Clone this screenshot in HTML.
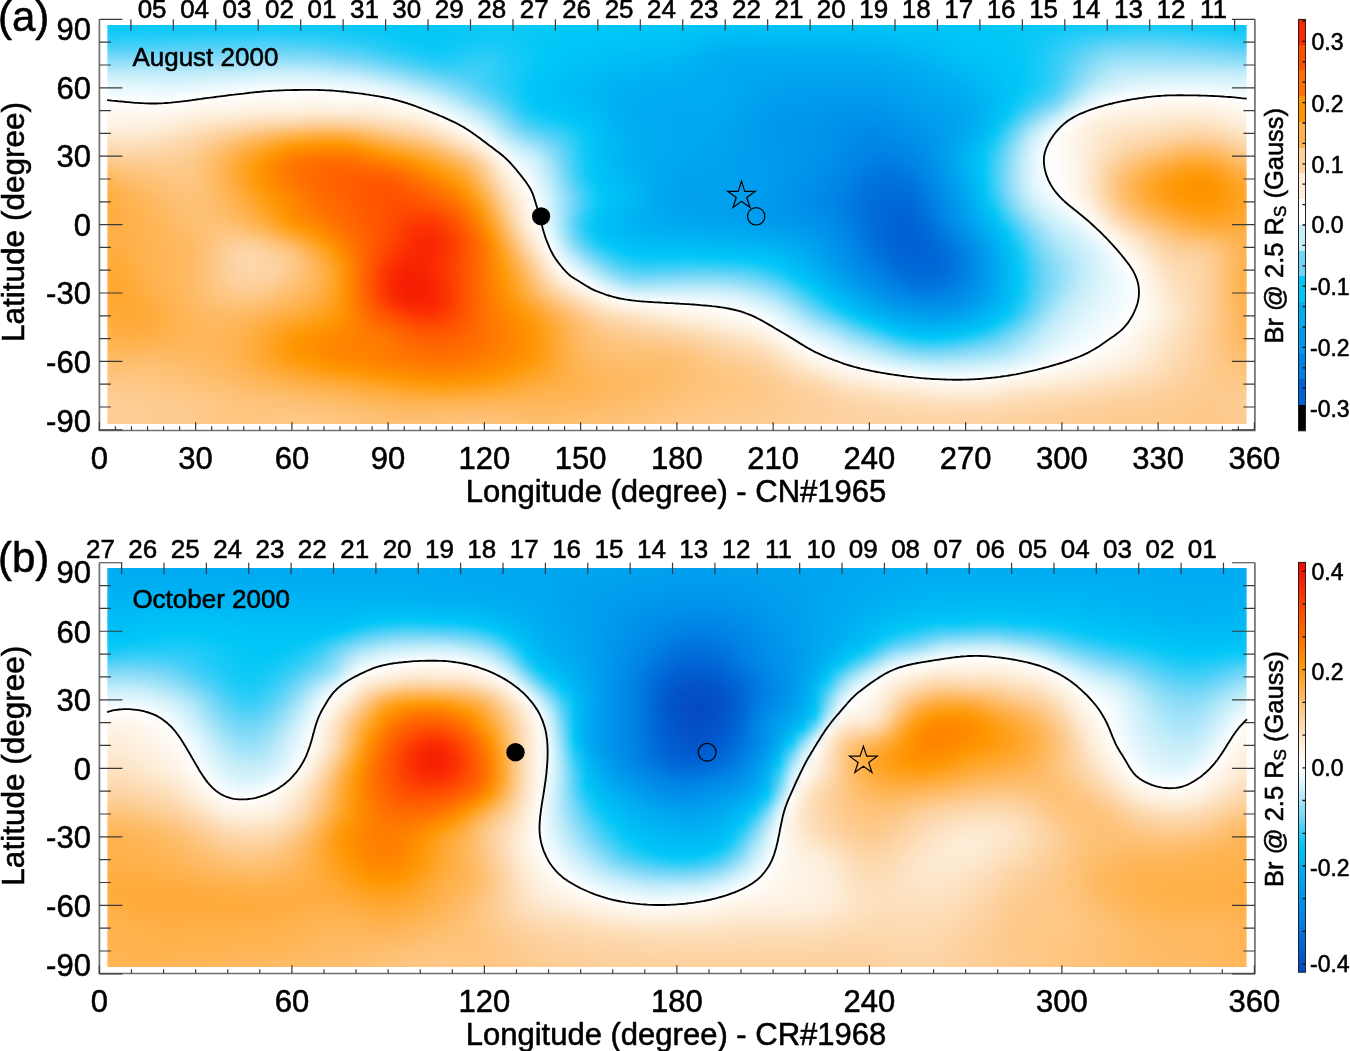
<!DOCTYPE html><html><head><meta charset="utf-8"><style>html,body{margin:0;padding:0;background:#fff}body{width:1350px;height:1051px;overflow:hidden;position:relative;font-family:"Liberation Sans",Arial,Helvetica,sans-serif}.map{position:absolute;overflow:hidden}.rows{filter:blur(1.2px)}.rows i{display:block;height:var(--rh)}.cb{position:absolute}svg{position:absolute;left:0;top:0}text{fill:#000;stroke:#000;stroke-width:.55px}</style></head><body><div class="map" style="left:107.2px;top:25.4px;width:1139.8px;height:398.6px"><div class="rows" style="--rh:3px;margin-top:-3px"><i style="background:linear-gradient(90deg,#06c8f7,#06c8f7,#06c8f7,#07c8f7,#08c8f7,#08c8f7,#09c8f7,#09c8f7,#09c8f7,#0ac8f7,#0ac8f7,#0bc8f7,#0bc8f7,#0bc8f7,#0bc8f7,#0bc8f7,#0bc8f7,#0ac8f7,#09c8f7,#09c8f7,#07c8f7,#06c8f7,#05c8f7,#05c8f7,#03c7f7,#01c7f7,#01c7f7,#03c7f7,#05c8f7,#07c8f7,#09c8f7,#0cc8f7,#0ec9f7,#0fc9f7,#0ec9f7,#0dc9f7,#0bc8f7,#08c8f7,#06c8f7,#04c8f7,#03c7f7,#03c7f7,#03c7f7,#03c7f7,#02c7f7,#01c7f7,#00c7f7,#00c6f7,#00c5f7,#00c5f7,#00c4f6,#00c4f6,#00c4f6,#00c3f6,#00c3f6,#00c4f6,#00c4f6,#00c4f6,#00c4f6,#00c4f6,#00c4f6,#00c4f6,#00c5f7,#00c6f7,#00c6f7,#00c5f7,#00c5f7,#00c5f7,#00c5f7,#00c5f7,#00c6f7,#00c6f7,#00c6f7,#00c7f7,#02c7f7,#04c7f7,#04c8f7,#05c8f7,#06c8f7,#08c8f7,#0ac8f7,#0dc9f7,#0ec9f7,#0fc9f7,#10c9f7,#12c9f7,#12c9f7,#11c9f7,#10c9f7,#10c9f7,#0fc9f7,#0dc9f7,#0bc8f7,#09c8f7,#08c8f7,#07c8f7)"></i><i style="background:linear-gradient(90deg,#09c8f7,#0ac8f7,#0ac8f7,#0bc8f7,#0cc9f7,#0dc9f7,#0dc9f7,#0ec9f7,#0ec9f7,#0fc9f7,#0fc9f7,#10c9f7,#10c9f7,#11c9f7,#11c9f7,#10c9f7,#10c9f7,#0fc9f7,#0ec9f7,#0cc9f7,#0bc8f7,#09c8f7,#08c8f7,#06c8f7,#04c7f7,#02c7f7,#01c7f7,#03c7f7,#05c8f7,#07c8f7,#09c8f7,#0cc8f7,#0ec9f7,#0fc9f7,#0ec9f7,#0cc9f7,#0ac8f7,#08c8f7,#06c8f7,#04c7f7,#02c7f7,#02c7f7,#01c7f7,#01c7f7,#00c7f7,#00c7f7,#00c6f7,#00c6f7,#00c5f7,#00c4f6,#00c3f6,#00c3f6,#00c2f6,#00c2f6,#00c2f6,#00c2f6,#00c2f6,#00c2f6,#00c2f6,#00c2f6,#00c2f6,#00c3f6,#00c3f6,#00c4f6,#00c4f6,#00c4f6,#00c4f6,#00c4f6,#00c4f6,#00c5f7,#00c5f7,#00c6f7,#00c6f7,#00c7f7,#02c7f7,#04c7f7,#05c8f7,#06c8f7,#08c8f7,#0bc8f7,#0ec9f7,#12c9f7,#15caf7,#16caf7,#18caf7,#1acaf7,#1bcaf7,#1acaf7,#19caf7,#17caf7,#16caf7,#13c9f7,#11c9f7,#0fc9f7,#0cc9f7,#0ac8f7)"></i><i style="background:linear-gradient(90deg,#0ec9f7,#0fc9f7,#10c9f7,#10c9f7,#11c9f7,#13c9f7,#13c9f7,#14c9f7,#14caf7,#15caf7,#16caf7,#17caf7,#17caf7,#18caf7,#18caf7,#17caf7,#16caf7,#15caf7,#13c9f7,#11c9f7,#0fc9f7,#0dc9f7,#0ac8f7,#08c8f7,#05c8f7,#03c7f7,#02c7f7,#03c7f7,#05c8f7,#07c8f7,#0ac8f7,#0cc9f7,#0ec9f7,#0fc9f7,#0ec9f7,#0cc8f7,#09c8f7,#07c8f7,#05c8f7,#02c7f7,#01c7f7,#00c7f7,#00c7f7,#00c7f7,#00c6f7,#00c6f7,#00c6f7,#00c5f7,#00c4f6,#00c3f6,#00c2f6,#00c1f6,#00c0f6,#00c0f6,#00c0f6,#00c0f6,#00c0f6,#00c0f6,#00c0f6,#00c0f6,#00c1f6,#00c1f6,#00c2f6,#00c2f6,#00c2f6,#00c3f6,#00c3f6,#00c3f6,#00c4f6,#00c4f6,#00c5f7,#00c6f7,#00c6f7,#00c7f7,#02c7f7,#04c7f7,#05c8f7,#07c8f7,#0ac8f7,#0ec9f7,#13c9f7,#18caf7,#1ccbf7,#1fcbf7,#22cbf7,#24cbf7,#25ccf7,#24ccf7,#23cbf7,#21cbf7,#1ecbf7,#1ccaf7,#19caf7,#16caf7,#12c9f7,#0fc9f7)"></i><i style="background:linear-gradient(90deg,#14c9f7,#15caf7,#16caf7,#17caf7,#18caf7,#1acaf7,#1bcaf7,#1bcaf7,#1ccaf7,#1dcbf7,#1ecbf7,#1fcbf7,#1fcbf7,#20cbf7,#20cbf7,#1fcbf7,#1ecbf7,#1dcbf7,#1acaf7,#17caf7,#14caf7,#11c9f7,#0ec9f7,#0bc8f7,#07c8f7,#04c7f7,#03c7f7,#04c7f7,#06c8f7,#08c8f7,#0bc8f7,#0dc9f7,#0fc9f7,#10c9f7,#0ec9f7,#0bc8f7,#08c8f7,#06c8f7,#03c7f7,#01c7f7,#00c7f7,#00c7f7,#00c6f7,#00c6f7,#00c6f7,#00c5f7,#00c5f7,#00c4f6,#00c3f6,#00c2f6,#00c0f6,#00bff5,#00bef5,#00bef5,#00bef5,#00bef5,#00bef5,#00bef5,#00bef5,#00bef5,#00bef5,#00bff5,#00bff5,#00c0f6,#00c0f6,#00c1f6,#00c1f6,#00c2f6,#00c2f6,#00c3f6,#00c4f6,#00c5f7,#00c6f7,#00c7f7,#01c7f7,#03c7f7,#06c8f7,#08c8f7,#0cc9f7,#12c9f7,#19caf7,#1fcbf7,#25ccf7,#29ccf7,#2dcdf7,#2fcdf7,#30cdf7,#30cdf7,#2fcdf7,#2cccf7,#29ccf7,#25ccf7,#22cbf7,#1ecbf7,#1acaf7,#15caf7)"></i><i style="background:linear-gradient(90deg,#1bcaf7,#1dcbf7,#1fcbf7,#1ecbf7,#20cbf7,#22cbf7,#23cbf7,#23cbf7,#24ccf7,#26ccf7,#27ccf7,#28ccf7,#29ccf7,#2accf7,#29ccf7,#28ccf7,#27ccf7,#25ccf7,#22cbf7,#1ecbf7,#1bcaf7,#17caf7,#13c9f7,#0ec9f7,#09c8f7,#06c8f7,#04c7f7,#04c8f7,#06c8f7,#09c8f7,#0cc8f7,#0ec9f7,#10c9f7,#11c9f7,#0ec9f7,#0bc8f7,#07c8f7,#05c8f7,#02c7f7,#00c7f7,#00c6f7,#00c6f7,#00c6f7,#00c5f7,#00c5f7,#00c5f7,#00c4f6,#00c3f6,#00c2f6,#00c0f6,#00bef5,#00bdf5,#00bcf5,#00bbf5,#00bcf5,#00bcf5,#00bcf5,#00bcf5,#00bcf5,#00bcf5,#00bcf5,#00bdf5,#00bdf5,#00bef5,#00bef5,#00bff5,#00bff5,#00c0f6,#00c1f6,#00c2f6,#00c4f6,#00c5f7,#00c6f7,#00c7f7,#01c7f7,#03c7f7,#06c8f7,#09c8f7,#0fc9f7,#16caf7,#1fcbf7,#27ccf7,#2ecdf7,#35cef7,#39cef7,#3ccef7,#3dcff7,#3dcff7,#3bcef7,#38cef7,#34cef7,#30cdf7,#2ccdf7,#28ccf7,#22cbf7,#1dcbf7)"></i><i style="background:linear-gradient(90deg,#24cbf7,#27ccf7,#28ccf7,#28ccf7,#29ccf7,#2ccdf7,#2dcdf7,#2dcdf7,#2ecdf7,#31cdf7,#32cdf7,#32cdf7,#33cdf7,#34cef7,#34cef7,#33cdf7,#31cdf7,#2fcdf7,#2cccf7,#27ccf7,#22cbf7,#1ecbf7,#18caf7,#12c9f7,#0cc9f7,#08c8f7,#06c8f7,#05c8f7,#07c8f7,#0ac8f7,#0ec9f7,#10c9f7,#12c9f7,#12c9f7,#0fc9f7,#0ac8f7,#06c8f7,#03c7f7,#01c7f7,#00c7f7,#00c6f7,#00c5f7,#00c5f7,#00c5f7,#00c4f6,#00c4f6,#00c3f6,#00c2f6,#00c1f6,#00bff5,#00bcf5,#00baf4,#00b9f4,#00b9f4,#00b9f4,#00b9f4,#00baf4,#00baf4,#00baf4,#00baf4,#00baf4,#00baf4,#00bbf5,#00bbf5,#00bcf5,#00bdf5,#00bef5,#00bff5,#00c0f6,#00c1f6,#00c3f6,#00c5f7,#00c6f7,#00c6f7,#00c7f7,#03c7f7,#06c8f7,#0bc8f7,#12c9f7,#1bcaf7,#25ccf7,#2fcdf7,#39cef7,#41cff7,#46d0f7,#49d0f7,#4bd0f7,#4bd0f7,#49d0f7,#45d0f7,#40cff7,#3ccef7,#38cef7,#33cdf7,#2dcdf7,#26ccf7)"></i><i style="background:linear-gradient(90deg,#2ecdf7,#31cdf7,#33cdf7,#33cdf7,#34cef7,#37cef7,#38cef7,#38cef7,#3acef7,#3ccff7,#3dcff7,#3ecff7,#3fcff7,#40cff7,#40cff7,#3ecff7,#3dcff7,#3acef7,#36cef7,#30cdf7,#2bccf7,#26ccf7,#1fcbf7,#17caf7,#10c9f7,#0cc8f7,#08c8f7,#06c8f7,#08c8f7,#0cc8f7,#10c9f7,#13c9f7,#15caf7,#14c9f7,#10c9f7,#0ac8f7,#06c8f7,#02c7f7,#00c7f7,#00c6f7,#00c6f7,#00c5f7,#00c4f6,#00c4f6,#00c3f6,#00c3f6,#00c2f6,#00c1f6,#00c0f6,#00bdf5,#00baf4,#00b8f4,#00b7f4,#00b7f4,#00b7f4,#00b7f4,#00b7f4,#00b7f4,#00b7f4,#00b7f4,#00b7f4,#00b8f4,#00b8f4,#00b9f4,#00b9f4,#00baf4,#00bcf5,#00bdf5,#00bff5,#00c0f6,#00c2f6,#00c4f6,#00c5f7,#00c6f7,#00c7f7,#02c7f7,#06c8f7,#0cc8f7,#14c9f7,#1fcbf7,#2bccf7,#37cef7,#43cff7,#4dd1f7,#54d2f7,#57d2f7,#58d2f7,#58d2f7,#56d2f7,#52d1f7,#4dd1f7,#49d0f7,#44d0f7,#3fcff7,#38cef7,#31cdf7)"></i><i style="background:linear-gradient(90deg,#3bcef7,#3ecff7,#3fcff7,#3fcff7,#40cff7,#43cff7,#45d0f7,#45d0f7,#46d0f7,#48d0f7,#4ad0f7,#4ad0f7,#4cd0f7,#4dd1f7,#4dd1f7,#4bd0f7,#49d0f7,#46d0f7,#41cff7,#3acef7,#34cef7,#2fcdf7,#27ccf7,#1ecbf7,#16caf7,#10c9f7,#0bc8f7,#08c8f7,#09c8f7,#0ec9f7,#13c9f7,#17caf7,#18caf7,#16caf7,#11c9f7,#0bc8f7,#05c8f7,#02c7f7,#00c7f7,#00c6f7,#00c5f7,#00c4f6,#00c3f6,#00c3f6,#00c2f6,#00c1f6,#00c1f6,#00c0f6,#00bef5,#00bbf5,#00b8f4,#00b6f4,#00b4f3,#00b4f3,#00b4f3,#00b5f3,#00b5f3,#00b5f3,#00b5f3,#00b5f3,#00b5f3,#00b5f3,#00b6f4,#00b6f4,#00b7f4,#00b8f4,#00baf4,#00bbf5,#00bdf5,#00bff5,#00c1f6,#00c3f6,#00c5f7,#00c6f7,#00c6f7,#01c7f7,#06c8f7,#0cc9f7,#16caf7,#23cbf7,#31cdf7,#3fcff7,#4dd1f7,#5ad2f7,#62d3f7,#65d4f7,#66d4f7,#66d4f7,#64d3f7,#60d3f7,#5bd2f7,#56d2f7,#51d1f7,#4cd0f7,#44d0f7,#3dcff7)"></i><i style="background:linear-gradient(90deg,#48d0f7,#4bd0f7,#4dd1f7,#4dd1f7,#4ed1f7,#51d1f7,#52d1f7,#52d1f7,#54d1f7,#56d2f7,#57d2f7,#57d2f7,#59d2f7,#5bd2f7,#5ad2f7,#58d2f7,#56d2f7,#54d1f7,#4ed1f7,#46d0f7,#3fcff7,#39cef7,#30cdf7,#25ccf7,#1ccbf7,#15caf7,#0fc9f7,#0bc8f7,#0bc8f7,#10c9f7,#17caf7,#1ccaf7,#1ccbf7,#19caf7,#12c9f7,#0bc8f7,#05c8f7,#01c7f7,#00c6f7,#00c5f7,#00c5f7,#00c3f6,#00c2f6,#00c2f6,#00c1f6,#00c0f6,#00bff5,#00bef5,#00bdf5,#00baf4,#00b6f4,#00b4f3,#00b2f3,#00b2f3,#00b2f3,#00b2f3,#00b3f3,#00b3f3,#00b3f3,#00b3f3,#00b3f3,#00b3f3,#00b3f3,#00b4f3,#00b5f3,#00b6f4,#00b8f4,#00b9f4,#00bbf5,#00bef5,#00c0f6,#00c3f6,#00c4f6,#00c5f7,#00c6f7,#00c7f7,#05c8f7,#0dc9f7,#18caf7,#26ccf7,#36cef7,#47d0f7,#57d2f7,#66d4f7,#6fd5f7,#72d6f7,#73d6f7,#73d6f7,#71d5f7,#6dd5f7,#68d4f7,#64d3f7,#5fd3f7,#59d2f7,#52d1f7,#4bd0f7)"></i><i style="background:linear-gradient(90deg,#58d2f7,#5ad2f7,#5cd2f7,#5cd2f7,#5dd3f7,#5fd3f7,#60d3f7,#61d3f7,#62d3f7,#64d3f7,#65d4f7,#65d4f7,#67d4f7,#69d4f7,#69d4f7,#66d4f7,#64d4f7,#62d3f7,#5cd2f7,#53d1f7,#4bd0f7,#45d0f7,#3bcef7,#2fcdf7,#24ccf7,#1ccbf7,#15caf7,#0fc9f7,#0ec9f7,#14c9f7,#1bcaf7,#21cbf7,#20cbf7,#1bcaf7,#14c9f7,#0cc9f7,#05c8f7,#00c7f7,#00c6f7,#00c5f7,#00c4f6,#00c3f6,#00c2f6,#00c1f6,#00c0f6,#00bff5,#00bef5,#00bdf5,#00bbf5,#00b8f4,#00b5f3,#00b2f3,#00b0f2,#00b0f2,#00b0f2,#00b0f2,#00b0f2,#00b1f3,#00b1f3,#00b1f3,#00b1f3,#00b1f3,#00b1f3,#00b2f3,#00b2f3,#00b4f3,#00b6f4,#00b8f4,#00baf4,#00bcf5,#00bff5,#00c2f6,#00c4f6,#00c5f7,#00c6f7,#00c7f7,#05c8f7,#0dc9f7,#1acaf7,#2accf7,#3bcef7,#4ed1f7,#61d3f7,#72d5f7,#7ad8f7,#7cd8f7,#7dd9f7,#7cd9f7,#7bd8f7,#78d7f7,#75d6f7,#71d5f7,#6dd5f7,#68d4f7,#61d3f7,#5ad2f7)"></i><i style="background:linear-gradient(90deg,#68d4f7,#6ad4f7,#6bd4f7,#6cd4f7,#6cd5f7,#6ed5f7,#6fd5f7,#70d5f7,#71d5f7,#72d6f7,#73d6f7,#73d6f7,#75d6f7,#76d7f7,#76d7f7,#74d6f7,#73d6f7,#71d5f7,#6bd4f7,#61d3f7,#59d2f7,#52d1f7,#47d0f7,#39cef7,#2ecdf7,#25ccf7,#1bcaf7,#13c9f7,#12c9f7,#18caf7,#20cbf7,#26ccf7,#25ccf7,#1ecbf7,#15caf7,#0dc9f7,#05c8f7,#00c7f7,#00c5f7,#00c4f6,#00c3f6,#00c2f6,#00c0f6,#00bff5,#00bef5,#00bef5,#00bdf5,#00bbf5,#00b9f4,#00b6f4,#00b3f3,#00b0f2,#00aef2,#00aef2,#00aef2,#00aef2,#00aff2,#00aff2,#00aff2,#00aff2,#00aff2,#00aff2,#00aff2,#00aff2,#00b0f2,#00b2f3,#00b4f3,#00b6f4,#00b8f4,#00bbf5,#00bef5,#00c1f6,#00c3f6,#00c4f6,#00c5f7,#00c6f7,#04c8f7,#0ec9f7,#1bcaf7,#2ccdf7,#40cff7,#55d2f7,#6bd4f7,#7ad8f7,#83daf8,#86dbf8,#87dbf8,#86dbf8,#84dbf8,#82daf8,#7fd9f8,#7cd8f7,#79d8f7,#75d6f7,#70d5f7,#6ad4f7)"></i><i style="background:linear-gradient(90deg,#77d7f7,#78d7f7,#79d8f7,#79d8f7,#7ad8f7,#7bd8f7,#7bd8f7,#7cd8f7,#7dd9f7,#7ed9f7,#7ed9f8,#7fd9f8,#81daf8,#83daf8,#82daf8,#80daf8,#7fd9f8,#7dd9f7,#78d7f7,#70d5f7,#68d4f7,#60d3f7,#55d2f7,#46d0f7,#39cef7,#2fcdf7,#24cbf7,#1acaf7,#17caf7,#1dcbf7,#25ccf7,#2bccf7,#29ccf7,#21cbf7,#17caf7,#0ec9f7,#05c8f7,#00c6f7,#00c5f7,#00c4f6,#00c2f6,#00c1f6,#00bff5,#00bef5,#00bdf5,#00bcf5,#00bbf5,#00baf4,#00b8f4,#00b5f3,#00b1f3,#00aef2,#00adf2,#00adf2,#00adf2,#00adf2,#00adf2,#00adf2,#00adf2,#00adf2,#00adf2,#00adf2,#00adf2,#00adf2,#00aef2,#00b0f2,#00b2f3,#00b4f3,#00b6f4,#00b9f4,#00bcf5,#00bff5,#00c2f6,#00c3f6,#00c5f7,#00c6f7,#03c7f7,#0ec9f7,#1ccaf7,#2fcdf7,#44d0f7,#5cd2f7,#73d6f7,#83daf8,#8dddf8,#90def8,#90def8,#8fdef8,#8eddf8,#8cddf8,#8adcf8,#87dcf8,#85dbf8,#81daf8,#7cd8f7,#79d7f7)"></i><i style="background:linear-gradient(90deg,#85dbf8,#85dbf8,#86dbf8,#87dbf8,#87dbf8,#87dbf8,#87dcf8,#88dcf8,#89dcf8,#8adcf8,#8bdcf8,#8bddf8,#8dddf8,#8fdef8,#8fdef8,#8dddf8,#8cddf8,#8adcf8,#85dbf8,#7dd9f7,#76d7f7,#70d5f7,#64d3f7,#54d1f7,#46d0f7,#3acef7,#2dcdf7,#22cbf7,#1ecbf7,#23cbf7,#2bccf7,#30cdf7,#2dcdf7,#23cbf7,#18caf7,#0ec9f7,#05c8f7,#00c6f7,#00c4f6,#00c3f6,#00c2f6,#00c0f6,#00bef5,#00bdf5,#00bcf5,#00bbf5,#00baf4,#00b8f4,#00b6f4,#00b3f3,#00b0f2,#00adf2,#00acf1,#00abf1,#00abf1,#00abf1,#00abf1,#00abf1,#00abf1,#00abf1,#00abf1,#00abf1,#00abf1,#00acf1,#00acf2,#00aef2,#00b0f2,#00b2f3,#00b5f3,#00b8f4,#00bbf5,#00bef5,#00c1f6,#00c2f6,#00c4f6,#00c6f7,#03c7f7,#0ec9f7,#1ccbf7,#30cdf7,#48d0f7,#62d3f7,#79d8f7,#8bddf8,#96e0f8,#99e1f8,#99e1f8,#99e0f8,#98e0f8,#96e0f8,#94dff8,#93dff8,#90def8,#8cddf8,#89dcf8,#86dbf8)"></i><i style="background:linear-gradient(90deg,#92dff8,#92dff8,#93dff8,#94dff8,#94dff8,#93dff8,#94dff8,#95dff8,#96e0f8,#96e0f8,#97e0f8,#98e0f8,#9ae1f8,#9de2f9,#9de2f9,#9be1f9,#9ae1f8,#98e0f8,#93dff8,#8bddf8,#84dbf8,#7dd9f7,#73d6f7,#64d3f7,#54d2f7,#47d0f7,#39cef7,#2cccf7,#26ccf7,#2accf7,#30cdf7,#34cef7,#30cdf7,#24ccf7,#19caf7,#0ec9f7,#04c7f7,#00c6f7,#00c4f6,#00c2f6,#00c1f6,#00bff5,#00bdf5,#00bcf5,#00baf4,#00b9f4,#00b8f4,#00b7f4,#00b5f3,#00b2f3,#00aff2,#00acf1,#00abf1,#00aaf1,#00aaf1,#00aaf1,#00aaf1,#00aaf1,#00aaf1,#00aaf1,#00aaf1,#00aaf1,#00aaf1,#00aaf1,#00abf1,#00acf2,#00aef2,#00b0f2,#00b3f3,#00b6f4,#00b9f4,#00bdf5,#00bff5,#00c1f6,#00c3f6,#00c5f7,#02c7f7,#0dc9f7,#1dcbf7,#32cdf7,#4cd0f7,#68d4f7,#7fd9f8,#92dff8,#9ee2f9,#a2e3f9,#a3e3f9,#a2e3f9,#a1e3f9,#a0e3f9,#9fe2f9,#9ee2f9,#9be1f9,#98e0f8,#95e0f8,#93dff8)"></i><i style="background:linear-gradient(90deg,#a0e3f9,#a0e2f9,#a0e3f9,#a1e3f9,#a1e3f9,#9fe2f9,#a0e2f9,#a1e3f9,#a2e3f9,#a3e3f9,#a4e4f9,#a5e4f9,#a8e5f9,#aae5f9,#aae5f9,#a9e5f9,#a8e5f9,#a7e4f9,#a2e3f9,#9ae1f8,#92dff8,#8bddf8,#81daf8,#74d6f7,#65d4f7,#56d2f7,#46d0f7,#37cef7,#30cdf7,#31cdf7,#36cef7,#38cef7,#32cdf7,#26ccf7,#19caf7,#0ec9f7,#03c7f7,#00c5f7,#00c3f6,#00c1f6,#00c0f6,#00bef5,#00bcf5,#00baf4,#00b9f4,#00b8f4,#00b6f4,#00b5f3,#00b3f3,#00b1f3,#00aef2,#00abf1,#00aaf1,#00a9f1,#00a9f1,#00a9f1,#00a9f1,#00a9f1,#00a9f1,#00a8f1,#00a8f1,#00a8f0,#00a8f0,#00a8f1,#00a9f1,#00abf1,#00acf2,#00aef2,#00b1f3,#00b4f3,#00b8f4,#00bbf5,#00bef5,#00c0f6,#00c3f6,#00c5f7,#01c7f7,#0dc9f7,#1dcbf7,#33cdf7,#4fd1f7,#6dd5f7,#85dbf8,#9ae1f8,#a6e4f9,#abe6f9,#ace6f9,#abe6f9,#abe6f9,#aae5f9,#aae5f9,#a9e5f9,#a7e5f9,#a4e4f9,#a2e3f9,#a1e3f9)"></i><i style="background:linear-gradient(90deg,#ade6f9,#ade6f9,#ade6f9,#aee6f9,#ade6f9,#ace6f9,#ace6f9,#aee6f9,#afe7f9,#afe7f9,#b0e7f9,#b2e8f9,#b5e8f9,#b8e9fa,#b8e9fa,#b7e9fa,#b6e9f9,#b5e9f9,#b0e7f9,#a9e5f9,#a2e3f9,#9ae1f8,#8fdef8,#82daf8,#75d6f7,#67d4f7,#55d2f7,#45d0f7,#3ccef7,#3acef7,#3bcef7,#3bcef7,#33cdf7,#26ccf7,#19caf7,#0dc9f7,#01c7f7,#00c5f7,#00c2f6,#00c0f6,#00bff5,#00bcf5,#00bbf5,#00b9f4,#00b8f4,#00b6f4,#00b5f3,#00b4f3,#00b2f3,#00b0f2,#00adf2,#00abf1,#00a9f1,#00a9f1,#00a8f1,#00a8f0,#00a8f0,#00a7f0,#00a7f0,#00a7f0,#00a7f0,#00a7f0,#00a7f0,#00a7f0,#00a8f0,#00a9f1,#00abf1,#00adf2,#00aff2,#00b2f3,#00b6f4,#00b9f4,#00bcf5,#00bff5,#00c2f6,#00c5f7,#01c7f7,#0dc9f7,#1dcbf7,#34cef7,#51d1f7,#72d6f7,#8bddf8,#a0e3f9,#aee6f9,#b3e8f9,#b5e8f9,#b5e8f9,#b5e8f9,#b5e8f9,#b4e8f9,#b4e8f9,#b2e8f9,#b0e7f9,#aee7f9,#aee6f9)"></i><i style="background:linear-gradient(90deg,#baeafa,#b9eafa,#baeafa,#bbeafa,#b9eafa,#b8e9fa,#b8e9fa,#baeafa,#bbeafa,#bceafa,#bdebfa,#bfebfa,#c3ecfa,#c5edfa,#c6edfa,#c5edfa,#c5edfa,#c4edfa,#c0ecfa,#b8e9fa,#b1e7f9,#aae5f9,#9fe2f9,#91def8,#83daf8,#76d7f7,#66d4f7,#54d2f7,#49d0f7,#44cff7,#41cff7,#3dcff7,#34cef7,#27ccf7,#19caf7,#0cc9f7,#00c7f7,#00c4f6,#00c2f6,#00bff5,#00bdf5,#00bbf5,#00b9f4,#00b8f4,#00b6f4,#00b5f3,#00b4f3,#00b2f3,#00b1f3,#00aff2,#00adf2,#00aaf1,#00a9f1,#00a8f0,#00a8f0,#00a7f0,#00a7f0,#00a6f0,#00a6f0,#00a6f0,#00a6f0,#00a5f0,#00a5f0,#00a6f0,#00a6f0,#00a8f0,#00a9f1,#00abf1,#00aef2,#00b1f3,#00b4f3,#00b8f4,#00bbf5,#00bef5,#00c1f6,#00c4f6,#01c7f7,#0dc9f7,#1ecbf7,#35cef7,#54d2f7,#76d7f7,#91def8,#a7e5f9,#b5e9f9,#bceafa,#beebfa,#bfebfa,#bfebfa,#bfebfa,#bfebfa,#bfebfa,#beebfa,#bceafa,#bbeafa,#bbeafa)"></i><i style="background:linear-gradient(90deg,#c6edfa,#c5edfa,#c6edfa,#c6edfa,#c5edfa,#c3ecfa,#c3ecfa,#c5edfa,#c6edfa,#c7eefa,#c8eefa,#caeffa,#cceffb,#cff0fb,#d0f0fb,#cff0fb,#cff0fb,#cff0fb,#cceffb,#c7eefa,#c1ecfa,#b9eafa,#aee7f9,#a1e3f9,#92dff8,#85dbf8,#76d7f7,#65d4f7,#57d2f7,#4ed1f7,#48d0f7,#40cff7,#35cef7,#27ccf7,#18caf7,#0bc8f7,#00c6f7,#00c3f6,#00c1f6,#00bef5,#00bcf5,#00baf4,#00b8f4,#00b6f4,#00b5f3,#00b4f3,#00b2f3,#00b1f3,#00b0f2,#00aef2,#00acf1,#00aaf1,#00a9f1,#00a8f0,#00a7f0,#00a6f0,#00a6f0,#00a5f0,#00a5f0,#00a5f0,#00a4ef,#00a4ef,#00a4ef,#00a4ef,#00a5f0,#00a6f0,#00a8f0,#00aaf1,#00acf2,#00aff2,#00b3f3,#00b6f4,#00b9f4,#00bdf5,#00c0f6,#00c4f6,#00c7f7,#0ec9f7,#1ecbf7,#36cef7,#57d2f7,#7bd8f7,#97e0f8,#aee6f9,#bdebfa,#c4edfa,#c6edfa,#c7eefa,#c8eefa,#c8eefa,#c9eefa,#c8eefa,#c8eefa,#c7eefa,#c6edfa,#c6edfa)"></i><i style="background:linear-gradient(90deg,#cef0fb,#cdf0fb,#cdf0fb,#cef0fb,#cdeffb,#cbeffb,#cbeffb,#cdeffb,#cef0fb,#cff0fb,#d1f1fb,#d3f1fb,#d5f2fb,#d8f3fc,#d9f3fc,#d9f3fc,#d9f3fc,#d8f3fc,#d6f2fb,#d2f1fb,#cdf0fb,#c8eefa,#bfebfa,#b1e7f9,#a2e3f9,#94dff8,#84dbf8,#75d6f7,#66d4f7,#5ad2f7,#4fd1f7,#43cff7,#36cef7,#27ccf7,#18caf7,#0ac8f7,#00c6f7,#00c3f6,#00c0f6,#00bdf5,#00bbf5,#00b9f4,#00b7f4,#00b5f3,#00b4f3,#00b2f3,#00b1f3,#00b0f2,#00aff2,#00adf2,#00acf1,#00aaf1,#00a9f1,#00a7f0,#00a6f0,#00a6f0,#00a5f0,#00a4ef,#00a4ef,#00a3ef,#00a3ef,#00a3ef,#00a3ef,#00a3ef,#00a4ef,#00a5f0,#00a7f0,#00a8f1,#00abf1,#00aef2,#00b1f3,#00b4f3,#00b8f4,#00bcf5,#00c0f6,#00c4f6,#00c7f7,#0ec9f7,#1fcbf7,#38cef7,#5bd2f7,#80d9f8,#9de2f9,#b5e8f9,#c4edfa,#caeffa,#cdeffb,#cef0fb,#cff0fb,#d0f0fb,#d0f0fb,#d0f0fb,#cff0fb,#cff0fb,#cef0fb,#cef0fb)"></i><i style="background:linear-gradient(90deg,#d6f2fb,#d5f2fb,#d5f2fb,#d5f2fb,#d4f2fb,#d2f1fb,#d3f1fb,#d5f2fb,#d6f2fb,#d7f3fc,#d9f3fc,#dbf4fc,#def5fc,#e1f6fc,#e2f6fc,#e2f6fc,#e2f6fc,#e2f6fc,#e0f5fc,#dcf4fc,#d8f3fc,#d3f1fb,#cceffb,#c1ecfa,#b2e8f9,#a3e3f9,#93dff8,#83daf8,#75d6f7,#66d4f7,#56d2f7,#47d0f7,#37cef7,#28ccf7,#18caf7,#08c8f7,#00c6f7,#00c2f6,#00bff5,#00bdf5,#00baf4,#00b8f4,#00b6f4,#00b4f3,#00b2f3,#00b1f3,#00b0f2,#00aff2,#00aef2,#00adf2,#00abf1,#00aaf1,#00a9f1,#00a7f0,#00a6f0,#00a5f0,#00a4ef,#00a3ef,#00a3ef,#00a2ef,#00a2ef,#00a1ef,#00a1ef,#00a2ef,#00a2ef,#00a4ef,#00a5f0,#00a7f0,#00a9f1,#00acf2,#00aff2,#00b3f3,#00b6f4,#00baf4,#00bff5,#00c3f6,#01c7f7,#0fc9f7,#21cbf7,#3acef7,#5fd3f7,#85dbf8,#a4e4f9,#bceafa,#caeefa,#d0f0fb,#d4f2fb,#d6f2fb,#d7f3fc,#d8f3fc,#d8f3fc,#d8f3fc,#d7f3fc,#d6f2fc,#d6f2fb,#d6f2fb)"></i><i style="background:linear-gradient(90deg,#ddf4fc,#dcf4fc,#dcf4fc,#dcf4fc,#dbf4fc,#d9f3fc,#daf3fc,#dcf4fc,#def5fc,#dff5fc,#e1f6fc,#e4f6fd,#e6f7fd,#e9f8fd,#eaf9fd,#eaf9fd,#ebf9fd,#ebf9fd,#e9f8fd,#e5f7fd,#e2f6fc,#ddf4fc,#d6f2fb,#cdf0fb,#c3ecfa,#b3e8f9,#a2e3f9,#92def8,#81daf8,#72d6f7,#5fd3f7,#4cd0f7,#3acef7,#29ccf7,#18caf7,#07c8f7,#00c5f7,#00c2f6,#00bff5,#00bcf5,#00b9f4,#00b7f4,#00b5f3,#00b3f3,#00b1f3,#00b0f2,#00aff2,#00aef2,#00adf2,#00acf2,#00abf1,#00aaf1,#00a9f1,#00a7f0,#00a5f0,#00a4ef,#00a3ef,#00a2ef,#00a1ef,#00a1ef,#00a1ef,#00a0ee,#00a0ee,#00a0ee,#00a1ef,#00a2ef,#00a4ef,#00a6f0,#00a8f0,#00abf1,#00aef2,#00b1f3,#00b5f3,#00b9f4,#00bef5,#00c3f6,#01c7f7,#11c9f7,#23cbf7,#3dcff7,#65d4f7,#8bddf8,#ace6f9,#c4edfa,#cff0fb,#d6f2fb,#dbf4fc,#ddf4fc,#dff5fc,#e0f5fc,#e0f5fc,#dff5fc,#dff5fc,#def5fc,#ddf5fc,#ddf4fc)"></i><i style="background:linear-gradient(90deg,#e4f6fd,#e3f6fd,#e2f6fd,#e3f6fd,#e1f6fc,#e0f5fc,#e0f6fc,#e3f6fd,#e5f7fd,#e7f7fd,#e9f8fd,#ebf9fd,#eefafe,#f1fbfe,#f2fbfe,#f2fbfe,#f2fbfe,#f3fbfe,#f2fbfe,#eefafe,#ebf9fd,#e7f8fd,#e1f6fc,#d8f3fc,#cff0fb,#c3ecfa,#b2e8f9,#a0e3f9,#8edef8,#7dd9f7,#69d4f7,#52d1f7,#3ecff7,#2bccf7,#19caf7,#06c8f7,#00c5f7,#00c1f6,#00bef5,#00bbf5,#00b9f4,#00b6f4,#00b4f3,#00b2f3,#00b0f2,#00aff2,#00aef2,#00adf2,#00acf2,#00acf1,#00abf1,#00aaf1,#00a9f1,#00a6f0,#00a5f0,#00a3ef,#00a2ef,#00a1ef,#00a0ee,#00a0ee,#009fee,#009fee,#009fee,#009fee,#00a0ee,#00a1ef,#00a3ef,#00a5f0,#00a7f0,#00aaf1,#00acf2,#00aff2,#00b3f3,#00b8f4,#00bdf5,#00c3f6,#01c7f7,#13c9f7,#26ccf7,#41cff7,#6bd4f7,#93dff8,#b4e8f9,#caeffa,#d5f2fb,#ddf4fc,#e2f6fc,#e5f7fd,#e7f7fd,#e8f8fd,#e8f8fd,#e8f8fd,#e7f8fd,#e6f7fd,#e5f7fd,#e4f7fd)"></i><i style="background:linear-gradient(90deg,#eaf8fd,#e9f8fd,#e9f8fd,#e9f8fd,#e7f8fd,#e6f7fd,#e7f8fd,#eaf8fd,#ecf9fd,#eefafe,#f0fafe,#f3fbfe,#f6fcfe,#f8fdfe,#f9fdff,#f9fdfe,#fafdff,#fbfeff,#fafdff,#f6fcfe,#f4fbfe,#f0fafe,#ebf9fd,#e3f6fd,#d9f3fc,#cff0fb,#c1ecfa,#afe7f9,#9be1f9,#87dcf8,#73d6f7,#5ad2f7,#43cff7,#2fcdf7,#1acaf7,#06c8f7,#00c5f7,#00c1f6,#00bef5,#00bbf5,#00b8f4,#00b6f4,#00b4f3,#00b1f3,#00aff2,#00aef2,#00adf2,#00acf2,#00acf1,#00abf1,#00abf1,#00aaf1,#00a9f1,#00a6f0,#00a4ef,#00a2ef,#00a1ef,#00a0ee,#009fee,#009fee,#009eee,#009eee,#009eee,#009eee,#009fee,#00a0ee,#00a2ef,#00a4ef,#00a6f0,#00a8f1,#00abf1,#00aef2,#00b2f3,#00b7f4,#00bdf5,#00c2f6,#02c7f7,#16caf7,#2accf7,#47d0f7,#73d6f7,#9be1f9,#beebfa,#d1f1fb,#dcf4fc,#e4f7fd,#e9f8fd,#edf9fd,#effafe,#f0fafe,#f0fafe,#f0fafe,#effafe,#eefafe,#ecf9fd,#ebf9fd)"></i><i style="background:linear-gradient(90deg,#f0fafe,#effafe,#eefafe,#eefafe,#edf9fd,#ecf9fd,#edfafd,#f0fafe,#f3fbfe,#f5fcfe,#f7fdfe,#fafdff,#fdfeff,#ffffff,#fffffe,#ffffff,#fffffe,#fffefd,#fffefe,#feffff,#fbfeff,#f9fdff,#f5fcfe,#edf9fd,#e4f7fd,#d9f3fc,#cdeffb,#bdebfa,#a9e5f9,#93dff8,#7dd9f7,#64d4f7,#4bd0f7,#34cdf7,#1ccbf7,#06c8f7,#00c4f6,#00c1f6,#00bef5,#00bbf5,#00b8f4,#00b6f4,#00b3f3,#00b0f2,#00aef2,#00adf2,#00acf2,#00acf1,#00abf1,#00abf1,#00abf1,#00aaf1,#00a8f1,#00a6f0,#00a3ef,#00a1ef,#00a0ee,#009fee,#009eee,#009eee,#009dee,#009ded,#009ced,#009ded,#009dee,#009fee,#00a0ee,#00a3ef,#00a5f0,#00a7f0,#00aaf1,#00adf2,#00b1f3,#00b6f4,#00bcf5,#00c2f6,#04c7f7,#1acaf7,#30cdf7,#4ed1f7,#7ad8f7,#a5e4f9,#c8eefa,#d8f3fc,#e4f7fd,#ecf9fd,#f1fbfe,#f5fcfe,#f8fdfe,#f8fdfe,#f9fdfe,#f8fdfe,#f7fdfe,#f5fcfe,#f3fbfe,#f1fbfe)"></i><i style="background:linear-gradient(90deg,#f6fcfe,#f5fcfe,#f4fcfe,#f4fbfe,#f3fbfe,#f2fbfe,#f4fcfe,#f7fdfe,#fafdff,#fdfeff,#ffffff,#fffffe,#fffefc,#fffdfa,#fffcf9,#fffdfa,#fffcfa,#fffcf8,#fffcf8,#fffdfb,#fffefc,#fffefd,#feffff,#f7fcfe,#eefafe,#e4f7fd,#d7f3fc,#caeefa,#b6e9f9,#9ee2f9,#87dcf8,#70d5f7,#54d2f7,#3acef7,#1fcbf7,#07c8f7,#00c5f7,#00c1f6,#00bef5,#00bbf5,#00b8f4,#00b6f4,#00b3f3,#00b0f2,#00aef2,#00acf2,#00acf1,#00abf1,#00abf1,#00abf1,#00abf1,#00aaf1,#00a8f0,#00a6f0,#00a3ef,#00a1ee,#009fee,#009eee,#009dee,#009dee,#009ced,#009ced,#009bed,#009bed,#009ced,#009dee,#009fee,#00a2ef,#00a4ef,#00a6f0,#00a8f1,#00abf1,#00b0f2,#00b5f3,#00bcf5,#00c2f6,#06c8f7,#1fcbf7,#38cef7,#58d2f7,#84dbf8,#b0e7f9,#d0f0fb,#e1f6fc,#ecf9fd,#f4fcfe,#f9fdfe,#feffff,#fffffe,#fffefe,#fffefd,#fffefe,#ffffff,#fdfeff,#fafdff,#f7fdfe)"></i><i style="background:linear-gradient(90deg,#fbfeff,#fafdff,#f9fdff,#f9fdfe,#f8fdfe,#f8fdfe,#fafeff,#feffff,#fffefd,#fffdfb,#fffdfa,#fffcf9,#fffbf7,#fffaf5,#fefaf5,#fffbf6,#fffaf5,#fef9f3,#fefaf3,#fffbf6,#fffbf7,#fffbf7,#fffcf9,#fffffe,#f8fdfe,#eefafe,#e2f6fc,#d3f1fb,#c3edfa,#abe6f9,#92dff8,#7ad8f7,#5fd3f7,#41cff7,#23cbf7,#09c8f7,#00c5f7,#00c2f6,#00bff5,#00bcf5,#00b9f4,#00b6f4,#00b2f3,#00aff2,#00adf2,#00acf1,#00abf1,#00aaf1,#00aaf1,#00aaf1,#00aaf1,#00aaf1,#00a8f0,#00a5f0,#00a2ef,#00a0ee,#009eee,#009dee,#009ced,#009ced,#009bed,#009aed,#009aed,#009aed,#009bed,#009ced,#009eee,#00a1ef,#00a3ef,#00a5f0,#00a7f0,#00aaf1,#00aff2,#00b5f3,#00bbf5,#00c2f6,#0ac8f7,#26ccf7,#41cff7,#63d3f7,#8edef8,#bdebfa,#d9f3fc,#eaf8fd,#f5fcfe,#fcfeff,#fffefd,#fffdfa,#fffcf8,#fffcf7,#fffbf7,#fffcf8,#fffcf9,#fffdfb,#fffefe,#fdfeff)"></i><i style="background:linear-gradient(90deg,#fffffe,#ffffff,#feffff,#feffff,#feffff,#ffffff,#fffefe,#fffdfb,#fffcf8,#fffbf6,#fffaf5,#fefaf5,#fef9f2,#fef8f0,#fef8f0,#fef9f1,#fef8f0,#fef7ed,#fef7ee,#fef9f1,#fef9f2,#fef8f1,#fef9f2,#fffcf8,#fffefd,#f8fdfe,#ecf9fd,#ddf5fc,#cdf0fb,#b7e9fa,#9ee2f9,#85dbf8,#6bd4f7,#49d0f7,#28ccf7,#0cc9f7,#00c5f7,#00c2f6,#00c0f6,#00bdf5,#00b9f4,#00b6f4,#00b2f3,#00aff2,#00adf2,#00abf1,#00aaf1,#00aaf1,#00aaf1,#00aaf1,#00aaf1,#00aaf1,#00a8f0,#00a5f0,#00a1ef,#009fee,#009dee,#009ced,#009bed,#009bed,#009aed,#0099ed,#0099ec,#0099ec,#0099ed,#009bed,#009dee,#00a0ee,#00a2ef,#00a4ef,#00a6f0,#00a9f1,#00aef2,#00b4f3,#00bbf5,#00c3f6,#0ec9f7,#2ecdf7,#4cd1f7,#71d5f7,#9be1f9,#c9eefa,#e3f6fd,#f4fcfe,#ffffff,#fffdfb,#fffbf7,#fefaf4,#fef9f2,#fef9f1,#fef9f1,#fef9f1,#fef9f3,#fffbf6,#fffcf9,#fffefc)"></i><i style="background:linear-gradient(90deg,#fffdfb,#fffdfb,#fffefc,#fffefc,#fffefc,#fffdfb,#fffcf9,#fffbf6,#fef9f3,#fef8f1,#fef8f0,#fef8f0,#fef7ed,#fef5ea,#fef5ea,#fef6ec,#fef6eb,#fef4e8,#fef4e8,#fef6eb,#fef6ec,#fef5ea,#fef6ec,#fef9f1,#fffbf6,#fffefc,#f6fcfe,#e7f8fd,#d7f2fc,#c5edfa,#aae5f9,#91def8,#76d7f7,#53d1f7,#2ecdf7,#10c9f7,#00c6f7,#00c3f6,#00c1f6,#00bef5,#00baf4,#00b6f4,#00b3f3,#00aff2,#00acf2,#00abf1,#00aaf1,#00aaf1,#00a9f1,#00aaf1,#00aaf1,#00a9f1,#00a7f0,#00a4ef,#00a1ef,#009eee,#009ced,#009bed,#009bed,#009aed,#0099ed,#0098ec,#0097ec,#0097ec,#0098ec,#0099ed,#009ced,#009fee,#00a1ef,#00a3ef,#00a5f0,#00a8f0,#00adf2,#00b4f3,#00bbf5,#00c3f6,#14caf7,#38cef7,#5ad2f7,#7dd9f7,#a9e5f9,#d3f1fb,#edf9fd,#feffff,#fffcf8,#fefaf4,#fef9f1,#fef7ee,#fef6ec,#fef6eb,#fef6eb,#fef6eb,#fef7ed,#fef8f0,#fefaf5,#fffcf9)"></i><i style="background:linear-gradient(90deg,#fffbf7,#fffcf8,#fffcf8,#fffcf8,#fffcf8,#fffbf6,#fefaf4,#fef8f1,#fef7ee,#fef6eb,#fef5ea,#fef5ea,#fef4e8,#fef3e5,#fef3e5,#fef4e6,#fef3e5,#fef1e1,#fef1e2,#fef3e5,#fef3e5,#fef2e4,#fef3e5,#fef5ea,#fef8f0,#fffaf5,#fffefe,#f2fbfe,#e1f6fc,#cef0fb,#b7e9fa,#9de2f9,#81daf8,#5dd3f7,#36cef7,#15caf7,#00c7f7,#00c4f6,#00c2f6,#00bff5,#00bbf5,#00b7f4,#00b3f3,#00aff2,#00acf2,#00abf1,#00aaf1,#00a9f1,#00a9f1,#00a9f1,#00a9f1,#00a9f1,#00a7f0,#00a4ef,#00a0ee,#009dee,#009bed,#009aed,#009aed,#0099ed,#0098ec,#0097ec,#0096ec,#0096ec,#0096ec,#0098ec,#009bed,#009eee,#00a0ee,#00a2ef,#00a4ef,#00a7f0,#00acf2,#00b3f3,#00bcf5,#00c4f6,#1ccaf7,#44cff7,#69d4f7,#8bddf8,#b9eafa,#def5fc,#f7fdfe,#fffcf8,#fef9f1,#fef7ee,#fef6ec,#fef5e9,#fef4e6,#fef3e6,#fef3e5,#fef3e5,#fef4e7,#fef6eb,#fef8f0,#fefaf5)"></i><i style="background:linear-gradient(90deg,#fefaf4,#fefaf4,#fefaf5,#fefaf4,#fefaf4,#fef9f2,#fef8ef,#fef6eb,#fef4e8,#fef3e5,#fef3e5,#fef3e4,#fef1e1,#fdf0de,#fdf0de,#fdf0e0,#fdf0de,#fdeeda,#fdeeda,#fdefdd,#fdf0de,#fdefdc,#fdf0de,#fef2e3,#fef5e8,#fef7ee,#fffbf6,#fdfeff,#ebf9fd,#d8f3fc,#c4edfa,#aae5f9,#8bddf8,#68d4f7,#3ecff7,#1ccaf7,#06c8f7,#00c6f7,#00c3f6,#00c0f6,#00bcf5,#00b8f4,#00b3f3,#00aff2,#00acf1,#00aaf1,#00aaf1,#00a9f1,#00a9f1,#00a9f1,#00a9f1,#00a8f1,#00a6f0,#00a3ef,#009fee,#009ced,#009aed,#0099ed,#0099ed,#0098ec,#0097ec,#0096ec,#0095eb,#0094eb,#0095eb,#0096ec,#0099ed,#009ded,#009fee,#00a1ef,#00a3ef,#00a6f0,#00acf1,#00b3f3,#00bcf5,#00c6f7,#25ccf7,#51d1f7,#78d7f7,#9be1f9,#c8eefa,#e9f8fd,#fffefd,#fef9f1,#fef6eb,#fef4e8,#fef3e6,#fef2e3,#fef1e1,#fdf1e0,#fdf0df,#fdf0df,#fef1e1,#fef3e6,#fef6eb,#fef8f1)"></i><i style="background:linear-gradient(90deg,#fef8f0,#fef8f1,#fef8f1,#fef8f0,#fef8ef,#fef7ed,#fef5ea,#fef3e6,#fef2e2,#fdf0df,#fdf0de,#fdefdd,#fdeeda,#fdecd7,#fdecd6,#fdedd8,#fdecd5,#fde9cf,#fde9cf,#fdebd4,#fdebd5,#fdebd3,#fdecd6,#fdefdc,#fef1e1,#fef3e6,#fef7ee,#fffcf9,#f6fcfe,#e2f6fc,#cef0fb,#b6e9f9,#96e0f8,#72d6f7,#47d0f7,#24cbf7,#0dc9f7,#01c7f7,#00c5f7,#00c2f6,#00bef5,#00b9f4,#00b4f3,#00aff2,#00acf2,#00aaf1,#00a9f1,#00a9f1,#00a9f1,#00a9f1,#00a9f1,#00a8f0,#00a6f0,#00a2ef,#009fee,#009bed,#009aed,#0099ec,#0098ec,#0098ec,#0097ec,#0095eb,#0094eb,#0093ea,#0093eb,#0095eb,#0098ec,#009bed,#009eee,#00a0ee,#00a2ef,#00a6f0,#00abf1,#00b3f3,#00bdf5,#01c7f7,#30cdf7,#60d3f7,#86dbf8,#abe6f9,#d4f2fb,#f4fcfe,#fffbf6,#fef6eb,#fef3e4,#fef2e2,#fef1e1,#fdf0de,#fdefdc,#fdeedb,#fdeeda,#fdeeda,#fdefdc,#fef1e1,#fef4e7,#fef6ed)"></i><i style="background:linear-gradient(90deg,#fef6ec,#fef7ed,#fef7ed,#fef6ec,#fef6eb,#fef4e8,#fef3e5,#fdf1e0,#fdefdc,#fdedd9,#fdedd7,#fdecd6,#fdead2,#fde7cc,#fde6cb,#fde7cb,#fde5c8,#fde2c2,#fde2c2,#fde4c6,#fde5c7,#fde4c6,#fde6ca,#fdead3,#fdedd9,#fdf0de,#fef3e6,#fef8f1,#fffefe,#ecf9fd,#d7f3fc,#c3ecfa,#a1e3f9,#7cd8f7,#51d1f7,#2dcdf7,#16caf7,#09c8f7,#00c7f7,#00c4f6,#00bff5,#00baf4,#00b4f3,#00b0f2,#00acf2,#00aaf1,#00a9f1,#00a9f1,#00a9f1,#00a8f1,#00a8f0,#00a7f0,#00a5f0,#00a2ef,#009eee,#009bed,#0099ed,#0098ec,#0098ec,#0097ec,#0096ec,#0094eb,#0093ea,#0092ea,#0092ea,#0094eb,#0096ec,#009aed,#009dee,#009fee,#00a1ef,#00a5f0,#00abf1,#00b4f3,#00bef5,#09c8f7,#3ccff7,#70d5f7,#95dff8,#bdebfa,#e0f5fc,#ffffff,#fef8f0,#fef3e5,#fdf0df,#fdefdd,#fdefdc,#fdeeda,#fdedd7,#fdecd5,#fdebd3,#fdebd3,#fdecd6,#fdeedb,#fef2e2,#fef5e8)"></i><i style="background:linear-gradient(90deg,#fef5e9,#fef5e9,#fef5e9,#fef4e8,#fef4e6,#fef2e3,#fdf0df,#fdeeda,#fdecd6,#fdead1,#fde8ce,#fde7cb,#fde4c6,#fde1c0,#fde0be,#fde0bd,#fddeb9,#fddbb4,#fddbb3,#fddcb6,#fdddb8,#fddeb8,#fde0be,#fde4c6,#fde8ce,#fdecd6,#fdf0de,#fef5e8,#fffbf6,#f7fcfe,#e1f6fc,#cceffb,#ade6f9,#85dbf8,#5cd2f7,#37cef7,#1fcbf7,#12c9f7,#07c8f7,#00c5f7,#00c1f6,#00bbf5,#00b5f3,#00b0f2,#00adf2,#00aaf1,#00a9f1,#00a9f1,#00a8f1,#00a8f0,#00a8f0,#00a7f0,#00a4f0,#00a1ef,#009eee,#009aed,#0099ec,#0098ec,#0097ec,#0097ec,#0095eb,#0093eb,#0092ea,#0090e9,#0090e9,#0092ea,#0095eb,#0099ec,#009ced,#009eee,#00a0ee,#00a4ef,#00abf1,#00b4f3,#00bff5,#13c9f7,#49d0f7,#7cd8f7,#a4e4f9,#cbeffb,#ebf9fd,#fffcf9,#fef5ea,#fdf1e0,#fdeeda,#fdedd8,#fdedd7,#fdebd5,#fdead1,#fde8ce,#fde7cc,#fde7cb,#fde8cf,#fdecd6,#fdefdd,#fef3e4)"></i><i style="background:linear-gradient(90deg,#fef3e5,#fef3e5,#fef3e5,#fef2e4,#fef2e2,#fdf0df,#fdeeda,#fdebd4,#fde8cd,#fde5c8,#fde3c4,#fde1c0,#fddeb9,#fddbb3,#fddab0,#fdd9ae,#fdd6a9,#fdd4a4,#fdd3a2,#fdd4a5,#fdd5a7,#fdd7aa,#fddab0,#fddeba,#fde2c2,#fde6ca,#fdebd5,#fdf1e0,#fef7ed,#fffefd,#ebf9fd,#d5f2fb,#b8e9fa,#8fdef8,#68d4f7,#43cff7,#2accf7,#1ccbf7,#10c9f7,#00c7f7,#00c2f6,#00bcf5,#00b6f4,#00b0f2,#00adf2,#00abf1,#00a9f1,#00a9f1,#00a8f1,#00a8f0,#00a7f0,#00a6f0,#00a4ef,#00a1ef,#009dee,#009aed,#0098ec,#0098ec,#0097ec,#0096ec,#0095eb,#0093ea,#0091ea,#008fe9,#008fe9,#0091ea,#0094eb,#0097ec,#009bed,#009dee,#00a0ee,#00a4ef,#00abf1,#00b5f3,#00c1f6,#1dcbf7,#57d2f7,#89dcf8,#b4e8f9,#d6f2fc,#f5fcfe,#fef9f3,#fef3e5,#fdefdc,#fdecd6,#fdebd3,#fdead2,#fde9cf,#fde7cb,#fde5c7,#fde3c4,#fde3c3,#fde5c7,#fde9cf,#fdedd8,#fdf0e0)"></i><i style="background:linear-gradient(90deg,#fdf1e0,#fef1e1,#fef1e1,#fdf0e0,#fdefdd,#fdeeda,#fdebd4,#fde7cc,#fde4c5,#fde1bf,#fddeba,#fddbb4,#fdd8ad,#fdd5a6,#fdd3a1,#fdd19e,#fdce98,#fdcc90,#fdcb8e,#fdcb90,#fdcd94,#fdcf9a,#fdd3a2,#fdd8ac,#fddcb5,#fde0be,#fde6c9,#fdecd7,#fef3e5,#fffaf5,#f6fcfe,#dff5fc,#c4edfa,#99e1f8,#74d6f7,#4fd1f7,#37cef7,#27ccf7,#19caf7,#08c8f7,#00c3f6,#00bdf5,#00b6f4,#00b1f3,#00adf2,#00abf1,#00a9f1,#00a9f1,#00a8f0,#00a8f0,#00a7f0,#00a6f0,#00a3ef,#00a0ee,#009dee,#009aed,#0098ec,#0097ec,#0097ec,#0096ec,#0094eb,#0092ea,#008fe9,#008ee8,#008de8,#008fe9,#0092ea,#0096ec,#0099ed,#009ced,#009fee,#00a4ef,#00abf1,#00b6f4,#00c3f6,#28ccf7,#65d4f7,#96e0f8,#c2ecfa,#e1f6fc,#feffff,#fef7ee,#fef1e1,#fdedd8,#fdead1,#fde8cd,#fde7cc,#fde6c9,#fde4c5,#fde1c0,#fde0bc,#fddfbc,#fde1bf,#fde5c7,#fdead2,#fdeedb)"></i><i style="background:linear-gradient(90deg,#fdefdc,#fdefdd,#fdefdc,#fdeedb,#fdedd9,#fdebd4,#fde8cd,#fde4c5,#fde0bd,#fdddb6,#fdd9af,#fdd6a8,#fdd2a0,#fdce97,#fdcb8f,#fec888,#fec581,#fec37a,#fec176,#fec277,#fec47c,#fec784,#fdcc91,#fdd19f,#fdd6a8,#fddab1,#fddfbc,#fde7cb,#fdefdc,#fef6ec,#fffefe,#e8f8fd,#cceffb,#a4e4f9,#7ed9f8,#5ed3f7,#44d0f7,#33cdf7,#23cbf7,#10c9f7,#00c5f7,#00bef5,#00b7f4,#00b1f3,#00adf2,#00abf1,#00a9f1,#00a9f1,#00a8f0,#00a8f0,#00a7f0,#00a5f0,#00a3ef,#00a0ee,#009ded,#009aed,#0098ec,#0097ec,#0097ec,#0096ec,#0094eb,#0091ea,#008fe9,#008ce8,#008ce8,#008ee8,#0091ea,#0094eb,#0098ec,#009bed,#009fee,#00a4ef,#00acf1,#00b7f4,#00c4f6,#33cdf7,#72d6f7,#a2e3f9,#cdeffb,#eaf9fd,#fffdfa,#fef5ea,#fdf0de,#fdecd5,#fde8cd,#fde5c8,#fde4c6,#fde3c3,#fde1bf,#fddeb9,#fddcb4,#fddbb4,#fdddb7,#fde1c0,#fde7cb,#fdecd6)"></i><i style="background:linear-gradient(90deg,#fdecd7,#fdedd8,#fdedd8,#fdecd7,#fdebd3,#fde8ce,#fde4c6,#fde0bd,#fddcb5,#fdd8ad,#fdd4a5,#fdd09c,#fdcb90,#fec785,#fec37b,#fec072,#febd69,#feba63,#ffb85f,#ffb85f,#feba64,#febf6f,#fec47d,#fdca8d,#fdcf9b,#fdd4a4,#fdd9af,#fde0be,#fdead1,#fef2e4,#fffbf6,#f2fbfe,#d5f2fb,#afe7f9,#8adcf8,#6dd5f7,#53d1f7,#3fcff7,#2ccdf7,#17caf7,#00c6f7,#00bef5,#00b7f4,#00b2f3,#00aef2,#00abf1,#00aaf1,#00a9f1,#00a8f0,#00a7f0,#00a6f0,#00a5f0,#00a2ef,#00a0ee,#009ded,#009aed,#0098ec,#0097ec,#0097ec,#0096eb,#0094eb,#0091ea,#008ee8,#008be8,#008be7,#008ce8,#008fe9,#0093ea,#0097ec,#009bed,#009fee,#00a4ef,#00acf2,#00b8f4,#00c6f7,#3dcff7,#7cd8f7,#aee6f9,#d5f2fb,#f2fbfe,#fffbf6,#fef4e7,#fdefdc,#fdead2,#fde6c9,#fde3c3,#fde2c0,#fde0bd,#fddeb8,#fddab2,#fdd8ac,#fdd7ab,#fdd9af,#fdddb8,#fde3c3,#fde8cf)"></i><i style="background:linear-gradient(90deg,#fde9d1,#fdead3,#fdead2,#fde9d0,#fde7cd,#fde5c7,#fde1bf,#fdddb6,#fdd8ad,#fdd4a5,#fdd09b,#fdca8d,#fec580,#fec073,#febc67,#ffb75c,#ffb452,#ffb14c,#ffb047,#ffaf46,#ffb14c,#ffb659,#febc69,#fec37a,#fec888,#fdce96,#fdd3a2,#fddab1,#fde4c5,#fdeedb,#fef7ed,#fdfeff,#def5fc,#bbeafa,#96e0f8,#7ad8f7,#62d3f7,#4bd0f7,#35cef7,#1dcbf7,#00c7f7,#00bff5,#00b8f4,#00b2f3,#00aef2,#00abf1,#00aaf1,#00a9f1,#00a8f0,#00a7f0,#00a6f0,#00a4ef,#00a2ef,#009fee,#009ced,#009aed,#0098ec,#0097ec,#0097ec,#0095eb,#0093eb,#0090e9,#008de8,#008ae7,#0089e7,#008be7,#008ee8,#0091ea,#0095eb,#009aed,#009fee,#00a5f0,#00aef2,#00baf4,#04c8f7,#47d0f7,#85dbf8,#b8e9fa,#dcf4fc,#f8fdfe,#fef9f3,#fef3e5,#fdeeda,#fde9cf,#fde4c5,#fde1bf,#fddfbb,#fdddb7,#fddab1,#fdd7aa,#fdd4a4,#fdd3a3,#fdd5a7,#fdd9af,#fddfbb,#fde5c7)"></i><i style="background:linear-gradient(90deg,#fde6ca,#fde7cc,#fde7cc,#fde6ca,#fde4c6,#fde2c1,#fddeb9,#fddab0,#fdd5a7,#fdd19d,#fdcb8f,#fec57f,#febf70,#feba62,#ffb454,#ffaf46,#ffac3c,#ffa935,#ffa730,#ffa72f,#ffa936,#ffae44,#ffb555,#febc67,#fec176,#fec784,#fdcd93,#fdd4a4,#fdddb8,#fde9d0,#fef2e4,#fffcf8,#e7f8fd,#c7edfa,#a2e3f9,#87dcf8,#72d5f7,#58d2f7,#3ecff7,#23cbf7,#02c7f7,#00c0f6,#00b8f4,#00b2f3,#00aef2,#00abf1,#00aaf1,#00a9f1,#00a8f0,#00a7f0,#00a6f0,#00a4ef,#00a2ef,#009fee,#009ced,#009aed,#0098ec,#0097ec,#0097ec,#0095eb,#0093ea,#0090e9,#008ce8,#0089e7,#0088e6,#0089e7,#008ce8,#0090e9,#0094eb,#0099ed,#009fee,#00a6f0,#00aff2,#00bcf5,#0dc9f7,#50d1f7,#8dddf8,#c1ecfa,#e3f6fd,#fdfeff,#fef9f1,#fef2e3,#fdedd8,#fde7cc,#fde2c2,#fddeba,#fddcb5,#fddab1,#fdd7aa,#fdd3a2,#fdd09c,#fdcf9a,#fdd19e,#fdd5a7,#fddbb3,#fde1c0)"></i><i style="background:linear-gradient(90deg,#fde2c2,#fde4c5,#fde4c5,#fde3c3,#fde1c0,#fddfba,#fddbb3,#fdd7aa,#fdd2a0,#fdcd94,#fec784,#fec072,#ffb961,#ffb351,#ffad41,#ffa832,#ffa427,#ffa120,#ffa01b,#ff9f19,#ffa120,#ffa72f,#ffae41,#ffb454,#feba64,#fec072,#fec682,#fdce96,#fdd7ab,#fde3c2,#fdeeda,#fef8ef,#f2fbfe,#d0f0fb,#afe7f9,#95dff8,#7ed9f7,#64d4f7,#46d0f7,#27ccf7,#05c8f7,#00c0f6,#00b9f4,#00b3f3,#00aef2,#00abf1,#00aaf1,#00a9f1,#00a8f0,#00a7f0,#00a6f0,#00a4ef,#00a2ef,#009fee,#009ced,#009aed,#0098ec,#0097ec,#0097ec,#0095eb,#0093ea,#008fe9,#008be8,#0088e6,#0087e6,#0088e6,#008ae7,#008ee9,#0093ea,#0099ec,#009fee,#00a7f0,#00b1f3,#00bef5,#15caf7,#59d2f7,#94dff8,#c8eefa,#e8f8fd,#fffffe,#fef8f0,#fef2e3,#fdedd7,#fde6ca,#fde1bf,#fddcb5,#fdd9af,#fdd7aa,#fdd3a3,#fdcf99,#fdcb90,#fdca8e,#fdcd93,#fdd19e,#fdd7ab,#fdddb8)"></i><i style="background:linear-gradient(90deg,#fddfbb,#fde0be,#fde0be,#fde0bc,#fddeb9,#fddcb5,#fdd8ad,#fdd4a4,#fdcf9a,#fdc98b,#fec37a,#febb66,#ffb454,#ffae42,#ffa730,#ffa11f,#ff9d13,#ff9a0c,#ff9806,#ff9804,#ff9a0b,#ffa01b,#ffa72e,#ffad41,#ffb352,#ffb961,#febf71,#fec785,#fdd19e,#fddcb5,#fde8ce,#fef3e6,#fdffff,#d9f3fc,#bdebfa,#a2e3f9,#8adcf8,#71d5f7,#4ed1f7,#2bccf7,#07c8f7,#00c0f6,#00b9f4,#00b3f3,#00aef2,#00acf1,#00aaf1,#00a9f1,#00a8f0,#00a7f0,#00a5f0,#00a4ef,#00a2ef,#009fee,#009ced,#009aed,#0098ec,#0097ec,#0097ec,#0095eb,#0093ea,#008fe9,#008be7,#0087e6,#0086e5,#0086e6,#0089e7,#008de8,#0092ea,#0098ec,#00a0ee,#00a8f1,#00b3f3,#00c0f6,#1ccbf7,#60d3f7,#9be1f9,#cdeffb,#ecf9fd,#fffefd,#fef8f0,#fef2e3,#fdecd6,#fde5c8,#fddfbb,#fddab0,#fdd6a8,#fdd3a2,#fdcf9a,#fdca8d,#fec784,#fec681,#fec887,#fdcd93,#fdd3a2,#fddab0)"></i><i style="background:linear-gradient(90deg,#fddbb3,#fdddb7,#fdddb7,#fddcb6,#fddbb3,#fdd9af,#fdd6a8,#fdd29f,#fdcc93,#fec683,#febf70,#ffb75b,#ffb047,#ffa934,#ffa220,#ff9b0e,#ff9601,#ff9300,#ff9000,#ff8f00,#ff9200,#ff9907,#ffa01b,#ffa72f,#ffad40,#ffb24f,#ffb960,#fec175,#fdcb8e,#fdd6a8,#fde1c0,#fdefdc,#fffcf8,#e4f6fd,#c9eefa,#b0e7f9,#96e0f8,#7ad8f7,#55d2f7,#2fcdf7,#08c8f7,#00c0f6,#00b9f4,#00b3f3,#00aef2,#00acf1,#00aaf1,#00a9f1,#00a8f0,#00a7f0,#00a5f0,#00a4ef,#00a2ef,#009fee,#009ded,#009aed,#0098ec,#0097ec,#0097ec,#0095eb,#0092ea,#008ee9,#008ae7,#0086e6,#0085e5,#0085e5,#0087e6,#008be8,#0091ea,#0097ec,#00a0ee,#00aaf1,#00b5f3,#00c1f6,#23cbf7,#67d4f7,#a0e3f9,#d1f1fb,#effafe,#fffefc,#fef8f0,#fef2e3,#fdecd6,#fde4c6,#fdddb7,#fdd7ab,#fdd3a2,#fdcf9a,#fdcb8f,#fec681,#fec277,#fec174,#fec37a,#fec887,#fdcf99,#fdd6a8)"></i><i style="background:linear-gradient(90deg,#fdd8ac,#fddab0,#fddab1,#fdd9af,#fdd8ad,#fdd7aa,#fdd4a4,#fdd09b,#fdca8d,#fec47c,#febc68,#ffb352,#ffac3c,#ffa427,#ff9c12,#ff9500,#ff8e00,#ff8a00,#ff8700,#ff8600,#ff8900,#ff9100,#ff9908,#ffa01c,#ffa62d,#ffac3d,#ffb24f,#febb64,#fec47d,#fdcf9a,#fddbb2,#fde9d0,#fef7ef,#eefafe,#d2f1fb,#bdebfa,#a2e3f9,#82daf8,#5cd2f7,#31cdf7,#09c8f7,#00c1f6,#00b9f4,#00b3f3,#00aff2,#00acf1,#00aaf1,#00a9f1,#00a8f0,#00a6f0,#00a5f0,#00a4ef,#00a2ef,#009fee,#009ded,#009aed,#0099ec,#0097ec,#0097ec,#0095eb,#0092ea,#008ee8,#0089e7,#0086e5,#0084e5,#0084e5,#0086e5,#008ae7,#008fe9,#0096ec,#00a0ee,#00abf1,#00b7f4,#00c3f6,#2accf7,#6dd5f7,#a5e4f9,#d4f2fb,#f2fbfe,#fffdfc,#fef8f1,#fef2e3,#fdebd5,#fde3c3,#fddbb3,#fdd5a6,#fdd09b,#fdcb8f,#fec683,#fec175,#febd6b,#febc67,#febe6d,#fec37b,#fdca8d,#fdd29f)"></i><i style="background:linear-gradient(90deg,#fdd4a4,#fdd6a9,#fdd7aa,#fdd6a9,#fdd6a8,#fdd4a5,#fdd2a0,#fdce96,#fec888,#fec176,#ffb961,#ffb049,#ffa832,#ffa01c,#ff9805,#ff8e00,#ff8700,#ff8300,#ff8000,#ff7e00,#ff8100,#ff8800,#ff9100,#ff990a,#ffa01b,#ffa62c,#ffac3e,#ffb454,#febe6d,#fdc989,#fdd4a4,#fde2c2,#fef3e6,#f8fdfe,#dbf4fc,#c8eefa,#ade6f9,#8adcf8,#62d3f7,#34cdf7,#09c8f7,#00c1f6,#00b9f4,#00b3f3,#00aff2,#00acf1,#00aaf1,#00a9f1,#00a7f0,#00a6f0,#00a5f0,#00a3ef,#00a2ef,#009fee,#009ded,#009aed,#0099ec,#0098ec,#0096ec,#0095eb,#0092ea,#008de8,#0088e6,#0085e5,#0083e4,#0082e4,#0084e5,#0088e6,#008ee9,#0096ec,#00a0ee,#00acf1,#00b8f4,#00c4f6,#30cdf7,#71d5f7,#a8e5f9,#d7f2fc,#f3fbfe,#fffdfc,#fef9f2,#fef2e4,#fdebd4,#fde2c1,#fdd9af,#fdd2a0,#fdcc91,#fec784,#fec277,#febc69,#ffb85e,#ffb75a,#ffb960,#febe6e,#fec682,#fdcd95)"></i><i style="background:linear-gradient(90deg,#fdd09c,#fdd3a2,#fdd4a3,#fdd4a3,#fdd3a2,#fdd2a0,#fdd09c,#fdcc91,#fec783,#febf71,#ffb75b,#ffae42,#ffa52a,#ff9d12,#ff9300,#ff8800,#ff8100,#ff7c00,#ff7900,#ff7800,#ff7a00,#ff8000,#ff8900,#ff9200,#ff9909,#ff9f1a,#ffa62e,#ffae44,#ffb85d,#fec278,#fdce96,#fddcb5,#fdefdd,#fffefc,#e3f6fd,#cff0fb,#b6e9f9,#91def8,#67d4f7,#35cef7,#09c8f7,#00c1f6,#00baf4,#00b4f3,#00aff2,#00acf1,#00aaf1,#00a8f1,#00a7f0,#00a6f0,#00a5f0,#00a3ef,#00a1ef,#009fee,#009dee,#009bed,#0099ec,#0097ec,#0096ec,#0095eb,#0091ea,#008de8,#0088e6,#0084e5,#0081e4,#0081e3,#0083e4,#0087e6,#008de8,#0095eb,#00a0ee,#00acf2,#00b9f4,#00c6f7,#34cef7,#75d6f7,#ace6f9,#d9f3fc,#f4fcfe,#fffefc,#fef9f2,#fef3e4,#fdebd3,#fde0be,#fdd7ab,#fdcf9a,#fec888,#fec379,#febd6b,#ffb85c,#ffb351,#ffb24d,#ffb453,#feba62,#fec176,#fdc98a)"></i><i style="background:linear-gradient(90deg,#fdcc93,#fdcf9a,#fdd19d,#fdd19e,#fdd19d,#fdd09c,#fdce97,#fdcb8e,#fec580,#febe6d,#ffb555,#ffab3c,#ffa223,#ff9a0a,#ff8f00,#ff8300,#ff7b00,#ff7700,#ff7300,#ff7100,#ff7300,#ff7900,#ff8100,#ff8900,#ff9100,#ff9909,#ffa11d,#ffa934,#ffb24d,#febc68,#fec785,#fdd6a9,#fdebd4,#fffbf5,#ecf9fd,#d6f2fb,#bfebfa,#97e0f8,#6cd4f7,#37cef7,#0ac8f7,#00c1f6,#00baf4,#00b4f3,#00aff2,#00acf1,#00aaf1,#00a8f0,#00a7f0,#00a5f0,#00a4ef,#00a3ef,#00a1ef,#009fee,#009dee,#009bed,#0099ec,#0097ec,#0096ec,#0094eb,#0091ea,#008ce8,#0087e6,#0083e4,#007fe3,#007fe2,#0081e3,#0085e5,#008be8,#0094eb,#00a0ee,#00adf2,#00baf4,#00c7f7,#38cef7,#77d7f7,#aee7f9,#daf4fc,#f5fcfe,#fffefc,#fef9f3,#fef3e5,#fdead2,#fddfbb,#fdd5a6,#fdcc92,#fec57f,#febf6f,#ffb95f,#ffb350,#ffaf45,#ffad41,#ffaf46,#ffb556,#febd6a,#fec57f)"></i><i style="background:linear-gradient(90deg,#fdc989,#fdcc91,#fdcd95,#fdce97,#fdce98,#fdce97,#fdcd93,#fdc98b,#fec47d,#febd69,#ffb351,#ffaa37,#ffa01d,#ff9703,#ff8b00,#ff7f00,#ff7700,#ff7200,#ff6f00,#ff6d00,#ff6e00,#ff7200,#ff7900,#ff8000,#ff8900,#ff9200,#ff9b0d,#ffa325,#ffac3e,#ffb659,#fec176,#fdd19e,#fde6ca,#fef7ef,#f3fbfe,#ddf4fc,#c6edfa,#9de2f9,#70d5f7,#38cef7,#0ac8f7,#00c1f6,#00baf4,#00b4f3,#00b0f2,#00acf2,#00aaf1,#00a8f0,#00a6f0,#00a5f0,#00a4ef,#00a3ef,#00a1ef,#009fee,#009dee,#009bed,#0099ed,#0097ec,#0096ec,#0094eb,#0090e9,#008be7,#0086e6,#0082e4,#007ee2,#007de1,#007fe2,#0083e5,#008ae7,#0093ea,#009fee,#00acf2,#00baf4,#00c7f7,#3ccef7,#7ad8f7,#b1e7f9,#dcf4fc,#f6fcfe,#fffefc,#fefaf4,#fef3e5,#fdead1,#fddeb8,#fdd3a2,#fdc98a,#fec175,#feba64,#ffb454,#ffaf45,#ffaa39,#ffa934,#ffab3a,#ffb14a,#ffb95f,#fec175)"></i><i style="background:linear-gradient(90deg,#fec57f,#fdc989,#fdcb8e,#fdcb90,#fdcc92,#fdcc92,#fdcb90,#fdc989,#fec37b,#febc67,#ffb24e,#ffa833,#ff9f18,#ff9500,#ff8800,#ff7c00,#ff7400,#ff6f00,#ff6b00,#ff6900,#ff6a00,#ff6d00,#ff7200,#ff7800,#ff8000,#ff8a00,#ff9500,#ff9e16,#ffa730,#ffb14a,#febc68,#fdcc92,#fde2c0,#fef5e8,#fbfeff,#e2f6fd,#cbeffa,#a2e3f9,#73d6f7,#3acef7,#0ac8f7,#00c1f6,#00bbf5,#00b5f3,#00b0f2,#00acf2,#00aaf1,#00a7f0,#00a6f0,#00a4ef,#00a4ef,#00a3ef,#00a1ef,#009fee,#009dee,#009bed,#0099ed,#0097ec,#0095eb,#0093eb,#008fe9,#008ae7,#0085e5,#0080e3,#007ce1,#007be0,#007ce1,#0082e4,#0088e6,#0092ea,#009eee,#00acf1,#00baf4,#01c7f7,#3ecff7,#7cd8f7,#b3e8f9,#dcf4fc,#f6fcfe,#fffefd,#fefaf4,#fef3e5,#fde9d0,#fddcb5,#fdd19d,#fec683,#febe6d,#ffb65a,#ffb049,#ffab39,#ffa62d,#ffa528,#ffa72e,#ffad3f,#ffb555,#febd6a)"></i><i style="background:linear-gradient(90deg,#fec176,#fec580,#fec886,#fdc98a,#fdca8c,#fdcb8e,#fdca8d,#fec887,#fec379,#febb65,#ffb14c,#ffa730,#ff9e15,#ff9300,#ff8600,#ff7a00,#ff7200,#ff6d00,#ff6900,#ff6600,#ff6600,#ff6800,#ff6c00,#ff7000,#ff7800,#ff8200,#ff8e00,#ff9908,#ffa222,#ffac3c,#ffb75c,#fec886,#fddeb8,#fef2e3,#fffefd,#e8f8fd,#cff0fb,#a7e5f9,#76d7f7,#3bcef7,#0bc8f7,#00c2f6,#00bbf5,#00b5f3,#00b1f3,#00adf2,#00a9f1,#00a7f0,#00a5f0,#00a4ef,#00a3ef,#00a2ef,#00a1ef,#009fee,#009dee,#009bed,#0099ec,#0097ec,#0095eb,#0092ea,#008fe9,#008ae7,#0084e5,#007fe2,#007ae0,#0079df,#007ae0,#0080e3,#0087e6,#0091ea,#009dee,#00abf1,#00baf4,#01c7f7,#3fcff7,#7ed9f7,#b4e8f9,#ddf4fc,#f6fcfe,#fffefd,#fefaf4,#fef3e5,#fde9cf,#fddbb3,#fdcf98,#fec47c,#febb64,#ffb350,#ffac3e,#ffa72f,#ffa323,#ffa11e,#ffa324,#ffa935,#ffb14b,#ffb961)"></i><i style="background:linear-gradient(90deg,#febe6d,#fec279,#fec57f,#fec784,#fec888,#fdc98a,#fdc98a,#fec785,#fec278,#feba64,#ffb14a,#ffa72f,#ff9d13,#ff9200,#ff8500,#ff7900,#ff7000,#ff6b00,#ff6700,#ff6400,#ff6300,#ff6500,#ff6700,#ff6a00,#ff7000,#ff7b00,#ff8700,#ff9300,#ff9d14,#ffa72f,#ffb350,#fec47c,#fddab0,#fdefdd,#fffcf8,#edf9fd,#d3f1fb,#abe6f9,#79d8f7,#3ecff7,#0dc9f7,#00c2f6,#00bcf5,#00b6f4,#00b1f3,#00adf2,#00a9f1,#00a6f0,#00a4f0,#00a3ef,#00a3ef,#00a2ef,#00a1ef,#009fee,#009dee,#009bed,#0099ec,#0097ec,#0095eb,#0092ea,#008ee8,#0089e7,#0083e5,#007de2,#0079df,#0077de,#0078df,#007de2,#0086e5,#008fe9,#009ced,#00aaf1,#00b9f4,#00c7f7,#40cff7,#7fd9f8,#b5e8f9,#ddf4fc,#f6fcfe,#fffefd,#fefaf4,#fef3e5,#fde8ce,#fddab0,#fdcc93,#fec175,#ffb85c,#ffaf47,#ffa935,#ffa325,#ff9f19,#ff9d14,#ff9f1a,#ffa52b,#ffae42,#ffb657)"></i><i style="background:linear-gradient(90deg,#febb65,#fec071,#fec379,#fec57e,#fec683,#fec887,#fec888,#fec784,#fec277,#feba63,#ffb04a,#ffa72e,#ff9d13,#ff9200,#ff8500,#ff7900,#ff7000,#ff6a00,#ff6600,#ff6300,#ff6100,#ff6100,#ff6200,#ff6500,#ff6a00,#ff7400,#ff8000,#ff8d00,#ff9907,#ffa323,#ffaf45,#fec072,#fdd7aa,#fdedd8,#fefaf4,#f1fbfe,#d6f2fb,#afe7f9,#7dd9f7,#41cff7,#0fc9f7,#00c3f6,#00bdf5,#00b7f4,#00b2f3,#00adf2,#00a9f1,#00a6f0,#00a4ef,#00a3ef,#00a2ef,#00a2ef,#00a1ef,#009fee,#009dee,#009bed,#0099ec,#0096ec,#0094eb,#0091ea,#008de8,#0088e6,#0083e4,#007ce1,#0077de,#0075dd,#0076de,#007be1,#0084e5,#008ee9,#009aed,#00a9f1,#00b8f4,#00c7f7,#40cff7,#80d9f8,#b6e9f9,#ddf4fc,#f5fcfe,#fffefd,#fefaf4,#fef3e5,#fde8cd,#fdd9ae,#fdcb8e,#febf6f,#ffb555,#ffad3f,#ffa62c,#ffa01d,#ff9c11,#ff9a0b,#ff9c11,#ffa223,#ffab39,#ffb24f)"></i><i style="background:linear-gradient(90deg,#ffb85e,#febd6a,#fec073,#fec379,#fec57f,#fec683,#fec785,#fec682,#fec277,#feba63,#ffb14a,#ffa72f,#ff9d13,#ff9200,#ff8600,#ff7a00,#ff7000,#ff6a00,#ff6500,#ff6200,#ff5f00,#ff5f00,#ff5f00,#ff6000,#ff6500,#ff6e00,#ff7a00,#ff8700,#ff9400,#ff9e17,#ffab3a,#febd69,#fdd3a3,#fdead2,#fef8f0,#f6fcfe,#d9f3fc,#b4e8f9,#80daf8,#45d0f7,#13c9f7,#00c3f6,#00bdf5,#00b8f4,#00b3f3,#00aef2,#00a9f1,#00a6f0,#00a3ef,#00a2ef,#00a2ef,#00a2ef,#00a1ef,#009fee,#009dee,#009bed,#0099ec,#0096ec,#0094eb,#0090e9,#008ce8,#0087e6,#0081e4,#007ae0,#0075de,#0073dc,#0074dd,#0079e0,#0083e4,#008de8,#0099ed,#00a7f0,#00b6f4,#00c6f7,#3fcff7,#80daf8,#b6e9f9,#dcf4fc,#f4fcfe,#fffefd,#fefaf4,#fef3e5,#fde7cc,#fdd8ac,#fdc98a,#febd6a,#ffb34f,#ffaa38,#ffa325,#ff9e16,#ff9a0a,#ff9805,#ff9a0a,#ffa01c,#ffa832,#ffb047)"></i><i style="background:linear-gradient(90deg,#ffb557,#febb64,#febe6d,#fec174,#fec37b,#fec580,#fec683,#fec681,#fec176,#feba63,#ffb14b,#ffa730,#ff9e15,#ff9300,#ff8700,#ff7b00,#ff7100,#ff6a00,#ff6500,#ff6100,#ff5e00,#ff5d00,#ff5c00,#ff5c00,#ff6100,#ff6900,#ff7400,#ff8100,#ff8e00,#ff9a0c,#ffa730,#ffb961,#fdd09c,#fde7cb,#fef6eb,#fafeff,#ddf4fc,#b8e9fa,#84dbf8,#4ad0f7,#17caf7,#00c4f6,#00bef5,#00b9f4,#00b4f3,#00aef2,#00a9f1,#00a5f0,#00a3ef,#00a2ef,#00a2ef,#00a1ef,#00a1ee,#009fee,#009dee,#009bed,#0099ec,#0096ec,#0093ea,#008fe9,#008be7,#0086e6,#0080e3,#0079e0,#0074dd,#0071dc,#0072dc,#0077df,#0081e4,#008be8,#0098ec,#00a6f0,#00b5f3,#00c5f7,#3ecff7,#80d9f8,#b5e9f9,#dbf4fc,#f3fbfe,#fffffe,#fefaf5,#fef3e5,#fde7cc,#fdd7ab,#fec887,#febb66,#ffb14a,#ffa832,#ffa11f,#ff9c10,#ff9805,#ff9600,#ff9805,#ff9e16,#ffa62c,#ffad41)"></i><i style="background:linear-gradient(90deg,#ffb351,#ffb85f,#febc68,#febf70,#fec277,#fec47d,#fec681,#fec57f,#fec175,#feba63,#ffb14c,#ffa832,#ff9e17,#ff9500,#ff8800,#ff7d00,#ff7300,#ff6b00,#ff6600,#ff6100,#ff5e00,#ff5b00,#ff5900,#ff5900,#ff5d00,#ff6500,#ff6f00,#ff7b00,#ff8800,#ff9601,#ffa426,#ffb658,#fdcd94,#fde4c5,#fef4e7,#ffffff,#e0f5fc,#bceafa,#88dcf8,#4fd1f7,#1ccaf7,#00c5f7,#00bff5,#00baf4,#00b5f3,#00aef2,#00a9f1,#00a5f0,#00a2ef,#00a1ef,#00a1ef,#00a1ef,#00a0ee,#009fee,#009dee,#009bed,#0098ec,#0096eb,#0092ea,#008fe9,#008ae7,#0085e5,#007fe2,#0078df,#0072dc,#0070db,#0070db,#0075de,#007fe3,#008ae7,#0096ec,#00a5f0,#00b4f3,#00c4f6,#3ccff7,#7fd9f8,#b4e8f9,#daf4fc,#f2fbfe,#ffffff,#fffaf5,#fef3e5,#fde7cc,#fdd7aa,#fec785,#feba63,#ffaf47,#ffa72e,#ff9f1a,#ff9a0c,#ff9601,#ff9400,#ff9601,#ff9c11,#ffa426,#ffab3b)"></i><i style="background:linear-gradient(90deg,#ffb14c,#ffb65a,#feba64,#febe6c,#fec073,#fec37a,#fec57f,#fec47e,#fec175,#feba64,#ffb24e,#ffa935,#ffa01b,#ff9601,#ff8a00,#ff7f00,#ff7500,#ff6d00,#ff6700,#ff6200,#ff5e00,#ff5a00,#ff5700,#ff5600,#ff5900,#ff6100,#ff6a00,#ff7600,#ff8300,#ff9100,#ffa01c,#ffb24e,#fdc98b,#fde1be,#fef2e3,#fffefc,#e3f6fd,#c0ecfa,#8cddf8,#55d2f7,#21cbf7,#00c6f7,#00c0f6,#00bbf5,#00b5f3,#00aff2,#00a9f1,#00a4f0,#00a2ef,#00a1ef,#00a1ef,#00a1ef,#00a0ee,#009fee,#009dee,#009bed,#0098ec,#0095eb,#0092ea,#008ee9,#0089e7,#0084e5,#007ee2,#0077de,#0071db,#006eda,#006fda,#0073dd,#007de2,#0089e7,#0095eb,#00a3ef,#00b3f3,#00c3f6,#3acef7,#7ed9f7,#b3e8f9,#d8f3fc,#f0fafe,#feffff,#fffbf5,#fef3e6,#fde8cd,#fdd7aa,#fec784,#ffb961,#ffae44,#ffa62b,#ff9e17,#ff9909,#ff9500,#ff9300,#ff9500,#ff9b0e,#ffa222,#ffa936)"></i><i style="background:linear-gradient(90deg,#ffb048,#ffb555,#ffb960,#febc68,#febf70,#fec277,#fec47c,#fec47c,#fec174,#febb65,#ffb350,#ffaa38,#ffa11f,#ff9805,#ff8c00,#ff8200,#ff7700,#ff6e00,#ff6800,#ff6300,#ff5e00,#ff5a00,#ff5600,#ff5400,#ff5700,#ff5d00,#ff6600,#ff7000,#ff7d00,#ff8c00,#ff9c12,#ffaf45,#fec682,#fdddb8,#fdf0df,#fffcf9,#e6f7fd,#c4edfa,#90def8,#5bd2f7,#27ccf7,#00c7f7,#00c1f6,#00bcf5,#00b6f4,#00aff2,#00a9f1,#00a4ef,#00a2ef,#00a1ef,#00a1ef,#00a1ef,#00a0ee,#009fee,#009dee,#009bed,#0098ec,#0095eb,#0092ea,#008de8,#0089e7,#0084e5,#007de1,#0075de,#0070db,#006dd9,#006dd9,#0072dc,#007ce1,#0088e6,#0094eb,#00a2ef,#00b1f3,#00c2f6,#37cef7,#7cd8f7,#b1e7f9,#d6f2fb,#edfafd,#fdfeff,#fffbf6,#fef4e6,#fde8ce,#fdd7ab,#fec784,#ffb960,#ffae43,#ffa52a,#ff9e16,#ff9907,#ff9500,#ff9200,#ff9500,#ff9a0c,#ffa11f,#ffa832)"></i><i style="background:linear-gradient(90deg,#ffae44,#ffb351,#ffb75c,#febb65,#febe6d,#fec175,#fec37a,#fec37b,#fec174,#febb66,#ffb452,#ffac3c,#ffa323,#ff9909,#ff8f00,#ff8400,#ff7a00,#ff7000,#ff6900,#ff6400,#ff5f00,#ff5a00,#ff5500,#ff5300,#ff5500,#ff5a00,#ff6200,#ff6c00,#ff7800,#ff8600,#ff9908,#ffab3b,#fec279,#fddab2,#fdefdb,#fffbf6,#eaf8fd,#c7eefa,#94dff8,#61d3f7,#2bccf7,#03c7f7,#00c1f6,#00bdf5,#00b7f4,#00b0f2,#00a9f1,#00a4ef,#00a1ef,#00a1ee,#00a1ef,#00a1ef,#00a0ee,#009fee,#009dee,#009bed,#0098ec,#0095eb,#0091ea,#008de8,#0088e6,#0083e4,#007ce1,#0074dd,#006fda,#006bd9,#006bd9,#0070db,#007ae0,#0086e6,#0092ea,#00a1ee,#00b0f2,#00c1f6,#33cdf7,#7ad8f7,#aee7f9,#d4f2fb,#ebf9fd,#fbfeff,#fffcf7,#fef4e8,#fde9d0,#fdd8ac,#fec785,#ffb961,#ffae43,#ffa52a,#ff9e16,#ff9907,#ff9500,#ff9300,#ff9500,#ff9a0b,#ffa01d,#ffa72f)"></i><i style="background:linear-gradient(90deg,#ffad41,#ffb24e,#ffb659,#feba62,#febd6a,#fec072,#fec278,#fec37a,#fec074,#febb67,#ffb555,#ffad40,#ffa427,#ff9b0e,#ff9100,#ff8700,#ff7c00,#ff7200,#ff6a00,#ff6500,#ff5f00,#ff5a00,#ff5500,#ff5200,#ff5300,#ff5700,#ff5e00,#ff6700,#ff7200,#ff8100,#ff9500,#ffa832,#febf70,#fdd7ab,#fdedd8,#fefaf3,#edf9fd,#c9eefa,#98e0f8,#66d4f7,#2fcdf7,#05c8f7,#00c2f6,#00bdf5,#00b7f4,#00b0f2,#00a9f1,#00a4ef,#00a1ef,#00a0ee,#00a1ef,#00a1ef,#00a0ee,#009fee,#009ded,#009bed,#0098ec,#0095eb,#0091ea,#008de8,#0088e6,#0083e4,#007be1,#0074dd,#006eda,#006ad8,#006ad8,#006eda,#0078df,#0085e5,#0091ea,#009fee,#00aff2,#00c0f6,#2ecdf7,#77d7f7,#aae6f9,#d1f1fb,#e7f8fd,#f8fdfe,#fffcf9,#fef5e9,#fdead3,#fdd9af,#fec887,#feba63,#ffaf45,#ffa62c,#ff9e17,#ff9909,#ff9500,#ff9300,#ff9500,#ff9a0b,#ffa01b,#ffa62d)"></i><i style="background:linear-gradient(90deg,#ffad3f,#ffb14b,#ffb556,#ffb85f,#febc68,#febf70,#fec276,#fec278,#fec073,#febc68,#ffb657,#ffae43,#ffa62c,#ff9d13,#ff9400,#ff8900,#ff7e00,#ff7400,#ff6c00,#ff6600,#ff6000,#ff5a00,#ff5500,#ff5200,#ff5200,#ff5400,#ff5a00,#ff6300,#ff6d00,#ff7b00,#ff9000,#ffa428,#febb67,#fdd5a5,#fdebd4,#fef8f1,#effafe,#cceffb,#9be1f9,#69d4f7,#32cdf7,#06c8f7,#00c2f6,#00bdf5,#00b7f4,#00b0f2,#00a9f1,#00a4ef,#00a1ef,#00a0ee,#00a1ef,#00a1ef,#00a0ee,#009fee,#009ded,#009bed,#0098ec,#0095eb,#0091ea,#008ce8,#0087e6,#0082e4,#007be0,#0073dc,#006dd9,#0069d7,#0069d7,#006dd9,#0076de,#0084e5,#0090e9,#009eee,#00aef2,#00bff5,#29ccf7,#73d6f7,#a6e4f9,#cdf0fb,#e4f7fd,#f5fcfe,#fffdfb,#fef6ec,#fdecd6,#fddab1,#fdc98b,#febb65,#ffb048,#ffa72f,#ffa01b,#ff9a0c,#ff9701,#ff9500,#ff9601,#ff9a0b,#ffa01b,#ffa62c)"></i><i style="background:linear-gradient(90deg,#ffac3d,#ffb049,#ffb453,#ffb75c,#febb65,#febe6e,#fec175,#fec277,#fec073,#febc69,#ffb75a,#ffb047,#ffa730,#ff9e17,#ff9600,#ff8b00,#ff8000,#ff7500,#ff6d00,#ff6700,#ff6100,#ff5b00,#ff5500,#ff5200,#ff5000,#ff5200,#ff5700,#ff5e00,#ff6800,#ff7600,#ff8a00,#ffa11e,#ffb85e,#fdd2a0,#fde9cf,#fef7ee,#f2fbfe,#cef0fb,#9de2f9,#6bd4f7,#32cdf7,#05c8f7,#00c2f6,#00bdf5,#00b7f4,#00b0f2,#00a9f1,#00a4ef,#00a1ef,#00a1ee,#00a1ef,#00a1ef,#00a0ee,#009fee,#009ded,#009aed,#0098ec,#0094eb,#0091ea,#008ce8,#0087e6,#0082e4,#007ae0,#0072dc,#006cd9,#0068d7,#0067d7,#006bd9,#0075dd,#0083e4,#008fe9,#009dee,#00adf2,#00bef5,#23cbf7,#6dd5f7,#a1e3f9,#c9eefa,#e0f5fc,#f1fbfe,#fffefe,#fef7ee,#fdedd9,#fddcb5,#fdcb8f,#febd6a,#ffb14c,#ffa833,#ffa11f,#ff9c10,#ff9805,#ff9600,#ff9703,#ff9b0d,#ffa01c,#ffa62b)"></i><i style="background:linear-gradient(90deg,#ffac3d,#ffb048,#ffb351,#ffb75a,#feba63,#febd6c,#fec073,#fec176,#fec073,#febd6a,#ffb85d,#ffb14b,#ffa935,#ffa01c,#ff9704,#ff8d00,#ff8200,#ff7700,#ff6f00,#ff6900,#ff6200,#ff5b00,#ff5600,#ff5200,#ff4f00,#ff4f00,#ff5300,#ff5900,#ff6300,#ff7000,#ff8500,#ff9d15,#ffb555,#fdcf99,#fde6ca,#fef6ec,#f5fcfe,#d0f0fb,#9ee2f9,#6bd4f7,#31cdf7,#04c7f7,#00c1f6,#00bcf5,#00b7f4,#00b0f2,#00a9f1,#00a4f0,#00a2ef,#00a1ef,#00a1ef,#00a1ef,#00a0ee,#009fee,#009ded,#009aed,#0098ec,#0095eb,#0091ea,#008ce8,#0087e6,#0082e4,#007ae0,#0072dc,#006bd9,#0067d7,#0066d6,#006ad8,#0073dd,#0082e4,#008ee8,#009ced,#00abf1,#00bcf5,#1ccbf7,#66d4f7,#9be1f9,#c5edfa,#dbf4fc,#edf9fd,#fdfeff,#fef9f1,#fdefdc,#fddeb9,#fdcd94,#febf6f,#ffb352,#ffab39,#ffa325,#ff9e15,#ff9a0a,#ff9804,#ff9806,#ff9b0f,#ffa01d,#ffa62c)"></i><i style="background:linear-gradient(90deg,#ffac3c,#ffaf46,#ffb34f,#ffb658,#ffb961,#febd6a,#fec072,#fec175,#fec074,#febd6c,#ffb95f,#ffb24e,#ffaa39,#ffa221,#ff9908,#ff8e00,#ff8300,#ff7900,#ff7000,#ff6a00,#ff6300,#ff5c00,#ff5600,#ff5200,#ff4e00,#ff4d00,#ff4f00,#ff5500,#ff5e00,#ff6b00,#ff8000,#ff9a0b,#ffb14c,#fdcc92,#fde4c6,#fef5ea,#f7fdfe,#d2f1fb,#9fe2f9,#69d4f7,#2ecdf7,#01c7f7,#00c0f6,#00bbf5,#00b6f4,#00aff2,#00a9f1,#00a5f0,#00a2ef,#00a1ef,#00a1ef,#00a1ef,#00a0ee,#009fee,#009ded,#009aed,#0098ec,#0095eb,#0091ea,#008de8,#0088e6,#0082e4,#007ae0,#0072dc,#006bd8,#0066d6,#0065d6,#0069d7,#0072dc,#0080e3,#008de8,#009bed,#00aaf1,#00bbf5,#14caf7,#5ed3f7,#94dff8,#beebfa,#d6f2fb,#e8f8fd,#f8fdfe,#fffaf5,#fdf1e0,#fde1be,#fdcf9a,#fec175,#ffb658,#ffad40,#ffa62c,#ffa01c,#ff9c0f,#ff9909,#ff9a0a,#ff9d12,#ffa11f,#ffa62c)"></i><i style="background:linear-gradient(90deg,#ffac3c,#ffaf46,#ffb24e,#ffb556,#ffb85f,#febc68,#febf70,#fec175,#fec174,#febe6d,#feba62,#ffb352,#ffac3d,#ffa426,#ff9a0c,#ff9000,#ff8500,#ff7b00,#ff7200,#ff6b00,#ff6400,#ff5d00,#ff5700,#ff5200,#ff4d00,#fe4a00,#fe4a00,#ff5000,#ff5900,#ff6700,#ff7b00,#ff9702,#ffae44,#fdc98a,#fde2c2,#fef4e7,#fafdff,#d3f1fb,#9fe2f9,#67d4f7,#2accf7,#00c6f7,#00bff5,#00baf4,#00b5f3,#00aff2,#00aaf1,#00a5f0,#00a3ef,#00a2ef,#00a2ef,#00a1ef,#00a0ee,#009fee,#009dee,#009aed,#0098ec,#0095eb,#0092ea,#008de8,#0088e6,#0083e4,#007ae0,#0072dc,#006bd8,#0066d6,#0064d5,#0068d7,#0070db,#007ee2,#008be8,#0099ed,#00a9f1,#00b9f4,#0cc8f7,#54d2f7,#8dddf8,#b6e9f9,#d1f1fb,#e3f6fd,#f3fbfe,#fffcf9,#fef3e4,#fde3c4,#fdd2a0,#fec47c,#ffb960,#ffb049,#ffa934,#ffa323,#ff9e16,#ff9b0e,#ff9b0e,#ff9e16,#ffa221,#ffa62e)"></i><i style="background:linear-gradient(90deg,#ffac3d,#ffaf45,#ffb24d,#ffb454,#ffb85d,#febb66,#febf6f,#fec174,#fec174,#febf6f,#febb65,#ffb555,#ffae42,#ffa62b,#ff9c11,#ff9100,#ff8600,#ff7d00,#ff7400,#ff6c00,#ff6500,#ff5e00,#ff5700,#ff5200,#ff4c00,#fe4700,#fe4601,#fe4a00,#ff5400,#ff6200,#ff7600,#ff9300,#ffab3c,#fec683,#fde0bd,#fef3e5,#fcfeff,#d5f2fb,#9fe2f9,#63d3f7,#26ccf7,#00c5f7,#00bef5,#00b9f4,#00b4f3,#00aff2,#00aaf1,#00a6f0,#00a4ef,#00a3ef,#00a2ef,#00a2ef,#00a1ef,#009fee,#009dee,#009bed,#0098ec,#0095eb,#0092ea,#008ee9,#0089e7,#0083e4,#007be0,#0072dc,#006ad8,#0065d6,#0064d5,#0066d6,#006fda,#007ce1,#008ae7,#0098ec,#00a7f0,#00b7f4,#03c7f7,#4ad0f7,#85dbf8,#aee7f9,#cceffb,#def5fc,#eefafe,#fffefd,#fef5e9,#fde7cb,#fdd5a6,#fec785,#febc69,#ffb452,#ffac3d,#ffa62b,#ffa01d,#ff9d14,#ff9d13,#ff9f1a,#ffa325,#ffa730)"></i><i style="background:linear-gradient(90deg,#ffac3d,#ffaf45,#ffb14c,#ffb453,#ffb75c,#febb65,#febe6d,#fec073,#fec175,#febf71,#febc68,#ffb659,#ffb047,#ffa831,#ff9e16,#ff9300,#ff8800,#ff7f00,#ff7600,#ff6d00,#ff6600,#ff5e00,#ff5800,#ff5200,#fe4b00,#fe4501,#fd4101,#fd4401,#ff4e00,#ff5d00,#ff7100,#ff8e00,#ffa833,#fec37b,#fddeb9,#fef2e3,#feffff,#d6f2fb,#9fe2f9,#5fd3f7,#21cbf7,#00c4f6,#00bdf5,#00b8f4,#00b3f3,#00aff2,#00aaf1,#00a7f0,#00a5f0,#00a4ef,#00a3ef,#00a2ef,#00a1ef,#00a0ee,#009eee,#009bed,#0099ec,#0096ec,#0093eb,#008fe9,#008ae7,#0084e5,#007be1,#0072dc,#006ad8,#0065d5,#0063d4,#0065d6,#006dda,#007be0,#0089e7,#0097ec,#00a6f0,#00b5f3,#00c5f7,#3fcff7,#7cd8f7,#a6e4f9,#c7eefa,#d9f3fc,#e8f8fd,#fcfeff,#fef7ee,#fdead2,#fdd8ad,#fdcb8e,#fec073,#ffb75c,#ffb047,#ffa934,#ffa325,#ffa01b,#ff9f19,#ffa11f,#ffa528,#ffa832)"></i><i style="background:linear-gradient(90deg,#ffac3f,#ffaf45,#ffb14b,#ffb352,#ffb75a,#feba63,#febd6c,#fec073,#fec175,#fec072,#febd6b,#ffb85e,#ffb24d,#ffaa38,#ffa01d,#ff9600,#ff8a00,#ff8200,#ff7900,#ff6f00,#ff6700,#ff5f00,#ff5900,#ff5200,#fe4a00,#fd4201,#fd3d01,#fd3f01,#fe4900,#ff5900,#ff6d00,#ff8a00,#ffa62b,#fec174,#fddcb4,#fef1e0,#fffefe,#d8f3fc,#9fe2f9,#5cd2f7,#1dcbf7,#00c4f6,#00bdf5,#00b7f4,#00b3f3,#00aff2,#00abf1,#00a8f0,#00a6f0,#00a5f0,#00a4ef,#00a3ef,#00a2ef,#00a1ef,#009fee,#009ced,#0099ed,#0097ec,#0094eb,#0090e9,#008be7,#0085e5,#007ce1,#0072dc,#006ad8,#0065d5,#0062d4,#0064d5,#006cd9,#0079df,#0088e6,#0095eb,#00a4ef,#00b3f3,#00c3f6,#34cef7,#74d6f7,#9ee2f9,#c0ecfa,#d3f1fb,#e3f6fd,#f5fcfe,#fef9f3,#fdedd8,#fddcb5,#fdcf99,#fec47d,#febb66,#ffb351,#ffac3e,#ffa62e,#ffa323,#ffa220,#ffa325,#ffa62d,#ffa935)"></i><i style="background:linear-gradient(90deg,#ffad40,#ffaf45,#ffb14b,#ffb351,#ffb659,#feba62,#febd6a,#fec072,#fec175,#fec174,#febf6f,#feba63,#ffb454,#ffad40,#ffa324,#ff9806,#ff8e00,#ff8500,#ff7c00,#ff7100,#ff6800,#ff6000,#ff5900,#ff5200,#fe4900,#fd4001,#fc3901,#fc3a01,#fd4301,#ff5500,#ff6a00,#ff8600,#ffa323,#febe6c,#fdd9af,#fdf0de,#fffdfc,#daf3fc,#9fe2f9,#5ad2f7,#1acaf7,#00c3f6,#00bcf5,#00b7f4,#00b2f3,#00aff2,#00acf1,#00a9f1,#00a8f0,#00a7f0,#00a6f0,#00a4f0,#00a3ef,#00a2ef,#00a0ee,#009dee,#009bed,#0099ec,#0096eb,#0091ea,#008ce8,#0085e5,#007de1,#0073dc,#006bd8,#0065d5,#0062d4,#0064d5,#006ad8,#0077de,#0086e6,#0093eb,#00a2ef,#00b1f3,#00c0f6,#29ccf7,#6ad4f7,#96e0f8,#b8e9fa,#cef0fb,#def5fc,#effafe,#fffcf8,#fdf0de,#fde0bd,#fdd3a2,#fec888,#febf71,#ffb75b,#ffb047,#ffaa37,#ffa62c,#ffa428,#ffa62b,#ffa831,#ffaa38)"></i><i style="background:linear-gradient(90deg,#ffad41,#ffaf45,#ffb14a,#ffb350,#ffb658,#ffb960,#febc69,#febf70,#fec175,#fec176,#fec073,#febd6a,#ffb75c,#ffb048,#ffa62d,#ff9b0f,#ff9200,#ff8900,#ff7f00,#ff7400,#ff6a00,#ff6200,#ff5a00,#ff5200,#fe4800,#fd3d01,#fc3601,#fc3501,#fd3f01,#ff5100,#ff6600,#ff8200,#ff9f1a,#feba64,#fdd7aa,#fdeedb,#fffcf9,#dcf4fc,#a0e3f9,#59d2f7,#18caf7,#00c3f6,#00bcf5,#00b7f4,#00b3f3,#00b0f2,#00adf2,#00abf1,#00a9f1,#00a8f0,#00a7f0,#00a6f0,#00a5f0,#00a4ef,#00a2ef,#009fee,#009ced,#009aed,#0097ec,#0093ea,#008de8,#0086e6,#007ee2,#0074dd,#006bd8,#0065d5,#0062d4,#0063d4,#0069d8,#0075de,#0084e5,#0091ea,#00a0ee,#00aef2,#00bef5,#1dcbf7,#5ed3f7,#8eddf8,#b1e7f9,#c9eefa,#d9f3fc,#e9f8fd,#fffefd,#fef3e4,#fde4c6,#fdd7ab,#fdcd93,#fec37b,#febb65,#ffb351,#ffad41,#ffa936,#ffa831,#ffa832,#ffaa37,#ffab3b)"></i><i style="background:linear-gradient(90deg,#ffae42,#ffaf46,#ffb14a,#ffb350,#ffb557,#ffb95f,#febc67,#febf6f,#fec175,#fec278,#fec277,#febf71,#febb64,#ffb352,#ffaa37,#ff9f1a,#ff9702,#ff8d00,#ff8300,#ff7700,#ff6c00,#ff6300,#ff5a00,#ff5200,#fe4700,#fc3b01,#fb3301,#fb3202,#fc3b01,#ff4e00,#ff6300,#ff7e00,#ff9c12,#ffb75c,#fdd4a4,#fdedd7,#fffbf7,#def5fc,#a2e3f9,#5ad2f7,#19caf7,#00c3f6,#00bcf5,#00b7f4,#00b3f3,#00b1f3,#00aff2,#00adf2,#00abf1,#00aaf1,#00a9f1,#00a8f0,#00a7f0,#00a6f0,#00a4ef,#00a1ef,#009eee,#009ced,#0099ed,#0094eb,#008fe9,#0088e6,#007fe3,#0074dd,#006bd9,#0065d5,#0061d4,#0062d4,#0068d7,#0073dd,#0083e4,#008fe9,#009dee,#00acf1,#00bbf5,#12c9f7,#53d1f7,#86dbf8,#aae5f9,#c5edfa,#d4f2fb,#e3f6fd,#fafeff,#fef6eb,#fde9d0,#fddcb4,#fdd19e,#fec886,#febf6f,#ffb75b,#ffb14b,#ffad40,#ffab3b,#ffab3a,#ffab3c,#ffad3f)"></i><i style="background:linear-gradient(90deg,#ffae44,#ffaf46,#ffb04a,#ffb24f,#ffb556,#ffb85e,#febb66,#febe6d,#fec175,#fec37a,#fec47c,#fec278,#febe6e,#ffb75c,#ffae43,#ffa427,#ff9b0e,#ff9300,#ff8700,#ff7a00,#ff6e00,#ff6400,#ff5b00,#ff5200,#fe4501,#fc3901,#fb3002,#fb2f02,#fc3701,#fe4a00,#ff6000,#ff7a00,#ff990a,#ffb454,#fdd19e,#fdead2,#fefaf4,#e1f6fc,#a5e4f9,#5ed3f7,#1ccbf7,#00c4f6,#00bdf5,#00b8f4,#00b4f3,#00b2f3,#00b0f2,#00aff2,#00aef2,#00acf2,#00abf1,#00aaf1,#00a9f1,#00a8f0,#00a6f0,#00a3ef,#00a1ef,#009eee,#009bed,#0096ec,#0090e9,#0089e7,#0081e3,#0075de,#006cd9,#0065d5,#0061d4,#0062d4,#0067d7,#0071dc,#0080e3,#008de8,#009aed,#00a9f1,#00b9f4,#07c8f7,#49d0f7,#7fd9f8,#a3e3f9,#bfebfa,#cff0fb,#def5fc,#f3fbfe,#fef9f1,#fdedd9,#fde0be,#fdd5a7,#fdcb90,#fec379,#febb65,#ffb556,#ffb14c,#ffaf45,#ffae42,#ffad41,#ffae42)"></i><i style="background:linear-gradient(90deg,#ffaf45,#ffaf46,#ffb04a,#ffb24f,#ffb556,#ffb85d,#feba64,#febd6c,#fec174,#fec47c,#fec681,#fec580,#fec277,#febb67,#ffb24f,#ffa935,#ffa01c,#ff9805,#ff8c00,#ff7e00,#ff7000,#ff6500,#ff5b00,#ff5100,#fe4401,#fc3701,#fb2e02,#fb2c02,#fc3501,#fe4800,#ff5d00,#ff7600,#ff9701,#ffb14b,#fdce97,#fde7cd,#fef8f1,#e4f7fd,#aae5f9,#63d3f7,#22cbf7,#00c5f7,#00bef5,#00b9f4,#00b6f4,#00b4f3,#00b2f3,#00b1f3,#00b0f2,#00aff2,#00adf2,#00acf2,#00abf1,#00aaf1,#00a9f1,#00a6f0,#00a4ef,#00a1ef,#009dee,#0098ec,#0092ea,#008ae7,#0082e4,#0076de,#006dd9,#0065d6,#0061d4,#0062d4,#0066d6,#0070db,#007ee2,#008be7,#0097ec,#00a6f0,#00b6f4,#00c6f7,#3fcff7,#78d7f7,#9de2f9,#b9eafa,#cbeffb,#d9f3fc,#edf9fd,#fffbf7,#fdf1e0,#fde5c7,#fdd9af,#fdcf9a,#fec682,#febf6f,#ffb961,#ffb657,#ffb350,#ffb14a,#ffaf47,#ffaf45)"></i><i style="background:linear-gradient(90deg,#ffaf46,#ffaf46,#ffb049,#ffb24f,#ffb555,#ffb75c,#feba62,#febd6a,#fec074,#fec47e,#fec786,#fec888,#fec681,#fec072,#ffb75c,#ffae43,#ffa52a,#ff9c11,#ff9000,#ff8200,#ff7300,#ff6700,#ff5c00,#ff5000,#fd4201,#fc3501,#fb2c02,#fa2a02,#fb3301,#fe4501,#ff5b00,#ff7300,#ff9300,#ffae43,#fdcb8e,#fde4c6,#fef7ed,#e8f8fd,#afe7f9,#6bd4f7,#29ccf7,#00c7f7,#00c0f6,#00bbf5,#00b8f4,#00b6f4,#00b5f3,#00b4f3,#00b3f3,#00b2f3,#00b0f2,#00aff2,#00aef2,#00adf2,#00abf1,#00a9f1,#00a7f0,#00a3ef,#009fee,#009aed,#0093eb,#008be8,#0083e4,#0078df,#006dda,#0066d6,#0062d4,#0061d3,#0065d6,#006eda,#007be0,#0088e6,#0095eb,#00a4ef,#00b4f3,#00c4f6,#36cef7,#71d5f7,#97e0f8,#b3e8f9,#c8eefa,#d5f2fb,#e7f8fd,#fffefd,#fef4e7,#fde9d1,#fdddb8,#fdd3a2,#fdca8b,#fec278,#febd6c,#feba63,#ffb75b,#ffb453,#ffb14c,#ffb048)"></i><i style="background:linear-gradient(90deg,#ffaf46,#ffaf46,#ffb049,#ffb24f,#ffb555,#ffb75b,#ffb961,#febc68,#fec073,#fec580,#fdc98b,#fdcb90,#fdc98b,#fec47c,#febc69,#ffb452,#ffaa39,#ffa01d,#ff9500,#ff8600,#ff7600,#ff6800,#ff5c00,#ff5000,#fd4101,#fb3401,#fa2b02,#fa2902,#fb3202,#fd4401,#ff5900,#ff7000,#ff8f00,#ffab3b,#fec785,#fde1c0,#fef5e9,#edf9fd,#b6e9f9,#73d6f7,#33cdf7,#08c8f7,#00c2f6,#00bdf5,#00baf4,#00b8f4,#00b7f4,#00b6f4,#00b6f4,#00b4f3,#00b3f3,#00b2f3,#00b1f3,#00b0f2,#00aef2,#00acf2,#00aaf1,#00a6f0,#00a2ef,#009ced,#0095eb,#008de8,#0084e5,#0079df,#006eda,#0067d6,#0062d4,#0061d3,#0065d5,#006cd9,#0078df,#0086e5,#0092ea,#00a1ef,#00b1f3,#00c2f6,#2dcdf7,#6ad4f7,#91def8,#aee7f9,#c4edfa,#d1f1fb,#e2f6fc,#fbfeff,#fef7ed,#fdedd9,#fde1c0,#fdd6a9,#fdcd94,#fec681,#fec176,#febe6e,#febb66,#ffb75a,#ffb350,#ffb14a)"></i><i style="background:linear-gradient(90deg,#ffaf46,#ffaf46,#ffb049,#ffb24f,#ffb555,#ffb75a,#ffb960,#febc67,#fec073,#fec681,#fdcb8f,#fdce97,#fdcd93,#fec886,#fec175,#ffb960,#ffb047,#ffa529,#ff9909,#ff8a00,#ff7900,#ff6900,#ff5c00,#ff4f00,#fd3f01,#fb3202,#fa2902,#fa2902,#fb3102,#fd4201,#ff5800,#ff6e00,#ff8c00,#ffa934,#fec47c,#fddeb9,#fef3e4,#f2fbfe,#bdebfa,#7cd8f7,#3fcff7,#13c9f7,#00c4f6,#00c0f6,#00bcf5,#00baf4,#00b9f4,#00b9f4,#00b9f4,#00b7f4,#00b6f4,#00b5f3,#00b4f3,#00b3f3,#00b2f3,#00b0f2,#00adf2,#00a9f1,#00a4ef,#009eee,#0097ec,#008ee9,#0085e5,#007ae0,#0070db,#0067d7,#0062d4,#0061d4,#0064d5,#006bd9,#0076de,#0084e5,#0090e9,#009fee,#00aff2,#00c0f6,#26ccf7,#62d3f7,#8cddf8,#a9e5f9,#bfebfa,#cef0fb,#ddf5fc,#f4fcfe,#fef9f3,#fdf0df,#fde5c8,#fdd9af,#fdd09c,#fdc98a,#fec580,#fec379,#febf70,#feba62,#ffb555,#ffb14c)"></i><i style="background:linear-gradient(90deg,#ffaf45,#ffaf45,#ffb049,#ffb24e,#ffb454,#ffb659,#ffb85e,#febb66,#fec072,#fec683,#fdcd93,#fdd09d,#fdd09b,#fdcb90,#fec580,#febe6d,#ffb454,#ffa935,#ff9d13,#ff8e00,#ff7c00,#ff6b00,#ff5c00,#ff4d00,#fd3d01,#fb3002,#fa2802,#fa2802,#fb3102,#fd4201,#ff5700,#ff6c00,#ff8a00,#ffa62c,#fec073,#fddab1,#fdf1e0,#f8fdfe,#c6edfa,#86dbf8,#4dd1f7,#1fcbf7,#00c7f7,#00c2f6,#00bff5,#00bdf5,#00bcf5,#00bcf5,#00bcf5,#00bbf5,#00baf4,#00b9f4,#00b8f4,#00b7f4,#00b5f3,#00b4f3,#00b0f2,#00acf1,#00a6f0,#00a0ee,#0098ec,#008fe9,#0086e6,#007ce1,#0071db,#0068d7,#0063d5,#0062d4,#0064d5,#006ad8,#0074dd,#0082e4,#008ee8,#009ded,#00adf2,#00bef5,#1fcbf7,#5cd2f7,#87dbf8,#a5e4f9,#bbeafa,#cbeffa,#d9f3fc,#eefafe,#fffcf8,#fef3e5,#fde9cf,#fddcb6,#fdd3a1,#fdcc92,#fdc989,#fec683,#fec279,#febc68,#ffb658,#ffb24d)"></i><i style="background:linear-gradient(90deg,#ffaf44,#ffae44,#ffb048,#ffb24e,#ffb454,#ffb659,#ffb85e,#febb65,#fec072,#fec785,#fdce96,#fdd2a0,#fdd2a0,#fdce98,#fdc98a,#fec279,#ffb960,#ffad3f,#ffa01d,#ff9200,#ff7f00,#ff6c00,#ff5c00,#fe4c00,#fc3b01,#fb2e02,#fa2802,#fa2802,#fb3102,#fd4201,#ff5600,#ff6b00,#ff8800,#ffa426,#febd6b,#fdd7aa,#fdeedb,#feffff,#cdeffb,#92def8,#5cd3f7,#2dcdf7,#0cc9f7,#00c5f7,#00c1f6,#00bff5,#00bff5,#00bff5,#00bff5,#00bef5,#00bdf5,#00bcf5,#00bbf5,#00baf4,#00b9f4,#00b7f4,#00b4f3,#00aef2,#00a9f1,#00a2ef,#009aed,#0091ea,#0088e6,#007de2,#0072dc,#0069d8,#0064d5,#0062d4,#0064d5,#0069d7,#0072dc,#007fe2,#008ce8,#009bed,#00acf1,#00bdf5,#19caf7,#56d2f7,#82daf8,#a0e3f9,#b7e9f9,#c8eefa,#d6f2fb,#eaf8fd,#fffefd,#fef5ea,#fdecd6,#fddfbc,#fdd5a7,#fdcf99,#fdcc91,#fdca8b,#fec580,#febe6e,#ffb75b,#ffb24d)"></i><i style="background:linear-gradient(90deg,#ffae43,#ffae42,#ffb047,#ffb24e,#ffb454,#ffb659,#ffb85d,#febb65,#fec073,#fec786,#fdcf99,#fdd4a3,#fdd4a4,#fdd19e,#fdcc92,#fec682,#febc69,#ffb049,#ffa426,#ff9601,#ff8200,#ff6d00,#ff5b00,#fe4a00,#fc3901,#fb2d02,#fa2702,#fa2802,#fb3202,#fd4201,#ff5600,#ff6a00,#ff8600,#ffa220,#feba62,#fdd3a2,#fdecd5,#fffdfa,#d4f2fb,#9ee2f9,#6dd5f7,#3dcff7,#1acaf7,#03c7f7,#00c4f6,#00c2f6,#00c2f6,#00c2f6,#00c2f6,#00c1f6,#00c0f6,#00c0f6,#00bff5,#00bef5,#00bdf5,#00bbf5,#00b7f4,#00b1f3,#00abf1,#00a4ef,#009bed,#0092ea,#0089e7,#007fe3,#0074dd,#006bd8,#0065d5,#0062d4,#0063d5,#0068d7,#0070db,#007de1,#008ae7,#0099ed,#00aaf1,#00bcf5,#14c9f7,#50d1f7,#7ed9f7,#9ce1f9,#b3e8f9,#c5edfa,#d4f2fb,#e6f7fd,#fdfeff,#fef7ef,#fdeedb,#fde2c2,#fdd8ac,#fdd19f,#fdce98,#fdcc93,#fec887,#fec072,#ffb85d,#ffb24d)"></i><i style="background:linear-gradient(90deg,#ffad41,#ffad41,#ffaf46,#ffb24e,#ffb454,#ffb659,#ffb85d,#febb64,#fec073,#fec887,#fdd09b,#fdd5a5,#fdd5a7,#fdd3a2,#fdcf98,#fdc989,#febf71,#ffb351,#ffa72e,#ff9908,#ff8500,#ff6e00,#ff5b00,#fe4800,#fc3701,#fa2b02,#f92602,#fa2902,#fb3201,#fd4201,#ff5600,#ff6a00,#ff8500,#ffa01b,#ffb75a,#fdcf9a,#fde8cd,#fffaf5,#dcf4fc,#abe6f9,#7bd8f7,#4dd1f7,#28ccf7,#0fc9f7,#00c7f7,#00c5f7,#00c5f7,#00c5f7,#00c5f7,#00c5f7,#00c4f6,#00c3f6,#00c2f6,#00c1f6,#00c0f6,#00bef5,#00baf4,#00b4f3,#00adf2,#00a6f0,#009dee,#0093eb,#008ae7,#0081e3,#0075de,#006cd9,#0066d6,#0063d5,#0064d5,#0067d7,#006fdb,#007be1,#0089e7,#0098ec,#00a9f1,#00bbf5,#0fc9f7,#4bd0f7,#79d8f7,#97e0f8,#afe7f9,#c2ecfa,#d2f1fb,#e4f6fd,#f8fdfe,#fef9f3,#fdf0df,#fde5c7,#fddab1,#fdd4a4,#fdd19e,#fdcf98,#fdca8c,#fec176,#ffb85e,#ffb14c)"></i><i style="background:linear-gradient(90deg,#ffac3f,#ffad3f,#ffaf45,#ffb24e,#ffb454,#ffb658,#ffb85d,#febb65,#fec073,#fec888,#fdd09c,#fdd5a7,#fdd6a9,#fdd4a5,#fdd09d,#fdcb8e,#fec277,#ffb658,#ffa935,#ff9b0f,#ff8700,#ff6f00,#ff5a00,#fe4601,#fc3401,#fa2902,#f92602,#fa2902,#fb3301,#fd4301,#ff5600,#ff6a00,#ff8400,#ff9e16,#ffb452,#fdcb90,#fde4c5,#fef8f0,#e4f7fd,#b9e9fa,#8adcf8,#5ed3f7,#37cef7,#1ccbf7,#0cc9f7,#05c8f7,#04c7f7,#06c8f7,#07c8f7,#06c8f7,#03c7f7,#00c7f7,#00c6f7,#00c5f7,#00c4f6,#00c1f6,#00bdf5,#00b7f4,#00aff2,#00a7f0,#009eee,#0095eb,#008be8,#0083e4,#0077de,#006dda,#0067d6,#0064d5,#0064d5,#0067d7,#006eda,#007ae0,#0088e6,#0097ec,#00a8f0,#00baf4,#0cc8f7,#47d0f7,#76d7f7,#93dff8,#abe6f9,#c0ecfa,#d0f0fb,#e2f6fc,#f5fcfe,#fffbf7,#fef2e3,#fde7cc,#fddcb5,#fdd6a8,#fdd3a2,#fdd09d,#fdcb8f,#fec278,#ffb95f,#ffb14b)"></i><i style="background:linear-gradient(90deg,#ffac3c,#ffac3d,#ffaf44,#ffb24d,#ffb454,#ffb658,#ffb85d,#febb65,#fec174,#fec888,#fdd09c,#fdd5a7,#fdd7aa,#fdd5a6,#fdd19f,#fdcc91,#fec37b,#ffb85d,#ffab3b,#ff9d15,#ff8900,#ff6f00,#ff5900,#fd4401,#fb3202,#fa2702,#f92502,#fa2902,#fb3401,#fd4301,#ff5600,#ff6a00,#ff8400,#ff9d12,#ffb14b,#fec887,#fde0be,#fef5ea,#ecf9fd,#c6edfa,#98e0f8,#6fd5f7,#46d0f7,#2accf7,#1acaf7,#13c9f7,#12c9f7,#15caf7,#17caf7,#17caf7,#15caf7,#11c9f7,#0dc9f7,#09c8f7,#02c7f7,#00c5f7,#00c0f6,#00baf4,#00b2f3,#00a9f1,#00a0ee,#0096ec,#008de8,#0084e5,#0079df,#006fdb,#0068d7,#0065d5,#0064d5,#0067d7,#006eda,#007ae0,#0088e6,#0096ec,#00a7f0,#00b9f4,#09c8f7,#44cff7,#72d6f7,#90def8,#a8e5f9,#beebfa,#cff0fb,#e0f5fc,#f2fbfe,#fffdfa,#fef4e7,#fdead1,#fddeb9,#fdd7ab,#fdd4a5,#fdd2a0,#fdcc92,#fec37a,#ffb95f,#ffb049)"></i><i style="background:linear-gradient(90deg,#ffab3a,#ffab3b,#ffae43,#ffb24d,#ffb454,#ffb658,#ffb85d,#febb66,#fec174,#fec888,#fdd09c,#fdd5a7,#fdd7aa,#fdd5a7,#fdd2a0,#fdcc93,#fec47d,#ffb961,#ffad40,#ff9f1a,#ff8b00,#ff7000,#ff5900,#fd4201,#fb2f02,#f92602,#f82402,#fa2902,#fc3401,#fd4401,#ff5700,#ff6b00,#ff8300,#ff9b0f,#ffaf45,#fec47e,#fdddb6,#fef3e4,#f5fcfe,#d0f0fb,#a7e5f9,#7dd9f7,#56d2f7,#38cef7,#27ccf7,#21cbf7,#22cbf7,#25ccf7,#27ccf7,#28ccf7,#27ccf7,#23cbf7,#1fcbf7,#1acaf7,#12c9f7,#04c8f7,#00c3f6,#00bcf5,#00b4f3,#00abf1,#00a2ef,#0098ec,#008fe9,#0086e5,#007be1,#0071dc,#006ad8,#0066d6,#0065d5,#0067d7,#006eda,#0079e0,#0087e6,#0096ec,#00a7f0,#00b8f4,#06c8f7,#40cff7,#6fd5f7,#8dddf8,#a5e4f9,#bceafa,#cff0fb,#dff5fc,#f0fafe,#fffefd,#fef6eb,#fdecd5,#fde0bd,#fdd9af,#fdd6a8,#fdd3a2,#fdcd94,#fec37b,#ffb95f,#ffb048)"></i><i style="background:linear-gradient(90deg,#ffaa37,#ffab39,#ffae42,#ffb14c,#ffb453,#ffb658,#ffb85d,#febb66,#fec175,#fec888,#fdd09c,#fdd5a6,#fdd7aa,#fdd5a7,#fdd2a0,#fdcc93,#fec57e,#feba63,#ffae44,#ffa11e,#ff8d00,#ff7000,#ff5800,#fd3f01,#fb2d02,#f82402,#f82402,#fa2902,#fc3501,#fe4401,#ff5700,#ff6b00,#ff8300,#ff9a0c,#ffad3f,#fec176,#fdd9af,#fdf0df,#feffff,#daf4fc,#b6e9f9,#8cddf8,#67d4f7,#47d0f7,#36cef7,#31cdf7,#33cdf7,#35cef7,#39cef7,#3bcef7,#3acef7,#36cef7,#32cdf7,#2ccdf7,#23cbf7,#13c9f7,#00c6f7,#00bff5,#00b7f4,#00adf2,#00a4ef,#009aed,#0090ea,#0087e6,#007ee2,#0073dd,#006cd9,#0067d7,#0066d6,#0068d7,#006eda,#007ae0,#0087e6,#0096eb,#00a7f0,#00b8f4,#04c8f7,#3ecff7,#6cd5f7,#8adcf8,#a3e3f9,#bbeafa,#cef0fb,#dff5fc,#eefafe,#ffffff,#fef7ee,#fdedd8,#fde1c0,#fddab2,#fdd7aa,#fdd4a3,#fdcd95,#fec37b,#ffb85f,#ffaf46)"></i><i style="background:linear-gradient(90deg,#ffa935,#ffaa37,#ffad41,#ffb14b,#ffb453,#ffb658,#ffb85d,#febb67,#fec175,#fec888,#fdd09b,#fdd4a5,#fdd6a9,#fdd5a6,#fdd19f,#fdcc92,#fec47e,#febb65,#ffaf47,#ffa221,#ff8e00,#ff7000,#ff5700,#fd3d01,#fa2a02,#f82302,#f82302,#fa2902,#fc3501,#fe4501,#ff5800,#ff6b00,#ff8300,#ff9909,#ffab3a,#febf6f,#fdd6a8,#fdedd9,#fffcf9,#e4f7fd,#c5edfa,#9ae1f8,#77d7f7,#57d2f7,#45d0f7,#42cff7,#44d0f7,#48d0f7,#4bd0f7,#4ed1f7,#4ed1f7,#4ad0f7,#45d0f7,#3fcff7,#34cdf7,#23cbf7,#0bc8f7,#00c2f6,#00baf4,#00b0f2,#00a6f0,#009ced,#0092ea,#0089e7,#0080e3,#0076de,#006eda,#0069d7,#0067d6,#0069d7,#006fdb,#007ae0,#0088e6,#0096eb,#00a6f0,#00b8f4,#03c7f7,#3ccef7,#6ad4f7,#88dcf8,#a2e3f9,#baeafa,#cef0fb,#def5fc,#ecf9fd,#fcfeff,#fef8f0,#fdeedb,#fde3c3,#fddcb4,#fdd8ac,#fdd4a4,#fdce96,#fec47c,#ffb85e,#ffaf44)"></i><i style="background:linear-gradient(90deg,#ffa833,#ffa936,#ffad3f,#ffb14a,#ffb452,#ffb658,#ffb85e,#febc67,#fec175,#fec888,#fdcf9a,#fdd4a4,#fdd5a7,#fdd4a5,#fdd19d,#fdcb8f,#fec47c,#febb65,#ffb048,#ffa323,#ff8e00,#ff7000,#ff5600,#fc3b01,#fa2802,#f72102,#f72202,#fa2802,#fc3401,#fe4401,#ff5800,#ff6c00,#ff8200,#ff9806,#ffa935,#febc68,#fdd3a2,#fdead2,#fef9f2,#effafe,#d0f0fb,#aae5f9,#85dbf8,#68d4f7,#56d2f7,#54d1f7,#57d2f7,#5bd2f7,#5fd3f7,#62d3f7,#62d3f7,#5fd3f7,#5ad2f7,#52d1f7,#46d0f7,#33cdf7,#19caf7,#00c5f7,#00bdf5,#00b2f3,#00a8f1,#009fee,#0095eb,#008be8,#0083e4,#0078df,#0070db,#006ad8,#0068d7,#006ad8,#0070db,#007be1,#0088e6,#0096ec,#00a6f0,#00b8f4,#02c7f7,#3acef7,#68d4f7,#87dbf8,#a1e3f9,#baeafa,#cef0fb,#def5fc,#ebf9fd,#fafdff,#fef9f3,#fdefdd,#fde4c6,#fdddb6,#fdd9ae,#fdd5a5,#fdce96,#fec37b,#ffb85d,#ffae43)"></i><i style="background:linear-gradient(90deg,#ffa832,#ffa934,#ffac3e,#ffb049,#ffb351,#ffb657,#ffb85e,#febc67,#fec175,#fec887,#fdce98,#fdd3a2,#fdd4a5,#fdd3a2,#fdcf9b,#fdca8c,#fec37a,#febb64,#ffb049,#ffa324,#ff8f00,#ff7000,#ff5500,#fc3a01,#f92702,#f62003,#f72102,#fa2702,#fb3301,#fe4401,#ff5800,#ff6b00,#ff8200,#ff9703,#ffa831,#feba62,#fdd09b,#fde6c9,#fef6eb,#fafdff,#dbf4fc,#baeafa,#94dff8,#78d7f7,#68d4f7,#67d4f7,#6cd4f7,#70d5f7,#73d6f7,#75d6f7,#76d7f7,#73d6f7,#6ed5f7,#66d4f7,#58d2f7,#43cff7,#29ccf7,#08c8f7,#00c0f6,#00b6f4,#00abf1,#00a1ef,#0097ec,#008ee8,#0085e5,#007be1,#0072dc,#006cd9,#006ad8,#006cd9,#0072dc,#007ce1,#0089e7,#0096ec,#00a7f0,#00b8f4,#01c7f7,#39cef7,#67d4f7,#86dbf8,#a1e3f9,#bbeafa,#cff0fb,#def5fc,#ebf9fd,#f8fdfe,#fefaf5,#fdf0df,#fde5c8,#fddeb8,#fdd9af,#fdd5a6,#fdce96,#fec37b,#ffb85d,#ffae42)"></i><i style="background:linear-gradient(90deg,#ffa831,#ffa833,#ffac3d,#ffb048,#ffb350,#ffb557,#ffb85d,#febc67,#fec175,#fec786,#fdce96,#fdd2a0,#fdd3a3,#fdd2a0,#fdce97,#fec888,#fec277,#feba63,#ffb049,#ffa325,#ff8f00,#ff7000,#ff5500,#fc3801,#f92502,#f61f03,#f62003,#f92602,#fb3201,#fd4401,#ff5800,#ff6b00,#ff8100,#ff9601,#ffa62d,#ffb85d,#fdcd94,#fde2c1,#fef2e3,#fffdfb,#e6f7fd,#c9eefa,#a5e4f9,#88dcf8,#7ad8f7,#7ad8f7,#7dd9f7,#80daf8,#83daf8,#86dbf8,#86dbf8,#84dbf8,#7fd9f8,#77d7f7,#6ad4f7,#55d2f7,#39cef7,#17caf7,#00c3f6,#00b9f4,#00aef2,#00a4ef,#009aed,#0090e9,#0087e6,#007fe2,#0075de,#006fda,#006cd9,#006eda,#0074dd,#007ee2,#008ae7,#0097ec,#00a7f0,#00b8f4,#01c7f7,#39cef7,#67d4f7,#86dbf8,#a1e3f9,#bceafa,#d0f0fb,#def5fc,#eaf8fd,#f6fcfe,#fffbf6,#fef1e1,#fde7cb,#fddfba,#fddab1,#fdd5a7,#fdce96,#fec37b,#ffb75c,#ffad41)"></i><i style="background:linear-gradient(90deg,#ffa730,#ffa832,#ffab3b,#ffaf46,#ffb24f,#ffb556,#ffb85d,#febc67,#fec175,#fec784,#fdcd94,#fdd19e,#fdd2a0,#fdd09d,#fdcc92,#fec784,#fec073,#ffb961,#ffb048,#ffa324,#ff8f00,#ff7000,#ff5500,#fc3801,#f92502,#f61e03,#f61f03,#f92502,#fb3102,#fd4301,#ff5800,#ff6b00,#ff8000,#ff9500,#ffa529,#ffb658,#fdca8c,#fddeb8,#fdefdc,#fef9f2,#f2fbfe,#d5f2fb,#b7e9f9,#99e1f8,#8adcf8,#8bddf8,#8fdef8,#92def8,#94dff8,#97e0f8,#97e0f8,#95dff8,#90def8,#87dbf8,#7ad8f7,#66d4f7,#4ad0f7,#27ccf7,#00c7f7,#00bcf5,#00b2f3,#00a7f0,#009ced,#0093ea,#008ae7,#0082e4,#0078df,#0071dc,#006fda,#0070db,#0076de,#0080e3,#008be7,#0098ec,#00a7f0,#00b8f4,#01c7f7,#39cef7,#67d4f7,#87dcf8,#a3e3f9,#bdebfa,#d0f1fb,#dff5fc,#eaf8fd,#f5fcfe,#fffcf8,#fef2e3,#fde8cd,#fde0bc,#fddab2,#fdd5a7,#fdce96,#fec37b,#ffb75c,#ffad41)"></i><i style="background:linear-gradient(90deg,#ffa730,#ffa831,#ffab3a,#ffaf45,#ffb24e,#ffb555,#ffb85d,#febc67,#fec174,#fec683,#fdcc91,#fdd09b,#fdd09d,#fdce98,#fdca8d,#fec57f,#febf6f,#ffb85e,#ffaf46,#ffa323,#ff8f00,#ff7000,#ff5400,#fc3701,#f82402,#f51e03,#f61e03,#f82402,#fb3002,#fd4301,#ff5700,#ff6b00,#ff7f00,#ff9400,#ffa325,#ffb453,#fec784,#fddab0,#fdead3,#fef5ea,#ffffff,#e2f6fc,#c8eefa,#ace6f9,#9de2f9,#9ee2f9,#a2e3f9,#a4e4f9,#a6e4f9,#a8e5f9,#a8e5f9,#a6e4f9,#a0e3f9,#96e0f8,#89dcf8,#76d7f7,#5bd2f7,#37cef7,#0ec9f7,#00c0f6,#00b5f3,#00aaf1,#00a0ee,#0095eb,#008ce8,#0085e5,#007ce1,#0075dd,#0071dc,#0073dd,#0079df,#0082e4,#008ce8,#0099ec,#00a8f0,#00b8f4,#01c7f7,#3acef7,#69d4f7,#89dcf8,#a5e4f9,#bfebfa,#d1f1fb,#dff5fc,#eaf8fd,#f4fcfe,#fffcf9,#fef2e4,#fde9cf,#fde0be,#fddbb3,#fdd6a8,#fdce96,#fec37b,#ffb75c,#ffad41)"></i><i style="background:linear-gradient(90deg,#ffa730,#ffa831,#ffaa39,#ffae43,#ffb14c,#ffb454,#ffb75c,#febb66,#fec073,#fec681,#fdca8e,#fdce97,#fdcf98,#fdcc93,#fec888,#fec37a,#febd6b,#ffb75a,#ffae44,#ffa222,#ff8f00,#ff7000,#ff5500,#fc3701,#f82402,#f51e03,#f61e03,#f82302,#fb2f02,#fd4201,#ff5700,#ff6a00,#ff7e00,#ff9200,#ffa221,#ffb24d,#fec47c,#fdd5a7,#fde5c7,#fef1e1,#fffbf6,#effafe,#d6f2fb,#c0ecfa,#b1e7f9,#b2e8f9,#b5e8f9,#b6e9f9,#b8e9fa,#b9eafa,#b9eafa,#b7e9fa,#b1e7f9,#a6e4f9,#97e0f8,#85dbf8,#6cd5f7,#48d0f7,#1ecbf7,#00c4f6,#00b9f4,#00adf2,#00a3ef,#0098ec,#008fe9,#0087e6,#0080e3,#0078df,#0075dd,#0076de,#007ce1,#0084e5,#008ee8,#009aed,#00a9f1,#00b9f4,#02c7f7,#3bcef7,#6bd4f7,#8bddf8,#a7e5f9,#c1ecfa,#d3f1fb,#e0f5fc,#eaf8fd,#f4fcfe,#fffcf9,#fef3e5,#fdead1,#fde1c0,#fddcb4,#fdd6a8,#fdce96,#fec37b,#ffb75c,#ffae41)"></i><i style="background:linear-gradient(90deg,#ffa831,#ffa731,#ffaa38,#ffae42,#ffb14b,#ffb453,#ffb75b,#febb66,#fec072,#fec57e,#fdc98a,#fdcc92,#fdcd93,#fdca8d,#fec682,#fec174,#febb66,#ffb556,#ffad41,#ffa220,#ff8e00,#ff7100,#ff5500,#fc3801,#f92502,#f61e03,#f61e03,#f82302,#fb2e02,#fd4201,#ff5700,#ff6a00,#ff7d00,#ff9100,#ffa01d,#ffb047,#fec073,#fdd19e,#fddfbc,#fdedd8,#fef6ec,#fdfeff,#e5f7fd,#d1f1fb,#c6edfa,#c6edfa,#c8eefa,#c8eefa,#c8eefa,#c9eefa,#c9eefa,#c7eefa,#c1ecfa,#b5e9f9,#a6e4f9,#93dff8,#7bd8f7,#59d2f7,#2ecdf7,#01c7f7,#00bdf5,#00b1f3,#00a6f0,#009ced,#0093ea,#008be7,#0084e5,#007ce1,#0079df,#007ae0,#007fe3,#0086e6,#0090e9,#009ced,#00aaf1,#00b9f4,#04c8f7,#3dcff7,#6ed5f7,#8edef8,#aae5f9,#c4edfa,#d4f2fb,#e1f6fc,#eaf9fd,#f4fcfe,#fffdfa,#fef4e6,#fdebd3,#fde2c2,#fddcb5,#fdd6a8,#fdce97,#fec37b,#ffb85c,#ffae42)"></i><i style="background:linear-gradient(90deg,#ffa832,#ffa731,#ffaa37,#ffad40,#ffb049,#ffb351,#ffb75a,#febb65,#febf70,#fec47c,#fec886,#fdca8d,#fdca8d,#fec887,#fec47c,#febf6f,#ffb961,#ffb452,#ffac3e,#ffa11e,#ff8e00,#ff7100,#ff5600,#fc3a01,#f92602,#f61f03,#f61e03,#f82302,#fb2e02,#fd4101,#ff5700,#ff6900,#ff7d00,#ff8f00,#ff9f18,#ffad41,#febd6a,#fdcc92,#fddab1,#fde7cc,#fef2e3,#fffbf6,#f4fcfe,#e1f6fc,#d6f2fb,#d5f2fb,#d5f2fb,#d5f2fb,#d5f2fb,#d5f2fb,#d4f2fb,#d2f1fb,#cdeffb,#c4edfa,#b5e8f9,#a1e3f9,#89dcf8,#6ad4f7,#3fcff7,#11c9f7,#00c0f6,#00b5f3,#00aaf1,#009fee,#0096ec,#008ee8,#0087e6,#0081e4,#007de2,#007fe2,#0083e4,#0089e7,#0092ea,#009dee,#00abf1,#00baf4,#07c8f7,#40cff7,#71d5f7,#92def8,#aee6f9,#c6edfa,#d6f2fb,#e2f6fc,#ebf9fd,#f4fcfe,#fffdfa,#fef4e8,#fdecd5,#fde3c3,#fdddb6,#fdd6a9,#fdce97,#fec37b,#ffb85d,#ffae43)"></i><i style="background:linear-gradient(90deg,#ffa833,#ffa831,#ffa936,#ffac3f,#ffb047,#ffb350,#ffb659,#feba64,#febe6e,#fec379,#fec682,#fec888,#fec887,#fec580,#fec176,#febc69,#ffb75c,#ffb24e,#ffab3a,#ffa01c,#ff8e00,#ff7200,#ff5800,#fd3c01,#fa2902,#f72102,#f61f03,#f82302,#fb2e02,#fd4201,#ff5700,#ff6900,#ff7c00,#ff8e00,#ff9d13,#ffab3a,#ffb961,#fec886,#fdd5a6,#fde1bf,#fdeed9,#fef6ec,#fffefc,#f1fbfe,#e7f7fd,#e4f7fd,#e3f6fd,#e2f6fc,#e1f6fc,#e0f5fc,#dff5fc,#dcf4fc,#d7f3fc,#cef0fb,#c3ecfa,#afe7f9,#97e0f8,#78d7f7,#4fd1f7,#21cbf7,#00c4f6,#00b9f4,#00adf2,#00a3ef,#009aed,#0091ea,#008ae7,#0085e5,#0082e4,#0083e4,#0086e6,#008ce8,#0094eb,#009fee,#00adf2,#00bbf5,#0ac8f7,#43cff7,#75d6f7,#95e0f8,#b2e8f9,#c9eefa,#d7f3fc,#e3f6fd,#ecf9fd,#f5fcfe,#fffdfb,#fef5e9,#fdedd7,#fde4c5,#fdddb7,#fdd6a9,#fdce97,#fec37b,#ffb85e,#ffaf45)"></i><i style="background:linear-gradient(90deg,#ffa934,#ffa831,#ffa936,#ffac3d,#ffaf46,#ffb24f,#ffb658,#feba62,#febe6c,#fec176,#fec47e,#fec682,#fec580,#fec37a,#febf6f,#feba63,#ffb556,#ffb049,#ffa936,#ff9f1a,#ff8e00,#ff7300,#ff5900,#fd4001,#fb2c02,#f82302,#f72102,#f82402,#fb2f02,#fd4201,#ff5700,#ff6900,#ff7b00,#ff8c00,#ff9b0e,#ffa832,#ffb557,#fec37a,#fdd09b,#fddbb3,#fde8ce,#fef2e2,#fef9f1,#fffefd,#f7fdfe,#f4fcfe,#f1fbfe,#effafe,#edf9fd,#ecf9fd,#eaf8fd,#e6f7fd,#e1f6fc,#d8f3fc,#cdf0fb,#bdebfa,#a4e4f9,#85dbf8,#5fd3f7,#31cdf7,#02c7f7,#00bcf5,#00b1f3,#00a7f0,#009eee,#0095eb,#008ee9,#0089e7,#0086e6,#0086e6,#0089e7,#008ee9,#0096ec,#00a2ef,#00aef2,#00bcf5,#0ec9f7,#48d0f7,#78d7f7,#9ae1f8,#b6e9f9,#cbeffb,#d9f3fc,#e4f7fd,#edf9fd,#f5fcfe,#fffdfb,#fef5ea,#fdedd9,#fde5c7,#fddeb8,#fdd7aa,#fdce97,#fec37b,#ffb85f,#ffaf46)"></i><i style="background:linear-gradient(90deg,#ffa936,#ffa832,#ffa935,#ffac3c,#ffaf44,#ffb24d,#ffb557,#ffb961,#febd6a,#fec073,#fec379,#fec47c,#fec37a,#fec073,#febc69,#ffb85d,#ffb351,#ffae43,#ffa832,#ff9e18,#ff8e00,#ff7400,#ff5c00,#fd4301,#fb3002,#f92602,#f82302,#f92502,#fb3002,#fd4301,#ff5700,#ff6900,#ff7a00,#ff8b00,#ff9909,#ffa52a,#ffb14c,#febe6e,#fdca8e,#fdd6a8,#fde2c1,#fdedd9,#fef4e6,#fef9f1,#fffcf9,#fffefc,#ffffff,#fbfeff,#f9fdfe,#f7fcfe,#f4fcfe,#f0fafe,#eaf8fd,#e1f6fc,#d6f2fc,#c9eefa,#b2e8f9,#92def8,#6ed5f7,#40cff7,#12c9f7,#00c0f6,#00b6f4,#00abf1,#00a2ef,#0099ed,#0092ea,#008de8,#008ae7,#008ae7,#008de8,#0092ea,#009aed,#00a4ef,#00b1f3,#00bef5,#14c9f7,#4dd1f7,#7dd9f7,#9ee2f9,#baeafa,#cef0fb,#dbf4fc,#e6f7fd,#eefafe,#f6fcfe,#fffdfb,#fef6eb,#fdeeda,#fde6c9,#fddeb9,#fdd7aa,#fdce97,#fec47c,#ffb960,#ffb048)"></i><i style="background:linear-gradient(90deg,#ffaa38,#ffa833,#ffa935,#ffab3b,#ffae43,#ffb14c,#ffb556,#ffb95f,#febc68,#febf70,#fec174,#fec176,#fec073,#febd6c,#feba62,#ffb557,#ffb14b,#ffac3e,#ffa62d,#ff9d15,#ff8e00,#ff7500,#ff5e00,#fe4800,#fc3501,#fa2a02,#f92602,#fa2702,#fb3202,#fe4401,#ff5800,#ff6900,#ff7a00,#ff8900,#ff9703,#ffa222,#ffae42,#feba63,#fec681,#fdd19e,#fddcb6,#fde8cd,#fdefdc,#fef3e6,#fef7ed,#fef9f2,#fffbf6,#fffcf9,#fffdfb,#fffefd,#feffff,#f9fdfe,#f3fbfe,#eaf9fd,#dff5fc,#d2f1fb,#bfebfa,#9ee2f9,#7bd8f7,#50d1f7,#22cbf7,#00c5f7,#00baf4,#00b0f2,#00a6f0,#009eee,#0096ec,#0091ea,#008ee9,#008ee9,#0091ea,#0095eb,#009dee,#00a7f0,#00b3f3,#00c0f6,#1acaf7,#53d1f7,#82daf8,#a4e4f9,#bfebfa,#d0f0fb,#ddf4fc,#e7f8fd,#effafe,#f7fdfe,#fffdfa,#fef6ec,#fdefdc,#fde6ca,#fddeba,#fdd7aa,#fdce97,#fec47c,#ffb961,#ffb04a)"></i><i style="background:linear-gradient(90deg,#ffab39,#ffa934,#ffa935,#ffab3a,#ffae42,#ffb14b,#ffb555,#ffb85e,#febb66,#febe6c,#febf70,#febf70,#febe6c,#febb65,#ffb75b,#ffb350,#ffaf44,#ffaa38,#ffa528,#ff9c12,#ff8d00,#ff7700,#ff6100,#ff4d00,#fc3b01,#fb3002,#fa2a02,#fa2b02,#fc3401,#fe4601,#ff5900,#ff6900,#ff7900,#ff8800,#ff9500,#ff9f1a,#ffaa39,#ffb659,#fec176,#fdcc92,#fdd7ab,#fde2c1,#fdead2,#fdefdc,#fef2e3,#fef4e8,#fef6ec,#fef8f1,#fefaf3,#fffbf6,#fffcf9,#fffefd,#fbfeff,#f3fbfe,#e8f8fd,#dbf4fc,#caeefa,#aae5f9,#87dbf8,#60d3f7,#34cdf7,#08c8f7,#00bff5,#00b4f3,#00abf1,#00a2ef,#009bed,#0096ec,#0093ea,#0093ea,#0095eb,#0099ed,#00a1ef,#00aaf1,#00b6f4,#00c2f6,#22cbf7,#5bd2f7,#87dcf8,#a9e5f9,#c4edfa,#d3f1fb,#dff5fc,#e9f8fd,#f0fafe,#f9fdfe,#fffdfa,#fef6ec,#fdefdd,#fde7cb,#fddeba,#fdd7aa,#fdce97,#fec47c,#feba62,#ffb14b)"></i><i style="background:linear-gradient(90deg,#ffab3b,#ffa935,#ffa935,#ffab39,#ffad41,#ffb14a,#ffb454,#ffb85c,#feba64,#febc69,#febd6b,#febd6a,#febb65,#ffb85e,#ffb454,#ffb049,#ffac3e,#ffa831,#ffa323,#ff9b0e,#ff8d00,#ff7800,#ff6400,#ff5200,#fd4101,#fc3501,#fb2f02,#fb2f02,#fc3701,#fe4800,#ff5a00,#ff6a00,#ff7900,#ff8600,#ff9200,#ff9d13,#ffa730,#ffb24f,#febd6c,#fec887,#fdd3a2,#fdddb6,#fde4c5,#fde9d0,#fdedd9,#fdf0de,#fef2e4,#fef5e9,#fef6ec,#fef7ef,#fef9f2,#fffbf7,#fffefc,#fcfeff,#f1fbfe,#e4f7fd,#d2f1fb,#b6e9f9,#93dff8,#71d5f7,#46d0f7,#1bcaf7,#00c3f6,#00b9f4,#00aff2,#00a7f0,#00a0ee,#009bed,#0098ec,#0097ec,#0099ed,#009dee,#00a5f0,#00aef2,#00b9f4,#00c4f6,#2bccf7,#63d3f7,#8dddf8,#afe7f9,#c8eefa,#d6f2fb,#e1f6fc,#eaf9fd,#f2fbfe,#fafdff,#fffcf9,#fef6ec,#fdefdd,#fde7cc,#fddfba,#fdd7aa,#fdce97,#fec47d,#feba63,#ffb24d)"></i><i style="background:linear-gradient(90deg,#ffac3d,#ffaa37,#ffa936,#ffab39,#ffad40,#ffb049,#ffb453,#ffb75b,#feba62,#febb66,#febc67,#febb65,#ffb95f,#ffb658,#ffb24d,#ffae42,#ffaa36,#ffa52b,#ffa11d,#ff9a0a,#ff8c00,#ff7900,#ff6700,#ff5700,#fe4800,#fc3b01,#fc3401,#fb3301,#fc3b01,#fe4a00,#ff5b00,#ff6a00,#ff7800,#ff8500,#ff9000,#ff9a0c,#ffa428,#ffaf47,#feba63,#fec47d,#fdcf99,#fdd8ac,#fddfba,#fde3c4,#fde8cd,#fdecd6,#fdefdb,#fef1e1,#fef3e4,#fef4e7,#fef6ec,#fef8f1,#fffbf6,#fffdfc,#f9fdfe,#ecf9fd,#daf3fc,#c2ecfa,#9fe2f9,#7ed9f7,#59d2f7,#2fcdf7,#04c8f7,#00bef5,#00b5f3,#00acf1,#00a5f0,#00a0ee,#009ded,#009ced,#009eee,#00a2ef,#00a9f1,#00b2f3,#00bcf5,#01c7f7,#36cef7,#6cd5f7,#93dff8,#b4e8f9,#cbeffb,#d8f3fc,#e3f6fd,#ecf9fd,#f3fbfe,#fcfeff,#fffcf8,#fef6ec,#fdefdd,#fde7cc,#fddeba,#fdd6a9,#fdce96,#fec47d,#feba64,#ffb24f)"></i><i style="background:linear-gradient(90deg,#ffad3f,#ffaa38,#ffaa37,#ffab39,#ffad40,#ffb049,#ffb352,#ffb75a,#ffb960,#feba64,#feba64,#ffb960,#ffb75a,#ffb351,#ffaf46,#ffab3b,#ffa72f,#ffa324,#ff9e17,#ff9806,#ff8c00,#ff7b00,#ff6a00,#ff5b00,#ff4e00,#fd4201,#fc3a01,#fc3801,#fd3f01,#ff4d00,#ff5c00,#ff6a00,#ff7800,#ff8400,#ff8e00,#ff9807,#ffa222,#ffad3f,#ffb75b,#fec175,#fdcb8f,#fdd4a4,#fddab1,#fddeb9,#fde2c2,#fde6ca,#fdead3,#fdedd9,#fdefdd,#fef1e0,#fef3e5,#fef6eb,#fef8f0,#fffbf6,#fffefd,#f4fcfe,#e2f6fc,#cbeffb,#ace6f9,#8cddf8,#6cd5f7,#44d0f7,#1acaf7,#00c3f6,#00baf4,#00b1f3,#00aaf1,#00a5f0,#00a2ef,#00a1ef,#00a3ef,#00a7f0,#00adf2,#00b6f4,#00c0f6,#0fc9f7,#42cff7,#75d6f7,#9ae1f8,#baeafa,#cff0fb,#dbf4fc,#e5f7fd,#edfafd,#f5fcfe,#feffff,#fffbf7,#fef6eb,#fdefdd,#fde7cb,#fddeb9,#fdd6a9,#fdce96,#fec47d,#febb65,#ffb350)"></i><i style="background:linear-gradient(90deg,#ffad41,#ffab3a,#ffaa38,#ffab3a,#ffad40,#ffb049,#ffb351,#ffb659,#ffb85e,#ffb961,#ffb960,#ffb75c,#ffb555,#ffb14b,#ffad40,#ffa833,#ffa428,#ffa01d,#ff9c11,#ff9601,#ff8b00,#ff7c00,#ff6d00,#ff6000,#ff5400,#fe4900,#fd4001,#fd3e01,#fd4401,#ff5000,#ff5d00,#ff6b00,#ff7700,#ff8200,#ff8c00,#ff9702,#ffa01c,#ffab39,#ffb555,#febf6f,#fec887,#fdd09d,#fdd6a8,#fddab0,#fdddb8,#fde1c0,#fde5c8,#fde9cf,#fdecd5,#fdeeda,#fdf0df,#fef3e5,#fef5ea,#fef8f0,#fffbf7,#fcfeff,#e9f8fd,#d3f1fb,#b9e9fa,#9ae1f8,#7dd9f7,#59d2f7,#30cdf7,#07c8f7,#00bff5,#00b7f4,#00aff2,#00aaf1,#00a7f0,#00a6f0,#00a8f0,#00acf1,#00b2f3,#00baf4,#00c4f6,#1ecbf7,#4fd1f7,#7dd9f7,#a1e3f9,#c0ecfa,#d2f1fb,#def5fc,#e7f7fd,#effafe,#f7fcfe,#ffffff,#fffbf5,#fef5e9,#fdefdb,#fde6ca,#fddeb8,#fdd6a8,#fdcd95,#fec47d,#febb66,#ffb452)"></i><i style="background:linear-gradient(90deg,#ffae43,#ffac3c,#ffab3a,#ffab3b,#ffad41,#ffb049,#ffb351,#ffb658,#ffb85d,#ffb85f,#ffb85d,#ffb658,#ffb350,#ffaf46,#ffaa39,#ffa62c,#ffa220,#ff9e15,#ff9a0a,#ff9400,#ff8900,#ff7d00,#ff7000,#ff6500,#ff5a00,#ff4f00,#fe4600,#fd4401,#fe4900,#ff5300,#ff5f00,#ff6b00,#ff7700,#ff8200,#ff8b00,#ff9500,#ff9f18,#ffa934,#ffb350,#febd69,#fec681,#fdcd95,#fdd2a1,#fdd6a8,#fdd9af,#fdddb6,#fde0be,#fde4c5,#fde7cb,#fdead2,#fdedd8,#fdf0de,#fef2e4,#fef5ea,#fef9f2,#fffdfc,#f1fbfe,#dbf4fc,#c5edfa,#a9e5f9,#8dddf8,#6fd5f7,#46d0f7,#1ecbf7,#00c5f7,#00bcf5,#00b5f3,#00aff2,#00acf2,#00acf1,#00adf2,#00b1f3,#00b7f4,#00bff5,#03c7f7,#2fcdf7,#5dd3f7,#85dbf8,#a8e5f9,#c6edfa,#d5f2fb,#e0f5fc,#e9f8fd,#f1fbfe,#f8fdfe,#fffefd,#fefaf3,#fef4e7,#fdeeda,#fde6c9,#fdddb7,#fdd5a7,#fdcd94,#fec47d,#febb66,#ffb453)"></i><i style="background:linear-gradient(90deg,#ffaf45,#ffac3e,#ffab3c,#ffac3d,#ffae42,#ffb04a,#ffb351,#ffb657,#ffb75c,#ffb85d,#ffb75b,#ffb555,#ffb14d,#ffad41,#ffa833,#ffa325,#ff9f19,#ff9b0f,#ff9704,#ff9100,#ff8800,#ff7e00,#ff7300,#ff6a00,#ff5f00,#ff5500,#ff4d00,#fe4a00,#ff4e00,#ff5600,#ff6100,#ff6c00,#ff7700,#ff8100,#ff8a00,#ff9400,#ff9d14,#ffa730,#ffb14c,#febb65,#fec47c,#fdcb8e,#fdcf9a,#fdd2a1,#fdd5a7,#fdd9ae,#fddcb5,#fddfbb,#fde2c2,#fde5c8,#fde9d0,#fdedd8,#fdf0de,#fef2e4,#fef6eb,#fffbf6,#f9fdfe,#e3f6fd,#cef0fb,#b8e9fa,#9de2f9,#7fd9f8,#5cd3f7,#36cef7,#0fc9f7,#00c2f6,#00bbf5,#00b5f3,#00b2f3,#00b1f3,#00b3f3,#00b7f4,#00bcf5,#00c3f6,#15caf7,#3fcff7,#6bd4f7,#8eddf8,#afe7f9,#caeefa,#d9f3fc,#e3f6fd,#ebf9fd,#f3fbfe,#fbfeff,#fffdfb,#fef9f1,#fef3e5,#fdedd8,#fde5c7,#fdddb6,#fdd5a6,#fdcd93,#fec47d,#febc67,#ffb555)"></i><i style="background:linear-gradient(90deg,#ffb047,#ffad41,#ffac3e,#ffad3f,#ffae44,#ffb14b,#ffb352,#ffb557,#ffb75b,#ffb75b,#ffb659,#ffb453,#ffb049,#ffac3c,#ffa62d,#ffa11e,#ff9c12,#ff9908,#ff9500,#ff8f00,#ff8700,#ff7e00,#ff7600,#ff6e00,#ff6400,#ff5a00,#ff5200,#ff5000,#ff5300,#ff5900,#ff6200,#ff6c00,#ff7700,#ff8000,#ff8900,#ff9300,#ff9c12,#ffa62d,#ffb049,#feba62,#fec278,#fec888,#fdcc93,#fdcf9a,#fdd2a0,#fdd5a6,#fdd8ac,#fddbb2,#fddeb8,#fde1bf,#fde5c8,#fde9d0,#fdedd8,#fdf0de,#fef3e5,#fef8f0,#fffefe,#ebf9fd,#d7f3fc,#c6edfa,#ade6f9,#8fdef8,#71d5f7,#4dd1f7,#27ccf7,#02c7f7,#00c0f6,#00bbf5,#00b8f4,#00b7f4,#00b8f4,#00bcf5,#00c2f6,#05c8f7,#28ccf7,#50d1f7,#77d7f7,#97e0f8,#b6e9f9,#cef0fb,#dcf4fc,#e5f7fd,#edf9fd,#f5fcfe,#fdfeff,#fffcf9,#fef8ef,#fef2e3,#fdecd6,#fde4c5,#fddcb5,#fdd4a5,#fdcc92,#fec47c,#febc68,#ffb556)"></i><i style="background:linear-gradient(90deg,#ffb049,#ffae43,#ffad41,#ffae42,#ffaf46,#ffb14c,#ffb452,#ffb557,#ffb75a,#ffb75a,#ffb657,#ffb351,#ffaf47,#ffaa39,#ffa428,#ff9f18,#ff9a0c,#ff9702,#ff9200,#ff8c00,#ff8500,#ff7f00,#ff7800,#ff7100,#ff6800,#ff5e00,#ff5700,#ff5500,#ff5700,#ff5c00,#ff6400,#ff6d00,#ff7700,#ff8000,#ff8800,#ff9200,#ff9c10,#ffa52b,#ffaf46,#ffb960,#fec175,#fec683,#fdca8d,#fdcd94,#fdcf9a,#fdd29f,#fdd4a4,#fdd6a9,#fdd9af,#fdddb7,#fde1bf,#fde5c7,#fde9cf,#fdedd8,#fdf0df,#fef5ea,#fffcf8,#f3fbfe,#e0f5fc,#d0f0fb,#bcebfa,#9fe2f9,#82daf8,#63d3f7,#3fcff7,#1acaf7,#00c6f7,#00c0f6,#00bdf5,#00bcf5,#00bef5,#00c2f6,#00c7f7,#1acaf7,#3acef7,#60d3f7,#82daf8,#9fe2f9,#bcebfa,#d1f1fb,#dff5fc,#e8f8fd,#effafe,#f7fcfe,#ffffff,#fffbf7,#fef7ed,#fef1e0,#fdead3,#fde3c2,#fddbb3,#fdd4a3,#fdcc91,#fec47c,#febc69,#ffb658)"></i><i style="background:linear-gradient(90deg,#ffb14c,#ffaf46,#ffae44,#ffaf45,#ffb049,#ffb24e,#ffb454,#ffb657,#ffb659,#ffb659,#ffb556,#ffb34f,#ffaf44,#ffa936,#ffa324,#ff9d13,#ff9806,#ff9400,#ff9000,#ff8a00,#ff8400,#ff7f00,#ff7a00,#ff7500,#ff6c00,#ff6200,#ff5b00,#ff5900,#ff5a00,#ff5f00,#ff6600,#ff6e00,#ff7700,#ff8000,#ff8800,#ff9200,#ff9b0e,#ffa529,#ffaf45,#ffb85e,#fec072,#fec57f,#fec887,#fdca8e,#fdcd93,#fdcf98,#fdd19d,#fdd3a1,#fdd5a7,#fdd9af,#fdddb7,#fde1bf,#fde5c7,#fde9d0,#fdedd9,#fef2e3,#fef9f1,#fcfeff,#e8f8fd,#d9f3fc,#c9eefa,#aee6f9,#91def8,#77d7f7,#57d2f7,#33cdf7,#13c9f7,#00c6f7,#00c3f6,#00c2f6,#00c4f6,#03c7f7,#17caf7,#2fcdf7,#4cd1f7,#70d5f7,#8cddf8,#a8e5f9,#c3ecfa,#d5f2fb,#e2f6fd,#ebf9fd,#f2fbfe,#f9fdff,#fffefd,#fffaf5,#fef5ea,#fdf0de,#fde9d0,#fde2c0,#fddab1,#fdd3a2,#fdcc90,#fec47d,#febd6a,#ffb75a)"></i><i style="background:linear-gradient(90deg,#ffb24f,#ffb04a,#ffb048,#ffb048,#ffb14c,#ffb351,#ffb555,#ffb658,#ffb659,#ffb659,#ffb555,#ffb24e,#ffae43,#ffa833,#ffa221,#ff9b0f,#ff9702,#ff9200,#ff8d00,#ff8800,#ff8300,#ff7f00,#ff7c00,#ff7800,#ff6f00,#ff6600,#ff6000,#ff5d00,#ff5e00,#ff6200,#ff6700,#ff6f00,#ff7700,#ff8000,#ff8800,#ff9100,#ff9b0d,#ffa428,#ffae43,#ffb85d,#febf70,#fec37b,#fec683,#fdc989,#fdca8d,#fdcc91,#fdcd95,#fdcf9a,#fdd2a0,#fdd6a8,#fddab0,#fdddb8,#fde1bf,#fde5c8,#fdead2,#fdefdd,#fef6eb,#fffdfb,#f1fbfe,#e2f6fc,#d2f1fb,#bceafa,#a0e3f9,#88dcf8,#6ed5f7,#4bd0f7,#2bccf7,#14c9f7,#06c8f7,#03c7f7,#0bc8f7,#1bcaf7,#2ecdf7,#43cff7,#5ed3f7,#7cd8f7,#96e0f8,#b0e7f9,#c8eefa,#d9f3fc,#e5f7fd,#edf9fd,#f4fcfe,#fcfeff,#fffdfb,#fef9f2,#fef4e8,#fdefdb,#fde8cd,#fde1be,#fddab0,#fdd3a1,#fdcb90,#fec47d,#febd6b,#ffb75c)"></i><i style="background:linear-gradient(90deg,#ffb352,#ffb24d,#ffb14c,#ffb24d,#ffb350,#ffb453,#ffb557,#ffb659,#ffb75a,#ffb659,#ffb555,#ffb24d,#ffad41,#ffa831,#ffa11f,#ff9a0c,#ff9500,#ff9100,#ff8c00,#ff8600,#ff8200,#ff7f00,#ff7d00,#ff7900,#ff7200,#ff6900,#ff6300,#ff6100,#ff6100,#ff6400,#ff6900,#ff7000,#ff7800,#ff8000,#ff8800,#ff9100,#ff9b0d,#ffa427,#ffae42,#ffb75b,#febe6e,#fec278,#fec57f,#fec784,#fec888,#fdc98a,#fdca8d,#fdcc91,#fdcf98,#fdd2a1,#fdd6a9,#fddab0,#fdddb8,#fde1c0,#fde6ca,#fdecd7,#fef3e5,#fffaf5,#f9fdfe,#eaf9fd,#dbf4fc,#c8eefa,#afe7f9,#98e0f8,#80d9f8,#62d3f7,#44cff7,#2dcdf7,#20cbf7,#1dcbf7,#24ccf7,#33cdf7,#44d0f7,#57d2f7,#6fd5f7,#86dbf8,#9fe2f9,#b8e9fa,#cdeffb,#dcf4fc,#e8f8fd,#f0fafe,#f7fdfe,#ffffff,#fffcf8,#fef8f0,#fef3e5,#fdeed9,#fde6ca,#fde0bc,#fdd9af,#fdd2a1,#fdcb8f,#fec47d,#febe6c,#ffb85e)"></i><i style="background:linear-gradient(90deg,#ffb555,#ffb351,#ffb350,#ffb351,#ffb454,#ffb557,#ffb659,#ffb75a,#ffb75a,#ffb659,#ffb454,#ffb24d,#ffad41,#ffa730,#ffa01d,#ff9a0b,#ff9500,#ff9000,#ff8b00,#ff8500,#ff8200,#ff8000,#ff7e00,#ff7b00,#ff7400,#ff6c00,#ff6600,#ff6400,#ff6500,#ff6700,#ff6b00,#ff7100,#ff7900,#ff8100,#ff8800,#ff9100,#ff9a0c,#ffa426,#ffad41,#ffb75a,#febd6c,#fec176,#fec47c,#fec580,#fec683,#fec785,#fec886,#fdc98a,#fdcc91,#fdcf9b,#fdd3a3,#fdd7aa,#fddab1,#fddeb9,#fde2c2,#fde8cf,#fdf0de,#fef8ef,#fffefd,#f2fbfe,#e3f6fd,#d1f1fb,#bdebfa,#a7e5f9,#90def8,#77d7f7,#5cd2f7,#46d0f7,#39cef7,#36cef7,#3dcff7,#4bd0f7,#5ad2f7,#6bd4f7,#7cd8f7,#91def8,#a8e5f9,#bfebfa,#d1f1fb,#e0f5fc,#ebf9fd,#f3fbfe,#fafeff,#fffefd,#fffbf6,#fef7ed,#fef2e3,#fdedd7,#fde5c8,#fddfbb,#fdd8ad,#fdd2a0,#fdcb8f,#fec47e,#febe6e,#ffb960)"></i><i style="background:linear-gradient(90deg,#ffb658,#ffb555,#ffb555,#ffb556,#ffb658,#ffb75a,#ffb75b,#ffb75c,#ffb75b,#ffb659,#ffb454,#ffb14c,#ffad40,#ffa730,#ffa01d,#ff9a0a,#ff9400,#ff8f00,#ff8a00,#ff8500,#ff8100,#ff8000,#ff7f00,#ff7b00,#ff7500,#ff6e00,#ff6a00,#ff6700,#ff6700,#ff6900,#ff6d00,#ff7300,#ff7a00,#ff8100,#ff8900,#ff9100,#ff9a0c,#ffa426,#ffad41,#ffb659,#febd6a,#fec073,#fec278,#fec47c,#fec57f,#fec580,#fec581,#fec783,#fdc98a,#fdcd93,#fdd19d,#fdd4a4,#fdd7ab,#fddbb2,#fddfba,#fde5c6,#fdedd8,#fef5e9,#fffcf8,#fafdff,#ebf9fd,#d9f3fc,#c9eefa,#b6e9f9,#a1e3f9,#89dcf8,#73d6f7,#5fd3f7,#52d1f7,#4fd1f7,#55d2f7,#62d3f7,#70d5f7,#7bd8f7,#88dcf8,#9be1f9,#b0e7f9,#c6edfa,#d6f2fb,#e4f7fd,#effafe,#f6fcfe,#feffff,#fffdfa,#fef9f3,#fef6eb,#fef1e1,#fdecd5,#fde4c6,#fddeb9,#fdd8ac,#fdd29f,#fdcb8f,#fec57f,#febf6f,#feba62)"></i><i style="background:linear-gradient(90deg,#ffb75c,#ffb659,#ffb659,#ffb75b,#ffb85d,#ffb85d,#ffb85e,#ffb85e,#ffb85c,#ffb75a,#ffb555,#ffb24d,#ffad40,#ffa730,#ffa11e,#ff9a0c,#ff9500,#ff9000,#ff8a00,#ff8500,#ff8200,#ff8100,#ff7f00,#ff7c00,#ff7700,#ff7100,#ff6c00,#ff6a00,#ff6a00,#ff6c00,#ff6f00,#ff7500,#ff7b00,#ff8300,#ff8a00,#ff9200,#ff9b0d,#ffa426,#ffad40,#ffb658,#febc68,#febf70,#fec175,#fec379,#fec37b,#fec37b,#fec47c,#fec47e,#fec784,#fdca8d,#fdce97,#fdd19f,#fdd5a5,#fdd8ac,#fddbb4,#fde1bf,#fdead1,#fef2e3,#fef9f2,#fffefd,#f2fbfe,#e2f6fc,#d2f1fb,#c5edfa,#b1e7f9,#9ae1f8,#85dbf8,#76d7f7,#6cd4f7,#68d4f7,#6dd5f7,#76d7f7,#80d9f8,#89dcf8,#95dff8,#a5e4f9,#b9eafa,#cceffb,#dbf4fc,#e8f8fd,#f2fbfe,#fafdff,#fffefd,#fffbf7,#fef8f0,#fef4e8,#fdf0de,#fdead3,#fde4c5,#fdddb7,#fdd7ab,#fdd19f,#fdcb8f,#fec580,#fec071,#febb65)"></i><i style="background:linear-gradient(90deg,#ffb960,#ffb85e,#ffb85e,#ffb960,#ffb961,#ffb961,#ffb960,#ffb95f,#ffb85e,#ffb75b,#ffb555,#ffb24d,#ffad41,#ffa832,#ffa11f,#ff9b0e,#ff9600,#ff9100,#ff8b00,#ff8600,#ff8300,#ff8200,#ff8100,#ff7d00,#ff7800,#ff7300,#ff6f00,#ff6d00,#ff6d00,#ff6e00,#ff7200,#ff7700,#ff7d00,#ff8400,#ff8b00,#ff9300,#ff9b0e,#ffa426,#ffad40,#ffb556,#febb66,#febe6e,#fec072,#fec176,#fec277,#fec277,#fec277,#fec37a,#fec57f,#fec888,#fdcc91,#fdcf9a,#fdd2a0,#fdd5a6,#fdd8ad,#fdddb8,#fde6c9,#fdefdd,#fef6ec,#fffcf7,#fafdff,#eaf8fd,#dbf4fc,#cff0fb,#c1ecfa,#abe6f9,#97e0f8,#89dcf8,#80d9f8,#7cd9f7,#80d9f8,#87dcf8,#90def8,#98e0f8,#a2e3f9,#b0e7f9,#c2ecfa,#d2f1fb,#e0f5fc,#edf9fd,#f7fcfe,#feffff,#fffdfa,#fefaf4,#fef7ed,#fef3e5,#fdefdc,#fde9d0,#fde3c3,#fdddb6,#fdd7aa,#fdd19e,#fdcb8f,#fec581,#fec073,#febc68)"></i><i style="background:linear-gradient(90deg,#feba63,#feba62,#feba63,#febb65,#febb66,#febb65,#feba63,#feba62,#ffb95f,#ffb75c,#ffb556,#ffb24e,#ffae42,#ffa833,#ffa222,#ff9c11,#ff9704,#ff9300,#ff8d00,#ff8800,#ff8500,#ff8400,#ff8200,#ff7e00,#ff7a00,#ff7600,#ff7200,#ff7000,#ff6f00,#ff7100,#ff7500,#ff7900,#ff7f00,#ff8600,#ff8d00,#ff9400,#ff9c0f,#ffa427,#ffad40,#ffb555,#feba63,#febd6b,#febf70,#fec073,#fec174,#fec174,#fec174,#fec176,#fec37b,#fec783,#fdca8c,#fdcd94,#fdd09c,#fdd3a1,#fdd6a7,#fddab1,#fde2c2,#fdedd7,#fef3e6,#fef9f2,#fffefd,#f3fbfe,#e5f7fd,#d9f3fc,#cdeffb,#bbeafa,#a9e5f9,#9ce1f9,#93dff8,#8fdef8,#92dff8,#98e0f8,#9fe2f9,#a7e4f9,#afe7f9,#bbeafa,#caeffa,#d8f3fc,#e6f7fd,#f2fbfe,#fbfeff,#fffefc,#fffbf6,#fef8f0,#fef5e9,#fef1e2,#fdedd9,#fde8ce,#fde2c1,#fddcb5,#fdd6a9,#fdd19e,#fdcb90,#fec682,#fec175,#febd6b)"></i><i style="background:linear-gradient(90deg,#febc67,#febb66,#febc68,#febd6a,#febd6a,#febc68,#febb66,#feba64,#ffb961,#ffb85d,#ffb658,#ffb34f,#ffae44,#ffa936,#ffa426,#ff9e16,#ff9909,#ff9500,#ff9000,#ff8a00,#ff8700,#ff8600,#ff8400,#ff8000,#ff7c00,#ff7900,#ff7500,#ff7300,#ff7300,#ff7400,#ff7800,#ff7c00,#ff8200,#ff8800,#ff8f00,#ff9600,#ff9c12,#ffa529,#ffad40,#ffb454,#ffb961,#febc68,#febe6d,#febf70,#febf71,#febf71,#febf71,#fec073,#fec278,#fec580,#fec888,#fdcb90,#fdce97,#fdd09d,#fdd3a2,#fdd8ac,#fddfbb,#fde9d0,#fdf0e0,#fef6eb,#fffbf6,#fcfeff,#eefafe,#e3f6fd,#d7f3fc,#caeffa,#bbeafa,#afe7f9,#a6e4f9,#a2e3f9,#a4e4f9,#a9e5f9,#afe7f9,#b5e9f9,#bdebfa,#c7eefa,#d2f1fb,#dff5fc,#edf9fd,#f8fdfe,#fffefe,#fffcf8,#fef9f3,#fef6ec,#fef3e6,#fdf0de,#fdecd6,#fde7cb,#fde1bf,#fddbb3,#fdd6a8,#fdd09d,#fdcb90,#fec683,#fec277,#febe6e)"></i><i style="background:linear-gradient(90deg,#febd6c,#febd6b,#febe6c,#febe6e,#febe6e,#febd6c,#febc69,#febb66,#feba63,#ffb95f,#ffb659,#ffb351,#ffaf46,#ffaa39,#ffa52a,#ffa01b,#ff9b0f,#ff9704,#ff9300,#ff8e00,#ff8b00,#ff8900,#ff8700,#ff8200,#ff7e00,#ff7c00,#ff7900,#ff7600,#ff7600,#ff7800,#ff7b00,#ff7f00,#ff8400,#ff8b00,#ff9100,#ff9704,#ff9e16,#ffa52b,#ffad40,#ffb452,#ffb85f,#febb66,#febd6a,#febe6d,#febe6e,#febe6e,#febf6f,#febf71,#fec176,#fec47d,#fec784,#fdca8c,#fdcc92,#fdce98,#fdd19e,#fdd5a6,#fddcb5,#fde5c8,#fdeed9,#fef3e5,#fef8f0,#fffdfb,#f8fdfe,#edf9fd,#e2f6fd,#d6f2fb,#cbeffa,#c2ecfa,#b9eafa,#b4e8f9,#b6e9f9,#baeafa,#bfebfa,#c5edfa,#c9eefa,#d0f0fb,#dbf4fc,#e7f8fd,#f4fcfe,#feffff,#fffcf9,#fefaf4,#fef7ee,#fef4e8,#fef1e2,#fdeedb,#fdead3,#fde5c8,#fde0bd,#fddab1,#fdd5a6,#fdd09c,#fdcb90,#fec784,#fec37a,#fec071)"></i><i style="background:linear-gradient(90deg,#febf70,#febf6f,#febf70,#fec072,#fec071,#febf6f,#febd6c,#febc69,#febb65,#ffb961,#ffb75b,#ffb453,#ffb049,#ffac3d,#ffa72f,#ffa221,#ff9e16,#ff9a0b,#ff9601,#ff9200,#ff8f00,#ff8d00,#ff8a00,#ff8500,#ff8200,#ff7f00,#ff7d00,#ff7a00,#ff7a00,#ff7c00,#ff7f00,#ff8200,#ff8700,#ff8d00,#ff9400,#ff9909,#ff9f1a,#ffa62d,#ffad40,#ffb351,#ffb75c,#feba63,#febc67,#febd6a,#febd6c,#febe6c,#febe6d,#febf6f,#fec174,#fec37a,#fec681,#fec888,#fdcb8e,#fdcd93,#fdcf99,#fdd3a2,#fdd9af,#fde2c1,#fdead2,#fdf0de,#fef5e9,#fefaf4,#fffefd,#f8fdfe,#edfafd,#e1f6fc,#d7f3fc,#d1f1fb,#caeffa,#c6edfa,#c7eefa,#c9eefa,#cceffb,#d0f0fb,#d4f2fb,#daf4fc,#e4f7fd,#f0fafe,#fcfeff,#fffdfa,#fefaf5,#fef8ef,#fef5ea,#fef2e4,#fdf0de,#fdedd7,#fde8cf,#fde4c5,#fddfbb,#fdd9b0,#fdd4a5,#fdd09c,#fdcb90,#fec785,#fec47c,#fec175)"></i><i style="background:linear-gradient(90deg,#fec174,#fec073,#fec174,#fec175,#fec175,#fec072,#febf6f,#febd6b,#febc68,#feba63,#ffb85e,#ffb556,#ffb14c,#ffad41,#ffa935,#ffa528,#ffa11d,#ff9d13,#ff990a,#ff9601,#ff9300,#ff9100,#ff8e00,#ff8900,#ff8600,#ff8400,#ff8100,#ff7e00,#ff7e00,#ff8000,#ff8200,#ff8600,#ff8b00,#ff9100,#ff9702,#ff9c10,#ffa11f,#ffa730,#ffad41,#ffb24f,#ffb75a,#ffb961,#febb65,#febc68,#febc69,#febd6a,#febd6c,#febe6e,#fec073,#fec279,#fec57f,#fec785,#fdc98a,#fdcb8f,#fdcd95,#fdd19e,#fdd7aa,#fddeba,#fde6ca,#fdedd7,#fef1e2,#fef6ec,#fffbf5,#fffefc,#f9fdfe,#edf9fd,#e4f7fd,#def5fc,#d8f3fc,#d3f1fb,#d3f1fb,#d5f2fb,#d8f3fc,#dbf4fc,#dff5fc,#e6f7fd,#effafe,#fafdff,#fffdfb,#fffaf5,#fef8ef,#fef5ea,#fef3e5,#fdf0df,#fdeeda,#fdead3,#fde6ca,#fde2c2,#fddeb8,#fdd8ae,#fdd4a4,#fdcf9b,#fdcb90,#fec886,#fec57e,#fec278)"></i><i style="background:linear-gradient(90deg,#fec278,#fec277,#fec278,#fec279,#fec278,#fec175,#fec071,#febe6e,#febd6a,#febb66,#ffb960,#ffb659,#ffb350,#ffaf46,#ffab3b,#ffa730,#ffa426,#ffa01c,#ff9d13,#ff9a0b,#ff9805,#ff9600,#ff9200,#ff8e00,#ff8b00,#ff8800,#ff8500,#ff8300,#ff8300,#ff8400,#ff8700,#ff8a00,#ff8e00,#ff9400,#ff9909,#ff9e16,#ffa324,#ffa833,#ffae42,#ffb24e,#ffb658,#ffb85f,#feba63,#febb65,#febc67,#febc69,#febd6b,#febe6e,#fec072,#fec277,#fec47d,#fec683,#fec887,#fdca8c,#fdcc91,#fdcf9a,#fdd5a6,#fddbb4,#fde2c2,#fde8cf,#fdeedb,#fef3e5,#fef7ee,#fefaf5,#fffdfb,#f9fdff,#f1fbfe,#ecf9fd,#e5f7fd,#e0f5fc,#dff5fc,#e1f6fc,#e3f6fd,#e6f7fd,#eaf9fd,#f2fbfe,#fbfeff,#fffdfc,#fffaf5,#fef8ef,#fef5ea,#fef3e5,#fdf1e0,#fdeedb,#fdecd5,#fde8cd,#fde4c6,#fde0be,#fddcb5,#fdd7ab,#fdd3a2,#fdcf99,#fdcb90,#fec887,#fec581,#fec37b)"></i><i style="background:linear-gradient(90deg,#fec47c,#fec37b,#fec47c,#fec47c,#fec37b,#fec278,#fec174,#febf70,#febe6d,#febc68,#feba63,#ffb75c,#ffb454,#ffb14b,#ffad41,#ffaa38,#ffa72e,#ffa325,#ffa01d,#ff9e16,#ff9c10,#ff9a0a,#ff9702,#ff9300,#ff9000,#ff8d00,#ff8a00,#ff8800,#ff8700,#ff8900,#ff8b00,#ff8e00,#ff9200,#ff9704,#ff9c11,#ffa11e,#ffa52a,#ffaa37,#ffae43,#ffb24d,#ffb556,#ffb85d,#ffb961,#feba64,#febb66,#febc68,#febd6a,#febe6e,#fec072,#fec277,#fec47c,#fec681,#fec785,#fdc989,#fdcb8e,#fdce96,#fdd3a2,#fdd9ae,#fddfba,#fde4c6,#fdead3,#fdf0de,#fef4e6,#fef6ed,#fef9f3,#fffdfa,#feffff,#fafdff,#f3fbfe,#edf9fd,#ecf9fd,#edf9fd,#eefafe,#f1fbfe,#f6fcfe,#feffff,#fffdfa,#fefaf4,#fef7ee,#fef5e9,#fef2e4,#fdf0e0,#fdeedb,#fdecd6,#fde9cf,#fde5c8,#fde2c1,#fddeba,#fddbb2,#fdd6a9,#fdd2a1,#fdce98,#fdcb90,#fec888,#fec683,#fec57f)"></i><i style="background:linear-gradient(90deg,#fec580,#fec57f,#fec57f,#fec57f,#fec47d,#fec37b,#fec277,#fec073,#febf6f,#febd6b,#febb66,#ffb95f,#ffb658,#ffb350,#ffb048,#ffad40,#ffaa37,#ffa72f,#ffa428,#ffa222,#ffa01b,#ff9d14,#ff9b0d,#ff9805,#ff9500,#ff9200,#ff8f00,#ff8d00,#ff8d00,#ff8e00,#ff9000,#ff9300,#ff9601,#ff9a0d,#ff9f19,#ffa325,#ffa731,#ffab3b,#ffaf44,#ffb24d,#ffb555,#ffb75b,#ffb960,#feba62,#febb64,#febc67,#febd6a,#febe6e,#fec072,#fec276,#fec37b,#fec57f,#fec683,#fec887,#fdca8c,#fdcd93,#fdd19e,#fdd6a9,#fddbb3,#fde0bd,#fde6c9,#fdecd7,#fdf0df,#fef3e5,#fef6eb,#fef9f2,#fffbf7,#fffcf9,#fffefe,#fafeff,#f8fdfe,#f9fdfe,#fafdff,#fdfeff,#fffefd,#fffbf7,#fef9f1,#fef6ed,#fef4e8,#fef2e3,#fdf0de,#fdeeda,#fdecd6,#fde9cf,#fde6c9,#fde3c2,#fde0bc,#fdddb6,#fdd9af,#fdd5a7,#fdd19f,#fdce97,#fdcb8f,#fdc989,#fec785,#fec682)"></i><i style="background:linear-gradient(90deg,#fec784,#fec683,#fec682,#fec681,#fec580,#fec47e,#fec37a,#fec176,#fec072,#febe6e,#febc69,#feba63,#ffb75c,#ffb555,#ffb24e,#ffb048,#ffad40,#ffaa38,#ffa832,#ffa62d,#ffa427,#ffa11f,#ff9f18,#ff9c11,#ff9a0a,#ff9704,#ff9500,#ff9200,#ff9200,#ff9300,#ff9500,#ff9703,#ff9a0b,#ff9e15,#ffa221,#ffa62d,#ffaa37,#ffad3f,#ffaf46,#ffb24d,#ffb454,#ffb75a,#ffb85f,#ffb961,#feba64,#febc67,#febd6a,#febe6e,#fec072,#fec276,#fec37b,#fec57e,#fec682,#fec785,#fdc98a,#fdcc91,#fdd09b,#fdd4a5,#fdd8ad,#fddcb6,#fde2c1,#fde8ce,#fdedd8,#fdefdd,#fef2e3,#fef5ea,#fef7ee,#fef8f0,#fefaf4,#fffcf9,#fffdfb,#fffdfb,#fffdfa,#fffcf8,#fefaf4,#fef7ee,#fef5e9,#fef3e5,#fef1e1,#fdefdc,#fdedd8,#fdebd4,#fde8cf,#fde6c9,#fde3c3,#fde0bd,#fdddb8,#fddbb2,#fdd7ab,#fdd4a4,#fdd19d,#fdcd95,#fdcb8f,#fdc98a,#fec887,#fec785)"></i><i style="background:linear-gradient(90deg,#fec887,#fec886,#fec785,#fec784,#fec683,#fec580,#fec47d,#fec379,#fec175,#fec071,#febe6c,#febc67,#ffb961,#ffb75b,#ffb555,#ffb24f,#ffb048,#ffad41,#ffab3c,#ffaa38,#ffa832,#ffa52a,#ffa223,#ffa01c,#ff9e16,#ff9b0f,#ff9909,#ff9804,#ff9704,#ff9806,#ff990a,#ff9b0e,#ff9d15,#ffa11e,#ffa529,#ffa934,#ffac3d,#ffae43,#ffb048,#ffb24e,#ffb454,#ffb75a,#ffb85e,#ffb961,#feba64,#febc67,#febd6b,#febf6f,#fec073,#fec277,#fec37b,#fec57e,#fec681,#fec785,#fdc989,#fdcb8f,#fdce98,#fdd2a1,#fdd6a8,#fdd9af,#fddeb9,#fde4c6,#fde9cf,#fdecd5,#fdeedb,#fef1e2,#fef3e5,#fef4e7,#fef6eb,#fef8f0,#fef9f3,#fef9f3,#fef9f2,#fef8f0,#fef6ec,#fef3e6,#fef1e1,#fdf0de,#fdeeda,#fdecd6,#fdead1,#fde7cd,#fde5c8,#fde2c2,#fde0bd,#fdddb8,#fddbb3,#fdd9ae,#fdd6a8,#fdd3a2,#fdd09b,#fdcd94,#fdcb8e,#fdc98b,#fdc989,#fec888)"></i><i style="background:linear-gradient(90deg,#fdc98b,#fdc98a,#fec888,#fec887,#fec785,#fec683,#fec580,#fec47c,#fec278,#fec174,#febf70,#febd6b,#febb65,#ffb960,#ffb75b,#ffb557,#ffb350,#ffb14a,#ffaf45,#ffae42,#ffab3c,#ffa934,#ffa62d,#ffa428,#ffa221,#ff9f1a,#ff9d14,#ff9c11,#ff9c10,#ff9c12,#ff9e15,#ff9f19,#ffa11f,#ffa428,#ffa831,#ffab3b,#ffae42,#ffaf47,#ffb14b,#ffb24f,#ffb454,#ffb75a,#ffb85e,#ffb961,#feba64,#febc68,#febd6c,#febf70,#fec174,#fec278,#fec37b,#fec57e,#fec681,#fec784,#fec888,#fdca8d,#fdcd95,#fdd19e,#fdd4a3,#fdd6a9,#fddbb3,#fde0be,#fde5c7,#fde7cc,#fdead3,#fdeeda,#fdefdd,#fdf0de,#fef2e2,#fef4e8,#fef5ea,#fef6eb,#fef5ea,#fef4e8,#fef3e4,#fdf0de,#fdedd9,#fdecd7,#fdebd3,#fde8ce,#fde6c9,#fde4c5,#fde2c1,#fddfbc,#fdddb7,#fddbb3,#fdd9af,#fdd7aa,#fdd4a5,#fdd29f,#fdcf99,#fdcc93,#fdcb8e,#fdca8c,#fdc98b,#fdca8b)"></i><i style="background:linear-gradient(90deg,#fdcb8e,#fdca8d,#fdc98b,#fdc989,#fec888,#fec785,#fec683,#fec57f,#fec37b,#fec277,#fec073,#febf6f,#febd6a,#febb65,#ffb961,#ffb85d,#ffb658,#ffb452,#ffb24e,#ffb14b,#ffaf45,#ffac3e,#ffaa37,#ffa832,#ffa62c,#ffa325,#ffa220,#ffa01d,#ffa01c,#ffa11e,#ffa221,#ffa325,#ffa52a,#ffa831,#ffaa39,#ffad41,#ffb047,#ffb14b,#ffb24e,#ffb351,#ffb555,#ffb75b,#ffb95f,#feba62,#febb65,#febc69,#febe6d,#fec071,#fec175,#fec279,#fec47c,#fec57f,#fec682,#fec784,#fec888,#fdca8d,#fdcd93,#fdcf9b,#fdd2a0,#fdd4a5,#fdd8ad,#fdddb7,#fde1bf,#fde3c4,#fde6ca,#fdead2,#fdecd6,#fdecd7,#fdeeda,#fdf1e0,#fef2e3,#fef2e3,#fef2e2,#fef1e1,#fdefdd,#fdecd7,#fde9d1,#fde8ce,#fde7cb,#fde4c6,#fde2c2,#fde1bf,#fddfbb,#fddcb6,#fddab1,#fdd9ae,#fdd7aa,#fdd5a6,#fdd3a2,#fdd09d,#fdce97,#fdcc91,#fdca8d,#fdca8c,#fdca8d,#fdcb8e)"></i><i style="background:linear-gradient(90deg,#fdcc91,#fdcb8f,#fdca8d,#fdca8c,#fdc98a,#fec888,#fec785,#fec682,#fec57e,#fec37a,#fec276,#fec072,#febe6e,#febd6a,#febc67,#feba64,#ffb95f,#ffb75a,#ffb556,#ffb453,#ffb24e,#ffaf47,#ffad41,#ffac3c,#ffaa37,#ffa730,#ffa62b,#ffa529,#ffa528,#ffa529,#ffa62c,#ffa730,#ffa935,#ffab3a,#ffad40,#ffb047,#ffb14c,#ffb24f,#ffb351,#ffb453,#ffb657,#ffb75c,#ffb960,#feba63,#febb66,#febd6a,#febe6e,#fec073,#fec276,#fec37a,#fec47d,#fec580,#fec682,#fec785,#fec888,#fdca8c,#fdcc92,#fdce98,#fdd09d,#fdd3a1,#fdd6a9,#fddab2,#fddeb8,#fde0bc,#fde2c2,#fde6c9,#fde7cd,#fde8cd,#fdead2,#fdedd9,#fdeedb,#fdeedb,#fdeedb,#fdeed9,#fdecd6,#fde8ce,#fde5c8,#fde4c6,#fde3c3,#fde1bf,#fddfbb,#fddeb8,#fddcb5,#fddab0,#fdd8ac,#fdd6a9,#fdd5a6,#fdd3a3,#fdd19f,#fdcf9a,#fdcd95,#fdcb90,#fdca8d,#fdca8d,#fdcb8e,#fdcb90)"></i><i style="background:linear-gradient(90deg,#fdcd93,#fdcc91,#fdcb90,#fdcb8e,#fdca8c,#fdc98a,#fec888,#fec785,#fec681,#fec47d,#fec379,#fec176,#fec072,#febe6e,#febd6c,#febd69,#febb66,#ffb961,#ffb85e,#ffb75b,#ffb556,#ffb24f,#ffb04a,#ffaf46,#ffad40,#ffab3a,#ffaa36,#ffa935,#ffa934,#ffa935,#ffaa37,#ffab3b,#ffad3f,#ffae43,#ffb047,#ffb14d,#ffb350,#ffb452,#ffb454,#ffb556,#ffb659,#ffb85e,#feba62,#febb65,#febc68,#febe6c,#febf70,#fec174,#fec278,#fec37b,#fec57e,#fec681,#fec783,#fec785,#fec888,#fdca8c,#fdcc91,#fdce96,#fdcf9b,#fdd19f,#fdd4a5,#fdd8ad,#fddbb3,#fdddb6,#fddfbb,#fde2c1,#fde3c4,#fde4c5,#fde6ca,#fde9d0,#fdebd4,#fdebd3,#fdead3,#fdead1,#fde8cd,#fde4c6,#fde2c0,#fde1be,#fddfbc,#fddeb8,#fddcb5,#fddbb2,#fdd9af,#fdd7ab,#fdd6a8,#fdd4a5,#fdd3a3,#fdd2a0,#fdd09c,#fdce97,#fdcc93,#fdcb8f,#fdca8d,#fdca8d,#fdcb8f,#fdcc92)"></i><i style="background:linear-gradient(90deg,#fdcd95,#fdcd93,#fdcc91,#fdcb90,#fdcb8e,#fdca8c,#fdc98a,#fec887,#fec784,#fec580,#fec47c,#fec379,#fec176,#fec073,#febf70,#febf6f,#febd6c,#febc67,#febb64,#ffb961,#ffb85d,#ffb557,#ffb352,#ffb24e,#ffb049,#ffae44,#ffad41,#ffad40,#ffad40,#ffad40,#ffae42,#ffaf46,#ffb049,#ffb14b,#ffb24e,#ffb352,#ffb454,#ffb556,#ffb557,#ffb659,#ffb75c,#ffb960,#feba64,#febc67,#febd6a,#febe6e,#fec072,#fec176,#fec37a,#fec47d,#fec580,#fec683,#fec785,#fec886,#fdc989,#fdca8c,#fdcc91,#fdcd95,#fdcf99,#fdd19d,#fdd3a3,#fdd6a9,#fdd9ae,#fddab1,#fddcb5,#fddfba,#fde0bd,#fde0be,#fde2c2,#fde5c8,#fde7cb,#fde6ca,#fde6ca,#fde6c9,#fde4c5,#fde1be,#fddeba,#fdddb8,#fddcb6,#fddbb2,#fdd9af,#fdd8ad,#fdd7aa,#fdd5a6,#fdd4a3,#fdd3a2,#fdd2a0,#fdd09d,#fdcf99,#fdcd95,#fdcc91,#fdca8e,#fdca8c,#fdca8d,#fdcb90,#fdcd94)"></i><i style="background:linear-gradient(90deg,#fdce96,#fdcd95,#fdcc93,#fdcc91,#fdcb8f,#fdca8d,#fdca8c,#fdc989,#fec886,#fec682,#fec57e,#fec47c,#fec279,#fec176,#fec175,#fec073,#febf71,#febe6d,#febd6a,#febc67,#feba63,#ffb85d,#ffb659,#ffb556,#ffb351,#ffb14d,#ffb14a,#ffb14a,#ffb14a,#ffb14a,#ffb14c,#ffb350,#ffb452,#ffb453,#ffb454,#ffb556,#ffb658,#ffb659,#ffb75a,#ffb85c,#ffb95f,#feba63,#febb66,#febd6a,#febe6d,#febf70,#fec174,#fec278,#fec37b,#fec57e,#fec681,#fec784,#fec886,#fec888,#fdc98a,#fdca8d,#fdcc91,#fdcd94,#fdce98,#fdd09c,#fdd2a1,#fdd5a6,#fdd7aa,#fdd8ad,#fddab0,#fddcb5,#fdddb7,#fddeb8,#fddfbc,#fde2c1,#fde3c3,#fde2c2,#fde2c1,#fde2c1,#fde0be,#fddeb8,#fddcb4,#fddbb2,#fddab0,#fdd8ad,#fdd7aa,#fdd6a8,#fdd5a6,#fdd3a2,#fdd2a0,#fdd19e,#fdd09d,#fdcf99,#fdce96,#fdcc93,#fdcb8f,#fdca8d,#fdca8c,#fdca8d,#fdcc91,#fdcd95)"></i><i style="background:linear-gradient(90deg,#fdce97,#fdcd95,#fdcd94,#fdcc92,#fdcc91,#fdcb8f,#fdca8d,#fdc98b,#fec888,#fec783,#fec580,#fec47e,#fec37b,#fec379,#fec278,#fec278,#fec176,#fec072,#febf6f,#febe6c,#febc68,#feba63,#ffb95f,#ffb75c,#ffb658,#ffb454,#ffb453,#ffb454,#ffb454,#ffb453,#ffb556,#ffb659,#ffb75b,#ffb75a,#ffb65a,#ffb75a,#ffb75c,#ffb85d,#ffb85e,#ffb960,#feba62,#febb65,#febc69,#febe6c,#febf6f,#fec072,#fec176,#fec37a,#fec47d,#fec580,#fec683,#fec786,#fec888,#fdc989,#fdc98b,#fdca8e,#fdcc91,#fdcd94,#fdce97,#fdd09b,#fdd2a0,#fdd4a4,#fdd5a7,#fdd6a9,#fdd8ac,#fddab0,#fddbb2,#fddbb3,#fdddb6,#fddfba,#fddfbc,#fddfbb,#fddfba,#fddeba,#fdddb7,#fddbb3,#fdd9af,#fdd8ad,#fdd7ab,#fdd6a9,#fdd5a6,#fdd4a4,#fdd3a2,#fdd19f,#fdd09d,#fdd09b,#fdcf9a,#fdce97,#fdcd94,#fdcc91,#fdcb8e,#fdca8c,#fdca8b,#fdca8d,#fdcc91,#fdcd95)"></i><i style="background:linear-gradient(90deg,#fdce97,#fdce96,#fdcd94,#fdcd93,#fdcc91,#fdcb8f,#fdcb8e,#fdca8c,#fdc989,#fec785,#fec681,#fec57f,#fec47d,#fec47c,#fec37b,#fec37b,#fec37a,#fec277,#fec174,#febf71,#febe6d,#febc69,#febb65,#feba62,#ffb85f,#ffb75b,#ffb75b,#ffb75c,#ffb75c,#ffb75c,#ffb85e,#ffb961,#feba62,#ffb960,#ffb85f,#ffb85e,#ffb95f,#ffb960,#ffb961,#feba63,#febb66,#febc68,#febd6b,#febf6f,#fec072,#fec175,#fec278,#fec47c,#fec57f,#fec682,#fec785,#fec887,#fdc989,#fdc98a,#fdca8c,#fdcb8f,#fdcc91,#fdcd94,#fdce97,#fdd09b,#fdd19f,#fdd3a2,#fdd4a5,#fdd5a7,#fdd6a9,#fdd8ac,#fdd9ae,#fdd9af,#fddab2,#fddcb5,#fddcb6,#fddcb5,#fddcb4,#fddbb4,#fddab2,#fdd9ae,#fdd7ab,#fdd6a9,#fdd5a7,#fdd4a5,#fdd3a3,#fdd2a1,#fdd19f,#fdd09c,#fdcf99,#fdce98,#fdce97,#fdcd94,#fdcc92,#fdcb8f,#fdca8d,#fdca8b,#fdc98b,#fdca8d,#fdcc91,#fdcd95)"></i><i style="background:linear-gradient(90deg,#fdce97,#fdce96,#fdcd95,#fdcd93,#fdcc92,#fdcb90,#fdcb8e,#fdca8d,#fdc989,#fec785,#fec682,#fec580,#fec57f,#fec47e,#fec47e,#fec57e,#fec47d,#fec37b,#fec278,#fec175,#fec071,#febe6e,#febd6a,#febc67,#febb64,#feba62,#ffb961,#feba63,#feba63,#feba63,#febb65,#febc68,#febc69,#febb66,#feba63,#feba62,#feba62,#feba63,#febb65,#febb67,#febc69,#febd6b,#febe6e,#febf71,#fec174,#fec277,#fec37a,#fec47e,#fec681,#fec784,#fec886,#fdc989,#fdc98a,#fdca8b,#fdca8d,#fdcb90,#fdcc92,#fdcd95,#fdce98,#fdd09c,#fdd19f,#fdd3a1,#fdd3a3,#fdd4a5,#fdd5a7,#fdd6a9,#fdd7aa,#fdd7ac,#fdd9ae,#fddab0,#fddab0,#fdd9af,#fdd9af,#fdd9af,#fdd8ad,#fdd7aa,#fdd5a7,#fdd4a5,#fdd4a3,#fdd3a1,#fdd29f,#fdd19e,#fdd09c,#fdcf98,#fdce96,#fdcd95,#fdcd94,#fdcc93,#fdcc90,#fdcb8e,#fdca8c,#fdc98b,#fdc98b,#fdca8d,#fdcc91,#fdcd95)"></i><i style="background:linear-gradient(90deg,#fdce96,#fdcd95,#fdcd94,#fdcd93,#fdcc92,#fdcb90,#fdcb8f,#fdca8d,#fdc98a,#fec786,#fec682,#fec580,#fec57f,#fec57f,#fec580,#fec681,#fec580,#fec57e,#fec47c,#fec279,#fec175,#fec072,#febe6e,#febd6c,#febc69,#febc67,#febc67,#febc68,#febc69,#febd69,#febd6b,#febe6e,#febe6e,#febd6b,#febc68,#febb66,#febb65,#febb66,#febc68,#febd6a,#febd6c,#febe6e,#febf70,#fec073,#fec176,#fec379,#fec47c,#fec580,#fec683,#fec786,#fec888,#fdc98a,#fdca8c,#fdca8d,#fdcb8e,#fdcc91,#fdcd93,#fdce96,#fdcf99,#fdd09c,#fdd19f,#fdd2a1,#fdd3a2,#fdd3a3,#fdd4a5,#fdd5a6,#fdd5a7,#fdd6a9,#fdd7aa,#fdd8ac,#fdd8ac,#fdd7ab,#fdd7aa,#fdd7aa,#fdd6a9,#fdd5a6,#fdd4a4,#fdd3a2,#fdd2a0,#fdd19f,#fdd09d,#fdd09b,#fdcf99,#fdce96,#fdcd94,#fdcd93,#fdcc93,#fdcc91,#fdcb8f,#fdca8d,#fdca8c,#fdc98a,#fdc98b,#fdca8d,#fdcc90,#fdcd94)"></i><i style="background:linear-gradient(90deg,#fdcd95,#fdcd95,#fdcd94,#fdcc93,#fdcc91,#fdcb90,#fdcb8e,#fdca8d,#fdc98a,#fec786,#fec682,#fec580,#fec580,#fec580,#fec682,#fec683,#fec683,#fec681,#fec57f,#fec47c,#fec279,#fec175,#fec072,#febf6f,#febe6d,#febd6b,#febd6c,#febe6d,#febe6e,#febf6f,#febf70,#fec073,#fec072,#febf6f,#febd6b,#febc69,#febc68,#febc69,#febd6b,#febe6d,#febf6f,#febf71,#fec073,#fec176,#fec278,#fec37b,#fec57e,#fec682,#fec785,#fec887,#fdc989,#fdca8c,#fdca8d,#fdcb8e,#fdcb8f,#fdcc92,#fdcd94,#fdce96,#fdcf99,#fdd09d,#fdd19f,#fdd2a0,#fdd2a1,#fdd3a2,#fdd3a3,#fdd4a4,#fdd4a5,#fdd5a6,#fdd6a7,#fdd6a8,#fdd6a8,#fdd6a8,#fdd5a7,#fdd5a7,#fdd5a5,#fdd4a4,#fdd3a1,#fdd29f,#fdd19e,#fdd09c,#fdcf9b,#fdcf98,#fdce96,#fdcd94,#fdcc92,#fdcc92,#fdcc91,#fdcb90,#fdcb8f,#fdca8d,#fdca8b,#fdc98a,#fdc98a,#fdca8d,#fdcb90,#fdcd93)"></i><i style="background:linear-gradient(90deg,#fdcd94,#fdcd94,#fdcd93,#fdcc92,#fdcc91,#fdcb90,#fdcb8e,#fdca8c,#fdc989,#fec786,#fec682,#fec580,#fec580,#fec681,#fec683,#fec785,#fec785,#fec784,#fec681,#fec57f,#fec37b,#fec278,#fec175,#fec072,#febf70,#febf6f,#febf6f,#febf71,#fec072,#fec073,#fec175,#fec176,#fec176,#fec072,#febf6f,#febd6c,#febd6b,#febd6c,#febe6d,#febf70,#fec071,#fec073,#fec175,#fec278,#fec37a,#fec47d,#fec580,#fec784,#fec886,#fdc989,#fdc98b,#fdca8d,#fdcb8e,#fdcb8f,#fdcc90,#fdcc92,#fdcd95,#fdce97,#fdcf9a,#fdd19d,#fdd29f,#fdd2a0,#fdd2a1,#fdd3a1,#fdd3a2,#fdd3a2,#fdd3a3,#fdd4a4,#fdd4a5,#fdd5a6,#fdd5a6,#fdd4a5,#fdd4a4,#fdd4a4,#fdd3a3,#fdd2a1,#fdd29f,#fdd19d,#fdd09c,#fdcf9a,#fdcf98,#fdce96,#fdcd94,#fdcc92,#fdcc91,#fdcc91,#fdcb90,#fdcb90,#fdcb8e,#fdca8d,#fdc98b,#fdc98a,#fdc98a,#fdca8c,#fdcb8f,#fdcc92)"></i><i style="background:linear-gradient(90deg,#fdcc93,#fdcd93,#fdcc93,#fdcc92,#fdcc90,#fdcb8f,#fdca8e,#fdca8c,#fdc989,#fec785,#fec682,#fec580,#fec580,#fec682,#fec784,#fec886,#fec887,#fec786,#fec784,#fec681,#fec47e,#fec37b,#fec278,#fec175,#fec073,#fec072,#fec072,#fec073,#fec174,#fec176,#fec278,#fec379,#fec278,#fec175,#fec071,#febe6e,#febe6d,#febe6e,#febf70,#fec072,#fec073,#fec175,#fec277,#fec379,#fec47c,#fec57f,#fec682,#fec785,#fec888,#fdc98a,#fdca8c,#fdca8e,#fdcb8f,#fdcb90,#fdcc91,#fdcd93,#fdcd95,#fdce98,#fdd09b,#fdd19e,#fdd2a0,#fdd2a0,#fdd2a0,#fdd2a1,#fdd2a1,#fdd3a1,#fdd3a2,#fdd3a2,#fdd4a3,#fdd4a4,#fdd4a3,#fdd3a3,#fdd3a2,#fdd3a2,#fdd2a1,#fdd29f,#fdd19e,#fdd09c,#fdcf9a,#fdcf98,#fdce97,#fdcd95,#fdcc93,#fdcc91,#fdcb90,#fdcb90,#fdcb90,#fdcb8f,#fdcb8e,#fdca8c,#fdc98b,#fdc98a,#fdc98a,#fdca8c,#fdcb8f,#fdcc91)"></i><i style="background:linear-gradient(90deg,#fdcc92,#fdcc92,#fdcc92,#fdcc91,#fdcb90,#fdcb8f,#fdca8d,#fdc98b,#fec888,#fec785,#fec682,#fec57f,#fec580,#fec682,#fec785,#fec887,#fec888,#fec887,#fec785,#fec683,#fec580,#fec47d,#fec37a,#fec277,#fec175,#fec174,#fec175,#fec175,#fec277,#fec278,#fec37a,#fec37b,#fec37a,#fec277,#fec073,#febf70,#febf6f,#febf70,#fec071,#fec074,#fec175,#fec277,#fec278,#fec37b,#fec47d,#fec580,#fec683,#fec886,#fdc989,#fdc98b,#fdca8d,#fdcb8e,#fdcb8f,#fdcc91,#fdcc92,#fdcd94,#fdce96,#fdcf99,#fdd09c,#fdd19e,#fdd2a0,#fdd2a0,#fdd2a0,#fdd2a0,#fdd2a1,#fdd2a0,#fdd2a0,#fdd3a1,#fdd3a2,#fdd3a2,#fdd3a2,#fdd3a2,#fdd2a1,#fdd2a0,#fdd19f,#fdd19e,#fdd09c,#fdcf9a,#fdcf98,#fdce97,#fdce96,#fdcd93,#fdcc92,#fdcc90,#fdcb90,#fdcb8f,#fdcb8f,#fdcb8f,#fdcb8e,#fdca8c,#fdc98a,#fdc98a,#fdc98a,#fdca8c,#fdcb8e,#fdcb90)"></i></div></div><div class="cb" style="left:1298px;top:19.4px;width:8px;height:411.4px;background:linear-gradient(180deg,#fa2802 0.00%,#fa2802 6.25%,#ff5000 6.25%,#ff5000 12.50%,#ff7000 12.50%,#ff7000 18.75%,#ff9600 18.75%,#ff9600 25.00%,#ffb24e 25.00%,#ffb24e 31.25%,#fdd09c 31.25%,#fdd09c 37.50%,#fdecd6 37.50%,#fdecd6 43.75%,#ffffff 43.75%,#ffffff 50.00%,#c5edfa 50.00%,#c5edfa 56.25%,#70d5f7 56.25%,#70d5f7 62.50%,#00c7f7 62.50%,#00c7f7 68.75%,#00aef2 68.75%,#00aef2 75.00%,#0097ec 75.00%,#0097ec 81.25%,#0082e4 81.25%,#0082e4 87.50%,#0062d4 87.50%,#0062d4 93.75%,#000000 93.75%,#000000 100.00%)"></div><div class="map" style="left:107.2px;top:568.2px;width:1139.8px;height:399.1px"><div class="rows" style="--rh:3px;margin-top:-3px"><i style="background:linear-gradient(90deg,#00abf1,#00abf1,#00abf1,#00abf1,#00abf1,#00abf1,#00abf1,#00abf1,#00abf1,#00abf1,#00abf1,#00abf1,#00abf1,#00abf1,#00abf1,#00abf1,#00abf1,#00abf1,#00abf1,#00abf1,#00abf1,#00abf1,#00abf1,#00abf1,#00aaf1,#00aaf1,#00a9f1,#00a9f1,#00a8f1,#00a8f0,#00a7f0,#00a7f0,#00a7f0,#00a7f0,#00a7f0,#00a7f0,#00a6f0,#00a6f0,#00a5f0,#00a5f0,#00a4ef,#00a4ef,#00a3ef,#00a3ef,#00a2ef,#00a2ef,#00a1ef,#00a1ef,#00a0ee,#00a0ee,#00a0ee,#00a0ee,#00a1ef,#00a1ef,#00a2ef,#00a2ef,#00a3ef,#00a3ef,#00a4ef,#00a4f0,#00a5f0,#00a6f0,#00a7f0,#00a8f0,#00a9f1,#00aaf1,#00aaf1,#00abf1,#00abf1,#00abf1,#00abf1,#00abf1,#00abf1,#00abf1,#00abf1,#00abf1,#00abf1,#00abf1,#00abf1,#00abf1,#00abf1,#00abf1,#00abf1,#00abf1,#00abf1,#00abf1,#00abf1,#00abf1,#00abf1,#00abf1,#00abf1,#00abf1,#00abf1,#00abf1,#00abf1,#00abf1)"></i><i style="background:linear-gradient(90deg,#00abf1,#00abf1,#00abf1,#00abf1,#00abf1,#00abf1,#00abf1,#00abf1,#00abf1,#00abf1,#00abf1,#00abf1,#00abf1,#00abf1,#00abf1,#00abf1,#00abf1,#00abf1,#00abf1,#00abf1,#00abf1,#00abf1,#00abf1,#00abf1,#00abf1,#00aaf1,#00aaf1,#00a9f1,#00a9f1,#00a8f0,#00a7f0,#00a7f0,#00a7f0,#00a7f0,#00a7f0,#00a7f0,#00a6f0,#00a6f0,#00a5f0,#00a5f0,#00a4ef,#00a4ef,#00a3ef,#00a2ef,#00a2ef,#00a1ef,#00a1ef,#00a0ee,#00a0ee,#00a0ee,#00a0ee,#00a0ee,#00a0ee,#00a1ef,#00a1ef,#00a2ef,#00a2ef,#00a3ef,#00a4ef,#00a4f0,#00a5f0,#00a6f0,#00a7f0,#00a8f1,#00a9f1,#00aaf1,#00abf1,#00abf1,#00acf1,#00acf1,#00acf1,#00acf1,#00acf1,#00acf1,#00acf1,#00acf1,#00acf1,#00acf1,#00acf1,#00acf1,#00acf1,#00acf1,#00acf1,#00acf1,#00abf1,#00abf1,#00abf1,#00abf1,#00abf1,#00abf1,#00abf1,#00abf1,#00abf1,#00abf1,#00abf1,#00abf1)"></i><i style="background:linear-gradient(90deg,#00acf1,#00acf1,#00acf1,#00acf1,#00acf1,#00acf1,#00acf1,#00acf1,#00abf1,#00abf1,#00abf1,#00abf1,#00acf1,#00acf1,#00acf1,#00acf1,#00abf1,#00abf1,#00abf1,#00abf1,#00abf1,#00abf1,#00abf1,#00abf1,#00abf1,#00abf1,#00aaf1,#00aaf1,#00a9f1,#00a8f1,#00a8f0,#00a7f0,#00a7f0,#00a7f0,#00a7f0,#00a7f0,#00a6f0,#00a6f0,#00a5f0,#00a4f0,#00a4ef,#00a3ef,#00a3ef,#00a2ef,#00a1ef,#00a1ef,#00a0ee,#00a0ee,#009fee,#009fee,#009fee,#009fee,#00a0ee,#00a0ee,#00a1ef,#00a1ef,#00a2ef,#00a3ef,#00a4ef,#00a4ef,#00a5f0,#00a6f0,#00a7f0,#00a8f1,#00a9f1,#00aaf1,#00abf1,#00acf1,#00acf2,#00acf2,#00acf2,#00adf2,#00adf2,#00adf2,#00adf2,#00adf2,#00adf2,#00adf2,#00adf2,#00adf2,#00adf2,#00acf2,#00acf2,#00acf2,#00acf1,#00acf1,#00acf1,#00acf1,#00abf1,#00abf1,#00abf1,#00abf1,#00abf1,#00abf1,#00abf1,#00abf1)"></i><i style="background:linear-gradient(90deg,#00acf2,#00acf2,#00acf2,#00acf2,#00acf2,#00acf2,#00acf2,#00acf2,#00acf1,#00acf2,#00acf2,#00acf1,#00acf1,#00acf2,#00acf2,#00acf1,#00acf1,#00acf1,#00acf1,#00acf1,#00acf1,#00acf1,#00acf1,#00acf1,#00acf1,#00abf1,#00abf1,#00aaf1,#00aaf1,#00a9f1,#00a8f0,#00a8f0,#00a7f0,#00a7f0,#00a7f0,#00a7f0,#00a6f0,#00a6f0,#00a5f0,#00a4ef,#00a4ef,#00a3ef,#00a2ef,#00a2ef,#00a1ef,#00a0ee,#009fee,#009fee,#009eee,#009eee,#009eee,#009eee,#009fee,#009fee,#00a0ee,#00a1ef,#00a2ef,#00a3ef,#00a3ef,#00a4ef,#00a5f0,#00a6f0,#00a8f0,#00a9f1,#00aaf1,#00abf1,#00acf1,#00acf2,#00adf2,#00adf2,#00adf2,#00aef2,#00aef2,#00aef2,#00aef2,#00aef2,#00aef2,#00aef2,#00aef2,#00aef2,#00aef2,#00adf2,#00adf2,#00adf2,#00adf2,#00acf2,#00acf2,#00acf2,#00acf1,#00acf1,#00acf1,#00acf1,#00acf1,#00acf1,#00acf1,#00acf1)"></i><i style="background:linear-gradient(90deg,#00adf2,#00adf2,#00adf2,#00adf2,#00adf2,#00adf2,#00adf2,#00adf2,#00adf2,#00adf2,#00adf2,#00adf2,#00adf2,#00adf2,#00adf2,#00adf2,#00adf2,#00adf2,#00adf2,#00adf2,#00adf2,#00adf2,#00adf2,#00adf2,#00acf2,#00acf1,#00abf1,#00abf1,#00aaf1,#00a9f1,#00a9f1,#00a8f0,#00a8f0,#00a7f0,#00a7f0,#00a7f0,#00a6f0,#00a6f0,#00a5f0,#00a4ef,#00a3ef,#00a2ef,#00a2ef,#00a1ef,#00a0ee,#009fee,#009fee,#009eee,#009eee,#009dee,#009dee,#009eee,#009eee,#009fee,#00a0ee,#00a0ee,#00a1ef,#00a2ef,#00a3ef,#00a4ef,#00a5f0,#00a7f0,#00a8f0,#00a9f1,#00aaf1,#00abf1,#00acf2,#00adf2,#00aef2,#00aef2,#00aef2,#00aff2,#00aff2,#00aff2,#00aff2,#00aff2,#00aff2,#00aff2,#00aff2,#00aff2,#00aff2,#00aef2,#00aef2,#00aef2,#00adf2,#00adf2,#00adf2,#00adf2,#00acf2,#00acf2,#00acf2,#00acf2,#00acf2,#00acf2,#00acf2,#00adf2)"></i><i style="background:linear-gradient(90deg,#00adf2,#00aef2,#00aef2,#00aef2,#00aef2,#00aef2,#00aef2,#00aef2,#00aef2,#00aef2,#00aef2,#00adf2,#00adf2,#00aef2,#00aef2,#00adf2,#00adf2,#00adf2,#00adf2,#00adf2,#00adf2,#00adf2,#00adf2,#00adf2,#00adf2,#00acf2,#00acf1,#00abf1,#00abf1,#00aaf1,#00a9f1,#00a9f1,#00a8f0,#00a8f0,#00a7f0,#00a7f0,#00a6f0,#00a6f0,#00a5f0,#00a4ef,#00a3ef,#00a2ef,#00a1ef,#00a0ee,#009fee,#009fee,#009eee,#009dee,#009ded,#009ced,#009ced,#009ded,#009dee,#009eee,#009fee,#00a0ee,#00a1ef,#00a2ef,#00a3ef,#00a4ef,#00a5f0,#00a7f0,#00a8f0,#00a9f1,#00abf1,#00acf1,#00adf2,#00aef2,#00aff2,#00aff2,#00aff2,#00b0f2,#00b0f2,#00b0f2,#00b0f2,#00b0f2,#00b0f2,#00b0f2,#00b0f2,#00b0f2,#00b0f2,#00aff2,#00aff2,#00aff2,#00aef2,#00aef2,#00adf2,#00adf2,#00adf2,#00adf2,#00adf2,#00adf2,#00adf2,#00adf2,#00adf2,#00adf2)"></i><i style="background:linear-gradient(90deg,#00aef2,#00aff2,#00aff2,#00aff2,#00aff2,#00aff2,#00aff2,#00aff2,#00aff2,#00aff2,#00aef2,#00aef2,#00aef2,#00aef2,#00aef2,#00aef2,#00aef2,#00aef2,#00aef2,#00aef2,#00aef2,#00aef2,#00aef2,#00aef2,#00adf2,#00adf2,#00acf2,#00acf1,#00abf1,#00abf1,#00aaf1,#00a9f1,#00a9f1,#00a8f0,#00a8f0,#00a7f0,#00a6f0,#00a6f0,#00a5f0,#00a4ef,#00a3ef,#00a2ef,#00a1ef,#00a0ee,#009fee,#009eee,#009dee,#009ced,#009ced,#009bed,#009bed,#009ced,#009ced,#009dee,#009eee,#009fee,#00a0ee,#00a2ef,#00a3ef,#00a4ef,#00a5f0,#00a7f0,#00a8f0,#00aaf1,#00abf1,#00acf2,#00aef2,#00aff2,#00b0f2,#00b0f2,#00b1f3,#00b1f3,#00b1f3,#00b1f3,#00b1f3,#00b1f3,#00b1f3,#00b1f3,#00b1f3,#00b1f3,#00b1f3,#00b0f2,#00b0f2,#00b0f2,#00aff2,#00aff2,#00aef2,#00aef2,#00adf2,#00adf2,#00adf2,#00adf2,#00adf2,#00adf2,#00aef2,#00aef2)"></i><i style="background:linear-gradient(90deg,#00aff2,#00b0f2,#00b0f2,#00b0f2,#00b0f2,#00b0f2,#00b0f2,#00b0f2,#00b0f2,#00b0f2,#00b0f2,#00aff2,#00aff2,#00aff2,#00aff2,#00aff2,#00aff2,#00aff2,#00aff2,#00aff2,#00aff2,#00aff2,#00aff2,#00aff2,#00aef2,#00aef2,#00adf2,#00adf2,#00acf1,#00abf1,#00abf1,#00aaf1,#00a9f1,#00a9f1,#00a8f0,#00a7f0,#00a7f0,#00a6f0,#00a4ef,#00a3ef,#00a2ef,#00a1ef,#00a0ee,#009fee,#009eee,#009dee,#009ced,#009bed,#009bed,#009aed,#009aed,#009bed,#009bed,#009ced,#009dee,#009eee,#00a0ee,#00a1ef,#00a3ef,#00a4ef,#00a5f0,#00a7f0,#00a9f1,#00aaf1,#00acf1,#00adf2,#00aff2,#00b0f2,#00b1f3,#00b1f3,#00b2f3,#00b2f3,#00b3f3,#00b2f3,#00b2f3,#00b3f3,#00b3f3,#00b2f3,#00b2f3,#00b2f3,#00b2f3,#00b1f3,#00b1f3,#00b0f2,#00b0f2,#00aff2,#00aff2,#00aef2,#00aef2,#00aef2,#00aef2,#00aef2,#00aef2,#00aef2,#00aef2,#00aff2)"></i><i style="background:linear-gradient(90deg,#00b0f2,#00b1f3,#00b1f3,#00b1f3,#00b1f3,#00b1f3,#00b1f3,#00b1f3,#00b1f3,#00b1f3,#00b1f3,#00b0f2,#00b0f2,#00b1f3,#00b1f3,#00b0f2,#00b0f2,#00b0f2,#00b0f2,#00b0f2,#00b0f2,#00b0f2,#00b0f2,#00aff2,#00aff2,#00aef2,#00aef2,#00adf2,#00adf2,#00acf2,#00abf1,#00abf1,#00aaf1,#00a9f1,#00a9f1,#00a8f0,#00a7f0,#00a6f0,#00a4ef,#00a3ef,#00a2ef,#00a1ef,#009fee,#009eee,#009dee,#009ced,#009bed,#009aed,#0099ed,#0099ed,#0099ed,#0099ed,#009aed,#009bed,#009ded,#009eee,#009fee,#00a1ef,#00a2ef,#00a4ef,#00a6f0,#00a7f0,#00a9f1,#00abf1,#00acf2,#00aef2,#00aff2,#00b1f3,#00b2f3,#00b2f3,#00b3f3,#00b4f3,#00b4f3,#00b4f3,#00b4f3,#00b4f3,#00b4f3,#00b4f3,#00b3f3,#00b3f3,#00b3f3,#00b3f3,#00b2f3,#00b1f3,#00b1f3,#00b0f2,#00b0f2,#00aff2,#00aff2,#00aef2,#00aef2,#00aef2,#00aef2,#00aff2,#00aff2,#00aff2)"></i><i style="background:linear-gradient(90deg,#00b1f3,#00b2f3,#00b2f3,#00b2f3,#00b2f3,#00b3f3,#00b3f3,#00b2f3,#00b2f3,#00b2f3,#00b2f3,#00b2f3,#00b2f3,#00b2f3,#00b2f3,#00b2f3,#00b1f3,#00b1f3,#00b1f3,#00b1f3,#00b1f3,#00b1f3,#00b1f3,#00b0f2,#00b0f2,#00b0f2,#00aff2,#00aef2,#00aef2,#00adf2,#00acf2,#00acf1,#00abf1,#00aaf1,#00a9f1,#00a8f1,#00a7f0,#00a6f0,#00a4ef,#00a3ef,#00a2ef,#00a0ee,#009fee,#009dee,#009ced,#009bed,#009aed,#0099ed,#0098ec,#0098ec,#0098ec,#0098ec,#0099ed,#009aed,#009ced,#009dee,#009fee,#00a1ef,#00a2ef,#00a4ef,#00a6f0,#00a7f0,#00a9f1,#00abf1,#00adf2,#00aff2,#00b0f2,#00b2f3,#00b3f3,#00b4f3,#00b4f3,#00b5f3,#00b5f3,#00b5f3,#00b5f3,#00b5f3,#00b5f3,#00b5f3,#00b5f3,#00b5f3,#00b4f3,#00b4f3,#00b3f3,#00b2f3,#00b2f3,#00b1f3,#00b0f2,#00b0f2,#00aff2,#00aff2,#00aef2,#00aef2,#00aff2,#00aff2,#00b0f2,#00b0f2)"></i><i style="background:linear-gradient(90deg,#00b2f3,#00b3f3,#00b3f3,#00b4f3,#00b4f3,#00b4f3,#00b4f3,#00b4f3,#00b4f3,#00b3f3,#00b3f3,#00b3f3,#00b3f3,#00b3f3,#00b3f3,#00b3f3,#00b3f3,#00b2f3,#00b2f3,#00b3f3,#00b3f3,#00b2f3,#00b2f3,#00b1f3,#00b1f3,#00b1f3,#00b0f2,#00b0f2,#00aff2,#00aef2,#00aef2,#00adf2,#00acf1,#00abf1,#00aaf1,#00a9f1,#00a7f0,#00a6f0,#00a4ef,#00a3ef,#00a1ef,#00a0ee,#009eee,#009ded,#009bed,#009aed,#0099ec,#0098ec,#0097ec,#0096ec,#0096ec,#0097ec,#0098ec,#0099ed,#009bed,#009ded,#009eee,#00a0ee,#00a2ef,#00a4ef,#00a6f0,#00a8f0,#00aaf1,#00acf1,#00aef2,#00b0f2,#00b1f3,#00b3f3,#00b4f3,#00b5f3,#00b6f4,#00b6f4,#00b7f4,#00b7f4,#00b7f4,#00b7f4,#00b6f4,#00b6f4,#00b6f4,#00b6f4,#00b5f3,#00b5f3,#00b4f3,#00b3f3,#00b2f3,#00b2f3,#00b1f3,#00b0f2,#00b0f2,#00aff2,#00aff2,#00aff2,#00aff2,#00b0f2,#00b0f2,#00b1f3)"></i><i style="background:linear-gradient(90deg,#00b3f3,#00b4f3,#00b5f3,#00b5f3,#00b5f3,#00b5f3,#00b5f3,#00b5f3,#00b5f3,#00b5f3,#00b5f3,#00b4f3,#00b4f3,#00b4f3,#00b4f3,#00b4f3,#00b4f3,#00b3f3,#00b3f3,#00b4f3,#00b4f3,#00b4f3,#00b3f3,#00b3f3,#00b3f3,#00b2f3,#00b2f3,#00b1f3,#00b0f2,#00b0f2,#00aff2,#00aef2,#00adf2,#00acf2,#00abf1,#00a9f1,#00a8f0,#00a6f0,#00a4ef,#00a3ef,#00a1ef,#009fee,#009eee,#009ced,#009aed,#0098ec,#0097ec,#0096ec,#0096eb,#0095eb,#0095eb,#0096eb,#0097ec,#0098ec,#009aed,#009ced,#009eee,#00a0ee,#00a2ef,#00a4ef,#00a6f0,#00a8f0,#00aaf1,#00acf2,#00aff2,#00b1f3,#00b2f3,#00b4f3,#00b5f3,#00b6f4,#00b7f4,#00b8f4,#00b8f4,#00b8f4,#00b8f4,#00b8f4,#00b8f4,#00b8f4,#00b7f4,#00b7f4,#00b6f4,#00b6f4,#00b5f3,#00b4f3,#00b3f3,#00b3f3,#00b2f3,#00b1f3,#00b0f2,#00b0f2,#00aff2,#00aff2,#00b0f2,#00b0f2,#00b1f3,#00b2f3)"></i><i style="background:linear-gradient(90deg,#00b4f3,#00b5f3,#00b6f4,#00b6f4,#00b7f4,#00b7f4,#00b7f4,#00b7f4,#00b7f4,#00b6f4,#00b6f4,#00b6f4,#00b5f3,#00b6f4,#00b6f4,#00b5f3,#00b5f3,#00b5f3,#00b5f3,#00b5f3,#00b5f3,#00b5f3,#00b5f3,#00b4f3,#00b4f3,#00b4f3,#00b4f3,#00b3f3,#00b2f3,#00b2f3,#00b1f3,#00b0f2,#00aff2,#00adf2,#00acf1,#00aaf1,#00a8f0,#00a6f0,#00a4ef,#00a2ef,#00a1ef,#009fee,#009dee,#009bed,#0099ed,#0097ec,#0096ec,#0095eb,#0094eb,#0093eb,#0093eb,#0094eb,#0095eb,#0097ec,#0099ed,#009bed,#009eee,#00a0ee,#00a2ef,#00a4ef,#00a6f0,#00a8f0,#00abf1,#00adf2,#00aff2,#00b2f3,#00b4f3,#00b5f3,#00b7f4,#00b8f4,#00b8f4,#00b9f4,#00b9f4,#00baf4,#00baf4,#00baf4,#00b9f4,#00b9f4,#00b9f4,#00b8f4,#00b8f4,#00b7f4,#00b6f4,#00b5f3,#00b4f3,#00b3f3,#00b3f3,#00b2f3,#00b1f3,#00b0f2,#00b0f2,#00b0f2,#00b0f2,#00b1f3,#00b2f3,#00b3f3)"></i><i style="background:linear-gradient(90deg,#00b6f4,#00b6f4,#00b7f4,#00b8f4,#00b8f4,#00b9f4,#00b9f4,#00b8f4,#00b8f4,#00b8f4,#00b8f4,#00b7f4,#00b7f4,#00b7f4,#00b7f4,#00b7f4,#00b6f4,#00b6f4,#00b6f4,#00b6f4,#00b6f4,#00b7f4,#00b7f4,#00b6f4,#00b6f4,#00b7f4,#00b6f4,#00b5f3,#00b4f3,#00b4f3,#00b3f3,#00b2f3,#00b0f2,#00aff2,#00adf2,#00abf1,#00a9f1,#00a6f0,#00a4ef,#00a2ef,#00a1ee,#009fee,#009ced,#009aed,#0098ec,#0096ec,#0095eb,#0094eb,#0093ea,#0092ea,#0092ea,#0093ea,#0094eb,#0096ec,#0098ec,#009bed,#009dee,#009fee,#00a2ef,#00a4ef,#00a6f0,#00a8f1,#00abf1,#00aef2,#00b1f3,#00b3f3,#00b5f3,#00b7f4,#00b8f4,#00b9f4,#00baf4,#00bbf5,#00bbf5,#00bbf5,#00bbf5,#00bbf5,#00bbf5,#00bbf5,#00baf4,#00baf4,#00b9f4,#00b8f4,#00b7f4,#00b6f4,#00b5f3,#00b4f3,#00b3f3,#00b2f3,#00b2f3,#00b1f3,#00b0f2,#00b0f2,#00b1f3,#00b1f3,#00b3f3,#00b4f3)"></i><i style="background:linear-gradient(90deg,#00b7f4,#00b8f4,#00b9f4,#00b9f4,#00baf4,#00baf4,#00baf4,#00baf4,#00baf4,#00b9f4,#00b9f4,#00b9f4,#00b8f4,#00b8f4,#00b8f4,#00b8f4,#00b8f4,#00b7f4,#00b7f4,#00b7f4,#00b8f4,#00b8f4,#00b9f4,#00b9f4,#00b9f4,#00b9f4,#00b9f4,#00b7f4,#00b7f4,#00b7f4,#00b6f4,#00b4f3,#00b2f3,#00b0f2,#00aef2,#00acf1,#00a9f1,#00a7f0,#00a4f0,#00a2ef,#00a0ee,#009eee,#009ced,#0099ed,#0097ec,#0095eb,#0093eb,#0092ea,#0091ea,#0090e9,#0090e9,#0091ea,#0093ea,#0095eb,#0097ec,#009aed,#009ded,#009fee,#00a1ef,#00a4ef,#00a6f0,#00a9f1,#00acf1,#00aff2,#00b2f3,#00b4f3,#00b6f4,#00b8f4,#00baf4,#00bbf5,#00bcf5,#00bcf5,#00bdf5,#00bdf5,#00bdf5,#00bdf5,#00bdf5,#00bcf5,#00bcf5,#00bbf5,#00baf4,#00b9f4,#00b8f4,#00b7f4,#00b6f4,#00b5f3,#00b4f3,#00b3f3,#00b2f3,#00b2f3,#00b1f3,#00b1f3,#00b1f3,#00b2f3,#00b4f3,#00b5f3)"></i><i style="background:linear-gradient(90deg,#00b8f4,#00b9f4,#00baf4,#00bbf5,#00bbf5,#00bcf5,#00bcf5,#00bcf5,#00bbf5,#00bbf5,#00bbf5,#00baf4,#00baf4,#00baf4,#00baf4,#00b9f4,#00b9f4,#00b8f4,#00b8f4,#00b8f4,#00b9f4,#00baf4,#00bbf5,#00bbf5,#00bcf5,#00bcf5,#00bcf5,#00baf4,#00baf4,#00baf4,#00b9f4,#00b7f4,#00b5f3,#00b2f3,#00b0f2,#00adf2,#00aaf1,#00a7f0,#00a5f0,#00a2ef,#00a0ee,#009eee,#009bed,#0099ec,#0096ec,#0094eb,#0092ea,#0091ea,#008fe9,#008ee9,#008ee9,#008fe9,#0091ea,#0093eb,#0096ec,#0099ed,#009ced,#009fee,#00a1ef,#00a4ef,#00a6f0,#00a9f1,#00acf2,#00b0f2,#00b3f3,#00b6f4,#00b8f4,#00baf4,#00bcf5,#00bdf5,#00bef5,#00bef5,#00bff5,#00bff5,#00bff5,#00bff5,#00bef5,#00bef5,#00bef5,#00bdf5,#00bcf5,#00bbf5,#00baf4,#00b8f4,#00b7f4,#00b6f4,#00b5f3,#00b4f3,#00b3f3,#00b2f3,#00b2f3,#00b1f3,#00b2f3,#00b3f3,#00b4f3,#00b6f4)"></i><i style="background:linear-gradient(90deg,#00b9f4,#00baf4,#00bbf5,#00bcf5,#00bdf5,#00bdf5,#00bdf5,#00bdf5,#00bdf5,#00bdf5,#00bcf5,#00bcf5,#00bbf5,#00bbf5,#00bbf5,#00bbf5,#00baf4,#00baf4,#00b9f4,#00baf4,#00bbf5,#00bdf5,#00bef5,#00bff5,#00bff5,#00c0f6,#00bff5,#00bef5,#00bdf5,#00bdf5,#00bcf5,#00baf4,#00b7f4,#00b4f3,#00b1f3,#00aef2,#00aaf1,#00a7f0,#00a5f0,#00a3ef,#00a0ee,#009eee,#009bed,#0098ec,#0095eb,#0093ea,#0091ea,#008fe9,#008de8,#008ce8,#008ce8,#008de8,#008fe9,#0092ea,#0095eb,#0098ec,#009bed,#009eee,#00a1ef,#00a4ef,#00a7f0,#00aaf1,#00adf2,#00b0f2,#00b4f3,#00b7f4,#00baf4,#00bcf5,#00bef5,#00c0f6,#00c0f6,#00c0f6,#00c1f6,#00c2f6,#00c2f6,#00c1f6,#00c1f6,#00c0f6,#00c0f6,#00bff5,#00bdf5,#00bcf5,#00bbf5,#00baf4,#00b9f4,#00b8f4,#00b7f4,#00b5f3,#00b4f3,#00b3f3,#00b3f3,#00b2f3,#00b3f3,#00b4f3,#00b5f3,#00b7f4)"></i><i style="background:linear-gradient(90deg,#00baf4,#00bbf5,#00bcf5,#00bef5,#00bef5,#00bff5,#00bff5,#00bff5,#00bff5,#00bef5,#00bef5,#00bdf5,#00bdf5,#00bcf5,#00bcf5,#00bcf5,#00bcf5,#00bbf5,#00bbf5,#00bbf5,#00bdf5,#00bff5,#00c1f6,#00c2f6,#00c3f6,#00c3f6,#00c3f6,#00c2f6,#00c1f6,#00c1f6,#00bff5,#00bdf5,#00baf4,#00b7f4,#00b3f3,#00aff2,#00abf1,#00a8f0,#00a5f0,#00a3ef,#00a0ee,#009eee,#009bed,#0097ec,#0094eb,#0091ea,#008fe9,#008de8,#008be8,#008ae7,#008ae7,#008be8,#008de8,#0090e9,#0094eb,#0097ec,#009bed,#009eee,#00a1ef,#00a4ef,#00a7f0,#00aaf1,#00adf2,#00b2f3,#00b6f4,#00b9f4,#00bcf5,#00bef5,#00c1f6,#00c2f6,#00c3f6,#00c3f6,#00c4f6,#00c5f7,#00c5f7,#00c4f6,#00c3f6,#00c3f6,#00c2f6,#00c1f6,#00bff5,#00bef5,#00bcf5,#00bbf5,#00baf4,#00b9f4,#00b8f4,#00b7f4,#00b5f3,#00b4f3,#00b4f3,#00b3f3,#00b3f3,#00b5f3,#00b6f4,#00b8f4)"></i><i style="background:linear-gradient(90deg,#00bbf5,#00bcf5,#00bef5,#00bff5,#00c0f6,#00c0f6,#00c0f6,#00c0f6,#00c0f6,#00c0f6,#00bff5,#00bff5,#00bef5,#00bef5,#00bdf5,#00bdf5,#00bdf5,#00bcf5,#00bcf5,#00bdf5,#00bff5,#00c2f6,#00c4f6,#00c6f7,#00c7f7,#02c7f7,#00c7f7,#00c6f7,#00c5f7,#00c5f7,#00c3f6,#00c1f6,#00bdf5,#00b9f4,#00b5f3,#00b0f2,#00acf1,#00a8f1,#00a6f0,#00a3ef,#00a0ee,#009eee,#009aed,#0097ec,#0093eb,#0090e9,#008de8,#008be7,#0089e7,#0088e6,#0088e6,#0089e7,#008ce8,#008fe9,#0093ea,#0097ec,#009aed,#009eee,#00a1ef,#00a4ef,#00a7f0,#00aaf1,#00aef2,#00b3f3,#00b7f4,#00bbf5,#00bef5,#00c1f6,#00c3f6,#00c5f7,#00c6f7,#00c6f7,#00c7f7,#05c8f7,#06c8f7,#00c7f7,#00c6f7,#00c5f7,#00c5f7,#00c3f6,#00c1f6,#00c0f6,#00bef5,#00bdf5,#00bcf5,#00baf4,#00b9f4,#00b8f4,#00b7f4,#00b6f4,#00b5f3,#00b4f3,#00b5f3,#00b6f4,#00b7f4,#00b9f4)"></i><i style="background:linear-gradient(90deg,#00bcf5,#00bef5,#00bff5,#00c0f6,#00c1f6,#00c2f6,#00c2f6,#00c2f6,#00c2f6,#00c1f6,#00c1f6,#00c0f6,#00c0f6,#00bff5,#00bff5,#00bff5,#00bef5,#00bef5,#00bef5,#00bff5,#00c1f6,#00c5f7,#05c8f7,#0ec9f7,#14c9f7,#17caf7,#15caf7,#10c9f7,#0dc9f7,#0ac8f7,#02c7f7,#00c4f6,#00c1f6,#00bcf5,#00b7f4,#00b2f3,#00adf2,#00a9f1,#00a6f0,#00a3ef,#00a1ef,#009dee,#009aed,#0096ec,#0093ea,#008fe9,#008ce8,#0089e7,#0087e6,#0086e6,#0086e6,#0087e6,#008ae7,#008de8,#0092ea,#0096ec,#009aed,#009dee,#00a1ee,#00a4ef,#00a8f0,#00abf1,#00aff2,#00b4f3,#00b9f4,#00bdf5,#00c0f6,#00c3f6,#00c6f7,#08c8f7,#0cc9f7,#0cc8f7,#0fc9f7,#16caf7,#17caf7,#0fc9f7,#09c8f7,#07c8f7,#03c7f7,#00c6f7,#00c4f6,#00c2f6,#00c0f6,#00bff5,#00bdf5,#00bcf5,#00bbf5,#00b9f4,#00b8f4,#00b7f4,#00b6f4,#00b5f3,#00b6f4,#00b7f4,#00b8f4,#00baf4)"></i><i style="background:linear-gradient(90deg,#00bdf5,#00bff5,#00c0f6,#00c2f6,#00c2f6,#00c3f6,#00c3f6,#00c4f6,#00c3f6,#00c3f6,#00c2f6,#00c1f6,#00c1f6,#00c0f6,#00c0f6,#00c0f6,#00c0f6,#00c0f6,#00c0f6,#00c1f6,#00c4f6,#08c8f7,#18caf7,#22cbf7,#29ccf7,#2dcdf7,#2cccf7,#27ccf7,#24cbf7,#20cbf7,#17caf7,#08c8f7,#00c4f6,#00bff5,#00b9f4,#00b3f3,#00aef2,#00a9f1,#00a6f0,#00a4ef,#00a1ef,#009dee,#009aed,#0096eb,#0092ea,#008ee9,#008ae7,#0087e6,#0085e5,#0084e5,#0084e5,#0085e5,#0088e6,#008ce8,#0091ea,#0095eb,#0099ed,#009ded,#00a0ee,#00a4ef,#00a8f0,#00acf1,#00b0f2,#00b5f3,#00baf4,#00bff5,#00c3f6,#00c6f7,#0cc8f7,#19caf7,#1fcbf7,#1ecbf7,#22cbf7,#2accf7,#2accf7,#22cbf7,#1acaf7,#17caf7,#12c9f7,#07c8f7,#00c6f7,#00c4f6,#00c2f6,#00c0f6,#00bff5,#00bef5,#00bcf5,#00bbf5,#00b9f4,#00b8f4,#00b7f4,#00b7f4,#00b7f4,#00b8f4,#00baf4,#00bbf5)"></i><i style="background:linear-gradient(90deg,#00bff5,#00c0f6,#00c2f6,#00c3f6,#00c4f6,#00c4f6,#00c5f7,#00c5f7,#00c5f7,#00c4f6,#00c3f6,#00c3f6,#00c2f6,#00c1f6,#00c1f6,#00c1f6,#00c1f6,#00c1f6,#00c2f6,#00c4f6,#03c7f7,#19caf7,#2bccf7,#37cef7,#40cff7,#44d0f7,#44cff7,#40cff7,#3ccff7,#38cef7,#2dcdf7,#1dcbf7,#07c8f7,#00c3f6,#00bcf5,#00b5f3,#00aff2,#00aaf1,#00a7f0,#00a4ef,#00a1ef,#009dee,#0099ed,#0095eb,#0091ea,#008de8,#0089e7,#0085e5,#0083e4,#0082e4,#0082e4,#0083e5,#0086e6,#008be7,#0090e9,#0094eb,#0098ec,#009ced,#00a0ee,#00a4ef,#00a8f0,#00acf2,#00b1f3,#00b6f4,#00bcf5,#00c2f6,#00c6f7,#0bc8f7,#1ccbf7,#2ccdf7,#34cdf7,#34cdf7,#38cef7,#41cff7,#41cff7,#37cef7,#2ecdf7,#29ccf7,#22cbf7,#15caf7,#08c8f7,#00c6f7,#00c4f6,#00c3f6,#00c1f6,#00c0f6,#00bef5,#00bdf5,#00bbf5,#00baf4,#00b9f4,#00b8f4,#00b8f4,#00b9f4,#00bbf5,#00bcf5)"></i><i style="background:linear-gradient(90deg,#00c0f6,#00c1f6,#00c3f6,#00c4f6,#00c5f7,#00c6f7,#00c6f7,#00c7f7,#00c6f7,#00c5f7,#00c4f6,#00c4f6,#00c3f6,#00c2f6,#00c2f6,#00c2f6,#00c2f6,#00c3f6,#00c4f6,#00c7f7,#14caf7,#2dcdf7,#40cff7,#4ed1f7,#57d2f7,#5cd3f7,#5dd3f7,#5ad2f7,#56d2f7,#50d1f7,#45d0f7,#33cdf7,#1bcaf7,#00c6f7,#00bff5,#00b7f4,#00b0f2,#00abf1,#00a7f0,#00a4f0,#00a1ef,#009dee,#0099ed,#0095eb,#0090e9,#008be8,#0087e6,#0084e5,#0081e3,#007fe3,#007fe3,#0082e4,#0085e5,#0089e7,#008ee9,#0093eb,#0098ec,#009ced,#00a0ee,#00a4ef,#00a9f1,#00adf2,#00b2f3,#00b8f4,#00bef5,#00c5f7,#0bc8f7,#1bcaf7,#2ecdf7,#41cff7,#4bd0f7,#4dd1f7,#52d1f7,#5ad2f7,#59d2f7,#4ed1f7,#44cff7,#3ecff7,#34cdf7,#25ccf7,#15caf7,#09c8f7,#00c7f7,#00c5f7,#00c3f6,#00c1f6,#00c0f6,#00bef5,#00bdf5,#00bbf5,#00baf4,#00baf4,#00baf4,#00bbf5,#00bcf5,#00bef5)"></i><i style="background:linear-gradient(90deg,#00c1f6,#00c3f6,#00c4f6,#00c6f7,#00c7f7,#02c7f7,#04c7f7,#04c8f7,#01c7f7,#00c6f7,#00c5f7,#00c5f7,#00c4f6,#00c3f6,#00c3f6,#00c3f6,#00c4f6,#00c5f7,#00c7f7,#0fc9f7,#27ccf7,#41cff7,#56d2f7,#65d4f7,#70d5f7,#74d6f7,#75d6f7,#73d6f7,#70d5f7,#6ad4f7,#5ed3f7,#4bd0f7,#30cdf7,#0fc9f7,#00c1f6,#00b8f4,#00b1f3,#00abf1,#00a8f0,#00a5f0,#00a2ef,#009dee,#0099ec,#0094eb,#008fe9,#008ae7,#0086e5,#0082e4,#007ee2,#007ce1,#007de1,#007fe3,#0083e5,#0088e6,#008de8,#0093ea,#0097ec,#009bed,#00a0ee,#00a4ef,#00a9f1,#00aef2,#00b3f3,#00b9f4,#00c0f6,#03c7f7,#1ccaf7,#2dcdf7,#42cff7,#58d2f7,#65d4f7,#68d4f7,#6ed5f7,#74d6f7,#73d6f7,#67d4f7,#5cd2f7,#54d1f7,#48d0f7,#36cef7,#24cbf7,#16caf7,#0ac8f7,#00c7f7,#00c5f7,#00c4f6,#00c2f6,#00c0f6,#00bff5,#00bdf5,#00bcf5,#00bcf5,#00bcf5,#00bdf5,#00bef5,#00bff5)"></i><i style="background:linear-gradient(90deg,#00c3f6,#00c5f7,#00c6f7,#01c7f7,#05c8f7,#08c8f7,#0bc8f7,#0bc8f7,#07c8f7,#02c7f7,#00c6f7,#00c6f7,#00c5f7,#00c4f6,#00c4f6,#00c4f6,#00c5f7,#00c7f7,#0cc9f7,#20cbf7,#3bcef7,#57d2f7,#6dd5f7,#7ad8f7,#83daf8,#88dcf8,#89dcf8,#88dcf8,#85dbf8,#7fd9f8,#76d7f7,#63d3f7,#47d0f7,#21cbf7,#00c4f6,#00baf4,#00b2f3,#00acf2,#00a8f1,#00a5f0,#00a2ef,#009dee,#0098ec,#0094eb,#008ee9,#0089e7,#0084e5,#007fe3,#007be1,#007ae0,#007ae0,#007de1,#0082e4,#0087e6,#008ce8,#0092ea,#0096ec,#009bed,#009fee,#00a4ef,#00aaf1,#00aff2,#00b5f3,#00bbf5,#00c3f6,#13c9f7,#2ecdf7,#40cff7,#57d2f7,#71d5f7,#7cd9f7,#80daf8,#85dbf8,#8adcf8,#88dcf8,#7fd9f8,#75d6f7,#6cd4f7,#5dd3f7,#48d0f7,#34cdf7,#24cbf7,#17caf7,#0bc8f7,#02c7f7,#00c6f7,#00c4f6,#00c2f6,#00c0f6,#00bff5,#00bef5,#00bdf5,#00bef5,#00bef5,#00bff5,#00c1f6)"></i><i style="background:linear-gradient(90deg,#00c4f6,#00c6f7,#04c7f7,#08c8f7,#0cc8f7,#0fc9f7,#11c9f7,#11c9f7,#0cc9f7,#06c8f7,#01c7f7,#00c6f7,#00c5f7,#00c5f7,#00c5f7,#00c5f7,#00c7f7,#08c8f7,#19caf7,#32cdf7,#50d1f7,#6dd5f7,#7fd9f8,#8dddf8,#96e0f8,#9be1f9,#9de2f9,#9de2f9,#9ae1f8,#94dff8,#89dcf8,#7ad8f7,#5ed3f7,#34cef7,#02c7f7,#00bcf5,#00b3f3,#00adf2,#00a9f1,#00a6f0,#00a2ef,#009dee,#0098ec,#0093ea,#008ee8,#0088e6,#0083e4,#007de1,#0079df,#0077de,#0078df,#007ae0,#0080e3,#0086e5,#008be8,#0091ea,#0096ec,#009aed,#009fee,#00a4ef,#00aaf1,#00b0f2,#00b7f4,#00bdf5,#00c6f7,#25ccf7,#43cff7,#56d2f7,#6ed5f7,#85dbf8,#93dff8,#98e0f8,#9de2f9,#a2e3f9,#9fe2f9,#95dff8,#8adcf8,#80d9f8,#73d6f7,#5cd2f7,#45d0f7,#33cdf7,#24ccf7,#18caf7,#0dc9f7,#05c8f7,#00c6f7,#00c4f6,#00c2f6,#00c1f6,#00c0f6,#00bff5,#00bff5,#00c0f6,#00c1f6,#00c2f6)"></i><i style="background:linear-gradient(90deg,#00c6f7,#06c8f7,#0cc9f7,#10c9f7,#13c9f7,#16caf7,#18caf7,#16caf7,#11c9f7,#0ac8f7,#04c8f7,#00c7f7,#00c6f7,#00c5f7,#00c6f7,#00c6f7,#05c8f7,#11c9f7,#26ccf7,#44cff7,#65d4f7,#7fd9f8,#91def8,#9fe2f9,#a9e5f9,#afe7f9,#b2e8f9,#b2e8f9,#afe7f9,#a8e5f9,#9de2f9,#8dddf8,#74d6f7,#48d0f7,#11c9f7,#00bff5,#00b5f3,#00aef2,#00aaf1,#00a6f0,#00a2ef,#009dee,#0098ec,#0092ea,#008de8,#0087e6,#0081e4,#007ae0,#0076de,#0074dd,#0075de,#0078df,#007ee2,#0085e5,#008ae7,#0090e9,#0095eb,#009aed,#009fee,#00a4f0,#00abf1,#00b2f3,#00b9f4,#00c0f6,#0bc8f7,#3acef7,#5bd2f7,#6ed5f7,#82daf8,#9be1f9,#aae5f9,#b0e7f9,#b5e9f9,#b9eafa,#b6e9f9,#abe6f9,#9fe2f9,#94dff8,#85dbf8,#70d5f7,#57d2f7,#43cff7,#33cdf7,#25ccf7,#19caf7,#10c9f7,#07c8f7,#00c7f7,#00c4f6,#00c3f6,#00c1f6,#00c1f6,#00c1f6,#00c2f6,#00c3f6,#00c4f6)"></i><i style="background:linear-gradient(90deg,#06c8f7,#10c9f7,#16caf7,#19caf7,#1bcaf7,#1ecbf7,#1ecbf7,#1ccaf7,#16caf7,#0ec9f7,#07c8f7,#02c7f7,#00c7f7,#00c6f7,#00c6f7,#02c7f7,#0bc8f7,#1acaf7,#32cdf7,#54d2f7,#77d7f7,#90def8,#a3e3f9,#b2e8f9,#bceafa,#c2ecfa,#c5edfa,#c6edfa,#c3edfa,#bcebfa,#b1e7f9,#a1e3f9,#87dbf8,#5cd3f7,#20cbf7,#00c1f6,#00b6f4,#00aff2,#00aaf1,#00a7f0,#00a3ef,#009dee,#0098ec,#0092ea,#008ce8,#0086e5,#007fe2,#0078df,#0074dd,#0072dc,#0073dc,#0076de,#007ce1,#0083e5,#0089e7,#008fe9,#0095eb,#0099ed,#009fee,#00a5f0,#00acf1,#00b4f3,#00bcf5,#00c3f6,#1dcbf7,#50d1f7,#73d6f7,#83daf8,#97e0f8,#b1e7f9,#c1ecfa,#c7eefa,#cbeffb,#cdeffb,#caeffa,#c2ecfa,#b6e9f9,#a9e5f9,#97e0f8,#81daf8,#6ad4f7,#54d2f7,#42cff7,#33cdf7,#26ccf7,#1ccbf7,#12c9f7,#08c8f7,#00c6f7,#00c5f7,#00c3f6,#00c3f6,#00c4f6,#00c4f6,#00c5f7,#00c6f7)"></i><i style="background:linear-gradient(90deg,#11c9f7,#1bcaf7,#21cbf7,#23cbf7,#24ccf7,#26ccf7,#25ccf7,#21cbf7,#1acaf7,#11c9f7,#09c8f7,#04c8f7,#00c7f7,#00c7f7,#00c7f7,#07c8f7,#12c9f7,#23cbf7,#3dcff7,#63d3f7,#86dbf8,#a0e3f9,#b4e8f9,#c4edfa,#cceffb,#d0f0fb,#d3f1fb,#d3f1fb,#d1f1fb,#cceffb,#c5edfa,#b4e8f9,#99e1f8,#71d5f7,#31cdf7,#00c3f6,#00b8f4,#00b0f2,#00abf1,#00a7f0,#00a3ef,#009dee,#0097ec,#0091ea,#008be7,#0084e5,#007de1,#0076de,#0071dc,#006fdb,#0070db,#0074dd,#007ae0,#0082e4,#0088e6,#008fe9,#0094eb,#0099ed,#009eee,#00a5f0,#00adf2,#00b6f4,#00bff5,#01c7f7,#32cdf7,#69d4f7,#89dcf8,#98e0f8,#ade6f9,#c7eefa,#d2f1fb,#d7f3fc,#dbf4fc,#ddf4fc,#daf3fc,#d3f1fb,#caeefa,#beebfa,#abe6f9,#92dff8,#7bd8f7,#66d4f7,#52d1f7,#41cff7,#34cdf7,#29ccf7,#1ecbf7,#12c9f7,#07c8f7,#00c6f7,#00c5f7,#00c5f7,#00c6f7,#00c6f7,#02c7f7,#07c8f7)"></i><i style="background:linear-gradient(90deg,#1dcbf7,#27ccf7,#2ccdf7,#2ecdf7,#2ecdf7,#2ecdf7,#2cccf7,#26ccf7,#1ecbf7,#14c9f7,#0cc8f7,#06c8f7,#02c7f7,#01c7f7,#04c7f7,#0bc8f7,#18caf7,#2bccf7,#48d0f7,#70d5f7,#93dff8,#b0e7f9,#c5edfa,#d0f0fb,#d8f3fc,#ddf4fc,#dff5fc,#e0f5fc,#def5fc,#d9f3fc,#d2f1fb,#c6edfa,#abe6f9,#81daf8,#41cff7,#00c6f7,#00baf4,#00b1f3,#00acf2,#00a8f0,#00a3ef,#009dee,#0097ec,#0091ea,#008ae7,#0083e4,#007be0,#0073dd,#006fda,#006dd9,#006eda,#0072dc,#0078df,#0081e3,#0087e6,#008ee8,#0093eb,#0099ec,#009eee,#00a6f0,#00aff2,#00b9f4,#00c2f6,#15caf7,#49d0f7,#7fd9f8,#9fe2f9,#b0e7f9,#c5edfa,#d7f3fc,#e2f6fc,#e7f7fd,#eaf8fd,#ecf9fd,#e9f8fd,#e2f6fc,#d9f3fc,#cef0fb,#beebfa,#a4e4f9,#8bddf8,#77d7f7,#64d3f7,#51d1f7,#42cff7,#36cef7,#29ccf7,#1ccbf7,#10c9f7,#06c8f7,#01c7f7,#00c7f7,#03c7f7,#07c8f7,#0dc9f7,#12c9f7)"></i><i style="background:linear-gradient(90deg,#2bccf7,#34cef7,#39cef7,#3acef7,#39cef7,#37cef7,#33cdf7,#2bccf7,#21cbf7,#17caf7,#0ec9f7,#07c8f7,#04c7f7,#03c7f7,#07c8f7,#11c9f7,#1fcbf7,#34cef7,#51d1f7,#79d8f7,#9fe2f9,#c0ebfa,#d0f0fb,#dbf4fc,#e3f6fd,#e9f8fd,#ecf9fd,#ecf9fd,#eaf9fd,#e6f7fd,#def5fc,#d2f1fb,#bdebfa,#91def8,#53d1f7,#09c8f7,#00bcf5,#00b3f3,#00adf2,#00a9f1,#00a3ef,#009dee,#0096ec,#0090e9,#0089e7,#0082e4,#0079df,#0071dc,#006cd9,#006ad8,#006bd9,#0070db,#0076de,#007fe2,#0086e6,#008de8,#0093ea,#0098ec,#009fee,#00a6f0,#00b0f2,#00bcf5,#00c7f7,#2cccf7,#63d3f7,#95dff8,#b7e9fa,#c7eefa,#d5f2fb,#e7f8fd,#f1fbfe,#f5fcfe,#f8fdfe,#f9fdff,#f7fcfe,#f0fafe,#e7f8fd,#dcf4fc,#cef0fb,#b7e9f9,#9ce1f9,#86dbf8,#74d6f7,#62d3f7,#52d1f7,#44cff7,#35cef7,#27ccf7,#19caf7,#0fc9f7,#09c8f7,#09c8f7,#0cc9f7,#12c9f7,#19caf7,#20cbf7)"></i><i style="background:linear-gradient(90deg,#3acef7,#43cff7,#47d0f7,#47d0f7,#45d0f7,#41cff7,#3acef7,#30cdf7,#24ccf7,#19caf7,#10c9f7,#09c8f7,#05c8f7,#06c8f7,#0bc8f7,#16caf7,#27ccf7,#3dcff7,#5bd2f7,#80daf8,#aae5f9,#cceffb,#dbf4fc,#e6f7fd,#effafe,#f5fcfe,#f8fdfe,#f8fdfe,#f6fcfe,#f2fbfe,#ebf9fd,#dff5fc,#cbeffb,#a2e3f9,#66d4f7,#16caf7,#00bef5,#00b5f3,#00aef2,#00a9f1,#00a4ef,#009dee,#0096ec,#008fe9,#0088e6,#0080e3,#0077de,#006fda,#0069d8,#0067d7,#0069d7,#006dda,#0074dd,#007de1,#0085e5,#008ce8,#0092ea,#0098ec,#009fee,#00a7f0,#00b3f3,#00bff5,#13c9f7,#45d0f7,#7cd8f7,#ace6f9,#cceffb,#d8f3fc,#e6f7fd,#f7fcfe,#ffffff,#fffefd,#fffdfb,#fffdfa,#fffdfb,#fdffff,#f4fcfe,#eaf8fd,#dbf4fc,#c8eefa,#ade6f9,#95e0f8,#82daf8,#72d6f7,#62d3f7,#52d1f7,#42cff7,#31cdf7,#23cbf7,#18caf7,#12c9f7,#12c9f7,#16caf7,#1dcbf7,#25ccf7,#2ecdf7)"></i><i style="background:linear-gradient(90deg,#4ad0f7,#52d1f7,#55d2f7,#54d2f7,#51d1f7,#4bd0f7,#41cff7,#35cef7,#28ccf7,#1ccbf7,#12c9f7,#0ac8f7,#07c8f7,#08c8f7,#0fc9f7,#1ccaf7,#2fcdf7,#46d0f7,#64d4f7,#87dcf8,#b5e8f9,#d6f2fb,#e6f7fd,#f0fafe,#f9fdff,#fffffe,#fffefc,#fffefc,#fffefd,#ffffff,#f7fdfe,#ebf9fd,#d7f3fc,#b3e8f9,#77d7f7,#26ccf7,#00c0f6,#00b7f4,#00b0f2,#00aaf1,#00a4ef,#009dee,#0096ec,#008ee9,#0087e6,#007ee2,#0074dd,#006cd9,#0067d6,#0064d5,#0066d6,#006bd8,#0072dc,#007be0,#0084e5,#008be7,#0091ea,#0097ec,#009fee,#00a8f1,#00b5f3,#00c3f6,#2accf7,#60d3f7,#92dff8,#c3ecfa,#dcf4fc,#e8f8fd,#f6fcfe,#fffdfa,#fffaf5,#fefaf4,#fef9f3,#fef9f1,#fef9f3,#fffbf7,#fffefd,#f7fcfe,#e8f8fd,#d5f2fb,#beebfa,#a5e4f9,#90def8,#80d9f8,#72d6f7,#61d3f7,#4fd1f7,#3ccff7,#2ccdf7,#21cbf7,#1acaf7,#1acaf7,#1fcbf7,#28ccf7,#32cdf7,#3dcff7)"></i><i style="background:linear-gradient(90deg,#5bd2f7,#62d3f7,#64d4f7,#63d3f7,#5ed3f7,#56d2f7,#4ad0f7,#3bcef7,#2cccf7,#1fcbf7,#14caf7,#0cc9f7,#09c8f7,#0bc8f7,#13c9f7,#22cbf7,#37cef7,#50d1f7,#6ed5f7,#8fdef8,#bfebfa,#e0f5fc,#f1fbfe,#fbfeff,#fffdfc,#fffbf6,#fefaf4,#fefaf5,#fffbf5,#fffbf7,#fffefc,#f6fcfe,#e3f6fd,#c5edfa,#88dcf8,#37cef7,#00c3f6,#00b9f4,#00b1f3,#00abf1,#00a4ef,#009dee,#0095eb,#008ee9,#0086e6,#007de1,#0072dc,#006ad8,#0064d5,#0062d4,#0063d5,#0068d7,#006fdb,#0079df,#0083e4,#008ae7,#0091ea,#0097ec,#009fee,#00aaf1,#00b8f4,#02c7f7,#42cff7,#79d8f7,#a9e5f9,#d3f1fb,#ecf9fd,#f8fdfe,#fffdfb,#fef8f0,#fef6ec,#fef6ec,#fef6eb,#fef5ea,#fef5ea,#fef8ef,#fffaf5,#fffefc,#f5fcfe,#e1f6fc,#cceffb,#b4e8f9,#9fe2f9,#8eddf8,#7fd9f8,#70d5f7,#5cd2f7,#47d0f7,#36cef7,#29ccf7,#23cbf7,#23cbf7,#29ccf7,#33cdf7,#40cff7,#4dd1f7)"></i><i style="background:linear-gradient(90deg,#6cd4f7,#72d5f7,#73d6f7,#71d5f7,#6cd4f7,#61d3f7,#53d1f7,#41cff7,#31cdf7,#23cbf7,#17caf7,#0ec9f7,#0ac8f7,#0ec9f7,#17caf7,#28ccf7,#40cff7,#5bd2f7,#77d7f7,#97e0f8,#c9eefa,#eaf9fd,#fcfeff,#fffdfb,#fefaf4,#fef7ed,#fef6eb,#fef6ec,#fef7ed,#fef7ee,#fef9f3,#fffefc,#f0fafe,#d2f1fb,#99e1f8,#4ad0f7,#00c7f7,#00bbf5,#00b3f3,#00acf1,#00a5f0,#009dee,#0095eb,#008de8,#0085e5,#007be0,#0070db,#0067d7,#0061d3,#005fd2,#0061d3,#0065d6,#006dd9,#0076de,#0081e4,#0089e7,#0090e9,#0097ec,#00a0ee,#00abf1,#00bbf5,#15caf7,#5bd2f7,#8fdef8,#c0ebfa,#e2f6fd,#fafeff,#fffcf9,#fef8f0,#fef4e7,#fef2e3,#fef3e4,#fef2e4,#fef2e2,#fef2e3,#fef4e7,#fef7ed,#fefaf4,#fffefe,#edfafd,#d8f3fc,#c4edfa,#ade6f9,#9be1f9,#8cddf8,#7cd8f7,#69d4f7,#52d1f7,#3fcff7,#33cdf7,#2cccf7,#2cccf7,#32cdf7,#3fcff7,#4ed1f7,#5dd3f7)"></i><i style="background:linear-gradient(90deg,#7ad8f7,#7ed9f8,#7fd9f8,#7dd9f7,#77d7f7,#6dd5f7,#5cd3f7,#48d0f7,#36cef7,#27ccf7,#1acaf7,#10c9f7,#0cc9f7,#11c9f7,#1ccbf7,#2fcdf7,#49d0f7,#67d4f7,#81daf8,#a0e3f9,#d1f1fb,#f5fcfe,#fffcf9,#fef9f3,#fef6ec,#fef3e5,#fef2e2,#fef2e4,#fef3e5,#fef3e5,#fef5ea,#fefaf4,#fcfeff,#dff5fc,#abe6f9,#5fd3f7,#0fc9f7,#00bef5,#00b5f3,#00adf2,#00a5f0,#009dee,#0095eb,#008de8,#0084e5,#0079e0,#006eda,#0065d5,#015fd2,#015dd0,#015ed1,#0063d4,#006ad8,#0074dd,#007fe3,#0088e6,#008fe9,#0097ec,#00a0ee,#00adf2,#00bef5,#2accf7,#74d6f7,#a5e4f9,#d0f0fb,#f0fafe,#fffcf8,#fef8ef,#fef4e7,#fdf0de,#fdeedb,#fdefdd,#fdefdd,#fdeedb,#fdefdb,#fdf1e0,#fef3e5,#fef6ec,#fffbf5,#f9fdfe,#e3f6fd,#cef0fb,#bbeafa,#a9e5f9,#99e1f8,#88dcf8,#74d6f7,#5dd3f7,#49d0f7,#3ccef7,#35cef7,#35cef7,#3dcff7,#4bd0f7,#5dd3f7,#6ed5f7)"></i><i style="background:linear-gradient(90deg,#87dcf8,#8bddf8,#8cddf8,#88dcf8,#82daf8,#77d7f7,#67d4f7,#51d1f7,#3dcff7,#2ccdf7,#1dcbf7,#12c9f7,#0fc9f7,#14c9f7,#21cbf7,#36cef7,#53d1f7,#73d6f7,#8cddf8,#ace6f9,#daf4fc,#fffffe,#fef8f1,#fef5ea,#fef2e3,#fdeedb,#fdedd9,#fdeedb,#fdeedb,#fdefdb,#fef1e0,#fef5ea,#fffcf8,#ecf9fd,#bfebfa,#74d6f7,#23cbf7,#00c2f6,#00b8f4,#00aff2,#00a6f0,#009dee,#0095eb,#008ce8,#0084e5,#0078df,#006cd9,#0062d4,#015dd0,#015bce,#015ccf,#0060d2,#0068d7,#0072dc,#007ee2,#0087e6,#008fe9,#0097ec,#00a1ef,#00aff2,#00c1f6,#40cff7,#88dcf8,#baeafa,#def5fc,#fdfeff,#fef8f0,#fef3e6,#fdefdd,#fdebd4,#fde9d1,#fdebd4,#fdebd5,#fdead2,#fdebd3,#fdedd9,#fdf0de,#fef3e4,#fef7ee,#fffdfb,#eefafe,#d8f3fc,#c7eefa,#b7e9f9,#a6e4f9,#93dff8,#7ed9f8,#68d4f7,#53d1f7,#45d0f7,#3ecff7,#3ecff7,#47d0f7,#57d2f7,#6bd4f7,#7bd8f7)"></i><i style="background:linear-gradient(90deg,#94dff8,#98e0f8,#98e0f8,#94dff8,#8dddf8,#81daf8,#72d6f7,#5bd2f7,#45d0f7,#32cdf7,#21cbf7,#15caf7,#11c9f7,#17caf7,#26ccf7,#3ecff7,#5dd3f7,#7dd9f7,#99e1f8,#baeafa,#e4f7fd,#fffbf6,#fef4e8,#fef1e1,#fdedd9,#fde8ce,#fde7cb,#fde8ce,#fde9cf,#fde9cf,#fdecd6,#fdf1e0,#fef7ee,#fafeff,#cff0fb,#88dcf8,#38cef7,#00c6f7,#00bbf5,#00b0f2,#00a7f0,#009eee,#0095eb,#008ce8,#0083e4,#0076de,#006ad8,#0060d2,#015bce,#0259cc,#025acd,#015ed1,#0065d6,#0070db,#007ce1,#0086e6,#008ee9,#0096ec,#00a2ef,#00b1f3,#00c5f7,#56d2f7,#9be1f9,#cbeffb,#ebf9fd,#fffcf8,#fef4e7,#fdefdd,#fdebd4,#fde5c8,#fde4c4,#fde5c8,#fde6ca,#fde5c8,#fde6c9,#fde9d0,#fdedd7,#fdefdd,#fef3e6,#fefaf4,#f8fdfe,#e2f6fc,#d0f1fb,#c4edfa,#b3e8f9,#9fe2f9,#88dcf8,#73d6f7,#5dd3f7,#4ed1f7,#47d0f7,#48d0f7,#52d1f7,#64d3f7,#77d7f7,#87dcf8)"></i><i style="background:linear-gradient(90deg,#a1e3f9,#a5e4f9,#a4e4f9,#a0e2f9,#98e0f8,#8cddf8,#7cd8f7,#66d4f7,#4ed1f7,#38cef7,#25ccf7,#18caf7,#14caf7,#1bcaf7,#2cccf7,#46d0f7,#68d4f7,#88dcf8,#a7e5f9,#c9eefa,#effafe,#fef7ee,#fdf0df,#fdecd6,#fde6ca,#fde1bf,#fddfbb,#fde0be,#fde1bf,#fde1c0,#fde5c7,#fdecd5,#fef2e3,#fffcf8,#ddf5fc,#9ce1f9,#4fd1f7,#0cc8f7,#00bdf5,#00b2f3,#00a8f0,#009eee,#0095eb,#008ce8,#0082e4,#0075dd,#0068d7,#015ed1,#0259cc,#0256ca,#0257cb,#015ccf,#0063d4,#006eda,#007ae0,#0085e5,#008de8,#0096ec,#00a3ef,#00b3f3,#07c8f7,#6cd4f7,#aee6f9,#d8f3fc,#f6fcfe,#fef8f1,#fdf1e0,#fdebd4,#fde5c7,#fddfbb,#fdddb8,#fddfbc,#fde0be,#fde0bd,#fde1bf,#fde4c6,#fde8ce,#fdecd6,#fdf0df,#fef6ec,#fffefd,#ebf9fd,#d9f3fc,#cdeffb,#bfebfa,#aae5f9,#92dff8,#7bd8f7,#67d4f7,#58d2f7,#51d1f7,#52d1f7,#5dd3f7,#70d5f7,#82daf8,#93dff8)"></i><i style="background:linear-gradient(90deg,#ade6f9,#b1e7f9,#b0e7f9,#abe6f9,#a2e3f9,#96e0f8,#86dbf8,#72d6f7,#58d2f7,#40cff7,#2accf7,#1bcaf7,#17caf7,#1fcbf7,#32cdf7,#4ed1f7,#72d6f7,#94dff8,#b6e9f9,#d4f2fb,#fafdff,#fef4e6,#fdebd4,#fde4c6,#fddeb9,#fdd9ae,#fdd7aa,#fdd8ad,#fdd9ae,#fddab0,#fdddb7,#fde4c6,#fdedd9,#fef7ee,#ecf9fd,#b2e7f9,#68d4f7,#1fcbf7,#00c0f6,#00b4f3,#00a9f1,#009fee,#0095eb,#008be8,#0082e4,#0074dd,#0066d6,#015ccf,#0256ca,#0354c8,#0255c9,#025acd,#0061d3,#006cd9,#0079df,#0084e5,#008de8,#0096ec,#00a3ef,#00b5f3,#18caf7,#7dd9f7,#c0ecfa,#e3f6fd,#fffffe,#fef5ea,#fdedd9,#fde6c9,#fddfbb,#fdd9ae,#fdd7ab,#fdd9af,#fddab1,#fddab1,#fddcb5,#fde0bc,#fde4c5,#fde8cd,#fdedd8,#fef3e5,#fffbf6,#f3fbfe,#e1f6fc,#d5f2fb,#c9eefa,#b4e8f9,#9be1f9,#84dbf8,#71d5f7,#62d3f7,#5ad2f7,#5cd3f7,#68d4f7,#7ad8f7,#8dddf8,#9fe2f9)"></i><i style="background:linear-gradient(90deg,#b9eafa,#beebfa,#bcebfa,#b7e9f9,#ade6f9,#a1e3f9,#90def8,#7cd8f7,#63d3f7,#48d0f7,#2fcdf7,#1fcbf7,#1bcaf7,#24ccf7,#38cef7,#56d2f7,#7bd8f7,#9fe2f9,#c5edfa,#e0f5fc,#fffdfb,#fdf0de,#fde4c6,#fddcb5,#fdd5a6,#fdd09c,#fdce97,#fdcf9a,#fdd09c,#fdd29f,#fdd5a7,#fddcb5,#fde6ca,#fef2e3,#fbfeff,#c7eefa,#7ed9f7,#33cdf7,#00c4f6,#00b6f4,#00aaf1,#009fee,#0095eb,#008be8,#0082e4,#0073dc,#0065d5,#015bce,#0355c9,#0352c7,#0353c8,#0258cb,#015fd2,#006ad8,#0078df,#0084e5,#008de8,#0097ec,#00a4ef,#00b8f4,#29ccf7,#8dddf8,#cdeffb,#edf9fd,#fffcf9,#fef3e4,#fde9d1,#fde0bd,#fdd9ae,#fdd3a1,#fdd19e,#fdd2a1,#fdd4a4,#fdd5a6,#fdd7aa,#fddbb3,#fddfbb,#fde3c4,#fde9d0,#fdf0df,#fef8f0,#fbfeff,#e8f8fd,#dcf4fc,#d0f1fb,#beebfa,#a4e4f9,#8cddf8,#79d7f7,#6bd4f7,#64d3f7,#67d4f7,#73d6f7,#83daf8,#97e0f8,#aae5f9)"></i><i style="background:linear-gradient(90deg,#c5edfa,#c8eefa,#c7eefa,#c2ecfa,#b8e9fa,#ace6f9,#9be1f9,#86dbf8,#6fd5f7,#50d1f7,#35cef7,#23cbf7,#1fcbf7,#29ccf7,#3fcff7,#5fd3f7,#83daf8,#aae6f9,#cff0fb,#ebf9fd,#fefaf4,#fdecd6,#fdddb8,#fdd3a3,#fdcb90,#fec683,#fec47e,#fec580,#fec784,#fdc989,#fdcd95,#fdd4a5,#fddfbb,#fdedd9,#fffcf8,#d6f2fb,#92dff8,#48d0f7,#00c7f7,#00b8f4,#00abf1,#009fee,#0095eb,#008be8,#0081e4,#0072dc,#0063d5,#0259cd,#0353c7,#0350c5,#0352c6,#0256ca,#015ed0,#0069d8,#0077de,#0084e5,#008de8,#0097ec,#00a5f0,#00baf4,#38cef7,#9de2f9,#d7f3fc,#f5fcfe,#fefaf4,#fdf0df,#fde5c8,#fddbb2,#fdd2a1,#fdcc92,#fdca8c,#fdcb90,#fdcd95,#fdcf99,#fdd29f,#fdd6a9,#fddab2,#fddfba,#fde5c7,#fdedd9,#fef5ea,#fffefc,#effafe,#e3f6fd,#d7f3fc,#c6edfa,#ace6f9,#93dff8,#80daf8,#73d6f7,#6dd5f7,#71d5f7,#7cd8f7,#8dddf8,#a1e3f9,#b5e8f9)"></i><i style="background:linear-gradient(90deg,#cdeffb,#d0f1fb,#d0f0fb,#cbeffb,#c4edfa,#b6e9f9,#a5e4f9,#90def8,#78d7f7,#58d2f7,#3bcef7,#28ccf7,#24cbf7,#2fcdf7,#46d0f7,#68d4f7,#8cddf8,#b5e9f9,#d9f3fc,#f6fcfe,#fef6ed,#fde7cc,#fdd7aa,#fdca8d,#fec276,#febd69,#febb65,#febb66,#febd6a,#fec071,#fec57e,#fdcc93,#fdd8ac,#fde7cc,#fef7ee,#e4f7fd,#a5e4f9,#5cd3f7,#0ec9f7,#00baf4,#00acf1,#00a0ee,#0095eb,#008be7,#0081e3,#0071dc,#0062d4,#0258cb,#0351c6,#044fc4,#0350c5,#0354c9,#015ccf,#0068d7,#0076de,#0083e5,#008de8,#0097ec,#00a6f0,#00bcf5,#47d0f7,#abe6f9,#e1f6fc,#fcfeff,#fef8f0,#fdeedb,#fde1bf,#fdd5a7,#fdcc91,#fec580,#fec379,#fec47c,#fec682,#fec888,#fdcc92,#fdd19f,#fdd6a8,#fddab1,#fde1be,#fdead1,#fef3e5,#fffbf7,#f5fcfe,#e9f8fd,#ddf4fc,#cceffb,#b4e8f9,#9be1f9,#87dbf8,#7ad8f7,#75d6f7,#78d7f7,#84dbf8,#96e0f8,#abe6f9,#bfebfa)"></i><i style="background:linear-gradient(90deg,#d4f2fb,#d8f3fc,#d8f3fc,#d3f1fb,#cceffb,#c1ecfa,#b0e7f9,#9ae1f8,#80daf8,#61d3f7,#42cff7,#2ecdf7,#29ccf7,#35cef7,#4dd1f7,#70d5f7,#94dff8,#bfebfa,#e1f6fc,#ffffff,#fef3e6,#fde2c1,#fdd09c,#fec176,#ffb85d,#ffb350,#ffb14b,#ffb14b,#ffb350,#ffb75a,#febc69,#fec47e,#fdd19e,#fde1bf,#fef3e4,#f2fbfe,#b9e9fa,#70d5f7,#1bcaf7,#00bcf5,#00adf2,#00a0ee,#0095eb,#008be7,#0081e3,#0071db,#0061d3,#0257ca,#0350c5,#044ec3,#044fc4,#0353c7,#015bce,#0067d7,#0076de,#0084e5,#008de8,#0098ec,#00a7f0,#00bdf5,#55d2f7,#b9eafa,#eaf8fd,#fffefc,#fef7ed,#fdedd7,#fdddb7,#fdd09c,#fec580,#febe6e,#febb67,#febc69,#febf6f,#fec277,#fec783,#fdcc92,#fdd19f,#fdd6a9,#fdddb6,#fde6c9,#fdf0df,#fef9f3,#fbfeff,#eefafe,#e2f6fd,#d1f1fb,#baeafa,#a1e3f9,#8dddf8,#80daf8,#7bd8f7,#80d9f8,#8cddf8,#9fe2f9,#b5e9f9,#c8eefa)"></i><i style="background:linear-gradient(90deg,#dcf4fc,#e0f5fc,#e0f5fc,#dbf4fc,#d3f1fb,#caeefa,#baeafa,#a3e4f9,#88dcf8,#6ad4f7,#49d0f7,#34cdf7,#2fcdf7,#3bcef7,#55d2f7,#77d7f7,#9ce1f9,#c8eefa,#e9f8fd,#fffcf8,#fdf0df,#fdddb7,#fdc98a,#ffb960,#ffaf45,#ffaa38,#ffa832,#ffa831,#ffaa37,#ffae43,#ffb454,#febd6b,#fdca8d,#fddbb3,#fdefdc,#ffffff,#c9eefa,#7fd9f8,#28ccf7,#00bef5,#00adf2,#00a0ee,#0095eb,#008be7,#0081e3,#0070db,#0061d3,#0256ca,#044fc4,#044dc2,#044ec3,#0352c7,#015ace,#0067d6,#0076de,#0084e5,#008ee9,#0099ed,#00a8f0,#00bff5,#62d3f7,#c6edfa,#f2fbfe,#fffcf9,#fef5ea,#fdead2,#fdd9af,#fdca8d,#febf6f,#ffb75c,#ffb454,#ffb555,#ffb75c,#febc67,#fec175,#fec785,#fdcd93,#fdd2a0,#fdd9ae,#fde2c2,#fdeeda,#fef7ee,#fffffe,#f2fbfe,#e6f7fd,#d5f2fb,#c0ecfa,#a7e5f9,#93dff8,#86dbf8,#81daf8,#86dbf8,#94dff8,#a8e5f9,#bfebfa,#d0f0fb)"></i><i style="background:linear-gradient(90deg,#e4f6fd,#e8f8fd,#e8f8fd,#e3f6fd,#dbf4fc,#d1f1fb,#c4edfa,#ace6f9,#90def8,#71d5f7,#50d1f7,#3acef7,#35cef7,#42cff7,#5cd3f7,#7ed9f7,#a4e4f9,#cef0fb,#f0fafe,#fef9f2,#fdedd8,#fdd8ad,#fec37a,#ffb14c,#ffa72f,#ffa221,#ff9f1a,#ff9f18,#ffa11f,#ffa62d,#ffad40,#ffb659,#fec47d,#fdd6a8,#fdead3,#fffbf7,#d5f2fb,#8dddf8,#34cef7,#00bff5,#00adf2,#00a0ee,#0095eb,#008be7,#0081e3,#0070db,#0060d3,#0255c9,#044ec3,#044cc1,#044dc2,#0351c6,#025acd,#0067d6,#0077df,#0085e5,#008fe9,#009aed,#00a9f1,#00c0f6,#6fd5f7,#cff0fb,#fafdff,#fffaf5,#fef4e7,#fde8cd,#fdd5a7,#fec57e,#ffb85e,#ffb14b,#ffae42,#ffae43,#ffb14a,#ffb557,#febc67,#fec278,#fec887,#fdce96,#fdd5a6,#fddfba,#fdecd5,#fef5ea,#fffdfb,#f6fcfe,#eaf8fd,#d8f3fc,#c5edfa,#ace6f9,#98e0f8,#8bddf8,#87dcf8,#8dddf8,#9be1f9,#b0e7f9,#c7eefa,#d7f2fc)"></i><i style="background:linear-gradient(90deg,#ebf9fd,#f0fafe,#f0fafe,#ebf9fd,#e3f6fd,#d8f3fc,#caeffa,#b4e8f9,#96e0f8,#77d7f7,#57d2f7,#41cff7,#3ccff7,#49d0f7,#64d4f7,#85dbf8,#abe6f9,#d4f2fb,#f7fcfe,#fef6ec,#fde9d0,#fdd3a3,#febd6b,#ffab3b,#ffa01c,#ff9a0b,#ff9703,#ff9600,#ff9907,#ff9e17,#ffa62d,#ffb049,#febf6f,#fdd19f,#fde6c9,#fef8ef,#dff5fc,#9ae1f8,#3fcff7,#00c0f6,#00adf2,#00a0ee,#0095eb,#008be7,#0081e3,#0070db,#0060d2,#0255c9,#044ec3,#044bc1,#044cc2,#0351c6,#025acd,#0067d6,#0078df,#0087e6,#0091ea,#009ced,#00aaf1,#00c2f6,#79d7f7,#d8f3fc,#fffefd,#fef9f2,#fef3e4,#fde5c8,#fdd19f,#febf70,#ffb24e,#ffab3a,#ffa831,#ffa832,#ffab3a,#ffb048,#ffb659,#febd6b,#fec37b,#fdca8b,#fdd19f,#fddbb3,#fde8cf,#fef3e6,#fffcf8,#fafdff,#edf9fd,#dbf4fc,#c8eefa,#b1e7f9,#9de2f9,#90def8,#8cddf8,#93dff8,#a2e3f9,#b8e9fa,#cef0fb,#def5fc)"></i><i style="background:linear-gradient(90deg,#f3fbfe,#f8fdfe,#f7fdfe,#f2fbfe,#eaf8fd,#dff5fc,#d0f0fb,#bbeafa,#9de2f9,#7dd9f7,#5fd3f7,#48d0f7,#44cff7,#51d1f7,#6dd5f7,#8cddf8,#b3e8f9,#d9f3fc,#fdfeff,#fef4e7,#fde4c6,#fdce98,#ffb85d,#ffa62b,#ff9a0a,#ff9200,#ff8c00,#ff8b00,#ff8f00,#ff9703,#ffa01b,#ffab3b,#feba63,#fdcd94,#fde1c0,#fef5e9,#e9f8fd,#a6e4f9,#48d0f7,#00c0f6,#00adf2,#009fee,#0094eb,#008be7,#0081e3,#0070db,#0060d2,#0355c9,#044ec3,#044bc1,#044cc2,#0351c6,#025acd,#0067d7,#0079e0,#0088e6,#0093ea,#009eee,#00acf1,#00c3f6,#83daf8,#e2f6fc,#fffcf8,#fef7ee,#fef1e1,#fde2c2,#fdcd95,#feba62,#ffac3e,#ffa52a,#ffa222,#ffa222,#ffa52a,#ffab3a,#ffb14c,#ffb85e,#febf6f,#fec581,#fdce96,#fdd8ad,#fde5c8,#fef2e2,#fefaf5,#fcfeff,#effafe,#ddf5fc,#cbeffa,#b5e8f9,#a1e3f9,#95dff8,#91def8,#98e0f8,#a8e5f9,#bfebfa,#d4f2fb,#e5f7fd)"></i><i style="background:linear-gradient(90deg,#fafeff,#ffffff,#feffff,#f9fdff,#f1fbfe,#e5f7fd,#d6f2fb,#c2ecfa,#a2e3f9,#83daf8,#66d4f7,#50d1f7,#4bd0f7,#59d2f7,#74d6f7,#93dff8,#baeafa,#def5fc,#fffefc,#fef1e1,#fde0bc,#fdca8b,#ffb350,#ffa11e,#ff9300,#ff8800,#ff8200,#ff8100,#ff8400,#ff8e00,#ff9a0b,#ffa62e,#ffb658,#fdc98a,#fddeb8,#fef2e3,#f2fbfe,#b1e7f9,#51d1f7,#00c1f6,#00adf2,#009fee,#0094eb,#008be7,#0081e3,#0070db,#0060d2,#0255c9,#044ec3,#044bc1,#044cc2,#0351c6,#015acd,#0068d7,#007be0,#008ae7,#0095eb,#00a0ee,#00adf2,#00c5f7,#8fdef8,#ebf9fd,#fef9f2,#fef5ea,#fdf0de,#fddfbb,#fdc98a,#ffb555,#ffa730,#ffa01c,#ff9d13,#ff9d13,#ffa01c,#ffa62d,#ffad40,#ffb453,#febb64,#fec277,#fdca8c,#fdd5a6,#fde2c2,#fdf0de,#fef9f2,#ffffff,#f0fafe,#dff5fc,#cdeffb,#b8e9fa,#a5e4f9,#99e1f8,#96e0f8,#9de2f9,#aee6f9,#c6edfa,#daf3fc,#ecf9fd)"></i><i style="background:linear-gradient(90deg,#fffefd,#fffdfa,#fffdfb,#fffffe,#f7fdfe,#ebf9fd,#dbf4fc,#c7eefa,#a8e5f9,#89dcf8,#6ed5f7,#58d2f7,#53d1f7,#60d3f7,#7ad8f7,#99e1f8,#c1ecfa,#e3f6fd,#fffcf8,#fdeedb,#fddbb3,#fec57f,#ffaf44,#ff9c12,#ff8c00,#ff8000,#ff7800,#ff7600,#ff7a00,#ff8500,#ff9400,#ffa222,#ffb24f,#fec681,#fddbb2,#fdf0de,#f9fdff,#bbeafa,#59d2f7,#00c1f6,#00acf2,#009eee,#0094eb,#008be7,#0081e3,#0070db,#0060d3,#0255c9,#044ec3,#044bc1,#044dc2,#0352c6,#015bce,#0069d8,#007ce1,#008ce8,#0097ec,#00a2ef,#00b0f2,#06c8f7,#9ce1f9,#f6fcfe,#fef6ec,#fef3e5,#fdeed9,#fddcb4,#fec57e,#ffb048,#ffa222,#ff9b0e,#ff9806,#ff9806,#ff9c10,#ffa221,#ffa935,#ffb048,#ffb75a,#febe6d,#fec784,#fdd2a0,#fde0bd,#fdeedb,#fef8ef,#fffefd,#f2fbfe,#e1f6fc,#cff0fb,#bbeafa,#a8e5f9,#9de2f9,#9ae1f8,#a1e3f9,#b3e8f9,#caeffa,#dff5fc,#f2fbfe)"></i><i style="background:linear-gradient(90deg,#fffcf8,#fffaf5,#fffbf6,#fffdfa,#fdfeff,#f1fbfe,#e0f5fc,#cbeffb,#aee6f9,#8fdef8,#74d6f7,#60d3f7,#5bd2f7,#68d4f7,#81daf8,#a0e3f9,#c7edfa,#e7f8fd,#fefaf4,#fdecd6,#fdd7aa,#fec174,#ffab3a,#ff9807,#ff8600,#ff7800,#ff6f00,#ff6d00,#ff7100,#ff7c00,#ff8c00,#ff9e17,#ffaf46,#fec379,#fdd8ac,#fdeed9,#fffffe,#c4edfa,#60d3f7,#00c1f6,#00acf1,#009eee,#0093eb,#008be7,#0081e3,#0070db,#0061d3,#0256ca,#044fc4,#044cc1,#044dc2,#0352c7,#015bce,#006ad8,#007ee2,#008de8,#0099ed,#00a5f0,#00b3f3,#16caf7,#ace6f9,#fffefd,#fef3e5,#fdf1e0,#fdebd3,#fdd8ad,#fec073,#ffab3b,#ff9e15,#ff9702,#ff9300,#ff9400,#ff9805,#ff9e17,#ffa52b,#ffac3e,#ffb351,#febb64,#fec47c,#fdcf9a,#fdddb7,#fdedd7,#fef6ec,#fffefc,#f3fbfe,#e2f6fc,#d0f0fb,#beebfa,#ace6f9,#a0e3f9,#9ee2f9,#a6e4f9,#b8e9fa,#cff0fb,#e5f7fd,#f9fdfe)"></i><i style="background:linear-gradient(90deg,#fefaf3,#fef8f1,#fef9f2,#fffbf6,#fffefc,#f6fcfe,#e4f7fd,#cff0fb,#b3e8f9,#94dff8,#7ad8f7,#67d4f7,#63d3f7,#70d5f7,#87dbf8,#a7e4f9,#cbeffb,#ebf9fd,#fef8f1,#fde9cf,#fdd3a2,#febd69,#ffa730,#ff9400,#ff8000,#ff7000,#ff6800,#ff6600,#ff6900,#ff7300,#ff8500,#ff9a0c,#ffac3e,#fec072,#fdd5a7,#fdecd6,#fffdfa,#c9eefa,#66d4f7,#00c2f6,#00acf1,#009dee,#0093eb,#008be7,#0081e3,#0070db,#0061d3,#0257ca,#0450c4,#044dc2,#044ec3,#0353c7,#015ccf,#006bd9,#007fe3,#008fe9,#009ced,#00a8f0,#00b7f4,#2bccf7,#bfebfa,#fefaf4,#fdf0de,#fdeed9,#fde6cb,#fdd4a4,#febc68,#ffa730,#ff9a0a,#ff9200,#ff8f00,#ff8f00,#ff9400,#ff9b0f,#ffa222,#ffa935,#ffb048,#ffb85c,#fec174,#fdcc93,#fddbb2,#fdead3,#fef5ea,#fffdfa,#f4fcfe,#e3f6fd,#d2f1fb,#c1ecfa,#afe7f9,#a4e4f9,#a2e3f9,#aae5f9,#bdebfa,#d3f1fb,#eaf9fd,#ffffff)"></i><i style="background:linear-gradient(90deg,#fef7ef,#fef6ed,#fef7ee,#fef9f2,#fffcf9,#fbfeff,#e9f8fd,#d3f1fb,#b9eafa,#9ae1f8,#80daf8,#6fd5f7,#6bd4f7,#76d7f7,#8dddf8,#ade6f9,#cff0fb,#effafe,#fef7ed,#fde6c9,#fdd09c,#ffb960,#ffa426,#ff8f00,#ff7a00,#ff6a00,#ff6100,#ff5e00,#ff6200,#ff6c00,#ff7e00,#ff9601,#ffa935,#febd6b,#fdd3a3,#fdead2,#fffbf7,#cef0fb,#6cd4f7,#00c2f6,#00abf1,#009dee,#0093ea,#008be7,#0081e3,#0071db,#0061d4,#0257cb,#0350c5,#044dc3,#044fc4,#0354c8,#015dd0,#006cd9,#0081e3,#0090e9,#009eee,#00abf1,#00bcf5,#44d0f7,#cff0fb,#fef6eb,#fdecd6,#fde9d0,#fde2c0,#fdcf9a,#ffb75c,#ffa325,#ff9600,#ff8d00,#ff8b00,#ff8c00,#ff9100,#ff9908,#ffa01b,#ffa62e,#ffad41,#ffb555,#febe6e,#fdca8c,#fdd8ad,#fde8ce,#fef4e7,#fffcf9,#f5fcfe,#e4f7fd,#d3f1fb,#c3edfa,#b2e8f9,#a8e5f9,#a6e4f9,#aee6f9,#c1ecfa,#d7f3fc,#effafe,#fffdfa)"></i><i style="background:linear-gradient(90deg,#fef6eb,#fef5e9,#fef6eb,#fef8ef,#fffbf6,#ffffff,#edfafd,#d8f3fc,#c0ebfa,#a0e3f9,#86dbf8,#75d6f7,#72d5f7,#7cd8f7,#93dff8,#b3e8f9,#d3f1fb,#f3fbfe,#fef6eb,#fde4c5,#fdcd94,#ffb658,#ffa11e,#ff8b00,#ff7400,#ff6400,#ff5a00,#ff5700,#ff5a00,#ff6500,#ff7800,#ff9100,#ffa62c,#febb65,#fdd2a0,#fde8cf,#fefaf4,#d2f1fb,#71d5f7,#00c2f6,#00abf1,#009ded,#0093ea,#008ae7,#0081e3,#0071dc,#0062d4,#0258cb,#0351c6,#044ec3,#0450c4,#0355c9,#015ed1,#006dda,#0082e4,#0091ea,#00a0ee,#00aff2,#00c1f6,#62d3f7,#def5fc,#fef1e2,#fde6ca,#fde3c4,#fddcb5,#fdca8d,#ffb351,#ffa01b,#ff9200,#ff8a00,#ff8800,#ff8900,#ff8f00,#ff9703,#ff9e15,#ffa427,#ffab3a,#ffb24f,#febc68,#fec886,#fdd6a9,#fde6ca,#fef3e4,#fffbf7,#f6fcfe,#e5f7fd,#d5f2fb,#c6edfa,#b6e9f9,#abe6f9,#a9e5f9,#b1e7f9,#c6edfa,#dbf4fc,#f4fcfe,#fffbf6)"></i><i style="background:linear-gradient(90deg,#fef4e7,#fef3e5,#fef4e8,#fef6ed,#fefaf3,#fffefc,#f2fbfe,#dcf4fc,#c6edfa,#a7e4f9,#8cddf8,#7bd8f7,#77d7f7,#82daf8,#99e1f8,#b9eafa,#d6f2fb,#f6fcfe,#fef5e9,#fde2c1,#fdcb8e,#ffb351,#ff9e15,#ff8600,#ff6f00,#ff5f00,#ff5400,#ff5000,#ff5300,#ff5f00,#ff7100,#ff8b00,#ffa323,#ffb85f,#fdd09d,#fde7cc,#fef9f2,#d6f2fb,#75d6f7,#00c3f6,#00abf1,#009ced,#0093ea,#008ae7,#0081e3,#0071dc,#0062d4,#0259cc,#0352c6,#044fc4,#0351c5,#0256ca,#015fd2,#006eda,#0082e4,#0092ea,#00a2ef,#00b3f3,#01c7f7,#7ed9f7,#eefafe,#fdedd9,#fde0be,#fdddb8,#fdd6a8,#fec57f,#ffaf46,#ff9d13,#ff8f00,#ff8700,#ff8600,#ff8800,#ff8d00,#ff9600,#ff9c11,#ffa222,#ffa935,#ffb14a,#feba62,#fec581,#fdd4a4,#fde4c6,#fef1e2,#fffaf5,#f8fdfe,#e6f7fd,#d6f2fb,#c8eefa,#b9eafa,#afe7f9,#ade6f9,#b5e9f9,#c9eefa,#dff5fc,#f9fdfe,#fef9f3)"></i><i style="background:linear-gradient(90deg,#fef2e3,#fef2e2,#fef3e5,#fef5ea,#fef9f1,#fffdfa,#f6fcfe,#e1f6fc,#caeffa,#ade6f9,#92dff8,#81daf8,#7dd9f7,#88dcf8,#9fe2f9,#beebfa,#daf3fc,#f9fdfe,#fef4e7,#fde1bf,#fdc98a,#ffb14a,#ff9b0d,#ff8100,#ff6a00,#ff5900,#ff4d00,#fe4800,#ff4c00,#ff5900,#ff6b00,#ff8600,#ff9f1a,#ffb658,#fdcf99,#fde6ca,#fef8f0,#d9f3fc,#79d8f7,#00c4f6,#00abf1,#009ded,#0093ea,#008ae7,#0081e3,#0072dc,#0063d5,#0259cd,#0353c7,#0350c5,#0352c6,#0257cb,#0060d3,#0070db,#0083e4,#0092ea,#00a4ef,#00b7f4,#1ecbf7,#98e0f8,#feffff,#fde8cd,#fddbb2,#fdd7aa,#fdd09b,#febf70,#ffab3b,#ff9a0b,#ff8c00,#ff8500,#ff8400,#ff8700,#ff8d00,#ff9500,#ff9b0e,#ffa11f,#ffa831,#ffaf46,#ffb85e,#fec47c,#fdd2a1,#fde2c2,#fdf0df,#fef9f3,#fafdff,#e7f8fd,#d8f3fc,#caeffa,#bdebfa,#b3e8f9,#b1e7f9,#baeafa,#cceffb,#e3f6fd,#fdfeff,#fef8ef)"></i><i style="background:linear-gradient(90deg,#fdf1e0,#fdf0df,#fef2e2,#fef4e8,#fef8ef,#fffbf7,#fafdff,#e5f7fd,#cff0fb,#b3e8f9,#98e0f8,#86dbf8,#83daf8,#8dddf8,#a4e4f9,#c4edfa,#ddf4fc,#fcfeff,#fef3e5,#fde0bd,#fec786,#ffae44,#ff9806,#ff7d00,#ff6600,#ff5400,#fe4600,#fd4001,#fe4401,#ff5300,#ff6600,#ff8000,#ff9c11,#ffb453,#fdce96,#fde6c9,#fef8ef,#dcf4fc,#7dd9f7,#00c4f6,#00acf1,#009dee,#0093ea,#008ae7,#0081e4,#0072dc,#0064d5,#025acd,#0354c8,#0351c6,#0353c7,#0259cc,#0062d4,#0071db,#0084e5,#0093ea,#00a6f0,#00bbf5,#3ccef7,#b2e8f9,#fffbf6,#fde3c3,#fdd5a7,#fdd19d,#fdc989,#feba62,#ffa831,#ff9805,#ff8a00,#ff8400,#ff8400,#ff8700,#ff8d00,#ff9500,#ff9b0d,#ffa01c,#ffa62e,#ffae43,#ffb75b,#fec278,#fdd19d,#fde1be,#fdefdd,#fef8f1,#fcfeff,#e9f8fd,#d9f3fc,#cdeffb,#c1ecfa,#b7e9fa,#b5e9f9,#beebfa,#d0f0fb,#e7f8fd,#fffefd,#fef6ec)"></i><i style="background:linear-gradient(90deg,#fdefdd,#fdefdc,#fdf1e0,#fef3e6,#fef7ed,#fffaf5,#fdffff,#eaf8fd,#d4f2fb,#b9eafa,#9ee2f9,#8cddf8,#88dcf8,#93dff8,#aae5f9,#c8eefa,#e0f5fc,#ffffff,#fef2e3,#fddfbb,#fec682,#ffac3e,#ff9500,#ff7900,#ff6200,#ff5000,#fd4001,#fc3901,#fd3d01,#ff4d00,#ff6100,#ff7a00,#ff9908,#ffb24d,#fdcd94,#fde5c8,#fef7ee,#def5fc,#82daf8,#00c6f7,#00adf2,#009dee,#0093ea,#008be7,#0081e4,#0073dc,#0064d5,#015bce,#0355c9,#0353c7,#0355c9,#025acd,#0063d5,#0072dc,#0084e5,#0094eb,#00a8f0,#00c0f6,#5ad2f7,#c9eefa,#fef6ec,#fddeb9,#fdd09d,#fdca8c,#fec277,#ffb454,#ffa428,#ff9600,#ff8900,#ff8400,#ff8400,#ff8800,#ff8e00,#ff9500,#ff9b0d,#ffa01b,#ffa62c,#ffad41,#ffb659,#fec175,#fdcf9a,#fddfbb,#fdeeda,#fef7ef,#feffff,#ebf9fd,#dbf4fc,#cff0fb,#c5edfa,#bbeafa,#b9eafa,#c3ecfa,#d3f1fb,#ebf9fd,#fffdfa,#fef5e9)"></i><i style="background:linear-gradient(90deg,#fdeedb,#fdeeda,#fdf0de,#fef3e4,#fef6eb,#fef9f3,#fffefe,#eefafe,#d8f3fc,#c0ebfa,#a4e4f9,#92dff8,#8edef8,#98e0f8,#afe7f9,#cbeffa,#e3f6fd,#fffefd,#fef1e2,#fddeb8,#fec57e,#ffaa39,#ff9200,#ff7400,#ff5e00,#fe4b00,#fc3a01,#fb3201,#fc3601,#fe4600,#ff5c00,#ff7500,#ff9600,#ffb048,#fdcc91,#fde5c8,#fef7ee,#e0f5fc,#86dbf8,#00c7f7,#00aef2,#009eee,#0093eb,#008be7,#0082e4,#0073dd,#0065d6,#015ccf,#0256ca,#0354c8,#0256ca,#015ccf,#0065d5,#0074dd,#0085e5,#0095eb,#00aaf1,#00c5f7,#76d7f7,#d8f3fc,#fef3e4,#fddab1,#fdcc91,#fec47c,#febb67,#ffaf47,#ffa11f,#ff9300,#ff8800,#ff8400,#ff8500,#ff8a00,#ff9000,#ff9600,#ff9b0e,#ffa01b,#ffa62c,#ffad40,#ffb557,#fec073,#fdce97,#fddeb8,#fdedd8,#fef6ed,#fffffe,#edf9fd,#ddf5fc,#d1f1fb,#c8eefa,#c0ebfa,#beebfa,#c7eefa,#d7f3fc,#effafe,#fffbf7,#fef4e7)"></i><i style="background:linear-gradient(90deg,#fdedd9,#fdedd8,#fdefdc,#fef2e2,#fef5e9,#fef9f1,#fffdfb,#f2fbfe,#dcf4fc,#c5edfa,#aae5f9,#98e0f8,#94dff8,#9ee2f9,#b4e8f9,#cef0fb,#e6f7fd,#fffdfb,#fdf0df,#fddcb6,#fec37a,#ffa833,#ff8e00,#ff7100,#ff5a00,#fe4601,#fc3501,#fb2c02,#fb3002,#fd4101,#ff5800,#ff7000,#ff9200,#ffae43,#fdcb8f,#fde5c7,#fef7ed,#e2f6fd,#8adcf8,#05c8f7,#00aff2,#009fee,#0094eb,#008be7,#0082e4,#0074dd,#0066d6,#015dd0,#0257cb,#0256ca,#0258cb,#015dd0,#0067d6,#0075de,#0086e6,#0096ec,#00adf2,#0cc9f7,#8cddf8,#e7f7fd,#fdf0de,#fdd7aa,#fec886,#febe6e,#ffb658,#ffab3b,#ff9f18,#ff9200,#ff8800,#ff8500,#ff8700,#ff8c00,#ff9200,#ff9704,#ff9c10,#ffa01d,#ffa62c,#ffad40,#ffb556,#fec072,#fdcd95,#fddcb6,#fdecd5,#fef5ea,#fffefc,#effafe,#dff5fc,#d3f1fb,#caeffa,#c4edfa,#c2ecfa,#caeffa,#dbf4fc,#f3fbfe,#fefaf5,#fef3e4)"></i><i style="background:linear-gradient(90deg,#fdecd7,#fdecd6,#fdeeda,#fef1e1,#fef4e8,#fef8ef,#fffcf9,#f5fcfe,#e0f5fc,#c9eefa,#afe7f9,#9ee2f9,#9ae1f8,#a3e3f9,#b8e9fa,#d1f1fb,#e9f8fd,#fffcf9,#fdefdd,#fddbb2,#fec175,#ffa62d,#ff8b00,#ff6e00,#ff5700,#fd4201,#fb3002,#fa2802,#fa2c02,#fc3c01,#ff5400,#ff6d00,#ff8e00,#ffac3e,#fdca8d,#fde5c7,#fef7ed,#e4f7fd,#8eddf8,#0cc9f7,#00b0f2,#00a0ee,#0094eb,#008be8,#0082e4,#0075dd,#0067d7,#015ed1,#0259cc,#0257cb,#0259cd,#015fd1,#0069d7,#0077df,#0087e6,#0098ec,#00b0f2,#23cbf7,#a0e3f9,#f3fbfe,#fdedd8,#fdd4a5,#fec47d,#feba62,#ffb14b,#ffa831,#ff9d12,#ff9100,#ff8800,#ff8600,#ff8900,#ff8e00,#ff9400,#ff9908,#ff9d13,#ffa11f,#ffa62e,#ffad40,#ffb557,#fec072,#fdcd93,#fddbb3,#fdead2,#fef4e8,#fffdfa,#f1fbfe,#e1f6fc,#d6f2fb,#cdeffb,#c7eefa,#c7edfa,#cef0fb,#dff5fc,#f8fdfe,#fef9f2,#fef1e2)"></i><i style="background:linear-gradient(90deg,#fdebd4,#fdebd3,#fdedd8,#fdf0df,#fef3e6,#fef7ed,#fffbf7,#f8fdfe,#e3f6fd,#cdeffb,#b5e9f9,#a4e4f9,#a0e3f9,#a9e5f9,#bdebfa,#d4f2fb,#ecf9fd,#fffbf6,#fdeeda,#fdd9ae,#febf6f,#ffa427,#ff8800,#ff6b00,#ff5500,#fd3e01,#fb2d02,#f92502,#fa2802,#fc3801,#ff5000,#ff6900,#ff8b00,#ffab3a,#fdca8b,#fde5c7,#fef7ed,#e5f7fd,#92dff8,#13c9f7,#00b2f3,#00a1ef,#0095eb,#008ce8,#0083e4,#0075de,#0069d7,#015fd2,#015acd,#0259cc,#015bce,#0061d3,#006bd8,#0079e0,#0089e7,#009aed,#00b4f3,#39cef7,#b3e8f9,#fdfeff,#fdebd4,#fdd3a2,#fec176,#ffb658,#ffad40,#ffa529,#ff9b0e,#ff9100,#ff8900,#ff8800,#ff8b00,#ff9100,#ff9702,#ff9b0d,#ff9e17,#ffa223,#ffa731,#ffae42,#ffb658,#fec072,#fdcc92,#fddab1,#fde9cf,#fef3e5,#fffcf8,#f4fcfe,#e3f6fd,#d8f3fc,#cff0fb,#caeffa,#caeffa,#d2f1fb,#e4f7fd,#fcfeff,#fef8ef,#fdf0e0)"></i><i style="background:linear-gradient(90deg,#fdead2,#fdead1,#fdecd7,#fdefdd,#fef2e4,#fef6eb,#fffaf5,#fbfeff,#e6f7fd,#d0f1fb,#bbeafa,#aae6f9,#a6e4f9,#aee7f9,#c2ecfa,#d6f2fb,#effafe,#fefaf3,#fdecd7,#fdd6a9,#febc68,#ffa221,#ff8500,#ff6900,#ff5300,#fc3c01,#fa2a02,#f82202,#f92502,#fc3401,#ff4d00,#ff6700,#ff8800,#ffa936,#fdc989,#fde5c7,#fef6ed,#e6f7fd,#96e0f8,#1bcaf7,#00b4f3,#00a2ef,#0096ec,#008ce8,#0083e5,#0077de,#006ad8,#0061d3,#015ccf,#015bce,#015dd0,#0063d4,#006dda,#007ce1,#008be7,#009dee,#00b8f4,#50d1f7,#c5edfa,#fffdfa,#fde9cf,#fdd19f,#febf71,#ffb350,#ffaa38,#ffa223,#ff9a0b,#ff9100,#ff8a00,#ff8a00,#ff8e00,#ff9400,#ff9909,#ff9d13,#ffa01c,#ffa427,#ffa934,#ffaf45,#ffb659,#fec073,#fdcc92,#fdd9af,#fde7cc,#fef2e3,#fffaf5,#f7fcfe,#e6f7fd,#daf3fc,#d2f1fb,#cdeffb,#cef0fb,#d6f2fc,#e8f8fd,#fffffe,#fef6ed,#fdf0de)"></i><i style="background:linear-gradient(90deg,#fde9d0,#fde8cf,#fdebd4,#fdeedb,#fef1e2,#fef5e9,#fef9f3,#feffff,#e9f8fd,#d4f2fb,#c1ecfa,#b1e7f9,#ade6f9,#b4e8f9,#c6edfa,#d9f3fc,#f3fbfe,#fef8f0,#fdead2,#fdd3a3,#ffb960,#ffa01b,#ff8300,#ff6700,#ff5100,#fc3a01,#fa2802,#f72102,#f82402,#fb3202,#fe4a00,#ff6400,#ff8600,#ffa833,#fec888,#fde4c6,#fef6ed,#e7f8fd,#99e1f8,#23cbf7,#00b6f4,#00a4ef,#0097ec,#008de8,#0084e5,#0078df,#006cd9,#0062d4,#015ed1,#015dd0,#0060d2,#0066d6,#0070db,#007ee2,#008de8,#00a0ee,#00bcf5,#66d4f7,#d0f0fb,#fffaf5,#fde7cc,#fdd19d,#febe6d,#ffb14b,#ffa833,#ffa11f,#ff990a,#ff9100,#ff8c00,#ff8d00,#ff9100,#ff9703,#ff9c0f,#ff9f19,#ffa222,#ffa62c,#ffaa38,#ffb048,#ffb75b,#fec174,#fdcc91,#fdd8ad,#fde5c8,#fdf1e0,#fef9f3,#fafdff,#e8f8fd,#dcf4fc,#d4f2fb,#d0f0fb,#d1f1fb,#dbf4fc,#edf9fd,#fffdfb,#fef5ea,#fdefdc)"></i><i style="background:linear-gradient(90deg,#fde8ce,#fde7cc,#fdead1,#fdedd9,#fdf0e0,#fef4e7,#fef8f1,#fffefd,#ecf9fd,#d7f3fc,#c6edfa,#b7e9fa,#b3e8f9,#baeafa,#c9eefa,#dcf4fc,#f6fcfe,#fef7ed,#fde7cc,#fdd09c,#ffb658,#ff9d14,#ff8000,#ff6500,#ff4f00,#fc3801,#fa2702,#f72002,#f82302,#fb3002,#fe4800,#ff6300,#ff8400,#ffa730,#fec886,#fde4c6,#fef6ed,#e7f8fd,#9ce2f9,#2accf7,#00b8f4,#00a6f0,#0098ec,#008ee9,#0085e5,#007ae0,#006eda,#0065d5,#0060d2,#0060d2,#0062d4,#0069d7,#0073dc,#0081e4,#008fe9,#00a3ef,#00c0f6,#79d7f7,#daf3fc,#fef8f1,#fde6ca,#fdd09c,#febd6b,#ffb048,#ffa72f,#ffa01c,#ff990a,#ff9300,#ff8f00,#ff9000,#ff9500,#ff9a0b,#ff9e17,#ffa220,#ffa528,#ffa832,#ffac3d,#ffb14b,#ffb85e,#fec175,#fdcc91,#fdd7ab,#fde4c5,#fdefdd,#fef8f0,#fdfeff,#eaf9fd,#def5fc,#d7f2fc,#d3f1fb,#d5f2fb,#e0f5fc,#f2fbfe,#fffcf8,#fef4e7,#fdeeda)"></i><i style="background:linear-gradient(90deg,#fde7cb,#fde6ca,#fde8cf,#fdecd7,#fdefdd,#fef3e5,#fef7ef,#fffdfb,#f0fafe,#dbf4fc,#caeefa,#beebfa,#baeafa,#c0ecfa,#cdeffb,#e0f5fc,#fafeff,#fef5e9,#fde4c6,#fdcd93,#ffb350,#ff9b0e,#ff7e00,#ff6400,#ff4e00,#fc3801,#fa2702,#f72002,#f82302,#fb3002,#fe4700,#ff6200,#ff8300,#ffa62e,#fec785,#fde4c6,#fef7ed,#e8f8fd,#9fe2f9,#32cdf7,#00baf4,#00a7f0,#009aed,#008fe9,#0086e6,#007ce1,#0071db,#0068d7,#0063d4,#0062d4,#0066d6,#006cd9,#0076de,#0083e5,#0091ea,#00a6f0,#00c5f7,#88dcf8,#e3f6fd,#fef7ed,#fde5c8,#fdd09c,#febd6a,#ffaf46,#ffa62e,#ffa01c,#ff9a0b,#ff9500,#ff9200,#ff9300,#ff9805,#ff9d12,#ffa11e,#ffa427,#ffa72f,#ffaa38,#ffae42,#ffb24f,#ffb960,#fec276,#fdcc90,#fdd6a9,#fde2c1,#fdeeda,#fef7ed,#fffffe,#edfafd,#e1f6fc,#d9f3fc,#d6f2fb,#daf3fc,#e4f7fd,#f7fcfe,#fffaf5,#fef3e5,#fdedd8)"></i><i style="background:linear-gradient(90deg,#fde6c9,#fde5c7,#fde7cc,#fdebd4,#fdeedb,#fef2e2,#fef6ec,#fffcf9,#f3fbfe,#def5fc,#cef0fb,#c4edfa,#c0ecfa,#c6edfa,#d1f1fb,#e4f7fd,#ffffff,#fef3e5,#fde1c0,#fdc98a,#ffb048,#ff9908,#ff7c00,#ff6300,#ff4e00,#fc3801,#fa2802,#f72102,#f82302,#fb3002,#fe4700,#ff6100,#ff8200,#ffa62c,#fec784,#fde4c6,#fef7ed,#e8f8fd,#a1e3f9,#38cef7,#00bcf5,#00a9f1,#009bed,#0091ea,#0088e6,#007fe2,#0073dd,#006bd8,#0066d6,#0066d6,#006ad8,#0070db,#0079e0,#0086e5,#0094eb,#00a9f1,#07c8f7,#97e0f8,#ecf9fd,#fef5e9,#fde4c6,#fdd09b,#febd6a,#ffaf46,#ffa62e,#ffa01d,#ff9b0e,#ff9703,#ff9500,#ff9703,#ff9b0d,#ffa01b,#ffa426,#ffa72f,#ffaa36,#ffac3e,#ffb047,#ffb453,#feba63,#fec277,#fdcb90,#fdd5a7,#fde0be,#fdecd7,#fef5ea,#fffdfb,#f1fbfe,#e3f6fd,#dcf4fc,#daf3fc,#def5fc,#e9f8fd,#fcfeff,#fef9f2,#fef2e2,#fdecd6)"></i><i style="background:linear-gradient(90deg,#fde4c6,#fde3c4,#fde6c9,#fde9d0,#fdedd8,#fdf1e0,#fef5ea,#fffbf6,#f6fcfe,#e1f6fc,#d1f1fb,#c8eefa,#c6edfa,#caeffa,#d5f2fb,#e8f8fd,#fffdfb,#fef1e1,#fddeb9,#fec682,#ffad41,#ff9702,#ff7a00,#ff6200,#ff4d00,#fc3801,#fa2902,#f82302,#f92502,#fb3202,#fe4700,#ff6100,#ff8200,#ffa62b,#fec784,#fde4c5,#fef7ed,#e8f8fd,#a3e3f9,#3ecff7,#00bdf5,#00abf1,#009dee,#0092ea,#008ae7,#0082e4,#0077de,#006eda,#006ad8,#006ad8,#006eda,#0074dd,#007de2,#0088e6,#0096ec,#00acf2,#17caf7,#a4e4f9,#f4fbfe,#fef3e5,#fde3c4,#fdd09b,#febd6b,#ffb047,#ffa730,#ffa11f,#ff9d12,#ff9909,#ff9806,#ff9a0b,#ff9e16,#ffa323,#ffa72e,#ffaa37,#ffac3e,#ffaf45,#ffb24d,#ffb657,#febb65,#fec278,#fdcb8e,#fdd4a4,#fddeba,#fdead3,#fef4e6,#fffcf8,#f4fcfe,#e7f7fd,#dff5fc,#def5fc,#e3f6fd,#eefafe,#fffefe,#fef7ee,#fdf0df,#fdead2)"></i><i style="background:linear-gradient(90deg,#fde3c3,#fde2c1,#fde4c5,#fde8cd,#fdecd6,#fdefdd,#fef4e7,#fefaf3,#fafdff,#e5f7fd,#d5f2fb,#cdeffb,#cbeffa,#cff0fb,#daf4fc,#edfafd,#fffbf7,#fdefdd,#fddbb3,#fec37a,#ffab3a,#ff9500,#ff7900,#ff6200,#ff4e00,#fc3a01,#fa2b02,#f92502,#fa2702,#fb3401,#fe4900,#ff6100,#ff8100,#ffa52b,#fec783,#fde4c5,#fef7ed,#e7f8fd,#a4e4f9,#43cff7,#00bff5,#00adf2,#009fee,#0094eb,#008ce8,#0084e5,#007ae0,#0072dc,#006eda,#006eda,#0072dc,#0079df,#0082e4,#008be7,#0098ec,#00aff2,#26ccf7,#b1e7f9,#fbfeff,#fef1e2,#fde2c1,#fdcf9a,#febe6c,#ffb04a,#ffa833,#ffa323,#ff9f18,#ff9c10,#ff9b0f,#ff9d15,#ffa11f,#ffa62c,#ffaa37,#ffad3f,#ffaf45,#ffb14c,#ffb453,#ffb75b,#febc68,#fec278,#fdca8c,#fdd3a1,#fdddb6,#fde8ce,#fef2e3,#fffaf5,#f8fdfe,#ebf9fd,#e3f6fd,#e2f6fd,#e7f8fd,#f4fbfe,#fffdfa,#fef6eb,#fdefdd,#fde9cf)"></i><i style="background:linear-gradient(90deg,#fde1c0,#fde0be,#fde2c2,#fde6c9,#fdead2,#fdeeda,#fef2e4,#fef8f0,#feffff,#e9f8fd,#d9f3fc,#d1f1fb,#cff0fb,#d4f2fb,#dff5fc,#f3fbfe,#fef9f3,#fdedd8,#fdd8ad,#fec073,#ffa934,#ff9300,#ff7800,#ff6100,#ff4e00,#fc3b01,#fb2e02,#fa2802,#fa2b02,#fc3701,#fe4b00,#ff6200,#ff8200,#ffa62c,#fec784,#fde4c5,#fef7ee,#e7f7fd,#a5e4f9,#47d0f7,#00c1f6,#00aff2,#00a2ef,#0097ec,#008ee9,#0086e6,#007ee2,#0076de,#0072dc,#0073dc,#0077de,#007de2,#0085e5,#008de8,#009bed,#00b1f3,#33cdf7,#bdebfa,#fffefc,#fdf0de,#fde0be,#fdcf99,#febe6d,#ffb24d,#ffaa37,#ffa428,#ffa11e,#ff9f19,#ff9f19,#ffa11f,#ffa529,#ffa935,#ffad3f,#ffaf47,#ffb24d,#ffb453,#ffb659,#ffb960,#febd6a,#fec278,#fdc98a,#fdd19e,#fddbb2,#fde6c9,#fdf0df,#fef9f1,#fdfeff,#effafe,#e8f8fd,#e7f7fd,#edf9fd,#f9fdfe,#fffbf6,#fef4e8,#fdeeda,#fde7cb)"></i><i style="background:linear-gradient(90deg,#fde0bc,#fddfba,#fde0be,#fde4c5,#fde8ce,#fdedd7,#fef1e0,#fef7ed,#fffefd,#edf9fd,#ddf5fc,#d5f2fb,#d4f2fb,#d9f3fc,#e5f7fd,#fafdff,#fef7ee,#fdead3,#fdd5a7,#febe6c,#ffa72f,#ff9100,#ff7700,#ff6100,#ff5000,#fd3d01,#fb3102,#fa2c02,#fb2f02,#fc3b01,#ff4e00,#ff6300,#ff8300,#ffa62d,#fec784,#fde4c6,#fef7ee,#e6f7fd,#a5e4f9,#4bd0f7,#00c2f6,#00b1f3,#00a4ef,#0099ed,#0091ea,#0089e7,#0082e4,#007ae0,#0077de,#0078df,#007ce1,#0082e4,#0088e6,#0090e9,#009dee,#00b3f3,#3fcff7,#c7eefa,#fffbf7,#fdeed9,#fddeba,#fdce97,#febf6f,#ffb350,#ffab3c,#ffa72e,#ffa426,#ffa222,#ffa223,#ffa529,#ffa833,#ffac3e,#ffb048,#ffb34f,#ffb555,#ffb75a,#ffb85f,#feba64,#febd6c,#fec278,#fec887,#fdd09b,#fdd8ad,#fde3c4,#fdeedb,#fef7ed,#fffefc,#f4fcfe,#edf9fd,#ecf9fd,#f2fbfe,#ffffff,#fef9f3,#fef3e4,#fdecd6,#fde5c7)"></i><i style="background:linear-gradient(90deg,#fddeb8,#fdddb7,#fddfba,#fde2c1,#fde6c9,#fdebd3,#fdefdd,#fef5e9,#fffcf9,#f2fbfe,#e2f6fc,#daf3fc,#d9f3fc,#dff5fc,#ebf9fd,#fffffe,#fef5e9,#fde7cc,#fdd3a2,#febb66,#ffa52b,#ff9000,#ff7600,#ff6200,#ff5100,#fd4001,#fc3501,#fb3002,#fb3401,#fd3f01,#ff5100,#ff6500,#ff8500,#ffa730,#fec785,#fde4c6,#fef7ef,#e5f7fd,#a5e4f9,#4ed1f7,#00c4f6,#00b3f3,#00a6f0,#009ced,#0093eb,#008ce8,#0085e5,#007fe2,#007be1,#007de1,#0081e4,#0086e6,#008ce8,#0093ea,#00a0ee,#00b6f4,#4bd0f7,#cff0fb,#fef9f2,#fdebd4,#fddcb6,#fdce96,#febf71,#ffb454,#ffad41,#ffa935,#ffa62e,#ffa62b,#ffa62e,#ffa934,#ffac3d,#ffb047,#ffb351,#ffb658,#ffb85d,#ffb961,#febb65,#febc68,#febe6e,#fec277,#fec784,#fdce96,#fdd6a9,#fde0be,#fdecd6,#fef5e9,#fffcf8,#fafdff,#f2fbfe,#f2fbfe,#f8fdfe,#fffdfb,#fef7ef,#fef1e1,#fdead2,#fde3c3)"></i><i style="background:linear-gradient(90deg,#fddcb4,#fddbb3,#fdddb6,#fde0bd,#fde4c5,#fde8ce,#fdeed9,#fef3e6,#fffbf5,#f6fcfe,#e7f7fd,#dff5fc,#def5fc,#e5f7fd,#f2fbfe,#fffcf9,#fef2e4,#fde4c6,#fdd09d,#ffb961,#ffa427,#ff8f00,#ff7600,#ff6200,#ff5200,#fd4301,#fc3901,#fc3601,#fc3a01,#fe4401,#ff5500,#ff6800,#ff8700,#ffa833,#fec887,#fde5c7,#fef8ef,#e4f7fd,#a5e4f9,#51d1f7,#00c5f7,#00b5f3,#00a9f1,#009fee,#0096ec,#008fe9,#0088e6,#0083e4,#0080e3,#0082e4,#0085e5,#008ae7,#008fe9,#0096ec,#00a2ef,#00b8f4,#57d2f7,#d6f2fb,#fef7ed,#fde8ce,#fddab1,#fdcd94,#fec072,#ffb659,#ffaf47,#ffab3c,#ffa936,#ffa935,#ffaa39,#ffad3f,#ffb047,#ffb351,#ffb75a,#ffb961,#febb66,#febc69,#febd6b,#febe6d,#febf70,#fec176,#fec681,#fdcc92,#fdd4a4,#fddeb9,#fde9d0,#fef2e4,#fefaf3,#fffefe,#f9fdfe,#f8fdfe,#ffffff,#fffbf6,#fef5ea,#fdefdd,#fde8cd,#fde1bf)"></i><i style="background:linear-gradient(90deg,#fddab0,#fdd9af,#fddbb2,#fddeb9,#fde2c0,#fde6c9,#fdecd6,#fef1e2,#fef9f2,#fcfeff,#ecf9fd,#e4f7fd,#e4f7fd,#ebf9fd,#f8fdfe,#fefaf4,#fdf0df,#fde1c0,#fdce97,#ffb85d,#ffa325,#ff8e00,#ff7600,#ff6300,#ff5400,#fe4700,#fd3e01,#fc3b01,#fd4001,#fe4a00,#ff5900,#ff6c00,#ff8b00,#ffaa38,#fdc98a,#fde5c8,#fef8f0,#e3f6fd,#a5e4f9,#54d1f7,#00c7f7,#00b7f4,#00abf1,#00a2ef,#0099ed,#0092ea,#008be7,#0086e6,#0084e5,#0085e5,#0089e6,#008de8,#0093ea,#0099ed,#00a5f0,#00baf4,#63d3f7,#def5fc,#fef4e8,#fde5c8,#fdd8ad,#fdcc92,#fec174,#ffb85d,#ffb24d,#ffae43,#ffad3f,#ffad40,#ffae44,#ffb04a,#ffb352,#ffb75b,#feba63,#febd6a,#febe6e,#febf70,#febf71,#fec071,#fec072,#fec176,#fec57e,#fdca8d,#fdd2a0,#fddbb3,#fde6ca,#fdf0df,#fef7ee,#fffcf9,#fffffe,#ffffff,#fffdfa,#fef9f2,#fef3e6,#fdedd9,#fde5c8,#fddeba)"></i><i style="background:linear-gradient(90deg,#fdd8ac,#fdd7ab,#fdd9ae,#fddcb4,#fddfbc,#fde3c4,#fde9d0,#fdf0de,#fef7ed,#fffefd,#f1fbfe,#eaf8fd,#eaf8fd,#f1fbfe,#ffffff,#fef7ef,#fdeeda,#fddfba,#fdcc91,#ffb659,#ffa223,#ff8e00,#ff7700,#ff6400,#ff5600,#fe4b00,#fd4301,#fd4101,#fe4600,#ff5100,#ff5e00,#ff7100,#ff8f00,#ffac3e,#fdca8d,#fde6c9,#fef8f1,#e2f6fc,#a5e4f9,#57d2f7,#05c8f7,#00b9f4,#00aef2,#00a5f0,#009ded,#0095eb,#008ee9,#008ae7,#0088e6,#0089e7,#008ce8,#0091ea,#0096ec,#009dee,#00a8f0,#00bef5,#71d5f7,#e5f7fd,#fef2e3,#fde3c3,#fdd7aa,#fdcc91,#fec176,#ffb961,#ffb453,#ffb14a,#ffb048,#ffb14a,#ffb24f,#ffb555,#ffb85c,#febb65,#febe6d,#fec073,#fec277,#fec278,#fec278,#fec176,#fec174,#fec175,#fec47c,#fdc989,#fdd09b,#fdd8ad,#fde3c3,#fdeed9,#fef4e8,#fef9f3,#fffcf9,#fffcf9,#fffaf5,#fef7ed,#fef1e1,#fdebd4,#fde3c3,#fddcb5)"></i><i style="background:linear-gradient(90deg,#fdd5a7,#fdd5a6,#fdd7aa,#fdd9b0,#fdddb7,#fde1bf,#fde7cb,#fdeeda,#fef5e9,#fffcf9,#f8fdfe,#f0fafe,#f0fafe,#f8fdfe,#fffdfa,#fef5ea,#fdecd5,#fddcb5,#fdca8c,#ffb556,#ffa221,#ff8e00,#ff7700,#ff6600,#ff5800,#ff4f00,#fe4800,#fe4700,#ff4d00,#ff5600,#ff6400,#ff7700,#ff9400,#ffaf46,#fdcc91,#fde6ca,#fef9f2,#e1f6fc,#a5e4f9,#5ad2f7,#0cc8f7,#00bcf5,#00b1f3,#00a8f0,#00a0ee,#0098ec,#0091ea,#008de8,#008be8,#008ce8,#008fe9,#0094eb,#009aed,#00a0ee,#00acf1,#00c1f6,#7dd9f7,#edf9fd,#fdf0df,#fde0be,#fdd5a6,#fdcb90,#fec278,#febb66,#ffb659,#ffb352,#ffb350,#ffb454,#ffb65a,#ffb960,#febc67,#febf6f,#fec176,#fec47c,#fec580,#fec580,#fec57e,#fec37b,#fec277,#fec175,#fec37a,#fec785,#fdce96,#fdd6a8,#fddfbc,#fdebd3,#fef2e2,#fef7ed,#fef9f3,#fefaf4,#fef8f0,#fef4e8,#fdefdd,#fde8ce,#fde0bd,#fddab0)"></i><i style="background:linear-gradient(90deg,#fdd3a3,#fdd3a2,#fdd4a5,#fdd7ab,#fddbb2,#fddfba,#fde4c5,#fdecd5,#fef3e5,#fefaf4,#feffff,#f6fcfe,#f7fdfe,#ffffff,#fffbf5,#fef3e5,#fde9d0,#fddab0,#fec887,#ffb453,#ffa120,#ff8e00,#ff7800,#ff6700,#ff5b00,#ff5200,#ff4e00,#ff4e00,#ff5300,#ff5c00,#ff6a00,#ff7e00,#ff9909,#ffb24e,#fdce96,#fde7cc,#fef9f3,#e0f5fc,#a6e4f9,#5ed3f7,#13c9f7,#00bef5,#00b3f3,#00abf1,#00a3ef,#009bed,#0095eb,#0090e9,#008fe9,#008fe9,#0093ea,#0098ec,#009dee,#00a4ef,#00aff2,#00c5f7,#8bddf8,#f5fcfe,#fdeedb,#fddeba,#fdd4a4,#fdcb8f,#fec37a,#febd6a,#ffb85f,#ffb659,#ffb659,#ffb85e,#febb64,#febd6b,#fec071,#fec279,#fec580,#fec785,#fec888,#fec888,#fec785,#fec580,#fec37a,#fec176,#fec278,#fec682,#fdcb90,#fdd3a2,#fddcb5,#fde7cb,#fdefdc,#fef4e6,#fef6ec,#fef7ed,#fef5ea,#fef2e2,#fdedd8,#fde5c7,#fdddb8,#fdd7ab)"></i><i style="background:linear-gradient(90deg,#fdd19e,#fdd19d,#fdd2a0,#fdd5a6,#fdd8ad,#fddcb5,#fde1c0,#fde9cf,#fdf1e0,#fef8ef,#fffdfb,#fdffff,#feffff,#fffdfa,#fef8f1,#fef1e1,#fde6cb,#fdd7ab,#fec682,#ffb350,#ffa11f,#ff8e00,#ff7900,#ff6900,#ff5e00,#ff5600,#ff5300,#ff5300,#ff5900,#ff6200,#ff7000,#ff8600,#ff9e17,#ffb658,#fdd09c,#fde8ce,#fefaf4,#dff5fc,#a6e4f9,#63d3f7,#1bcaf7,#00c0f6,#00b6f4,#00aef2,#00a6f0,#009eee,#0098ec,#0094eb,#0092ea,#0093ea,#0096ec,#009bed,#00a1ef,#00a8f0,#00b4f3,#0cc9f7,#99e1f8,#fcfeff,#fdecd7,#fdddb7,#fdd3a2,#fdcb8f,#fec47c,#febe6e,#febb64,#ffb960,#ffb961,#febc67,#febf6f,#fec175,#fec47c,#fec683,#fdc989,#fdcb8f,#fdcc91,#fdcc90,#fdca8c,#fec785,#fec47d,#fec277,#fec277,#fec57f,#fdca8b,#fdd09d,#fdd9ae,#fde3c3,#fdecd6,#fdf0e0,#fef3e5,#fef4e7,#fef2e4,#fdefdc,#fde9d1,#fde2c1,#fddbb2,#fdd5a6)"></i><i style="background:linear-gradient(90deg,#fdce98,#fdce97,#fdd09c,#fdd3a1,#fdd6a8,#fdd9b0,#fddeba,#fde6c9,#fdeedb,#fef5ea,#fffbf5,#fffdfb,#fffdfa,#fffbf6,#fef6ec,#fdf0de,#fde4c6,#fdd5a7,#fec47d,#ffb24e,#ffa11d,#ff8e00,#ff7a00,#ff6b00,#ff6100,#ff5a00,#ff5700,#ff5900,#ff5e00,#ff6900,#ff7900,#ff8e00,#ffa426,#feba62,#fdd2a0,#fde9d0,#fefaf5,#def5fc,#a7e5f9,#68d4f7,#23cbf7,#00c2f6,#00b9f4,#00b0f2,#00a9f1,#00a1ef,#009bed,#0097ec,#0095eb,#0096ec,#0099ed,#009eee,#00a4ef,#00acf1,#00b8f4,#22cbf7,#a8e5f9,#fffefc,#fdebd3,#fddcb4,#fdd3a1,#fdcb8f,#fec57e,#fec071,#febc69,#febb66,#febc69,#febf70,#fec278,#fec57f,#fec786,#fdca8c,#fdcc93,#fdce98,#fdcf9a,#fdcf99,#fdcd93,#fdc98b,#fec681,#fec379,#fec277,#fec47c,#fec887,#fdce96,#fdd6a8,#fddfbb,#fde8cd,#fdedd9,#fdf0df,#fef1e0,#fdefdd,#fdecd6,#fde6c9,#fddfba,#fdd8ac,#fdd2a1)"></i><i style="background:linear-gradient(90deg,#fdcc92,#fdcc91,#fdcd95,#fdd09d,#fdd3a3,#fdd7aa,#fddcb4,#fde3c3,#fdecd7,#fef3e5,#fef8f0,#fffbf5,#fffaf5,#fef8f1,#fef4e8,#fdeeda,#fde2c2,#fdd3a3,#fec279,#ffb14b,#ffa01c,#ff8e00,#ff7c00,#ff6d00,#ff6400,#ff5e00,#ff5c00,#ff5e00,#ff6400,#ff6f00,#ff8100,#ff9702,#ffa935,#febe6d,#fdd4a5,#fdead3,#fffbf6,#ddf5fc,#a9e5f9,#6ed5f7,#2cccf7,#00c5f7,#00bbf5,#00b3f3,#00abf1,#00a4ef,#009eee,#009aed,#0099ec,#0099ed,#009ced,#00a2ef,#00a8f0,#00aff2,#00bdf5,#38cef7,#b7e9f9,#fffbf7,#fde9d0,#fddbb3,#fdd2a1,#fdcb90,#fec580,#fec175,#febe6e,#febe6c,#febf70,#fec279,#fec682,#fdc989,#fdcb90,#fdce96,#fdd09c,#fdd2a0,#fdd2a1,#fdd2a0,#fdcf9b,#fdcc91,#fec785,#fec37b,#fec278,#fec37b,#fec683,#fdcb90,#fdd3a1,#fddbb4,#fde4c5,#fde9d1,#fdedd8,#fdeeda,#fdedd7,#fde8ce,#fde2c1,#fddbb3,#fdd5a6,#fdd09b)"></i><i style="background:linear-gradient(90deg,#fdc98b,#fdc98a,#fdcb8f,#fdce96,#fdd19e,#fdd4a5,#fdd9af,#fde0bd,#fde9d0,#fdf0df,#fef5ea,#fef8f0,#fef8f0,#fef6ec,#fef2e4,#fdecd7,#fde0bd,#fdd19f,#fec174,#ffb047,#ff9f1a,#ff8e00,#ff7d00,#ff6f00,#ff6700,#ff6200,#ff6000,#ff6300,#ff6a00,#ff7700,#ff8900,#ff9d13,#ffaf44,#fec278,#fdd6a9,#fdecd5,#fffbf7,#ddf4fc,#abe6f9,#73d6f7,#34cef7,#00c7f7,#00bdf5,#00b5f3,#00aef2,#00a7f0,#00a1ef,#009eee,#009ced,#009ced,#009fee,#00a4ef,#00abf1,#00b3f3,#00c2f6,#4fd1f7,#c5edfa,#fefaf3,#fde8cd,#fddbb2,#fdd2a1,#fdcc91,#fec682,#fec278,#fec072,#fec072,#fec277,#fec581,#fdc98a,#fdcc92,#fdcf99,#fdd19f,#fdd3a3,#fdd5a6,#fdd5a7,#fdd5a6,#fdd2a0,#fdce96,#fdc989,#fec57e,#fec278,#fec379,#fec57f,#fdc98a,#fdd09c,#fdd8ad,#fde0bc,#fde5c7,#fde9cf,#fdead2,#fde8cf,#fde4c6,#fddeba,#fdd8ad,#fdd2a0,#fdcd94)"></i><i style="background:linear-gradient(90deg,#fec784,#fec784,#fec888,#fdcb8f,#fdce97,#fdd2a0,#fdd6a9,#fdddb7,#fde6c9,#fdeeda,#fef3e4,#fef5ea,#fef5ea,#fef4e7,#fdf0df,#fdead2,#fddeb9,#fdcf9a,#febf6f,#ffae44,#ff9f18,#ff8e00,#ff7e00,#ff7100,#ff6a00,#ff6600,#ff6500,#ff6900,#ff7000,#ff7f00,#ff9100,#ffa324,#ffb453,#fec682,#fdd9ae,#fdedd7,#fffcf8,#ddf4fc,#ade6f9,#78d7f7,#3dcff7,#09c8f7,#00c0f6,#00b8f4,#00b0f2,#00aaf1,#00a4ef,#00a1ef,#009fee,#009fee,#00a2ef,#00a7f0,#00aef2,#00b7f4,#00c6f7,#65d4f7,#cef0fb,#fef8f0,#fde7cb,#fddab2,#fdd3a2,#fdcc92,#fec784,#fec37b,#fec176,#fec277,#fec47d,#fec888,#fdcc92,#fdcf9b,#fdd2a1,#fdd5a6,#fdd7aa,#fdd8ad,#fdd8ad,#fdd7ab,#fdd4a5,#fdd09c,#fdca8e,#fec681,#fec37a,#fec279,#fec47c,#fec785,#fdcd95,#fdd5a6,#fddcb4,#fde1bf,#fde4c6,#fde6c9,#fde4c6,#fde0be,#fddbb2,#fdd5a6,#fdcf99,#fdca8d)"></i><i style="background:linear-gradient(90deg,#fec47d,#fec47d,#fec682,#fdc989,#fdcc91,#fdcf9a,#fdd4a3,#fddab1,#fde2c2,#fdebd4,#fdf0df,#fef3e4,#fef3e5,#fef1e1,#fdeedb,#fde8cd,#fddcb5,#fdcd94,#febd6a,#ffad3f,#ff9e16,#ff8e00,#ff7f00,#ff7400,#ff6d00,#ff6900,#ff6a00,#ff6e00,#ff7700,#ff8600,#ff9807,#ffa934,#ffb961,#fdca8c,#fddbb3,#fdeed9,#fffcf8,#ddf4fc,#afe7f9,#7cd8f7,#45d0f7,#13c9f7,#00c2f6,#00baf4,#00b3f3,#00acf2,#00a7f0,#00a4ef,#00a2ef,#00a2ef,#00a5f0,#00aaf1,#00b1f3,#00bbf5,#11c9f7,#78d7f7,#d7f3fc,#fef6ed,#fde6ca,#fddab2,#fdd3a2,#fdcd94,#fec886,#fec47e,#fec37a,#fec47c,#fec683,#fdcb8e,#fdcf9a,#fdd2a1,#fdd5a7,#fdd8ac,#fddab0,#fddbb3,#fddbb3,#fddab1,#fdd7aa,#fdd2a0,#fdcc92,#fec784,#fec47c,#fec279,#fec37a,#fec681,#fdcb8e,#fdd2a0,#fdd8ad,#fdddb6,#fde0bd,#fde1c0,#fde0be,#fddcb6,#fdd7ab,#fdd29f,#fdcc92,#fec786)"></i><i style="background:linear-gradient(90deg,#fec277,#fec277,#fec37b,#fec682,#fdc98a,#fdcc93,#fdd19e,#fdd7ab,#fddfbb,#fde7cc,#fdedd9,#fdf0de,#fdf0df,#fdefdc,#fdecd6,#fde5c7,#fdd9af,#fdcb8e,#febb64,#ffab3b,#ff9d13,#ff8d00,#ff8000,#ff7600,#ff6f00,#ff6d00,#ff6e00,#ff7400,#ff7f00,#ff8d00,#ff9e15,#ffae42,#febe6d,#fdce96,#fdddb8,#fdeedb,#fffcf9,#ddf4fc,#b2e8f9,#81daf8,#4dd1f7,#1ccbf7,#00c4f6,#00bcf5,#00b5f3,#00aff2,#00aaf1,#00a7f0,#00a5f0,#00a5f0,#00a7f0,#00acf1,#00b4f3,#00bff5,#25ccf7,#87dcf8,#def5fc,#fef5ea,#fde6c9,#fddbb2,#fdd4a3,#fdce96,#fdc989,#fec580,#fec47d,#fec580,#fec888,#fdcd94,#fdd29f,#fdd5a7,#fdd8ad,#fddbb3,#fdddb6,#fddeb9,#fddeb9,#fddcb6,#fdd9af,#fdd4a4,#fdce96,#fec888,#fec47e,#fec379,#fec279,#fec47d,#fdc989,#fdcf9a,#fdd5a6,#fdd9af,#fddcb5,#fdddb8,#fddcb5,#fdd9ae,#fdd4a4,#fdcf98,#fdc98a,#fec57e)"></i><i style="background:linear-gradient(90deg,#febf70,#febf71,#fec175,#fec37b,#fec683,#fdca8c,#fdce97,#fdd4a4,#fddcb4,#fde4c4,#fdead2,#fdedd8,#fdeed9,#fdecd7,#fde9cf,#fde2c1,#fdd7aa,#fec888,#ffb85e,#ffa935,#ff9b0f,#ff8d00,#ff8000,#ff7700,#ff7200,#ff7100,#ff7400,#ff7b00,#ff8500,#ff9400,#ffa323,#ffb24f,#fec278,#fdd19e,#fde0bc,#fdefdd,#fffdfa,#def5fc,#b5e8f9,#86dbf8,#56d2f7,#25ccf7,#00c6f7,#00bef5,#00b7f4,#00b1f3,#00adf2,#00aaf1,#00a8f0,#00a8f0,#00aaf1,#00aef2,#00b6f4,#00c2f6,#37cef7,#95e0f8,#e5f7fd,#fef4e8,#fde6c9,#fddbb3,#fdd4a5,#fdce98,#fdc98b,#fec682,#fec580,#fec784,#fdca8d,#fdcf9a,#fdd4a4,#fdd8ac,#fddbb3,#fddeb8,#fde0bc,#fde0be,#fde0be,#fddfba,#fddbb3,#fdd6a8,#fdcf9a,#fdca8b,#fec580,#fec37a,#fec278,#fec37b,#fec785,#fdcd93,#fdd2a0,#fdd6a8,#fdd8ad,#fddab0,#fdd9ae,#fdd5a7,#fdd19d,#fdcb90,#fec683,#fec277)"></i><i style="background:linear-gradient(90deg,#febd6a,#febd6b,#febf6f,#fec175,#fec47c,#fec785,#fdcb90,#fdd19f,#fdd8ad,#fde0bd,#fde6ca,#fdead1,#fdead3,#fde9d0,#fde5c8,#fddeba,#fdd4a4,#fec681,#ffb658,#ffa730,#ff9a0b,#ff8c00,#ff8100,#ff7900,#ff7500,#ff7500,#ff7900,#ff8100,#ff8c00,#ff990a,#ffa72f,#ffb65a,#fec681,#fdd3a3,#fde2c0,#fdf0df,#fffdfb,#def5fc,#b8e9fa,#8bddf8,#5ed3f7,#2ecdf7,#05c8f7,#00c0f6,#00b9f4,#00b3f3,#00aff2,#00acf2,#00abf1,#00aaf1,#00acf1,#00b1f3,#00b9f4,#00c6f7,#49d0f7,#a2e3f9,#ebf9fd,#fef4e7,#fde6c9,#fddbb4,#fdd5a6,#fdcf9a,#fdca8d,#fec784,#fec682,#fec887,#fdcc92,#fdd19e,#fdd6a8,#fddab0,#fdddb8,#fde0be,#fde2c2,#fde3c3,#fde2c2,#fde1bf,#fdddb7,#fdd7ab,#fdd19e,#fdcb8f,#fec683,#fec37b,#fec277,#fec379,#fec681,#fdca8d,#fdcf9a,#fdd2a1,#fdd5a6,#fdd6a8,#fdd5a6,#fdd2a0,#fdce96,#fdc989,#fec37b,#febf71)"></i><i style="background:linear-gradient(90deg,#feba64,#febb65,#febc69,#febf6f,#fec176,#fec57f,#fdc989,#fdce98,#fdd5a7,#fddcb6,#fde2c2,#fde6c9,#fde7cb,#fde5c8,#fde2c1,#fddbb3,#fdd19e,#fec37a,#ffb352,#ffa52a,#ff9907,#ff8b00,#ff8100,#ff7a00,#ff7700,#ff7800,#ff7e00,#ff8700,#ff9200,#ff9e16,#ffab3a,#feba62,#fdc989,#fdd6a8,#fde3c4,#fef1e1,#fffdfc,#dff5fc,#bbeafa,#90def8,#65d4f7,#36cef7,#0ec9f7,#00c2f6,#00bbf5,#00b6f4,#00b2f3,#00aff2,#00adf2,#00acf2,#00aef2,#00b3f3,#00bcf5,#08c8f7,#5ad2f7,#ade6f9,#f0fafe,#fef3e6,#fde6ca,#fddcb5,#fdd6a8,#fdd09c,#fdcb8f,#fec887,#fec785,#fdc98b,#fdce96,#fdd3a2,#fdd8ac,#fddcb5,#fde0bd,#fde3c3,#fde4c6,#fde5c7,#fde4c6,#fde2c2,#fddeba,#fdd8ad,#fdd2a0,#fdcc92,#fec785,#fec47c,#fec277,#fec278,#fec47e,#fec888,#fdcc93,#fdd09b,#fdd2a0,#fdd3a2,#fdd2a0,#fdcf99,#fdcb8e,#fec681,#fec175,#febd6a)"></i><i style="background:linear-gradient(90deg,#ffb85e,#ffb960,#feba64,#febc69,#febf70,#fec279,#fec683,#fdcc90,#fdd2a1,#fdd9af,#fddfba,#fde2c1,#fde3c3,#fde2c1,#fddeba,#fdd8ac,#fdce96,#fec073,#ffb14c,#ffa325,#ff9703,#ff8a00,#ff8100,#ff7c00,#ff7a00,#ff7c00,#ff8200,#ff8c00,#ff9805,#ffa220,#ffae43,#febd69,#fdcb8e,#fdd8ac,#fde5c8,#fef2e3,#fffefc,#e0f5fc,#bfebfa,#95dff8,#6dd5f7,#3fcff7,#16caf7,#00c4f6,#00bdf5,#00b8f4,#00b4f3,#00b1f3,#00aff2,#00aff2,#00b0f2,#00b5f3,#00bef5,#16caf7,#69d4f7,#b8e9fa,#f4fcfe,#fef3e5,#fde7cb,#fdddb7,#fdd7aa,#fdd19e,#fdcc92,#fdc989,#fec888,#fdcb8e,#fdcf9a,#fdd4a5,#fdd9af,#fddeb9,#fde2c1,#fde5c7,#fde6cb,#fde7cb,#fde6c9,#fde4c5,#fde0bc,#fddab0,#fdd3a2,#fdcd95,#fec887,#fec47d,#fec277,#fec277,#fec47c,#fec784,#fdca8c,#fdcd94,#fdcf99,#fdd09b,#fdcf98,#fdcc91,#fec887,#fec37b,#febf6f,#febb64)"></i><i style="background:linear-gradient(90deg,#ffb65a,#ffb75b,#ffb85f,#feba64,#febd6a,#fec073,#fec47d,#fdc98a,#fdcf9b,#fdd6a9,#fddbb3,#fddeba,#fddfbc,#fddeba,#fddbb3,#fdd4a5,#fdca8e,#febe6c,#ffaf46,#ffa120,#ff9600,#ff8a00,#ff8100,#ff7d00,#ff7b00,#ff7e00,#ff8600,#ff9100,#ff9b0f,#ffa52a,#ffb14a,#febf6f,#fdcc93,#fdd9af,#fde6ca,#fef3e4,#fffefc,#e2f6fc,#c2ecfa,#9ae1f8,#74d6f7,#47d0f7,#1ecbf7,#00c6f7,#00bff5,#00baf4,#00b6f4,#00b4f3,#00b2f3,#00b1f3,#00b3f3,#00b7f4,#00c1f6,#24cbf7,#76d7f7,#c1ecfa,#f7fdfe,#fef3e5,#fde7cd,#fddeb9,#fdd8ac,#fdd2a1,#fdcd95,#fdca8c,#fdc98a,#fdcc91,#fdd19d,#fdd6a8,#fddbb3,#fde0bd,#fde4c5,#fde7cb,#fde8ce,#fde8ce,#fde7cc,#fde5c7,#fde0be,#fddab1,#fdd4a4,#fdce97,#fdc989,#fec57e,#fec278,#fec176,#fec379,#fec580,#fec887,#fdca8d,#fdcc91,#fdcc93,#fdcb90,#fdc989,#fec580,#fec175,#febc69,#ffb95f)"></i><i style="background:linear-gradient(90deg,#ffb556,#ffb657,#ffb75b,#ffb95f,#febb66,#febe6e,#fec278,#fec784,#fdcd94,#fdd3a2,#fdd8ad,#fddbb3,#fddcb5,#fddbb3,#fdd8ac,#fdd19f,#fec786,#febb66,#ffad41,#ffa01c,#ff9400,#ff8900,#ff8100,#ff7d00,#ff7d00,#ff8100,#ff8a00,#ff9600,#ff9f18,#ffa832,#ffb350,#fec073,#fdce96,#fddab1,#fde7cc,#fef3e5,#fffefc,#e3f6fd,#c6edfa,#9fe2f9,#7ad8f7,#50d1f7,#27ccf7,#03c7f7,#00c1f6,#00bcf5,#00b8f4,#00b6f4,#00b4f3,#00b3f3,#00b5f3,#00baf4,#00c3f6,#31cdf7,#80daf8,#c8eefa,#fafeff,#fef3e5,#fde8cf,#fddfbc,#fdd9af,#fdd4a4,#fdcf99,#fdcb8f,#fdca8d,#fdcd95,#fdd2a0,#fdd7ab,#fddcb6,#fde1c0,#fde5c8,#fde8cf,#fdead1,#fde9d0,#fde8cd,#fde5c8,#fde1bf,#fddbb3,#fdd5a5,#fdcf99,#fdc98b,#fec57f,#fec278,#fec176,#fec277,#fec47c,#fec681,#fec887,#fdc98a,#fdc98b,#fec888,#fec682,#fec37a,#febf6f,#febb64,#ffb75b)"></i><i style="background:linear-gradient(90deg,#ffb452,#ffb454,#ffb657,#ffb75b,#feba62,#febd6a,#fec073,#fec57e,#fdca8d,#fdd09d,#fdd5a6,#fdd8ac,#fdd9ae,#fdd8ac,#fdd5a5,#fdce97,#fec57f,#ffb960,#ffac3c,#ff9f18,#ff9300,#ff8900,#ff8100,#ff7e00,#ff7e00,#ff8300,#ff8d00,#ff9806,#ffa11f,#ffaa38,#ffb555,#fec176,#fdce98,#fddbb2,#fde8ce,#fef3e6,#fffefc,#e5f7fd,#c9eefa,#a5e4f9,#80daf8,#58d2f7,#2fcdf7,#0cc8f7,#00c3f6,#00bef5,#00baf4,#00b8f4,#00b6f4,#00b6f4,#00b7f4,#00bcf5,#00c6f7,#3ecff7,#8adcf8,#cef0fb,#fdfeff,#fef3e5,#fdead1,#fde1bf,#fddbb2,#fdd5a7,#fdd09c,#fdcc92,#fdcc91,#fdcf98,#fdd3a3,#fdd9ae,#fddeb9,#fde3c3,#fde7cb,#fdead1,#fdebd3,#fdead2,#fde8ce,#fde6c9,#fde1c0,#fddbb3,#fdd5a6,#fdcf9a,#fdca8c,#fec580,#fec278,#fec175,#fec175,#fec278,#fec47c,#fec580,#fec783,#fec784,#fec681,#fec47c,#fec074,#febd6a,#ffb960,#ffb557)"></i><i style="background:linear-gradient(90deg,#ffb350,#ffb351,#ffb454,#ffb658,#ffb85e,#febb66,#febf6f,#fec37a,#fec887,#fdce96,#fdd2a1,#fdd5a6,#fdd6a8,#fdd5a6,#fdd29f,#fdcb90,#fec278,#ffb75b,#ffaa39,#ff9e16,#ff9300,#ff8800,#ff8100,#ff7e00,#ff7f00,#ff8500,#ff8f00,#ff9a0c,#ffa325,#ffac3d,#ffb658,#fec278,#fdcf99,#fddbb3,#fde9cf,#fef4e6,#fffdfc,#e7f8fd,#cceffb,#aae5f9,#87dbf8,#61d3f7,#38cef7,#14c9f7,#00c5f7,#00c0f6,#00bcf5,#00baf4,#00b8f4,#00b8f4,#00baf4,#00bff5,#08c8f7,#4cd0f7,#94dff8,#d3f1fb,#ffffff,#fef3e6,#fdebd4,#fde3c3,#fdddb6,#fdd7ab,#fdd29f,#fdce96,#fdcd94,#fdd09c,#fdd5a6,#fddab1,#fddfbc,#fde4c6,#fde8ce,#fdebd3,#fdebd5,#fdead3,#fde8cf,#fde6c9,#fde1bf,#fddbb3,#fdd5a6,#fdcf9a,#fdca8c,#fec580,#fec278,#fec174,#fec073,#fec175,#fec277,#fec37b,#fec47d,#fec47d,#fec37b,#fec175,#febe6e,#febb65,#ffb75c,#ffb454)"></i><i style="background:linear-gradient(90deg,#ffb24e,#ffb34f,#ffb452,#ffb556,#ffb75b,#feba63,#febd6b,#fec176,#fec682,#fdcb90,#fdd09b,#fdd2a0,#fdd3a2,#fdd2a1,#fdcf99,#fdc989,#fec072,#ffb557,#ffa936,#ff9d15,#ff9200,#ff8800,#ff8200,#ff7e00,#ff8000,#ff8600,#ff9100,#ff9c10,#ffa529,#ffad40,#ffb75b,#fec279,#fdcf99,#fddbb4,#fde9cf,#fef4e6,#fffdfb,#e9f8fd,#cff0fb,#b0e7f9,#8dddf8,#6ad4f7,#41cff7,#1dcbf7,#00c7f7,#00c2f6,#00bef5,#00bcf5,#00baf4,#00baf4,#00bcf5,#00c1f6,#14caf7,#59d2f7,#9de2f9,#d7f3fc,#fffefe,#fef4e6,#fdecd6,#fde5c7,#fddfbb,#fdd9af,#fdd3a3,#fdcf9a,#fdce98,#fdd19f,#fdd6a9,#fddbb4,#fde1bf,#fde5c8,#fde9d0,#fdebd5,#fdecd6,#fdebd3,#fde8ce,#fde5c8,#fde1be,#fddbb2,#fdd5a6,#fdcf9a,#fdca8c,#fec580,#fec277,#fec073,#fec071,#febf71,#fec073,#fec175,#fec277,#fec277,#fec174,#febf6f,#febc69,#ffb961,#ffb659,#ffb452)"></i><i style="background:linear-gradient(90deg,#ffb24d,#ffb24e,#ffb350,#ffb454,#ffb659,#ffb960,#febc68,#fec072,#fec47e,#fdc98a,#fdcd94,#fdd09b,#fdd09d,#fdd09b,#fdcc92,#fec683,#febe6d,#ffb453,#ffa934,#ff9d14,#ff9300,#ff8900,#ff8200,#ff7f00,#ff8100,#ff8800,#ff9300,#ff9d13,#ffa62c,#ffae43,#ffb75c,#fec279,#fdcf99,#fddbb3,#fde9cf,#fef3e6,#fffdfa,#ecf9fd,#d3f1fb,#b6e9f9,#94dff8,#73d6f7,#4bd0f7,#26ccf7,#09c8f7,#00c4f6,#00c1f6,#00bef5,#00bcf5,#00bdf5,#00bff5,#00c4f6,#22cbf7,#66d4f7,#a7e4f9,#dcf4fc,#fffefc,#fef4e7,#fdedd9,#fde7cc,#fde1c0,#fddbb3,#fdd5a6,#fdd19e,#fdd09c,#fdd3a2,#fdd7ab,#fdddb7,#fde2c1,#fde6ca,#fdead1,#fdecd5,#fdecd6,#fdead3,#fde8cd,#fde4c6,#fde0bd,#fddab1,#fdd4a5,#fdcf99,#fdca8c,#fec57f,#fec276,#fec071,#febf6f,#febe6e,#febe6e,#febf70,#febf71,#febf71,#febe6e,#febd6a,#feba64,#ffb85d,#ffb556,#ffb351)"></i><i style="background:linear-gradient(90deg,#ffb24d,#ffb24d,#ffb24f,#ffb452,#ffb557,#ffb85d,#febb65,#febf6f,#fec37a,#fec785,#fdcb8e,#fdcd94,#fdce97,#fdcd94,#fdca8c,#fec47d,#febc69,#ffb350,#ffa833,#ff9d15,#ff9300,#ff8a00,#ff8200,#ff7f00,#ff8100,#ff8900,#ff9400,#ff9e15,#ffa62e,#ffaf45,#ffb85d,#fec278,#fdce98,#fddbb3,#fde9cf,#fef3e5,#fffcf9,#effafe,#d6f2fc,#bdebfa,#9ce1f9,#7bd8f7,#55d2f7,#30cdf7,#14c9f7,#00c7f7,#00c3f6,#00c0f6,#00bff5,#00bff5,#00c2f6,#01c7f7,#30cdf7,#73d6f7,#b0e7f9,#e0f5fc,#fffdfb,#fef4e8,#fdeedb,#fde9d0,#fde4c5,#fdddb7,#fdd7aa,#fdd2a1,#fdd29f,#fdd4a4,#fdd9ae,#fddeb9,#fde3c4,#fde7cc,#fdead2,#fdecd6,#fdecd5,#fdead2,#fde7cc,#fde3c4,#fddfba,#fdd9af,#fdd4a4,#fdcf98,#fdc98b,#fec57e,#fec175,#febf70,#febe6c,#febd6a,#febd6a,#febd6b,#febd6b,#febd6b,#febc69,#febb65,#ffb960,#ffb75a,#ffb454,#ffb350)"></i><i style="background:linear-gradient(90deg,#ffb14c,#ffb14c,#ffb24d,#ffb351,#ffb555,#ffb75b,#feba62,#febd6c,#fec176,#fec580,#fec888,#fdcb8e,#fdcb90,#fdca8d,#fec786,#fec278,#febb65,#ffb24e,#ffa832,#ff9e16,#ff9400,#ff8b00,#ff8300,#ff8000,#ff8200,#ff8a00,#ff9500,#ff9e17,#ffa72f,#ffaf45,#ffb85d,#fec277,#fdce96,#fddab1,#fde8ce,#fef3e4,#fffbf7,#f2fbfe,#daf4fc,#c3edfa,#a3e3f9,#83daf8,#5fd3f7,#3bcef7,#1fcbf7,#0bc8f7,#00c6f7,#00c3f6,#00c1f6,#00c2f6,#00c5f7,#10c9f7,#3fcff7,#7ed9f7,#b9eafa,#e5f7fd,#fffdfa,#fef4e8,#fdefdd,#fdebd5,#fde6c9,#fddfbb,#fdd9ae,#fdd4a4,#fdd3a2,#fdd5a7,#fddab1,#fddfbc,#fde4c6,#fde8ce,#fdebd3,#fdecd5,#fdebd4,#fde9d0,#fde6ca,#fde2c1,#fdddb8,#fdd8ad,#fdd3a3,#fdce97,#fdc989,#fec47d,#fec174,#febe6e,#febd6a,#febc67,#febb66,#febb66,#febb66,#febb66,#feba64,#ffb960,#ffb75c,#ffb557,#ffb452,#ffb24f)"></i><i style="background:linear-gradient(90deg,#ffb14c,#ffb14b,#ffb14c,#ffb350,#ffb454,#ffb659,#ffb960,#febc69,#fec072,#fec37b,#fec683,#fec888,#fdc98a,#fec887,#fec580,#fec174,#feba62,#ffb14c,#ffa832,#ff9f18,#ff9600,#ff8c00,#ff8400,#ff8100,#ff8300,#ff8b00,#ff9600,#ff9f18,#ffa730,#ffaf46,#ffb75c,#fec176,#fdcd94,#fddab0,#fde7cc,#fef2e3,#fffbf6,#f5fcfe,#def5fc,#c9eefa,#abe6f9,#8bddf8,#6bd4f7,#47d0f7,#2cccf7,#18caf7,#07c8f7,#00c6f7,#00c5f7,#00c6f7,#08c8f7,#21cbf7,#4fd1f7,#89dcf8,#c3ecfa,#e9f8fd,#fffcf9,#fef5e9,#fdf0df,#fdedd8,#fde8ce,#fde1bf,#fddab1,#fdd6a8,#fdd5a5,#fdd7aa,#fddbb4,#fde1be,#fde5c8,#fde9cf,#fdebd3,#fdebd5,#fdebd3,#fde8ce,#fde5c7,#fde1be,#fddcb5,#fdd7ab,#fdd2a1,#fdcd95,#fec888,#fec47c,#fec073,#febd6c,#febc67,#feba64,#feba62,#feba62,#ffb961,#ffb961,#ffb95f,#ffb75c,#ffb658,#ffb454,#ffb351,#ffb24f)"></i><i style="background:linear-gradient(90deg,#ffb14c,#ffb14a,#ffb14b,#ffb24e,#ffb452,#ffb556,#ffb85d,#febb66,#febe6e,#fec176,#fec47d,#fec683,#fec784,#fec681,#fec37a,#febf6f,#ffb95f,#ffb14a,#ffa832,#ff9f1a,#ff9703,#ff8d00,#ff8500,#ff8200,#ff8400,#ff8c00,#ff9702,#ff9f1a,#ffa730,#ffaf46,#ffb75b,#fec074,#fdcc91,#fdd9ae,#fde6cb,#fef1e2,#fefaf4,#f8fdfe,#e2f6fd,#cdf0fb,#b3e8f9,#94dff8,#76d7f7,#55d2f7,#3acef7,#27ccf7,#16caf7,#09c8f7,#05c8f7,#0bc8f7,#19caf7,#33cdf7,#60d3f7,#95dff8,#caeefa,#edf9fd,#fffbf7,#fef5e9,#fef1e1,#fdeedb,#fdead2,#fde3c3,#fddcb5,#fdd7ab,#fdd6a8,#fdd8ad,#fdddb6,#fde2c1,#fde6ca,#fde9d0,#fdebd3,#fdebd4,#fdead1,#fde7cc,#fde3c4,#fddfbb,#fddbb2,#fdd6a9,#fdd19f,#fdcd93,#fec887,#fec37b,#fec071,#febd6a,#febb64,#ffb961,#ffb85f,#ffb85e,#ffb85d,#ffb85d,#ffb75b,#ffb658,#ffb555,#ffb352,#ffb34f,#ffb24e)"></i><i style="background:linear-gradient(90deg,#ffb14b,#ffb04a,#ffb14a,#ffb24d,#ffb350,#ffb454,#ffb75a,#feba62,#febd6a,#febf71,#fec277,#fec47d,#fec57e,#fec37b,#fec175,#febd6b,#ffb75c,#ffb049,#ffa833,#ffa01c,#ff9806,#ff8f00,#ff8700,#ff8300,#ff8600,#ff8e00,#ff9805,#ffa01b,#ffa831,#ffaf46,#ffb75b,#fec072,#fdcb8f,#fdd8ac,#fde6c9,#fdf1e0,#fef9f2,#fbfeff,#e6f7fd,#d2f1fb,#bbeafa,#9de2f9,#80d9f8,#63d3f7,#4ad0f7,#37cef7,#27ccf7,#1acaf7,#17caf7,#1ecbf7,#2cccf7,#45d0f7,#72d6f7,#a1e3f9,#d0f0fb,#f1fbfe,#fffbf6,#fef5ea,#fef2e2,#fdefdd,#fdebd5,#fde4c6,#fdddb8,#fdd9ae,#fdd7ab,#fdd9af,#fddeb8,#fde3c2,#fde7cb,#fde9d0,#fdead3,#fdead3,#fde9cf,#fde6ca,#fde2c1,#fddeb8,#fdd9af,#fdd5a6,#fdd19d,#fdcc91,#fec785,#fec37a,#febf70,#febc68,#feba62,#ffb85e,#ffb75b,#ffb75a,#ffb659,#ffb659,#ffb658,#ffb555,#ffb452,#ffb350,#ffb24e,#ffb24d)"></i><i style="background:linear-gradient(90deg,#ffb14a,#ffb049,#ffb049,#ffb14c,#ffb24e,#ffb352,#ffb657,#ffb85f,#febb66,#febd6c,#fec072,#fec277,#fec278,#fec175,#febf70,#febc67,#ffb659,#ffb048,#ffa934,#ffa11f,#ff9a0a,#ff9100,#ff8900,#ff8500,#ff8700,#ff8f00,#ff9908,#ffa11e,#ffa833,#ffaf47,#ffb65a,#febf6f,#fdca8c,#fdd7aa,#fde4c6,#fdf0de,#fef8f0,#ffffff,#ebf9fd,#d7f3fc,#c3ecfa,#a6e4f9,#8bddf8,#72d6f7,#5bd2f7,#48d0f7,#39cef7,#2dcdf7,#2bccf7,#32cdf7,#40cff7,#5ad2f7,#80daf8,#aee6f9,#d7f3fc,#f6fcfe,#fffaf5,#fef5ea,#fef2e3,#fdf0de,#fdedd7,#fde6c9,#fddfbb,#fddab1,#fdd9ae,#fddab1,#fddeba,#fde3c4,#fde7cc,#fde9d1,#fdead2,#fdead1,#fde8cd,#fde5c7,#fde1be,#fddcb5,#fdd8ac,#fdd4a3,#fdd09b,#fdcb8f,#fec784,#fec279,#febf6f,#febb66,#ffb960,#ffb75b,#ffb659,#ffb557,#ffb556,#ffb556,#ffb555,#ffb453,#ffb350,#ffb24e,#ffb14d,#ffb14c)"></i><i style="background:linear-gradient(90deg,#ffb049,#ffb047,#ffb048,#ffb14a,#ffb14c,#ffb24f,#ffb454,#ffb75b,#ffb961,#febc67,#febe6c,#febf71,#fec072,#febf70,#febd6b,#feba63,#ffb556,#ffaf46,#ffa935,#ffa222,#ff9b0d,#ff9300,#ff8b00,#ff8700,#ff8a00,#ff9100,#ff9a0b,#ffa220,#ffa935,#ffb047,#ffb659,#febe6d,#fdc989,#fdd6a8,#fde3c4,#fdefdc,#fef7ed,#fffefc,#effafe,#dcf4fc,#c9eefa,#b0e7f9,#96e0f8,#7fd9f8,#6dd5f7,#5bd2f7,#4dd1f7,#43cff7,#40cff7,#47d0f7,#55d2f7,#6fd5f7,#8fdef8,#bbeafa,#ddf5fc,#fafdff,#fefaf4,#fef5ea,#fef3e4,#fdf0e0,#fdedd9,#fde7cc,#fde0bd,#fddbb3,#fddab0,#fddbb3,#fddfbc,#fde4c5,#fde7cc,#fde9d0,#fdead1,#fde9cf,#fde7cb,#fde3c4,#fddfbb,#fddab2,#fdd6a9,#fdd2a1,#fdcf99,#fdca8e,#fec683,#fec278,#febe6d,#febb64,#ffb85e,#ffb659,#ffb556,#ffb454,#ffb453,#ffb453,#ffb452,#ffb351,#ffb24e,#ffb14c,#ffb14b,#ffb14a)"></i><i style="background:linear-gradient(90deg,#ffb047,#ffaf46,#ffaf46,#ffb048,#ffb14a,#ffb24d,#ffb351,#ffb557,#ffb85d,#feba62,#febc67,#febd6b,#febe6c,#febd6a,#febb66,#ffb85f,#ffb454,#ffaf46,#ffa936,#ffa324,#ff9c11,#ff9500,#ff8e00,#ff8a00,#ff8c00,#ff9300,#ff9b0f,#ffa323,#ffaa37,#ffb048,#ffb658,#febd6c,#fec887,#fdd5a6,#fde2c2,#fdeeda,#fef6eb,#fffdfa,#f4fbfe,#e2f6fc,#cff0fb,#baeafa,#a2e3f9,#8dddf8,#7cd8f7,#6fd5f7,#61d3f7,#59d2f7,#58d2f7,#5ed3f7,#6cd4f7,#80d9f8,#9fe2f9,#c7eefa,#e4f7fd,#feffff,#fef9f2,#fef5ea,#fef3e5,#fef1e0,#fdeeda,#fde8ce,#fde1c0,#fddcb6,#fddbb2,#fddcb5,#fde0bd,#fde4c6,#fde7cd,#fde9d0,#fde9d0,#fde8cd,#fde5c9,#fde2c1,#fddeb8,#fdd9ae,#fdd5a6,#fdd19f,#fdce96,#fdca8c,#fec682,#fec277,#febe6c,#feba63,#ffb75c,#ffb657,#ffb454,#ffb452,#ffb351,#ffb350,#ffb350,#ffb24f,#ffb24d,#ffb14b,#ffb04a,#ffb049)"></i><i style="background:linear-gradient(90deg,#ffaf46,#ffaf45,#ffaf45,#ffaf46,#ffb048,#ffb14a,#ffb24e,#ffb453,#ffb658,#ffb85d,#ffb961,#febb65,#febb66,#febb64,#ffb961,#ffb75a,#ffb351,#ffaf45,#ffaa37,#ffa427,#ff9e15,#ff9703,#ff9000,#ff8d00,#ff8f00,#ff9600,#ff9d13,#ffa427,#ffab39,#ffb049,#ffb658,#febd6a,#fec785,#fdd4a4,#fde1bf,#fdedd8,#fef4e8,#fffbf7,#f8fdfe,#e7f8fd,#d6f2fb,#c4edfa,#aee6f9,#9be1f9,#8bddf8,#7ed9f8,#75d6f7,#71d5f7,#70d5f7,#74d6f7,#7ed9f8,#91def8,#afe7f9,#d0f0fb,#eaf9fd,#fffefd,#fef9f1,#fef5ea,#fef3e5,#fef1e1,#fdeeda,#fde9cf,#fde2c2,#fdddb8,#fddcb4,#fdddb7,#fde0be,#fde4c6,#fde7cc,#fde9cf,#fde8cf,#fde7cb,#fde4c6,#fde1bf,#fddcb5,#fdd7ab,#fdd3a3,#fdd09c,#fdcd94,#fdc98b,#fec581,#fec176,#febd6b,#feba62,#ffb75a,#ffb555,#ffb452,#ffb350,#ffb24f,#ffb24e,#ffb24e,#ffb24d,#ffb14c,#ffb14a,#ffb048,#ffb047)"></i><i style="background:linear-gradient(90deg,#ffae44,#ffae43,#ffae43,#ffae44,#ffaf45,#ffb047,#ffb14b,#ffb24f,#ffb453,#ffb658,#ffb75c,#ffb85f,#ffb960,#ffb95f,#ffb75c,#ffb556,#ffb24e,#ffae44,#ffaa38,#ffa52a,#ff9f19,#ff9908,#ff9300,#ff9000,#ff9200,#ff9804,#ff9e17,#ffa52b,#ffac3c,#ffb14b,#ffb658,#febd6a,#fec783,#fdd3a3,#fde0bd,#fdecd6,#fef3e6,#fefaf4,#fdfeff,#edf9fd,#dcf4fc,#cceffb,#baeafa,#a9e5f9,#9ae1f8,#8eddf8,#86dbf8,#83daf8,#83daf8,#86dbf8,#90def8,#a2e3f9,#bfebfa,#d8f3fc,#f1fbfe,#fffdfa,#fef8f0,#fef5e9,#fef3e5,#fef1e1,#fdeedb,#fde9d0,#fde3c3,#fddeba,#fddcb6,#fddeb8,#fde1bf,#fde4c6,#fde7cc,#fde8ce,#fde8cd,#fde6c9,#fde3c4,#fddfbc,#fddbb2,#fdd6a9,#fdd2a0,#fdcf9a,#fdcc92,#fdc989,#fec580,#fec176,#febd6b,#ffb961,#ffb659,#ffb454,#ffb351,#ffb24f,#ffb24d,#ffb24d,#ffb14c,#ffb14c,#ffb14b,#ffb049,#ffb047,#ffaf46)"></i><i style="background:linear-gradient(90deg,#ffae42,#ffae42,#ffae41,#ffae42,#ffae43,#ffaf45,#ffb047,#ffb14b,#ffb24f,#ffb453,#ffb557,#ffb659,#ffb75a,#ffb75a,#ffb657,#ffb453,#ffb14c,#ffae43,#ffaa39,#ffa62c,#ffa01d,#ff9b0d,#ff9600,#ff9300,#ff9500,#ff990a,#ffa01b,#ffa72e,#ffad3f,#ffb14c,#ffb659,#febd6a,#fec683,#fdd3a2,#fddfbb,#fdebd3,#fef2e3,#fef8f1,#fffefd,#f2fbfe,#e3f6fd,#d3f1fb,#c6edfa,#b7e9fa,#a9e5f9,#9ee2f9,#97e0f8,#95dff8,#95e0f8,#98e0f8,#a2e3f9,#b4e8f9,#cbeffb,#e1f6fc,#f7fcfe,#fffcf8,#fef7ef,#fef5e9,#fef3e5,#fef1e1,#fdeedb,#fdead2,#fde4c5,#fddfbb,#fdddb7,#fddeb9,#fde1bf,#fde4c6,#fde7cb,#fde8cd,#fde7cb,#fde5c7,#fde2c1,#fddeb9,#fddab0,#fdd5a6,#fdd19e,#fdce97,#fdcb90,#fec888,#fec57f,#fec175,#febd6a,#ffb960,#ffb658,#ffb453,#ffb350,#ffb24e,#ffb14c,#ffb14b,#ffb14b,#ffb14b,#ffb14a,#ffb048,#ffaf46,#ffaf44)"></i><i style="background:linear-gradient(90deg,#ffad41,#ffad40,#ffad40,#ffad40,#ffad41,#ffae42,#ffaf44,#ffb047,#ffb14b,#ffb24f,#ffb352,#ffb454,#ffb555,#ffb555,#ffb453,#ffb24f,#ffb049,#ffae43,#ffab3a,#ffa72f,#ffa221,#ff9d12,#ff9806,#ff9600,#ff9704,#ff9b0f,#ffa120,#ffa832,#ffae42,#ffb24e,#ffb75a,#febd6a,#fec682,#fdd2a1,#fddeba,#fdead1,#fef1e1,#fef7ee,#fffcf9,#f9fdfe,#e9f8fd,#dbf4fc,#cff0fb,#c5edfa,#b8e9fa,#ade6f9,#a7e5f9,#a7e4f9,#a8e5f9,#aae5f9,#b4e8f9,#c5edfa,#d6f2fb,#eaf8fd,#fdfeff,#fffbf5,#fef7ed,#fef5e9,#fef3e5,#fef1e1,#fdeedb,#fdead2,#fde4c6,#fde0bd,#fddeb9,#fddfba,#fde1c0,#fde4c6,#fde6ca,#fde7cb,#fde6ca,#fde4c5,#fde1bf,#fdddb7,#fdd8ad,#fdd4a4,#fdd09c,#fdcd95,#fdcb8e,#fec888,#fec57f,#fec175,#febd6a,#ffb960,#ffb658,#ffb453,#ffb24f,#ffb24d,#ffb14b,#ffb14a,#ffb14a,#ffb14a,#ffb049,#ffb047,#ffaf45,#ffae43)"></i><i style="background:linear-gradient(90deg,#ffad40,#ffad3f,#ffad3f,#ffac3e,#ffad3f,#ffad40,#ffae42,#ffae44,#ffb047,#ffb14b,#ffb24d,#ffb24f,#ffb350,#ffb350,#ffb24f,#ffb14c,#ffb047,#ffae42,#ffab3b,#ffa832,#ffa325,#ff9e17,#ff9a0c,#ff9907,#ff9a0a,#ff9d14,#ffa324,#ffa935,#ffae44,#ffb350,#ffb75c,#febd6b,#fec683,#fdd2a0,#fddeb8,#fde8cf,#fdf0df,#fef6eb,#fffaf5,#ffffff,#f0fafe,#e3f6fd,#d7f3fc,#cef0fb,#c6edfa,#bcebfa,#b7e9fa,#b8e9fa,#b9eafa,#bceafa,#c5edfa,#d1f1fb,#e0f5fc,#f2fbfe,#fffefc,#fef9f3,#fef6ec,#fef4e8,#fef3e5,#fef1e1,#fdefdb,#fdebd3,#fde5c7,#fde1be,#fddeba,#fddfbb,#fde1c0,#fde4c5,#fde6c9,#fde6ca,#fde5c8,#fde3c3,#fde0bd,#fddcb4,#fdd7ab,#fdd3a1,#fdcf99,#fdcc93,#fdca8d,#fec887,#fec57f,#fec175,#febd6a,#ffb960,#ffb658,#ffb453,#ffb24f,#ffb14c,#ffb14a,#ffb04a,#ffb049,#ffb049,#ffb048,#ffaf47,#ffaf44,#ffae42)"></i><i style="background:linear-gradient(90deg,#ffad40,#ffad3f,#ffac3e,#ffac3d,#ffac3d,#ffac3e,#ffad40,#ffad41,#ffae44,#ffaf47,#ffb049,#ffb14a,#ffb14c,#ffb14c,#ffb14b,#ffb049,#ffaf46,#ffae42,#ffac3d,#ffa934,#ffa529,#ffa01d,#ff9d12,#ff9b0e,#ff9c10,#ff9f1a,#ffa428,#ffaa38,#ffaf47,#ffb452,#ffb85e,#febe6d,#fec784,#fdd2a0,#fdddb7,#fde7cd,#fdefdc,#fef4e7,#fef9f1,#fffdfa,#f8fdfe,#ebf9fd,#e0f5fc,#d7f3fc,#d0f0fb,#c9eefa,#c6edfa,#c7eefa,#c8eefa,#cbeffa,#d1f1fb,#dcf4fc,#eaf9fd,#fafdff,#fffcf9,#fef8f1,#fef6eb,#fef4e7,#fef3e4,#fef1e1,#fdefdc,#fdebd3,#fde5c8,#fde1bf,#fddfbb,#fddfbc,#fde1c0,#fde3c4,#fde5c7,#fde5c8,#fde4c6,#fde2c1,#fddfba,#fddbb2,#fdd6a9,#fdd29f,#fdce97,#fdcc91,#fdca8c,#fec886,#fec57f,#fec175,#febd6b,#ffb961,#ffb658,#ffb453,#ffb24f,#ffb14c,#ffb14a,#ffb049,#ffb049,#ffb048,#ffb047,#ffaf46,#ffae44,#ffae42)"></i><i style="background:linear-gradient(90deg,#ffad3f,#ffac3e,#ffac3d,#ffab3c,#ffab3c,#ffac3d,#ffac3e,#ffad3f,#ffad41,#ffae44,#ffaf46,#ffaf47,#ffb048,#ffb049,#ffb048,#ffaf46,#ffaf44,#ffae42,#ffac3e,#ffaa37,#ffa62d,#ffa222,#ff9f18,#ff9d14,#ff9e17,#ffa11f,#ffa62c,#ffab3b,#ffb049,#ffb555,#ffb961,#febf70,#fec786,#fdd2a0,#fdddb6,#fde6cb,#fdeeda,#fef3e4,#fef7ed,#fffbf6,#ffffff,#f3fbfe,#e8f8fd,#e0f5fc,#d9f3fc,#d3f1fb,#d1f1fb,#d2f1fb,#d4f2fb,#d6f2fb,#dcf4fc,#e7f7fd,#f4fcfe,#fffefd,#fffaf5,#fef7ef,#fef5ea,#fef4e7,#fef2e4,#fef1e1,#fdefdb,#fdebd4,#fde6c9,#fde2c1,#fde0bc,#fde0bc,#fde1bf,#fde3c3,#fde4c6,#fde4c6,#fde3c4,#fde1bf,#fddeb8,#fddab0,#fdd5a7,#fdd19e,#fdcd95,#fdcb8f,#fdc98b,#fec786,#fec57f,#fec176,#febd6c,#ffb961,#ffb659,#ffb453,#ffb24f,#ffb14c,#ffb04a,#ffb049,#ffb048,#ffb048,#ffaf47,#ffaf46,#ffae44,#ffae42)"></i><i style="background:linear-gradient(90deg,#ffad40,#ffac3e,#ffac3d,#ffab3b,#ffab3b,#ffab3c,#ffac3c,#ffac3d,#ffad3f,#ffad41,#ffae43,#ffae43,#ffaf44,#ffaf46,#ffaf46,#ffaf44,#ffae43,#ffae42,#ffad40,#ffab3a,#ffa831,#ffa427,#ffa11e,#ffa01b,#ffa01d,#ffa324,#ffa730,#ffac3e,#ffb14b,#ffb557,#feba63,#fec073,#fec888,#fdd2a0,#fddcb5,#fde6c9,#fdedd8,#fef1e1,#fef5e9,#fef8f1,#fffcf9,#fbfeff,#f1fbfe,#e9f8fd,#e3f6fd,#ddf4fc,#dbf4fc,#dcf4fc,#def5fc,#e1f6fc,#e7f8fd,#f1fbfe,#fdfeff,#fffcf8,#fef9f1,#fef6ec,#fef5e9,#fef3e6,#fef2e3,#fdf1e0,#fdeedb,#fdebd4,#fde6c9,#fde2c1,#fde0bd,#fde0bc,#fde1bf,#fde2c2,#fde3c4,#fde3c4,#fde2c2,#fde0bd,#fdddb6,#fdd9ae,#fdd4a5,#fdd09c,#fdcd93,#fdcb8e,#fdc98a,#fec785,#fec57f,#fec276,#febe6c,#feba63,#ffb75a,#ffb454,#ffb350,#ffb14c,#ffb04a,#ffb049,#ffb048,#ffb047,#ffaf47,#ffaf46,#ffaf44,#ffae42)"></i><i style="background:linear-gradient(90deg,#ffad40,#ffad3f,#ffac3d,#ffab3b,#ffab3a,#ffab3b,#ffab3b,#ffab3c,#ffac3d,#ffad3f,#ffad40,#ffad41,#ffae42,#ffae43,#ffae44,#ffae43,#ffae43,#ffae43,#ffad41,#ffac3d,#ffa935,#ffa62c,#ffa324,#ffa221,#ffa223,#ffa52a,#ffa934,#ffad41,#ffb24d,#ffb659,#febb66,#fec176,#fdc98a,#fdd2a1,#fddcb4,#fde5c7,#fdecd6,#fdf0de,#fef3e5,#fef6ec,#fefaf4,#fffefc,#f9fdff,#f2fbfe,#ecf9fd,#e7f7fd,#e5f7fd,#e6f7fd,#e9f8fd,#ebf9fd,#f2fbfe,#fbfeff,#fffdfa,#fef9f3,#fef7ed,#fef5ea,#fef4e7,#fef3e4,#fef2e2,#fdf0e0,#fdeedb,#fdebd3,#fde6ca,#fde2c2,#fde0bd,#fde0bc,#fde0be,#fde2c0,#fde2c2,#fde3c2,#fde1c0,#fddfbb,#fddcb4,#fdd8ac,#fdd3a3,#fdcf9a,#fdcc92,#fdca8d,#fdc989,#fec785,#fec57f,#fec277,#febe6e,#feba64,#ffb75c,#ffb556,#ffb351,#ffb14d,#ffb14a,#ffb049,#ffb049,#ffb048,#ffaf47,#ffaf46,#ffaf45,#ffae43)"></i><i style="background:linear-gradient(90deg,#ffad41,#ffad3f,#ffac3d,#ffab3b,#ffab3a,#ffab3b,#ffab3b,#ffab3b,#ffac3c,#ffac3e,#ffad3f,#ffad3f,#ffad40,#ffae42,#ffae42,#ffae42,#ffae43,#ffae44,#ffae43,#ffad40,#ffab39,#ffa831,#ffa52a,#ffa427,#ffa428,#ffa72f,#ffaa38,#ffae44,#ffb350,#ffb75c,#febc69,#fec279,#fdca8c,#fdd2a1,#fddbb3,#fde4c4,#fdead2,#fdeedb,#fef1e0,#fef4e7,#fef7ee,#fffbf6,#fffefd,#fbfeff,#f5fcfe,#f0fafe,#effafe,#f0fafe,#f3fbfe,#f6fcfe,#fcfeff,#fffdfb,#fefaf4,#fef7ee,#fef5ea,#fef4e7,#fef3e5,#fef2e3,#fef1e1,#fdf0df,#fdeeda,#fdead3,#fde6c9,#fde2c2,#fde0be,#fde0bc,#fde0bd,#fde1bf,#fde2c1,#fde2c0,#fde0be,#fddeb9,#fddbb3,#fdd7aa,#fdd3a1,#fdcf98,#fdcc90,#fdca8c,#fdc989,#fec785,#fec580,#fec278,#febf6f,#febb66,#ffb85e,#ffb657,#ffb452,#ffb24e,#ffb14b,#ffb14a,#ffb049,#ffb048,#ffb047,#ffb047,#ffaf46,#ffae44)"></i><i style="background:linear-gradient(90deg,#ffae43,#ffad41,#ffac3e,#ffab3b,#ffab3a,#ffab3b,#ffab3b,#ffab3b,#ffac3c,#ffac3d,#ffac3e,#ffac3e,#ffac3f,#ffad40,#ffad41,#ffae42,#ffae43,#ffaf45,#ffaf45,#ffae43,#ffac3d,#ffa936,#ffa72f,#ffa62c,#ffa62e,#ffa833,#ffac3c,#ffaf47,#ffb452,#ffb85e,#febd6b,#fec37b,#fdca8e,#fdd2a1,#fddab2,#fde2c2,#fde9cf,#fdedd7,#fdefdc,#fef1e2,#fef5e9,#fef8f0,#fffbf7,#fffdfc,#feffff,#fafeff,#f9fdfe,#fafeff,#fdfeff,#fffffe,#fffdfa,#fefaf5,#fef7ef,#fef5e9,#fef3e6,#fef3e5,#fef2e3,#fef1e1,#fdf0df,#fdefdd,#fdedd9,#fdead2,#fde6c9,#fde2c2,#fde0bd,#fddfbc,#fde0bc,#fde0be,#fde1bf,#fde1bf,#fde0bc,#fdddb8,#fddab1,#fdd6a8,#fdd2a0,#fdce97,#fdcb8f,#fdc98b,#fec888,#fec785,#fec580,#fec379,#febf71,#febc68,#ffb960,#ffb659,#ffb454,#ffb24f,#ffb14c,#ffb14b,#ffb14b,#ffb049,#ffb048,#ffb048,#ffb048,#ffaf46)"></i><i style="background:linear-gradient(90deg,#ffaf45,#ffae42,#ffad3f,#ffac3c,#ffab3b,#ffab3b,#ffab3c,#ffab3c,#ffac3c,#ffac3d,#ffac3d,#ffac3d,#ffac3e,#ffad40,#ffad41,#ffae42,#ffae44,#ffaf46,#ffb047,#ffaf46,#ffad41,#ffab3a,#ffa934,#ffa832,#ffa833,#ffaa38,#ffad40,#ffb04a,#ffb555,#ffb961,#febe6e,#fec47d,#fdcb8f,#fdd2a0,#fddab0,#fde1bf,#fde7cb,#fdead3,#fdedd8,#fdefdd,#fef2e3,#fef5ea,#fef8f0,#fffaf5,#fffcf9,#fffdfb,#fffefc,#fffdfb,#fffdfa,#fffbf7,#fefaf4,#fef7ef,#fef5e9,#fef3e5,#fef2e2,#fef1e1,#fef1e0,#fdf0df,#fdefdd,#fdefdc,#fdedd8,#fde9d0,#fde5c7,#fde2c1,#fde0bd,#fddfbb,#fddfbb,#fde0bc,#fde0bd,#fde0bd,#fddfba,#fddcb6,#fdd9af,#fdd5a7,#fdd19e,#fdcd95,#fdcb8e,#fdc98a,#fec888,#fec786,#fec681,#fec37a,#fec072,#febd6a,#feba62,#ffb75b,#ffb555,#ffb351,#ffb24e,#ffb24d,#ffb14c,#ffb14b,#ffb14a,#ffb14a,#ffb049,#ffb048)"></i><i style="background:linear-gradient(90deg,#ffaf46,#ffae43,#ffad40,#ffac3e,#ffac3c,#ffac3c,#ffac3c,#ffac3d,#ffac3d,#ffac3e,#ffac3e,#ffac3d,#ffac3e,#ffad40,#ffae41,#ffae43,#ffaf45,#ffb048,#ffb04a,#ffb049,#ffaf45,#ffac3f,#ffab39,#ffaa37,#ffaa38,#ffac3d,#ffae44,#ffb24d,#ffb657,#feba63,#febf70,#fec57f,#fdcb8f,#fdd2a0,#fdd9ae,#fde0bc,#fde5c7,#fde8ce,#fdead3,#fdedd8,#fdf0de,#fef3e4,#fef5ea,#fef7ee,#fef9f2,#fefaf5,#fffbf5,#fefaf4,#fef9f3,#fef8f1,#fef7ed,#fef5e9,#fef3e4,#fef1e0,#fdf0df,#fdf0de,#fdefdd,#fdefdc,#fdeedb,#fdeed9,#fdecd6,#fde8ce,#fde4c6,#fde1c0,#fddfbc,#fddfba,#fddfba,#fddfbb,#fddfbb,#fddfbb,#fddeb8,#fddbb4,#fdd8ad,#fdd4a5,#fdd09d,#fdcd94,#fdca8d,#fdc98a,#fec888,#fec786,#fec682,#fec37b,#fec174,#febe6c,#febb64,#ffb85d,#ffb658,#ffb453,#ffb350,#ffb24f,#ffb24e,#ffb24d,#ffb14c,#ffb14c,#ffb14b,#ffb04a)"></i><i style="background:linear-gradient(90deg,#ffb048,#ffaf45,#ffae42,#ffad3f,#ffac3e,#ffac3e,#ffac3e,#ffac3e,#ffac3e,#ffac3f,#ffac3e,#ffac3e,#ffad3f,#ffad41,#ffae42,#ffae44,#ffaf46,#ffb04a,#ffb14c,#ffb14c,#ffb049,#ffae43,#ffac3e,#ffab3b,#ffac3d,#ffad41,#ffb048,#ffb351,#ffb75a,#febb65,#fec072,#fec580,#fdcb90,#fdd19f,#fdd8ac,#fddeb9,#fde3c3,#fde6c9,#fde8cd,#fdead2,#fdedd8,#fdf0df,#fef2e4,#fef4e8,#fef6eb,#fef7ee,#fef7ef,#fef7ed,#fef6ec,#fef5ea,#fef4e7,#fef2e3,#fdf0df,#fdefdc,#fdeedb,#fdeedb,#fdeeda,#fdeed9,#fdedd8,#fdecd7,#fdead3,#fde7cb,#fde3c4,#fde1be,#fddfbb,#fddeb9,#fddeb9,#fddeba,#fddeba,#fddeb9,#fdddb7,#fddbb2,#fdd7ab,#fdd4a4,#fdd09c,#fdcc93,#fdca8c,#fdc989,#fec888,#fec886,#fec683,#fec47d,#fec175,#febe6e,#febc67,#ffb960,#ffb75a,#ffb555,#ffb453,#ffb351,#ffb350,#ffb34f,#ffb24f,#ffb24e,#ffb24d,#ffb14c)"></i><i style="background:linear-gradient(90deg,#ffb14a,#ffaf47,#ffae43,#ffad41,#ffad40,#ffad3f,#ffad3f,#ffad40,#ffad40,#ffad40,#ffad40,#ffad40,#ffad40,#ffae42,#ffae43,#ffaf45,#ffb048,#ffb14c,#ffb24e,#ffb24f,#ffb14c,#ffaf47,#ffae42,#ffad40,#ffad41,#ffaf46,#ffb14c,#ffb454,#ffb85e,#febc68,#fec074,#fec681,#fdcb8f,#fdd19e,#fdd7aa,#fddcb5,#fde0be,#fde3c4,#fde5c8,#fde7cc,#fdead3,#fdedd9,#fdf0de,#fef1e1,#fef3e4,#fef4e7,#fef4e8,#fef4e7,#fef3e5,#fef2e4,#fef1e1,#fdf0de,#fdeeda,#fdedd8,#fdecd7,#fdecd7,#fdecd7,#fdecd6,#fdecd5,#fdebd3,#fde9cf,#fde5c8,#fde2c2,#fde0bc,#fddeb9,#fdddb8,#fdddb8,#fddeb8,#fddeb8,#fdddb7,#fddcb5,#fddab0,#fdd7aa,#fdd3a2,#fdcf9a,#fdcc91,#fdca8c,#fdc989,#fec888,#fec887,#fec783,#fec47e,#fec277,#febf70,#febc69,#feba62,#ffb75c,#ffb658,#ffb555,#ffb454,#ffb453,#ffb452,#ffb352,#ffb351,#ffb350,#ffb24e)"></i><i style="background:linear-gradient(90deg,#ffb14c,#ffb048,#ffaf45,#ffae43,#ffad41,#ffad41,#ffad41,#ffad41,#ffae42,#ffad41,#ffad41,#ffad41,#ffae42,#ffae43,#ffaf45,#ffb047,#ffb14a,#ffb24e,#ffb351,#ffb352,#ffb34f,#ffb14b,#ffaf46,#ffaf44,#ffaf46,#ffb14a,#ffb350,#ffb658,#ffb961,#febd6a,#fec175,#fec681,#fdcb8e,#fdd09c,#fdd5a7,#fddab1,#fddeba,#fde1bf,#fde3c2,#fde4c6,#fde7cc,#fdebd3,#fdedd8,#fdeedb,#fdf0de,#fef1e0,#fef1e1,#fdf1e0,#fdf0df,#fdf0de,#fdefdc,#fdedd9,#fdecd6,#fdebd3,#fdead2,#fdead2,#fdead2,#fdead2,#fdead1,#fde9cf,#fde7cb,#fde4c5,#fde1bf,#fddfba,#fdddb7,#fdddb6,#fdddb6,#fdddb7,#fdddb7,#fddcb6,#fddbb3,#fdd9ae,#fdd6a8,#fdd2a1,#fdcf99,#fdcc90,#fdc98b,#fec888,#fec888,#fec887,#fec784,#fec57f,#fec278,#fec072,#febd6b,#febb64,#ffb85e,#ffb75a,#ffb658,#ffb556,#ffb556,#ffb555,#ffb555,#ffb453,#ffb352,#ffb350)"></i><i style="background:linear-gradient(90deg,#ffb24e,#ffb14a,#ffaf47,#ffaf45,#ffae43,#ffae42,#ffae42,#ffae43,#ffae43,#ffae43,#ffae43,#ffae43,#ffae44,#ffaf45,#ffaf46,#ffb049,#ffb14c,#ffb350,#ffb453,#ffb454,#ffb453,#ffb24e,#ffb14a,#ffb048,#ffb04a,#ffb24e,#ffb555,#ffb75c,#feba64,#febe6c,#fec176,#fec681,#fdca8d,#fdcf9a,#fdd4a4,#fdd9ae,#fddcb5,#fddfba,#fde0bd,#fde2c1,#fde4c6,#fde7cc,#fdead1,#fdebd4,#fdedd7,#fdeeda,#fdeedb,#fdeeda,#fdedd9,#fdedd8,#fdecd7,#fdebd3,#fde9d0,#fde8ce,#fde8cd,#fde7cd,#fde8cd,#fde8cd,#fde7cd,#fde7cb,#fde5c7,#fde2c2,#fde0bd,#fdddb8,#fddcb5,#fddcb5,#fddcb5,#fddcb6,#fddcb6,#fddcb4,#fddab1,#fdd8ad,#fdd5a6,#fdd29f,#fdce97,#fdcb8f,#fdc98a,#fec888,#fec888,#fec887,#fec784,#fec57f,#fec379,#fec074,#febe6d,#febb66,#ffb961,#ffb85d,#ffb75a,#ffb659,#ffb658,#ffb658,#ffb657,#ffb556,#ffb454,#ffb352)"></i><i style="background:linear-gradient(90deg,#ffb350,#ffb14b,#ffb048,#ffaf46,#ffaf45,#ffae44,#ffae44,#ffaf45,#ffaf45,#ffaf44,#ffaf44,#ffaf45,#ffaf46,#ffaf46,#ffb048,#ffb14b,#ffb24e,#ffb352,#ffb555,#ffb557,#ffb556,#ffb352,#ffb24e,#ffb14c,#ffb24e,#ffb452,#ffb659,#ffb960,#febc67,#febe6e,#fec277,#fec681,#fdca8c,#fdce98,#fdd3a2,#fdd7aa,#fddab1,#fddcb6,#fddeb9,#fddfbc,#fde1c0,#fde4c6,#fde6ca,#fde7cc,#fde9d0,#fdebd4,#fdebd5,#fdebd3,#fdead2,#fdead2,#fde9d0,#fde8cd,#fde6cb,#fde6c9,#fde5c8,#fde5c7,#fde5c8,#fde5c8,#fde5c8,#fde4c6,#fde3c3,#fde1bf,#fddeba,#fddcb6,#fddbb3,#fddbb3,#fddbb4,#fddcb4,#fddcb4,#fddbb3,#fdd9b0,#fdd7ab,#fdd4a5,#fdd19e,#fdce96,#fdcb8f,#fdc98a,#fec888,#fec887,#fec887,#fec785,#fec580,#fec37a,#fec175,#febf6f,#febc68,#feba63,#ffb95f,#ffb85d,#ffb75b,#ffb75a,#ffb75b,#ffb75a,#ffb658,#ffb555,#ffb453)"></i><i style="background:linear-gradient(90deg,#ffb351,#ffb24d,#ffb04a,#ffb048,#ffaf46,#ffaf45,#ffaf45,#ffaf46,#ffaf46,#ffaf46,#ffaf46,#ffaf47,#ffb048,#ffb048,#ffb04a,#ffb24d,#ffb350,#ffb453,#ffb557,#ffb659,#ffb658,#ffb555,#ffb352,#ffb350,#ffb452,#ffb557,#ffb85d,#feba64,#febd6a,#febf70,#fec278,#fec580,#fdc98a,#fdcd95,#fdd29f,#fdd5a7,#fdd8ad,#fddab1,#fddcb4,#fdddb7,#fddfbb,#fde1c0,#fde3c3,#fde4c5,#fde5c8,#fde7cc,#fde8cd,#fde7cc,#fde7cb,#fde7cb,#fde6ca,#fde5c8,#fde4c5,#fde3c4,#fde3c3,#fde3c3,#fde3c3,#fde3c4,#fde3c4,#fde2c2,#fde1bf,#fddfbb,#fdddb7,#fddbb3,#fddab1,#fddab1,#fddbb2,#fddbb3,#fddbb3,#fddab1,#fdd9ae,#fdd6a9,#fdd4a3,#fdd09d,#fdcd95,#fdcb8e,#fdc989,#fec887,#fec887,#fec887,#fec785,#fec580,#fec37b,#fec176,#febf70,#febd6a,#febb64,#ffb961,#ffb85f,#ffb85d,#ffb85d,#ffb85d,#ffb75c,#ffb659,#ffb557,#ffb555)"></i><i style="background:linear-gradient(90deg,#ffb352,#ffb24e,#ffb14b,#ffb049,#ffb048,#ffaf46,#ffaf47,#ffb048,#ffb048,#ffb047,#ffb048,#ffb049,#ffb049,#ffb04a,#ffb14b,#ffb24e,#ffb352,#ffb555,#ffb659,#ffb75b,#ffb75b,#ffb658,#ffb555,#ffb454,#ffb556,#ffb75b,#ffb961,#febc67,#febe6d,#fec072,#fec278,#fec580,#fdc989,#fdcc93,#fdd09d,#fdd4a3,#fdd6a9,#fdd8ae,#fddab0,#fddbb3,#fdddb6,#fddfba,#fde0bd,#fde1bf,#fde2c2,#fde4c5,#fde4c6,#fde4c5,#fde3c4,#fde4c5,#fde3c4,#fde3c3,#fde2c1,#fde1c0,#fde1bf,#fde1be,#fde1bf,#fde1c0,#fde1bf,#fde0be,#fddfbb,#fdddb8,#fddcb4,#fddab1,#fdd9af,#fddab0,#fddab1,#fddbb2,#fddab2,#fddab0,#fdd8ac,#fdd6a8,#fdd3a2,#fdd09c,#fdcd94,#fdca8d,#fdc989,#fec887,#fec887,#fec886,#fec784,#fec580,#fec37b,#fec276,#febf71,#febd6b,#febb66,#feba63,#ffb960,#ffb85f,#ffb85e,#ffb85f,#ffb85e,#ffb75b,#ffb658,#ffb556)"></i><i style="background:linear-gradient(90deg,#ffb452,#ffb24e,#ffb14c,#ffb14a,#ffb049,#ffb048,#ffb048,#ffb049,#ffb049,#ffb049,#ffb049,#ffb14a,#ffb14b,#ffb14b,#ffb24d,#ffb350,#ffb453,#ffb557,#ffb75a,#ffb85d,#ffb85d,#ffb75b,#ffb659,#ffb658,#ffb75a,#ffb85f,#febb64,#febd6a,#febf70,#fec174,#fec379,#fec57f,#fec887,#fdcc91,#fdcf9a,#fdd2a1,#fdd5a6,#fdd7aa,#fdd8ad,#fdd9af,#fddbb2,#fddcb6,#fdddb8,#fddeb9,#fddfbc,#fde1bf,#fde1c0,#fde1bf,#fde1bf,#fde1bf,#fde1bf,#fde0be,#fde0bd,#fddfbc,#fddfbb,#fddfba,#fddfbb,#fddfbc,#fddfbb,#fddeba,#fdddb7,#fddcb5,#fddab2,#fdd9af,#fdd9ae,#fdd9ae,#fddab0,#fddab1,#fddab0,#fdd9ae,#fdd7ab,#fdd5a6,#fdd2a1,#fdcf9a,#fdcd93,#fdca8d,#fec888,#fec887,#fec886,#fec786,#fec784,#fec580,#fec37b,#fec277,#fec071,#febd6c,#febc67,#feba64,#feba62,#ffb960,#ffb960,#ffb960,#ffb95f,#ffb75c,#ffb659,#ffb556)"></i><i style="background:linear-gradient(90deg,#ffb452,#ffb24f,#ffb14c,#ffb14b,#ffb049,#ffb049,#ffb049,#ffb04a,#ffb14a,#ffb14a,#ffb14b,#ffb14c,#ffb14c,#ffb24d,#ffb24f,#ffb351,#ffb555,#ffb658,#ffb75c,#ffb85e,#ffb85f,#ffb85d,#ffb75c,#ffb75c,#ffb85e,#feba62,#febc68,#febe6e,#fec072,#fec176,#fec37a,#fec57f,#fec786,#fdcb8e,#fdce97,#fdd19e,#fdd3a3,#fdd5a7,#fdd7aa,#fdd8ac,#fdd9af,#fddab1,#fddbb3,#fddcb4,#fdddb7,#fddeba,#fddfbb,#fddfba,#fddeba,#fddfbb,#fddfbb,#fddeba,#fddeb9,#fdddb8,#fdddb7,#fdddb7,#fdddb7,#fdddb8,#fdddb8,#fddcb6,#fddbb4,#fddab2,#fdd9af,#fdd8ad,#fdd8ac,#fdd8ad,#fdd9ae,#fdd9af,#fdd9af,#fdd8ad,#fdd7aa,#fdd4a5,#fdd29f,#fdcf99,#fdcc92,#fdca8c,#fec888,#fec886,#fec786,#fec785,#fec683,#fec57f,#fec37b,#fec277,#fec072,#febe6c,#febc68,#febb65,#feba63,#ffb961,#ffb961,#ffb961,#ffb960,#ffb85d,#ffb659,#ffb556)"></i><i style="background:linear-gradient(90deg,#ffb452,#ffb24f,#ffb24d,#ffb14b,#ffb14a,#ffb04a,#ffb04a,#ffb14a,#ffb14b,#ffb14b,#ffb14c,#ffb24d,#ffb24e,#ffb24f,#ffb350,#ffb453,#ffb556,#ffb659,#ffb85d,#ffb95f,#ffb960,#ffb960,#ffb95f,#ffb960,#feba62,#febb66,#febd6b,#febf71,#fec175,#fec277,#fec37a,#fec57e,#fec784,#fdca8d,#fdcd95,#fdd09c,#fdd2a0,#fdd4a4,#fdd5a7,#fdd6a9,#fdd7ab,#fdd9ae,#fdd9af,#fddab0,#fddbb2,#fddcb5,#fdddb6,#fddcb6,#fddcb6,#fdddb6,#fdddb7,#fdddb6,#fddcb5,#fddcb5,#fddcb4,#fddbb4,#fddcb4,#fddcb4,#fddcb4,#fddbb2,#fddab0,#fdd9af,#fdd8ad,#fdd7ab,#fdd7ab,#fdd8ac,#fdd8ad,#fdd9ae,#fdd9ae,#fdd8ac,#fdd6a8,#fdd4a3,#fdd19e,#fdcf98,#fdcc92,#fdca8c,#fec888,#fec886,#fec785,#fec784,#fec682,#fec57f,#fec37b,#fec276,#fec072,#febe6d,#febc69,#febb66,#feba63,#feba62,#ffb961,#ffb961,#ffb960,#ffb85d,#ffb659,#ffb556)"></i><i style="background:linear-gradient(90deg,#ffb452,#ffb350,#ffb24d,#ffb14c,#ffb14b,#ffb14b,#ffb14b,#ffb14b,#ffb14c,#ffb14c,#ffb24d,#ffb24e,#ffb34f,#ffb350,#ffb452,#ffb454,#ffb657,#ffb75b,#ffb85e,#ffb961,#feba62,#feba62,#feba62,#feba63,#febb66,#febd6a,#febf6f,#fec073,#fec277,#fec379,#fec37b,#fec47e,#fec783,#fdc98b,#fdcc93,#fdcf99,#fdd19e,#fdd3a2,#fdd4a4,#fdd5a6,#fdd6a8,#fdd7aa,#fdd8ac,#fdd8ad,#fdd9af,#fddab1,#fddbb2,#fddbb2,#fddbb2,#fddbb3,#fddbb3,#fddbb3,#fddbb2,#fddab1,#fddab1,#fddab1,#fddab1,#fddab1,#fddab1,#fdd9af,#fdd8ae,#fdd8ac,#fdd7ab,#fdd6a9,#fdd6a9,#fdd7aa,#fdd8ac,#fdd8ad,#fdd8ad,#fdd7ab,#fdd5a7,#fdd3a2,#fdd19d,#fdce97,#fdcc91,#fdca8c,#fec888,#fec886,#fec785,#fec683,#fec681,#fec47e,#fec37a,#fec176,#fec071,#febe6d,#febc69,#febb66,#feba64,#feba63,#feba62,#ffb961,#ffb960,#ffb85d,#ffb65a,#ffb556)"></i><i style="background:linear-gradient(90deg,#ffb452,#ffb350,#ffb24e,#ffb14c,#ffb14c,#ffb14c,#ffb14c,#ffb14c,#ffb24d,#ffb24e,#ffb24f,#ffb350,#ffb351,#ffb452,#ffb454,#ffb556,#ffb659,#ffb85c,#ffb960,#feba62,#feba63,#febb64,#febb65,#febc67,#febd6a,#febe6d,#fec072,#fec176,#fec379,#fec37a,#fec47c,#fec47e,#fec683,#fdc98a,#fdcc91,#fdce97,#fdd09c,#fdd2a0,#fdd3a2,#fdd4a4,#fdd5a6,#fdd6a8,#fdd6a9,#fdd7aa,#fdd7ab,#fdd8ad,#fdd9ae,#fdd9af,#fdd9af,#fdd9af,#fdd9b0,#fdd9b0,#fdd9af,#fdd9af,#fdd9ae,#fdd9ae,#fdd9ae,#fdd9ae,#fdd9ae,#fdd8ac,#fdd7ab,#fdd7aa,#fdd6a9,#fdd6a8,#fdd6a8,#fdd6a9,#fdd7ab,#fdd8ac,#fdd8ac,#fdd7aa,#fdd5a6,#fdd3a1,#fdd09d,#fdce97,#fdcc91,#fdca8c,#fec888,#fec886,#fec784,#fec682,#fec580,#fec47d,#fec37a,#fec176,#fec071,#febe6d,#febd69,#febb66,#febb64,#feba63,#feba62,#ffb961,#ffb960,#ffb85d,#ffb65a,#ffb556)"></i><i style="background:linear-gradient(90deg,#ffb452,#ffb350,#ffb24e,#ffb24d,#ffb14d,#ffb24d,#ffb24d,#ffb24d,#ffb24e,#ffb34f,#ffb351,#ffb351,#ffb453,#ffb454,#ffb556,#ffb657,#ffb75a,#ffb85e,#ffb961,#feba63,#febb65,#febb66,#febc68,#febd6a,#febe6d,#febf71,#fec175,#fec279,#fec37b,#fec47c,#fec47c,#fec47e,#fec682,#fdc989,#fdcb8f,#fdcd95,#fdcf9a,#fdd19e,#fdd2a0,#fdd3a2,#fdd4a4,#fdd4a5,#fdd5a6,#fdd5a7,#fdd6a9,#fdd7aa,#fdd7ab,#fdd8ac,#fdd8ac,#fdd8ac,#fdd8ad,#fdd8ad,#fdd8ac,#fdd8ac,#fdd7ab,#fdd8ac,#fdd8ac,#fdd8ac,#fdd7ab,#fdd7aa,#fdd6a8,#fdd6a7,#fdd5a7,#fdd5a6,#fdd5a7,#fdd6a8,#fdd7aa,#fdd7ab,#fdd7ab,#fdd6a9,#fdd4a5,#fdd2a0,#fdd09c,#fdce96,#fdcc91,#fdca8c,#fdc989,#fec886,#fec784,#fec682,#fec57f,#fec47d,#fec37a,#fec175,#fec071,#febe6d,#febd6a,#febc67,#febb65,#feba63,#feba63,#ffb961,#ffb95f,#ffb85d,#ffb65a,#ffb556)"></i><i style="background:linear-gradient(90deg,#ffb452,#ffb351,#ffb24f,#ffb24e,#ffb24e,#ffb24e,#ffb24e,#ffb24e,#ffb350,#ffb351,#ffb453,#ffb453,#ffb555,#ffb556,#ffb658,#ffb659,#ffb75c,#ffb960,#feba63,#febb65,#febb67,#febc69,#febd6b,#febe6d,#febf70,#fec174,#fec278,#fec37b,#fec47d,#fec47d,#fec47d,#fec57e,#fec682,#fec888,#fdcb8e,#fdcd94,#fdcf99,#fdd09c,#fdd19e,#fdd2a0,#fdd3a2,#fdd3a3,#fdd4a4,#fdd4a5,#fdd5a6,#fdd6a8,#fdd6a9,#fdd6a9,#fdd7aa,#fdd7aa,#fdd7aa,#fdd7aa,#fdd7aa,#fdd6a9,#fdd6a9,#fdd6a9,#fdd6a9,#fdd6a9,#fdd6a8,#fdd5a7,#fdd5a6,#fdd4a5,#fdd4a5,#fdd4a5,#fdd5a5,#fdd5a7,#fdd6a9,#fdd7aa,#fdd7aa,#fdd6a8,#fdd4a4,#fdd2a0,#fdd09b,#fdce96,#fdcc91,#fdca8d,#fdc989,#fec887,#fec784,#fec681,#fec57f,#fec47d,#fec379,#fec175,#fec071,#febe6e,#febd6a,#febc67,#febb65,#feba64,#feba63,#ffb961,#ffb95f,#ffb85d,#ffb65a,#ffb556)"></i><i style="background:linear-gradient(90deg,#ffb453,#ffb351,#ffb350,#ffb24f,#ffb24f,#ffb350,#ffb350,#ffb350,#ffb351,#ffb453,#ffb555,#ffb556,#ffb557,#ffb659,#ffb75a,#ffb75c,#ffb85e,#ffb961,#febb64,#febb66,#febc68,#febd6b,#febe6d,#febf70,#fec073,#fec277,#fec37a,#fec47d,#fec57f,#fec57f,#fec57e,#fec57f,#fec682,#fec887,#fdca8d,#fdcc92,#fdce97,#fdcf9a,#fdd09d,#fdd19e,#fdd2a0,#fdd2a1,#fdd3a2,#fdd3a3,#fdd4a4,#fdd4a5,#fdd5a6,#fdd5a7,#fdd5a7,#fdd5a7,#fdd5a7,#fdd5a7,#fdd5a7,#fdd5a7,#fdd5a7,#fdd5a7,#fdd5a7,#fdd5a7,#fdd5a6,#fdd4a5,#fdd4a4,#fdd4a3,#fdd3a3,#fdd3a3,#fdd4a4,#fdd5a6,#fdd6a7,#fdd6a9,#fdd6a9,#fdd5a7,#fdd4a3,#fdd29f,#fdcf9b,#fdce96,#fdcc91,#fdca8d,#fdc98a,#fec887,#fec784,#fec681,#fec57f,#fec47d,#fec379,#fec175,#fec071,#febe6e,#febd6b,#febc68,#febb66,#febb64,#feba63,#ffb961,#ffb95f,#ffb85d,#ffb75a,#ffb556)"></i><i style="background:linear-gradient(90deg,#ffb453,#ffb452,#ffb351,#ffb350,#ffb350,#ffb351,#ffb352,#ffb452,#ffb454,#ffb556,#ffb557,#ffb658,#ffb659,#ffb75b,#ffb85c,#ffb85e,#ffb960,#feba63,#febb66,#febc68,#febd6a,#febe6d,#febf70,#fec073,#fec176,#fec37a,#fec47d,#fec580,#fec681,#fec581,#fec580,#fec580,#fec682,#fec887,#fdca8c,#fdcc91,#fdcd95,#fdcf98,#fdd09b,#fdd09d,#fdd19e,#fdd19f,#fdd2a0,#fdd3a1,#fdd3a2,#fdd3a3,#fdd4a4,#fdd4a4,#fdd4a5,#fdd4a4,#fdd4a5,#fdd4a5,#fdd4a5,#fdd4a4,#fdd4a4,#fdd4a5,#fdd4a5,#fdd4a4,#fdd4a4,#fdd3a3,#fdd3a2,#fdd3a1,#fdd3a1,#fdd3a2,#fdd3a3,#fdd4a4,#fdd5a6,#fdd6a8,#fdd6a8,#fdd5a6,#fdd3a3,#fdd19f,#fdcf9a,#fdce96,#fdcc91,#fdcb8e,#fdc98a,#fec888,#fec785,#fec682,#fec57f,#fec47d,#fec37a,#fec176,#fec072,#febf6f,#febd6b,#febc68,#febb66,#febb65,#feba64,#feba62,#ffb960,#ffb85d,#ffb75a,#ffb556)"></i><i style="background:linear-gradient(90deg,#ffb454,#ffb453,#ffb452,#ffb352,#ffb452,#ffb453,#ffb454,#ffb555,#ffb556,#ffb658,#ffb659,#ffb75b,#ffb75c,#ffb85e,#ffb95f,#ffb961,#feba63,#febb66,#febc68,#febd6a,#febe6c,#febf6f,#fec072,#fec175,#fec279,#fec47c,#fec57f,#fec682,#fec683,#fec682,#fec681,#fec580,#fec682,#fec887,#fdca8c,#fdcc90,#fdcd94,#fdce97,#fdcf99,#fdd09b,#fdd09c,#fdd19d,#fdd19e,#fdd2a0,#fdd2a1,#fdd2a1,#fdd3a2,#fdd3a2,#fdd3a2,#fdd3a2,#fdd3a2,#fdd3a3,#fdd3a2,#fdd3a2,#fdd3a2,#fdd3a2,#fdd3a3,#fdd3a2,#fdd3a2,#fdd2a1,#fdd2a0,#fdd2a0,#fdd2a0,#fdd2a0,#fdd3a1,#fdd3a3,#fdd4a5,#fdd5a7,#fdd5a7,#fdd4a5,#fdd3a2,#fdd19e,#fdcf9a,#fdce96,#fdcc92,#fdcb8e,#fdca8b,#fec888,#fec785,#fec682,#fec57f,#fec47d,#fec37a,#fec176,#fec072,#febf6f,#febe6c,#febc69,#febc67,#febb66,#febb64,#feba62,#ffb960,#ffb85e,#ffb75a,#ffb557)"></i><i style="background:linear-gradient(90deg,#ffb555,#ffb454,#ffb453,#ffb453,#ffb454,#ffb555,#ffb556,#ffb557,#ffb659,#ffb75a,#ffb75c,#ffb85d,#ffb85f,#ffb960,#feba62,#feba63,#febb65,#febc68,#febd6a,#febd6c,#febe6e,#febf71,#fec174,#fec277,#fec37b,#fec57e,#fec682,#fec784,#fec785,#fec784,#fec682,#fec681,#fec683,#fec886,#fdc98b,#fdcb8f,#fdcc93,#fdcd95,#fdce97,#fdcf99,#fdcf9a,#fdd09c,#fdd09d,#fdd19e,#fdd19f,#fdd29f,#fdd2a0,#fdd2a0,#fdd2a0,#fdd2a0,#fdd2a0,#fdd2a0,#fdd2a0,#fdd2a0,#fdd2a0,#fdd2a0,#fdd2a0,#fdd2a0,#fdd2a0,#fdd29f,#fdd19f,#fdd19e,#fdd19e,#fdd19f,#fdd2a0,#fdd3a2,#fdd4a4,#fdd5a6,#fdd5a6,#fdd4a4,#fdd3a2,#fdd19e,#fdcf9a,#fdce96,#fdcc92,#fdcb8f,#fdca8c,#fdc989,#fec786,#fec683,#fec580,#fec47d,#fec37a,#fec277,#fec073,#febf70,#febe6d,#febd6a,#febc68,#febb66,#febb65,#feba63,#ffb961,#ffb85e,#ffb75b,#ffb658)"></i><i style="background:linear-gradient(90deg,#ffb556,#ffb555,#ffb555,#ffb555,#ffb556,#ffb557,#ffb658,#ffb659,#ffb75b,#ffb85d,#ffb85e,#ffb960,#ffb961,#feba62,#feba64,#febb66,#febc68,#febd6a,#febd6c,#febe6d,#febf70,#fec073,#fec176,#fec379,#fec47d,#fec580,#fec783,#fec786,#fec886,#fec785,#fec683,#fec682,#fec783,#fec887,#fdc98b,#fdcb8f,#fdcc92,#fdcd94,#fdce96,#fdce97,#fdcf99,#fdcf9a,#fdd09b,#fdd09d,#fdd19e,#fdd19e,#fdd19e,#fdd19e,#fdd19e,#fdd19e,#fdd19e,#fdd19e,#fdd19e,#fdd19e,#fdd19e,#fdd19e,#fdd19f,#fdd19e,#fdd19e,#fdd19e,#fdd19d,#fdd09d,#fdd09d,#fdd19d,#fdd19f,#fdd2a1,#fdd4a3,#fdd4a5,#fdd5a5,#fdd4a4,#fdd2a1,#fdd19e,#fdcf9a,#fdce96,#fdcc93,#fdcb90,#fdca8d,#fdc98a,#fec886,#fec783,#fec581,#fec47e,#fec37b,#fec277,#fec174,#febf71,#febe6d,#febd6b,#febc68,#febc67,#febb66,#feba64,#feba62,#ffb85f,#ffb75c,#ffb658)"></i><i style="background:linear-gradient(90deg,#ffb557,#ffb556,#ffb556,#ffb556,#ffb657,#ffb658,#ffb75a,#ffb75c,#ffb85d,#ffb85f,#ffb960,#feba62,#feba63,#febb65,#febb66,#febc68,#febd6a,#febd6b,#febe6d,#febf6f,#fec071,#fec174,#fec277,#fec37b,#fec57e,#fec682,#fec785,#fec887,#fec887,#fec886,#fec784,#fec683,#fec784,#fec887,#fdc98a,#fdcb8e,#fdcc91,#fdcd93,#fdcd95,#fdce96,#fdce97,#fdcf98,#fdcf9a,#fdd09c,#fdd09c,#fdd09c,#fdd09d,#fdd09d,#fdd09d,#fdd09d,#fdd09d,#fdd09d,#fdd09d,#fdd09d,#fdd09d,#fdd09d,#fdd09d,#fdd09d,#fdd09d,#fdd09d,#fdd09c,#fdd09c,#fdd09c,#fdd09c,#fdd19e,#fdd2a0,#fdd3a3,#fdd4a4,#fdd4a5,#fdd4a3,#fdd2a1,#fdd19e,#fdcf9a,#fdce96,#fdcd93,#fdcc90,#fdca8d,#fdc98a,#fec887,#fec784,#fec681,#fec57f,#fec37b,#fec278,#fec175,#fec071,#febe6e,#febd6b,#febc69,#febc68,#febb66,#febb64,#feba62,#ffb95f,#ffb75c,#ffb659)"></i><i style="background:linear-gradient(90deg,#ffb657,#ffb557,#ffb557,#ffb658,#ffb659,#ffb75a,#ffb75b,#ffb85d,#ffb95f,#ffb960,#feba62,#feba64,#febb65,#febb66,#febc68,#febd6a,#febd6b,#febe6d,#febf6f,#febf70,#fec073,#fec175,#fec279,#fec47c,#fec57f,#fec683,#fec886,#fec888,#fec888,#fec887,#fec785,#fec784,#fec784,#fec887,#fdc98a,#fdca8e,#fdcc90,#fdcc92,#fdcd94,#fdcd95,#fdce96,#fdce97,#fdcf99,#fdcf9a,#fdd09b,#fdd09b,#fdd09b,#fdd09b,#fdd09b,#fdd09b,#fdd09b,#fdd09b,#fdd09b,#fdd09b,#fdd09b,#fdd09b,#fdd09c,#fdd09c,#fdd09c,#fdd09b,#fdd09b,#fdcf9b,#fdcf9b,#fdd09b,#fdd19d,#fdd2a0,#fdd3a2,#fdd4a4,#fdd4a4,#fdd3a3,#fdd2a1,#fdd19e,#fdcf9a,#fdce97,#fdcd94,#fdcc91,#fdcb8e,#fdc98b,#fec888,#fec785,#fec682,#fec57f,#fec47c,#fec279,#fec175,#fec072,#febf6f,#febe6c,#febd6a,#febc68,#febc67,#febb65,#feba63,#ffb960,#ffb85d,#ffb75a)"></i></div></div><div class="cb" style="left:1298px;top:562.4px;width:8px;height:409.9px;background:linear-gradient(180deg,#ec0804,#f21503,#f72202,#fb3002,#fd4001,#ff5000,#ff5d00,#ff6a00,#ff7800,#ff8700,#ff9600,#ffa11f,#ffac3e,#ffb85e,#fec47d,#fdd09c,#fddbb3,#fde6ca,#fdf0de,#fef7ef,#ffffff,#e8f8fd,#d1f1fb,#b4e8f9,#92dff8,#70d5f7,#43cff7,#16caf7,#00c2f6,#00b8f4,#00aef2,#00a5f0,#009ced,#0093ea,#008ae7,#0082e4,#0075de,#0068d7,#015dd0,#0352c7,#0548be)"></div><svg width="1350" height="1051" viewBox="0 0 1350 1051" font-family="Liberation Sans, Arial, Helvetica, sans-serif"><path d="M99.4 19.3V430.5H1254.9V19.3" fill="none" stroke="#707070" stroke-width="1.7"/><path d="M99.4 429.80h23.0M1254.9 429.80h-23.0M99.4 407.00h11.5M1254.9 407.00h-11.5M99.4 384.20h11.5M1254.9 384.20h-11.5M99.4 361.40h23.0M1254.9 361.40h-23.0M99.4 338.60h11.5M1254.9 338.60h-11.5M99.4 315.80h11.5M1254.9 315.80h-11.5M99.4 293.00h23.0M1254.9 293.00h-23.0M99.4 270.20h11.5M1254.9 270.20h-11.5M99.4 247.40h11.5M1254.9 247.40h-11.5M99.4 224.60h23.0M1254.9 224.60h-23.0M99.4 201.80h11.5M1254.9 201.80h-11.5M99.4 179.00h11.5M1254.9 179.00h-11.5M99.4 156.20h23.0M1254.9 156.20h-23.0M99.4 133.40h11.5M1254.9 133.40h-11.5M99.4 110.60h11.5M1254.9 110.60h-11.5M99.4 87.80h23.0M1254.9 87.80h-23.0M99.4 65.00h11.5M1254.9 65.00h-11.5M99.4 42.20h11.5M1254.9 42.20h-11.5M99.4 19.40h23.0M1254.9 19.40h-23.0M99.40 430.5v-8.3M115.44 430.5v-4.2M131.48 430.5v-4.2M147.52 430.5v-4.2M163.57 430.5v-4.2M179.61 430.5v-4.2M195.65 430.5v-8.3M211.69 430.5v-4.2M227.73 430.5v-4.2M243.77 430.5v-4.2M259.81 430.5v-4.2M275.86 430.5v-4.2M291.90 430.5v-8.3M307.94 430.5v-4.2M323.98 430.5v-4.2M340.02 430.5v-4.2M356.06 430.5v-4.2M372.11 430.5v-4.2M388.15 430.5v-8.3M404.19 430.5v-4.2M420.23 430.5v-4.2M436.27 430.5v-4.2M452.31 430.5v-4.2M468.35 430.5v-4.2M484.40 430.5v-8.3M500.44 430.5v-4.2M516.48 430.5v-4.2M532.52 430.5v-4.2M548.56 430.5v-4.2M564.60 430.5v-4.2M580.64 430.5v-8.3M596.69 430.5v-4.2M612.73 430.5v-4.2M628.77 430.5v-4.2M644.81 430.5v-4.2M660.85 430.5v-4.2M676.89 430.5v-8.3M692.94 430.5v-4.2M708.98 430.5v-4.2M725.02 430.5v-4.2M741.06 430.5v-4.2M757.10 430.5v-4.2M773.14 430.5v-8.3M789.18 430.5v-4.2M805.23 430.5v-4.2M821.27 430.5v-4.2M837.31 430.5v-4.2M853.35 430.5v-4.2M869.39 430.5v-8.3M885.43 430.5v-4.2M901.47 430.5v-4.2M917.52 430.5v-4.2M933.56 430.5v-4.2M949.60 430.5v-4.2M965.64 430.5v-8.3M981.68 430.5v-4.2M997.72 430.5v-4.2M1013.77 430.5v-4.2M1029.81 430.5v-4.2M1045.85 430.5v-4.2M1061.89 430.5v-8.3M1077.93 430.5v-4.2M1093.97 430.5v-4.2M1110.01 430.5v-4.2M1126.06 430.5v-4.2M1142.10 430.5v-4.2M1158.14 430.5v-8.3M1174.18 430.5v-4.2M1190.22 430.5v-4.2M1206.26 430.5v-4.2M1222.31 430.5v-4.2M1238.35 430.5v-4.2M1254.39 430.5v-8.3M130.90 19.3v11.4M173.35 19.3v11.4M215.80 19.3v11.4M258.25 19.3v11.4M300.70 19.3v11.4M343.15 19.3v11.4M385.60 19.3v11.4M428.05 19.3v11.4M470.50 19.3v11.4M512.95 19.3v11.4M555.40 19.3v11.4M597.85 19.3v11.4M640.30 19.3v11.4M682.75 19.3v11.4M725.20 19.3v11.4M767.65 19.3v11.4M810.10 19.3v11.4M852.55 19.3v11.4M895.00 19.3v11.4M937.45 19.3v11.4M979.90 19.3v11.4M1022.35 19.3v11.4M1064.80 19.3v11.4M1107.25 19.3v11.4M1149.70 19.3v11.4M1192.15 19.3v11.4M1234.60 19.3v11.4" fill="none" stroke="#3a3a3a" stroke-width="1.2"/><g font-size="31"><text x="90.9" y="431.5" text-anchor="end">-90</text><text x="90.9" y="372.6" text-anchor="end">-60</text><text x="90.9" y="304.2" text-anchor="end">-30</text><text x="90.9" y="235.8" text-anchor="end">0</text><text x="90.9" y="167.4" text-anchor="end">30</text><text x="90.9" y="99.0" text-anchor="end">60</text><text x="90.9" y="40.1" text-anchor="end">90</text><text x="99.4" y="469.3" text-anchor="middle">0</text><text x="195.6" y="469.3" text-anchor="middle">30</text><text x="291.9" y="469.3" text-anchor="middle">60</text><text x="388.1" y="469.3" text-anchor="middle">90</text><text x="484.4" y="469.3" text-anchor="middle">120</text><text x="580.6" y="469.3" text-anchor="middle">150</text><text x="676.9" y="469.3" text-anchor="middle">180</text><text x="773.1" y="469.3" text-anchor="middle">210</text><text x="869.4" y="469.3" text-anchor="middle">240</text><text x="965.6" y="469.3" text-anchor="middle">270</text><text x="1061.9" y="469.3" text-anchor="middle">300</text><text x="1158.1" y="469.3" text-anchor="middle">330</text><text x="1254.4" y="469.3" text-anchor="middle">360</text></g><g font-size="26"><text x="152.1" y="18.3" text-anchor="middle">05</text><text x="194.6" y="18.3" text-anchor="middle">04</text><text x="237.0" y="18.3" text-anchor="middle">03</text><text x="279.5" y="18.3" text-anchor="middle">02</text><text x="321.9" y="18.3" text-anchor="middle">01</text><text x="364.4" y="18.3" text-anchor="middle">31</text><text x="406.8" y="18.3" text-anchor="middle">30</text><text x="449.3" y="18.3" text-anchor="middle">29</text><text x="491.7" y="18.3" text-anchor="middle">28</text><text x="534.2" y="18.3" text-anchor="middle">27</text><text x="576.6" y="18.3" text-anchor="middle">26</text><text x="619.1" y="18.3" text-anchor="middle">25</text><text x="661.5" y="18.3" text-anchor="middle">24</text><text x="704.0" y="18.3" text-anchor="middle">23</text><text x="746.4" y="18.3" text-anchor="middle">22</text><text x="788.9" y="18.3" text-anchor="middle">21</text><text x="831.3" y="18.3" text-anchor="middle">20</text><text x="873.8" y="18.3" text-anchor="middle">19</text><text x="916.2" y="18.3" text-anchor="middle">18</text><text x="958.7" y="18.3" text-anchor="middle">17</text><text x="1001.1" y="18.3" text-anchor="middle">16</text><text x="1043.6" y="18.3" text-anchor="middle">15</text><text x="1086.0" y="18.3" text-anchor="middle">14</text><text x="1128.5" y="18.3" text-anchor="middle">13</text><text x="1170.9" y="18.3" text-anchor="middle">12</text><text x="1213.4" y="18.3" text-anchor="middle">11</text></g><text x="676.0" y="502.2" font-size="31" text-anchor="middle">Longitude (degree) - CN#1965</text><text transform="translate(23.5 222.0) rotate(-90)" font-size="31.5" text-anchor="middle">Latitude (degree)</text><text x="132.4" y="66.3" font-size="26">August 2000</text><text x="-2" y="30.7" font-size="42">(a)</text><path d="M107.1 100.1 L109.4 100.3 L111.8 100.6 L114.1 100.8 L116.5 101.0 L118.8 101.3 L121.2 101.5 L123.5 101.7 L125.9 102.0 L128.3 102.2 L130.6 102.4 L133.0 102.6 L135.3 102.8 L137.7 102.9 L140.0 103.1 L142.4 103.2 L144.8 103.3 L147.1 103.4 L149.5 103.5 L151.9 103.5 L154.2 103.5 L156.6 103.5 L158.9 103.4 L161.3 103.3 L163.7 103.2 L166.0 103.0 L168.4 102.8 L170.7 102.7 L173.1 102.4 L175.4 102.2 L177.8 101.9 L180.2 101.7 L182.5 101.4 L184.8 101.1 L187.2 100.8 L189.5 100.5 L191.9 100.2 L194.2 99.8 L196.6 99.5 L198.9 99.2 L201.2 98.9 L203.6 98.5 L205.9 98.2 L208.3 97.9 L210.6 97.6 L212.9 97.3 L215.3 97.0 L217.6 96.7 L220.0 96.4 L222.3 96.1 L224.7 95.8 L227.0 95.5 L229.3 95.2 L231.7 94.9 L234.0 94.7 L236.4 94.4 L238.7 94.1 L241.1 93.8 L243.4 93.6 L245.8 93.3 L248.1 93.0 L250.5 92.7 L252.8 92.5 L255.2 92.2 L257.5 92.0 L259.9 91.8 L262.2 91.5 L264.6 91.3 L266.9 91.1 L269.3 91.0 L271.7 90.8 L274.0 90.7 L276.4 90.6 L278.7 90.5 L281.1 90.4 L283.5 90.3 L285.8 90.2 L288.2 90.1 L290.5 90.1 L292.9 90.0 L295.3 90.0 L297.6 90.0 L300.0 89.9 L302.4 89.9 L304.7 89.9 L307.1 89.9 L309.5 89.9 L311.8 89.9 L314.2 89.9 L316.5 89.9 L318.9 90.0 L321.3 90.1 L323.6 90.2 L326.0 90.3 L328.3 90.4 L330.7 90.5 L333.1 90.7 L335.4 90.9 L337.8 91.1 L340.1 91.3 L342.5 91.5 L344.8 91.7 L347.2 92.0 L349.5 92.3 L351.9 92.5 L354.2 92.8 L356.6 93.1 L358.9 93.4 L361.3 93.7 L363.6 94.0 L366.0 94.4 L368.3 94.7 L370.7 95.1 L373.0 95.4 L375.3 95.8 L377.7 96.2 L380.0 96.6 L382.3 97.0 L384.6 97.5 L387.0 97.9 L389.3 98.4 L391.6 98.9 L393.9 99.5 L396.2 100.1 L398.4 100.7 L400.7 101.3 L403.0 102.0 L405.2 102.7 L407.5 103.4 L409.7 104.1 L412.0 104.9 L414.2 105.7 L416.4 106.5 L418.6 107.3 L420.9 108.2 L423.1 109.0 L425.3 109.8 L427.5 110.7 L429.7 111.6 L431.9 112.4 L434.1 113.3 L436.3 114.2 L438.4 115.1 L440.6 116.0 L442.8 116.9 L445.0 117.9 L447.1 118.8 L449.3 119.8 L451.4 120.8 L453.6 121.8 L455.7 122.9 L457.8 124.0 L459.9 125.1 L461.9 126.3 L464.0 127.4 L466.0 128.7 L468.0 129.9 L470.0 131.2 L471.9 132.5 L473.8 133.9 L475.8 135.3 L477.7 136.7 L479.6 138.1 L481.5 139.5 L483.3 140.9 L485.2 142.3 L487.1 143.8 L489.0 145.2 L490.9 146.6 L492.8 148.0 L494.7 149.4 L496.6 150.9 L498.5 152.3 L500.4 153.8 L502.2 155.3 L504.0 156.8 L505.7 158.4 L507.4 160.0 L509.1 161.7 L510.7 163.4 L512.3 165.1 L513.8 166.9 L515.4 168.7 L516.9 170.5 L518.4 172.4 L519.9 174.2 L521.4 176.1 L522.9 178.0 L524.3 179.9 L525.8 181.8 L527.1 183.7 L528.4 185.7 L529.7 187.7 L530.8 189.7 L531.8 191.8 L532.8 194.0 L533.6 196.2 L534.3 198.4 L535.0 200.7 L535.7 203.0 L536.4 205.2 L537.1 207.5 L537.9 209.7 L538.7 212.0 L539.5 214.2 L540.2 216.4 L540.7 218.7 L541.2 221.1 L541.7 223.4 L542.1 225.7 L542.6 228.0 L543.2 230.3 L543.9 232.6 L544.6 234.8 L545.3 237.1 L546.1 239.3 L547.0 241.5 L547.9 243.7 L548.8 245.9 L549.7 248.1 L550.7 250.2 L551.8 252.3 L552.9 254.4 L554.1 256.4 L555.4 258.4 L556.7 260.4 L558.1 262.3 L559.5 264.2 L561.0 266.0 L562.5 267.8 L564.1 269.6 L565.7 271.4 L567.4 273.1 L569.1 274.7 L570.9 276.2 L572.8 277.5 L574.8 278.8 L576.9 280.0 L578.9 281.2 L580.9 282.5 L582.9 283.7 L584.9 285.0 L586.9 286.2 L589.0 287.4 L591.0 288.6 L593.1 289.6 L595.3 290.6 L597.5 291.5 L599.7 292.4 L601.9 293.2 L604.1 294.0 L606.4 294.8 L608.6 295.5 L610.9 296.2 L613.2 296.8 L615.5 297.4 L617.8 298.0 L620.1 298.5 L622.4 298.9 L624.7 299.3 L627.0 299.7 L629.4 300.0 L631.7 300.3 L634.1 300.6 L636.4 300.9 L638.8 301.1 L641.1 301.3 L643.5 301.5 L645.9 301.6 L648.2 301.8 L650.6 302.0 L652.9 302.1 L655.3 302.3 L657.7 302.4 L660.0 302.5 L662.4 302.7 L664.7 302.8 L667.1 303.0 L669.5 303.1 L671.8 303.2 L674.2 303.4 L676.5 303.5 L678.9 303.6 L681.3 303.8 L683.6 303.9 L686.0 304.1 L688.3 304.2 L690.7 304.4 L693.0 304.5 L695.4 304.7 L697.8 304.9 L700.1 305.1 L702.5 305.3 L704.8 305.5 L707.2 305.7 L709.5 305.9 L711.9 306.2 L714.2 306.4 L716.6 306.7 L718.9 307.0 L721.3 307.3 L723.6 307.7 L725.9 308.1 L728.3 308.5 L730.6 309.0 L732.9 309.5 L735.2 310.0 L737.5 310.6 L739.8 311.2 L742.0 311.9 L744.3 312.7 L746.5 313.5 L748.7 314.3 L750.9 315.2 L753.1 316.1 L755.2 317.1 L757.3 318.2 L759.4 319.3 L761.5 320.4 L763.6 321.5 L765.6 322.7 L767.7 323.9 L769.7 325.1 L771.8 326.3 L773.8 327.5 L775.8 328.7 L777.9 329.9 L779.9 331.1 L781.9 332.3 L784.0 333.5 L786.0 334.7 L788.0 335.9 L790.0 337.1 L792.1 338.4 L794.1 339.6 L796.1 340.9 L798.1 342.1 L800.1 343.4 L802.1 344.6 L804.1 345.8 L806.2 347.1 L808.2 348.2 L810.3 349.4 L812.3 350.5 L814.4 351.6 L816.5 352.7 L818.7 353.7 L820.8 354.7 L823.0 355.6 L825.2 356.6 L827.3 357.5 L829.5 358.4 L831.7 359.2 L833.9 360.1 L836.2 360.9 L838.4 361.7 L840.6 362.5 L842.8 363.3 L845.1 364.1 L847.3 364.8 L849.6 365.5 L851.8 366.1 L854.1 366.8 L856.4 367.4 L858.7 368.0 L861.0 368.6 L863.3 369.1 L865.6 369.6 L867.9 370.1 L870.2 370.6 L872.5 371.1 L874.8 371.5 L877.2 372.0 L879.5 372.4 L881.8 372.8 L884.2 373.2 L886.5 373.6 L888.8 374.0 L891.2 374.3 L893.5 374.7 L895.9 375.0 L898.2 375.3 L900.5 375.7 L902.9 376.0 L905.2 376.3 L907.6 376.6 L909.9 376.8 L912.3 377.1 L914.6 377.4 L917.0 377.6 L919.3 377.8 L921.7 378.1 L924.0 378.3 L926.4 378.5 L928.7 378.6 L931.1 378.8 L933.5 379.0 L935.8 379.1 L938.2 379.2 L940.5 379.3 L942.9 379.4 L945.3 379.5 L947.6 379.6 L950.0 379.6 L952.4 379.7 L954.7 379.7 L957.1 379.7 L959.4 379.7 L961.8 379.7 L964.2 379.6 L966.5 379.6 L968.9 379.5 L971.3 379.4 L973.6 379.3 L976.0 379.1 L978.3 379.0 L980.7 378.8 L983.1 378.6 L985.4 378.4 L987.8 378.2 L990.1 378.0 L992.5 377.7 L994.8 377.5 L997.2 377.2 L999.5 376.9 L1001.9 376.5 L1004.2 376.2 L1006.5 375.9 L1008.9 375.5 L1011.2 375.1 L1013.5 374.7 L1015.9 374.3 L1018.2 373.8 L1020.5 373.4 L1022.8 372.9 L1025.1 372.4 L1027.4 371.9 L1029.7 371.4 L1032.0 370.9 L1034.3 370.3 L1036.6 369.8 L1038.9 369.2 L1041.2 368.6 L1043.5 368.0 L1045.8 367.4 L1048.0 366.8 L1050.3 366.1 L1052.6 365.5 L1054.9 364.8 L1057.1 364.2 L1059.4 363.5 L1061.7 362.8 L1063.9 362.1 L1066.2 361.3 L1068.5 360.6 L1070.7 359.8 L1073.0 359.0 L1075.2 358.2 L1077.4 357.4 L1079.6 356.5 L1081.8 355.6 L1083.9 354.6 L1086.1 353.6 L1088.2 352.6 L1090.3 351.5 L1092.3 350.3 L1094.4 349.2 L1096.4 347.9 L1098.4 346.7 L1100.3 345.4 L1102.3 344.0 L1104.2 342.7 L1106.2 341.3 L1108.1 340.0 L1110.1 338.6 L1112.0 337.3 L1114.0 335.9 L1115.9 334.5 L1117.8 333.1 L1119.6 331.6 L1121.4 330.1 L1123.1 328.5 L1124.7 326.7 L1126.2 324.9 L1127.7 323.1 L1129.1 321.1 L1130.4 319.1 L1131.6 317.1 L1132.8 315.0 L1133.8 312.8 L1134.8 310.7 L1135.7 308.5 L1136.6 306.2 L1137.3 304.0 L1137.9 301.7 L1138.4 299.3 L1138.7 297.0 L1138.9 294.7 L1139.0 292.3 L1138.9 289.9 L1138.7 287.5 L1138.4 285.2 L1137.9 282.8 L1137.2 280.5 L1136.5 278.3 L1135.6 276.1 L1134.6 273.9 L1133.6 271.8 L1132.4 269.8 L1131.1 267.8 L1129.8 265.8 L1128.4 263.9 L1127.0 262.0 L1125.5 260.1 L1124.0 258.2 L1122.5 256.4 L1121.0 254.5 L1119.5 252.7 L1117.9 250.9 L1116.4 249.1 L1114.8 247.4 L1113.3 245.6 L1111.7 243.8 L1110.1 242.1 L1108.5 240.4 L1106.8 238.7 L1105.2 237.0 L1103.5 235.3 L1101.9 233.7 L1100.2 232.0 L1098.5 230.4 L1096.8 228.8 L1095.0 227.1 L1093.3 225.5 L1091.6 224.0 L1089.8 222.4 L1088.0 220.8 L1086.2 219.3 L1084.4 217.7 L1082.6 216.2 L1080.8 214.7 L1078.9 213.2 L1077.1 211.7 L1075.2 210.3 L1073.3 208.8 L1071.5 207.3 L1069.6 205.8 L1067.8 204.3 L1066.0 202.7 L1064.3 201.2 L1062.5 199.5 L1060.9 197.9 L1059.2 196.2 L1057.7 194.4 L1056.2 192.6 L1054.7 190.7 L1053.3 188.8 L1052.0 186.8 L1050.8 184.8 L1049.7 182.7 L1048.6 180.6 L1047.7 178.4 L1046.8 176.2 L1046.0 173.9 L1045.4 171.6 L1044.8 169.2 L1044.4 166.9 L1044.1 164.5 L1043.9 162.2 L1043.9 159.8 L1044.0 157.4 L1044.3 155.1 L1044.8 152.8 L1045.5 150.5 L1046.2 148.3 L1047.2 146.1 L1048.2 143.9 L1049.3 141.8 L1050.5 139.7 L1051.8 137.7 L1053.2 135.7 L1054.6 133.8 L1056.1 131.9 L1057.7 130.1 L1059.3 128.4 L1061.0 126.7 L1062.7 125.1 L1064.5 123.5 L1066.4 122.0 L1068.2 120.6 L1070.2 119.3 L1072.2 118.1 L1074.2 116.9 L1076.3 115.8 L1078.4 114.7 L1080.6 113.7 L1082.8 112.8 L1085.0 111.9 L1087.2 111.0 L1089.4 110.2 L1091.6 109.4 L1093.9 108.6 L1096.2 107.9 L1098.4 107.2 L1100.7 106.5 L1103.0 105.9 L1105.2 105.2 L1107.5 104.6 L1109.8 104.0 L1112.1 103.5 L1114.4 102.9 L1116.7 102.4 L1119.0 101.9 L1121.3 101.4 L1123.6 100.9 L1125.9 100.5 L1128.3 100.0 L1130.6 99.6 L1132.9 99.2 L1135.2 98.8 L1137.6 98.5 L1139.9 98.1 L1142.3 97.8 L1144.6 97.5 L1147.0 97.2 L1149.3 96.9 L1151.7 96.6 L1154.0 96.4 L1156.4 96.2 L1158.7 96.0 L1161.1 95.8 L1163.4 95.7 L1165.8 95.5 L1168.1 95.4 L1170.5 95.4 L1172.9 95.3 L1175.2 95.3 L1177.6 95.2 L1180.0 95.2 L1182.3 95.2 L1184.7 95.3 L1187.1 95.3 L1189.4 95.3 L1191.8 95.3 L1194.1 95.4 L1196.5 95.4 L1198.9 95.5 L1201.2 95.6 L1203.6 95.6 L1206.0 95.7 L1208.3 95.8 L1210.7 95.9 L1213.0 96.0 L1215.4 96.1 L1217.8 96.2 L1220.1 96.4 L1222.5 96.5 L1224.8 96.7 L1227.2 96.8 L1229.5 97.0 L1231.9 97.2 L1234.3 97.4 L1236.6 97.6 L1239.0 97.8 L1241.3 98.1 L1243.7 98.3 L1246.0 98.6 L1246.8 98.7" fill="none" stroke="#000" stroke-width="1.85" stroke-linejoin="round"/><circle cx="541.1" cy="216.3" r="9.1" fill="#000"/><polygon points="741.50,181.30 744.76,191.32 755.29,191.32 746.77,197.51 750.02,207.53 741.50,201.34 732.98,207.53 736.23,197.51 727.71,191.32 738.24,191.32" fill="none" stroke="#000" stroke-width="1.2" stroke-linejoin="miter"/><circle cx="756.2" cy="216.3" r="8.7" fill="none" stroke="#000" stroke-width="1.2"/><g font-size="23"><text x="1311.5" y="50.2">0.3</text><text x="1311.5" y="111.5">0.2</text><text x="1311.5" y="172.8">0.1</text><text x="1311.5" y="233.2">0.0</text><text x="1310.0" y="294.5">-0.1</text><text x="1310.0" y="355.8">-0.2</text><text x="1310.0" y="417.2">-0.3</text></g><rect x="1298.5" y="19.4" width="7.0" height="411.4" fill="none" stroke="#222" stroke-width="1"/><path d="M1305.5 21.0h-3M1305.5 41.4h-3M1305.5 61.8h-3M1305.5 82.2h-3M1305.5 102.6h-3M1305.5 123.0h-3M1305.5 143.4h-3M1305.5 163.8h-3M1305.5 184.2h-3M1305.5 204.6h-3M1305.5 225.0h-3M1305.5 245.4h-3M1305.5 265.8h-3M1305.5 286.2h-3M1305.5 306.6h-3M1305.5 327.0h-3M1305.5 347.4h-3M1305.5 367.8h-3M1305.5 388.2h-3M1305.5 408.6h-3M1305.5 429.0h-3" stroke="#111" stroke-width="1.3"/><text transform="translate(1283 225.7) rotate(-90)" font-size="25.5" text-anchor="middle">Br @ 2.5 R<tspan font-size="17" dy="3">S</tspan><tspan dy="-3"> (Gauss)</tspan></text><path d="M99.4 562.7V973.5H1254.9V562.7" fill="none" stroke="#707070" stroke-width="1.7"/><path d="M99.4 973.86h23.0M1254.9 973.86h-23.0M99.4 951.02h11.5M1254.9 951.02h-11.5M99.4 928.18h11.5M1254.9 928.18h-11.5M99.4 905.34h23.0M1254.9 905.34h-23.0M99.4 882.50h11.5M1254.9 882.50h-11.5M99.4 859.66h11.5M1254.9 859.66h-11.5M99.4 836.82h23.0M1254.9 836.82h-23.0M99.4 813.98h11.5M1254.9 813.98h-11.5M99.4 791.14h11.5M1254.9 791.14h-11.5M99.4 768.30h23.0M1254.9 768.30h-23.0M99.4 745.46h11.5M1254.9 745.46h-11.5M99.4 722.62h11.5M1254.9 722.62h-11.5M99.4 699.78h23.0M1254.9 699.78h-23.0M99.4 676.94h11.5M1254.9 676.94h-11.5M99.4 654.10h11.5M1254.9 654.10h-11.5M99.4 631.26h23.0M1254.9 631.26h-23.0M99.4 608.42h11.5M1254.9 608.42h-11.5M99.4 585.58h11.5M1254.9 585.58h-11.5M99.4 562.74h23.0M1254.9 562.74h-23.0M99.40 973.5v-8.3M131.48 973.5v-4.2M163.57 973.5v-4.2M195.65 973.5v-4.2M227.73 973.5v-4.2M259.81 973.5v-4.2M291.90 973.5v-8.3M323.98 973.5v-4.2M356.06 973.5v-4.2M388.15 973.5v-4.2M420.23 973.5v-4.2M452.31 973.5v-4.2M484.40 973.5v-8.3M516.48 973.5v-4.2M548.56 973.5v-4.2M580.64 973.5v-4.2M612.73 973.5v-4.2M644.81 973.5v-4.2M676.89 973.5v-8.3M708.98 973.5v-4.2M741.06 973.5v-4.2M773.14 973.5v-4.2M805.23 973.5v-4.2M837.31 973.5v-4.2M869.39 973.5v-8.3M901.47 973.5v-4.2M933.56 973.5v-4.2M965.64 973.5v-4.2M997.72 973.5v-4.2M1029.81 973.5v-4.2M1061.89 973.5v-8.3M1093.97 973.5v-4.2M1126.06 973.5v-4.2M1158.14 973.5v-4.2M1190.22 973.5v-4.2M1222.31 973.5v-4.2M1254.39 973.5v-8.3M121.60 562.7v11.4M163.98 562.7v11.4M206.36 562.7v11.4M248.74 562.7v11.4M291.12 562.7v11.4M333.50 562.7v11.4M375.88 562.7v11.4M418.26 562.7v11.4M460.64 562.7v11.4M503.02 562.7v11.4M545.40 562.7v11.4M587.78 562.7v11.4M630.16 562.7v11.4M672.54 562.7v11.4M714.92 562.7v11.4M757.30 562.7v11.4M799.68 562.7v11.4M842.06 562.7v11.4M884.44 562.7v11.4M926.82 562.7v11.4M969.20 562.7v11.4M1011.58 562.7v11.4M1053.96 562.7v11.4M1096.34 562.7v11.4M1138.72 562.7v11.4M1181.10 562.7v11.4M1223.48 562.7v11.4" fill="none" stroke="#3a3a3a" stroke-width="1.2"/><g font-size="31"><text x="90.9" y="975.6" text-anchor="end">-90</text><text x="90.9" y="916.5" text-anchor="end">-60</text><text x="90.9" y="848.0" text-anchor="end">-30</text><text x="90.9" y="779.5" text-anchor="end">0</text><text x="90.9" y="711.0" text-anchor="end">30</text><text x="90.9" y="642.5" text-anchor="end">60</text><text x="90.9" y="583.4" text-anchor="end">90</text><text x="99.4" y="1012.3" text-anchor="middle">0</text><text x="291.9" y="1012.3" text-anchor="middle">60</text><text x="484.4" y="1012.3" text-anchor="middle">120</text><text x="676.9" y="1012.3" text-anchor="middle">180</text><text x="869.4" y="1012.3" text-anchor="middle">240</text><text x="1061.9" y="1012.3" text-anchor="middle">300</text><text x="1254.4" y="1012.3" text-anchor="middle">360</text></g><g font-size="26"><text x="100.4" y="558.3" text-anchor="middle">27</text><text x="142.8" y="558.3" text-anchor="middle">26</text><text x="185.2" y="558.3" text-anchor="middle">25</text><text x="227.6" y="558.3" text-anchor="middle">24</text><text x="269.9" y="558.3" text-anchor="middle">23</text><text x="312.3" y="558.3" text-anchor="middle">22</text><text x="354.7" y="558.3" text-anchor="middle">21</text><text x="397.1" y="558.3" text-anchor="middle">20</text><text x="439.5" y="558.3" text-anchor="middle">19</text><text x="481.8" y="558.3" text-anchor="middle">18</text><text x="524.2" y="558.3" text-anchor="middle">17</text><text x="566.6" y="558.3" text-anchor="middle">16</text><text x="609.0" y="558.3" text-anchor="middle">15</text><text x="651.4" y="558.3" text-anchor="middle">14</text><text x="693.7" y="558.3" text-anchor="middle">13</text><text x="736.1" y="558.3" text-anchor="middle">12</text><text x="778.5" y="558.3" text-anchor="middle">11</text><text x="820.9" y="558.3" text-anchor="middle">10</text><text x="863.3" y="558.3" text-anchor="middle">09</text><text x="905.6" y="558.3" text-anchor="middle">08</text><text x="948.0" y="558.3" text-anchor="middle">07</text><text x="990.4" y="558.3" text-anchor="middle">06</text><text x="1032.8" y="558.3" text-anchor="middle">05</text><text x="1075.2" y="558.3" text-anchor="middle">04</text><text x="1117.5" y="558.3" text-anchor="middle">03</text><text x="1159.9" y="558.3" text-anchor="middle">02</text><text x="1202.3" y="558.3" text-anchor="middle">01</text></g><text x="676.0" y="1045.2" font-size="31" text-anchor="middle">Longitude (degree) - CR#1968</text><text transform="translate(23.5 765.7) rotate(-90)" font-size="31.5" text-anchor="middle">Latitude (degree)</text><text x="132.4" y="607.8" font-size="26">October 2000</text><text x="-2" y="572.1" font-size="42">(b)</text><path d="M107.1 712.1 L109.5 711.4 L111.9 710.7 L114.3 710.2 L116.7 709.8 L119.1 709.5 L121.6 709.3 L124.0 709.2 L126.5 709.1 L128.9 709.2 L131.4 709.3 L133.8 709.6 L136.3 709.9 L138.7 710.2 L141.1 710.7 L143.6 711.2 L146.0 711.8 L148.3 712.5 L150.7 713.3 L152.9 714.1 L155.2 715.1 L157.4 716.2 L159.5 717.5 L161.6 718.8 L163.6 720.2 L165.6 721.7 L167.5 723.3 L169.3 725.0 L171.1 726.7 L172.8 728.5 L174.4 730.3 L175.9 732.2 L177.4 734.2 L178.9 736.2 L180.3 738.2 L181.6 740.3 L182.9 742.3 L184.2 744.4 L185.5 746.5 L186.8 748.7 L188.0 750.8 L189.3 752.9 L190.5 755.0 L191.7 757.1 L192.9 759.3 L194.2 761.4 L195.4 763.5 L196.6 765.6 L197.9 767.8 L199.1 769.9 L200.4 772.0 L201.7 774.0 L203.1 776.1 L204.5 778.1 L205.9 780.1 L207.4 782.1 L209.0 784.0 L210.7 785.8 L212.4 787.6 L214.2 789.3 L216.1 790.9 L218.1 792.3 L220.1 793.7 L222.3 794.9 L224.5 796.0 L226.7 796.9 L229.1 797.7 L231.5 798.3 L233.9 798.8 L236.3 799.1 L238.8 799.4 L241.3 799.4 L243.7 799.4 L246.2 799.3 L248.6 799.0 L251.1 798.7 L253.5 798.3 L255.9 797.8 L258.3 797.1 L260.6 796.4 L263.0 795.7 L265.3 794.8 L267.6 793.9 L269.8 792.9 L272.0 791.8 L274.2 790.7 L276.4 789.5 L278.5 788.2 L280.5 786.8 L282.5 785.4 L284.5 783.9 L286.4 782.4 L288.3 780.8 L290.1 779.1 L291.8 777.3 L293.5 775.5 L295.1 773.7 L296.7 771.8 L298.2 769.8 L299.6 767.8 L300.9 765.7 L302.2 763.6 L303.4 761.5 L304.5 759.3 L305.6 757.1 L306.6 754.8 L307.5 752.5 L308.4 750.2 L309.2 747.9 L310.0 745.6 L310.7 743.2 L311.4 740.9 L312.1 738.5 L312.7 736.1 L313.3 733.8 L314.0 731.4 L314.6 729.0 L315.3 726.7 L316.0 724.3 L316.8 722.0 L317.6 719.7 L318.5 717.4 L319.5 715.1 L320.6 712.9 L321.7 710.8 L322.9 708.6 L324.2 706.5 L325.4 704.4 L326.7 702.2 L328.0 700.1 L329.3 698.1 L330.7 696.1 L332.2 694.1 L333.8 692.2 L335.5 690.5 L337.2 688.7 L339.1 687.1 L341.0 685.5 L342.9 684.0 L344.9 682.6 L347.0 681.3 L349.1 680.0 L351.2 678.7 L353.4 677.5 L355.5 676.4 L357.7 675.3 L359.9 674.2 L362.1 673.1 L364.4 672.1 L366.6 671.0 L368.9 670.1 L371.1 669.1 L373.4 668.2 L375.7 667.4 L378.1 666.6 L380.4 666.0 L382.8 665.3 L385.2 664.8 L387.6 664.3 L390.0 663.9 L392.4 663.5 L394.9 663.1 L397.3 662.8 L399.8 662.5 L402.2 662.3 L404.7 662.0 L407.1 661.8 L409.6 661.6 L412.0 661.4 L414.5 661.2 L416.9 661.1 L419.4 660.9 L421.8 660.8 L424.3 660.8 L426.7 660.7 L429.2 660.7 L431.6 660.7 L434.1 660.7 L436.6 660.7 L439.0 660.8 L441.5 660.9 L443.9 661.0 L446.4 661.2 L448.8 661.4 L451.3 661.7 L453.7 662.0 L456.2 662.3 L458.6 662.7 L461.0 663.1 L463.4 663.5 L465.8 664.0 L468.2 664.6 L470.6 665.2 L473.0 665.8 L475.3 666.5 L477.7 667.2 L480.0 668.0 L482.4 668.8 L484.7 669.6 L487.0 670.5 L489.3 671.4 L491.5 672.4 L493.8 673.4 L496.0 674.5 L498.2 675.6 L500.4 676.7 L502.5 677.9 L504.7 679.1 L506.8 680.4 L508.9 681.7 L510.9 683.0 L512.9 684.4 L514.9 685.9 L516.9 687.4 L518.8 689.0 L520.6 690.6 L522.5 692.2 L524.3 693.9 L526.0 695.6 L527.7 697.4 L529.3 699.3 L530.9 701.1 L532.5 703.1 L533.9 705.0 L535.3 707.1 L536.7 709.1 L538.0 711.2 L539.2 713.4 L540.3 715.6 L541.3 717.8 L542.3 720.1 L543.1 722.4 L543.9 724.7 L544.6 727.0 L545.3 729.4 L545.8 731.8 L546.3 734.2 L546.6 736.7 L547.0 739.1 L547.2 741.6 L547.4 744.0 L547.5 746.5 L547.6 748.9 L547.6 751.4 L547.6 753.8 L547.6 756.3 L547.5 758.7 L547.4 761.2 L547.2 763.7 L547.0 766.1 L546.8 768.5 L546.6 771.0 L546.4 773.4 L546.1 775.9 L545.8 778.3 L545.5 780.8 L545.1 783.2 L544.8 785.6 L544.4 788.0 L544.1 790.5 L543.7 792.9 L543.3 795.3 L542.9 797.7 L542.5 800.2 L542.1 802.6 L541.7 805.0 L541.4 807.4 L541.0 809.9 L540.7 812.3 L540.4 814.8 L540.1 817.2 L539.9 819.7 L539.7 822.1 L539.6 824.6 L539.5 827.0 L539.5 829.5 L539.6 831.9 L539.8 834.4 L540.1 836.8 L540.5 839.2 L541.0 841.7 L541.6 844.1 L542.2 846.4 L543.0 848.8 L543.8 851.1 L544.8 853.4 L545.8 855.7 L546.9 857.9 L548.1 860.1 L549.3 862.2 L550.7 864.3 L552.1 866.3 L553.6 868.2 L555.2 870.1 L556.8 871.9 L558.6 873.7 L560.4 875.3 L562.3 876.9 L564.2 878.4 L566.2 879.8 L568.2 881.2 L570.3 882.5 L572.5 883.8 L574.6 885.0 L576.8 886.2 L579.0 887.4 L581.2 888.5 L583.4 889.5 L585.7 890.5 L587.9 891.5 L590.2 892.5 L592.5 893.4 L594.8 894.3 L597.1 895.1 L599.4 895.9 L601.7 896.7 L604.1 897.4 L606.4 898.1 L608.8 898.8 L611.2 899.4 L613.5 900.0 L615.9 900.5 L618.3 901.0 L620.8 901.5 L623.2 901.9 L625.6 902.4 L628.0 902.7 L630.5 903.1 L632.9 903.4 L635.4 903.7 L637.8 903.9 L640.3 904.2 L642.7 904.4 L645.2 904.5 L647.6 904.7 L650.1 904.8 L652.5 904.9 L655.0 905.0 L657.4 905.0 L659.9 905.0 L662.4 905.0 L664.8 905.0 L667.3 904.9 L669.7 904.8 L672.2 904.7 L674.6 904.6 L677.1 904.4 L679.5 904.2 L682.0 904.0 L684.4 903.8 L686.9 903.5 L689.3 903.2 L691.7 902.9 L694.2 902.6 L696.6 902.2 L699.0 901.8 L701.5 901.4 L703.9 901.0 L706.3 900.5 L708.7 900.0 L711.1 899.5 L713.5 898.9 L715.9 898.3 L718.2 897.7 L720.6 897.0 L723.0 896.3 L725.3 895.6 L727.6 894.8 L730.0 894.0 L732.3 893.2 L734.6 892.3 L736.9 891.4 L739.1 890.4 L741.4 889.4 L743.6 888.3 L745.8 887.2 L748.0 886.0 L750.1 884.8 L752.2 883.4 L754.2 882.0 L756.2 880.6 L758.1 879.0 L759.9 877.3 L761.6 875.6 L763.3 873.7 L764.8 871.8 L766.3 869.8 L767.7 867.8 L769.0 865.7 L770.2 863.5 L771.3 861.3 L772.3 859.1 L773.2 856.8 L774.1 854.5 L774.8 852.2 L775.5 849.8 L776.2 847.4 L776.8 845.0 L777.4 842.6 L777.9 840.2 L778.4 837.8 L778.9 835.4 L779.4 833.0 L779.8 830.6 L780.3 828.2 L780.8 825.8 L781.3 823.4 L781.8 821.0 L782.3 818.6 L782.8 816.2 L783.5 813.8 L784.1 811.4 L784.8 809.1 L785.6 806.8 L786.4 804.5 L787.3 802.2 L788.2 799.9 L789.2 797.6 L790.2 795.4 L791.2 793.1 L792.2 790.9 L793.2 788.6 L794.2 786.4 L795.2 784.2 L796.2 781.9 L797.2 779.7 L798.3 777.5 L799.3 775.3 L800.4 773.0 L801.5 770.8 L802.6 768.6 L803.7 766.4 L804.8 764.3 L805.9 762.1 L807.1 759.9 L808.3 757.8 L809.6 755.7 L810.8 753.6 L812.1 751.5 L813.4 749.4 L814.6 747.3 L815.9 745.2 L817.2 743.1 L818.5 741.0 L819.8 738.9 L821.1 736.8 L822.4 734.7 L823.8 732.7 L825.1 730.6 L826.5 728.6 L827.9 726.6 L829.4 724.7 L830.9 722.7 L832.4 720.8 L834.0 718.9 L835.6 717.0 L837.1 715.2 L838.8 713.3 L840.4 711.4 L842.0 709.6 L843.6 707.7 L845.2 705.8 L846.8 704.0 L848.4 702.1 L850.0 700.3 L851.7 698.5 L853.5 696.8 L855.2 695.1 L857.1 693.4 L858.9 691.9 L860.9 690.4 L862.8 688.9 L864.8 687.4 L866.8 686.0 L868.8 684.6 L870.8 683.1 L872.8 681.7 L874.8 680.3 L876.9 678.9 L878.9 677.6 L881.0 676.2 L883.1 675.0 L885.2 673.8 L887.4 672.6 L889.6 671.5 L891.8 670.5 L894.1 669.5 L896.4 668.6 L898.7 667.7 L901.0 667.0 L903.4 666.3 L905.7 665.6 L908.1 665.0 L910.5 664.5 L912.9 663.9 L915.3 663.5 L917.7 663.0 L920.1 662.6 L922.6 662.2 L925.0 661.8 L927.4 661.4 L929.9 661.0 L932.3 660.6 L934.7 660.2 L937.2 659.8 L939.6 659.5 L942.0 659.1 L944.5 658.7 L946.9 658.3 L949.3 658.0 L951.8 657.6 L954.2 657.3 L956.6 657.0 L959.1 656.8 L961.5 656.5 L964.0 656.3 L966.4 656.2 L968.8 656.0 L971.3 656.0 L973.7 655.9 L976.2 655.9 L978.6 655.9 L981.1 656.0 L983.5 656.1 L986.0 656.2 L988.5 656.4 L990.9 656.6 L993.4 656.8 L995.8 657.1 L998.3 657.3 L1000.7 657.6 L1003.1 658.0 L1005.6 658.3 L1008.0 658.7 L1010.5 659.1 L1012.9 659.5 L1015.3 659.9 L1017.7 660.4 L1020.1 660.8 L1022.5 661.3 L1024.9 661.9 L1027.3 662.4 L1029.7 663.0 L1032.1 663.6 L1034.5 664.3 L1036.8 665.0 L1039.2 665.7 L1041.5 666.5 L1043.8 667.3 L1046.1 668.2 L1048.4 669.1 L1050.7 670.1 L1052.9 671.1 L1055.2 672.1 L1057.4 673.2 L1059.6 674.3 L1061.7 675.5 L1063.8 676.8 L1065.9 678.1 L1068.0 679.4 L1070.0 680.8 L1072.0 682.3 L1073.9 683.8 L1075.9 685.3 L1077.7 686.9 L1079.6 688.5 L1081.4 690.1 L1083.2 691.8 L1085.0 693.5 L1086.8 695.2 L1088.5 697.0 L1090.2 698.8 L1091.8 700.6 L1093.4 702.5 L1095.0 704.3 L1096.5 706.3 L1098.0 708.2 L1099.4 710.2 L1100.8 712.3 L1102.1 714.4 L1103.3 716.5 L1104.5 718.6 L1105.7 720.8 L1106.8 723.0 L1107.8 725.2 L1108.8 727.5 L1109.8 729.8 L1110.7 732.1 L1111.6 734.3 L1112.5 736.6 L1113.5 738.9 L1114.4 741.1 L1115.4 743.4 L1116.5 745.6 L1117.7 747.7 L1118.9 749.8 L1120.2 751.9 L1121.5 754.0 L1122.8 756.1 L1124.1 758.2 L1125.4 760.3 L1126.6 762.4 L1127.9 764.6 L1129.1 766.7 L1130.4 768.8 L1131.8 770.8 L1133.3 772.8 L1134.9 774.6 L1136.6 776.3 L1138.5 777.8 L1140.5 779.3 L1142.6 780.6 L1144.8 781.8 L1147.1 782.9 L1149.4 783.9 L1151.7 784.8 L1154.0 785.6 L1156.4 786.3 L1158.8 786.9 L1161.2 787.4 L1163.6 787.8 L1166.1 788.0 L1168.5 788.2 L1171.0 788.2 L1173.5 788.1 L1175.9 787.9 L1178.4 787.5 L1180.8 787.0 L1183.1 786.3 L1185.4 785.5 L1187.7 784.6 L1189.9 783.5 L1192.1 782.3 L1194.2 781.1 L1196.3 779.7 L1198.4 778.3 L1200.4 776.9 L1202.3 775.4 L1204.2 773.8 L1206.1 772.2 L1207.9 770.5 L1209.6 768.8 L1211.3 767.0 L1213.0 765.2 L1214.6 763.3 L1216.1 761.4 L1217.6 759.5 L1219.0 757.5 L1220.4 755.5 L1221.8 753.4 L1223.2 751.4 L1224.5 749.3 L1225.8 747.2 L1227.1 745.1 L1228.4 743.0 L1229.7 741.0 L1231.0 738.9 L1232.3 736.8 L1233.7 734.8 L1235.1 732.8 L1236.6 730.8 L1238.1 728.8 L1239.6 726.9 L1241.2 725.1 L1242.9 723.3 L1244.6 721.5 L1246.4 719.8 L1247.0 719.3" fill="none" stroke="#000" stroke-width="1.85" stroke-linejoin="round"/><circle cx="515.5" cy="752.2" r="9.2" fill="#000"/><circle cx="707.2" cy="752.3" r="8.9" fill="none" stroke="#000" stroke-width="1.2"/><polygon points="863.40,746.10 866.68,756.19 877.29,756.19 868.70,762.42 871.98,772.51 863.40,766.28 854.82,772.51 858.10,762.42 849.51,756.19 860.12,756.19" fill="none" stroke="#000" stroke-width="1.2" stroke-linejoin="miter"/><g font-size="23"><text x="1311.5" y="579.6">0.4</text><text x="1311.5" y="679.8">0.2</text><text x="1311.5" y="776.0">0.0</text><text x="1310.0" y="876.2">-0.2</text><text x="1310.0" y="972.2">-0.4</text></g><rect x="1298.5" y="562.4" width="7.0" height="409.9" fill="none" stroke="#222" stroke-width="1"/><path d="M1305.5 571.4h-3M1305.5 604.1h-3M1305.5 636.9h-3M1305.5 669.6h-3M1305.5 702.3h-3M1305.5 735.1h-3M1305.5 767.8h-3M1305.5 800.5h-3M1305.5 833.3h-3M1305.5 866.0h-3M1305.5 898.7h-3M1305.5 931.4h-3M1305.5 964.2h-3" stroke="#111" stroke-width="1.3"/><text transform="translate(1283 769.1) rotate(-90)" font-size="25.5" text-anchor="middle">Br @ 2.5 R<tspan font-size="17" dy="3">S</tspan><tspan dy="-3"> (Gauss)</tspan></text></svg></body></html>
